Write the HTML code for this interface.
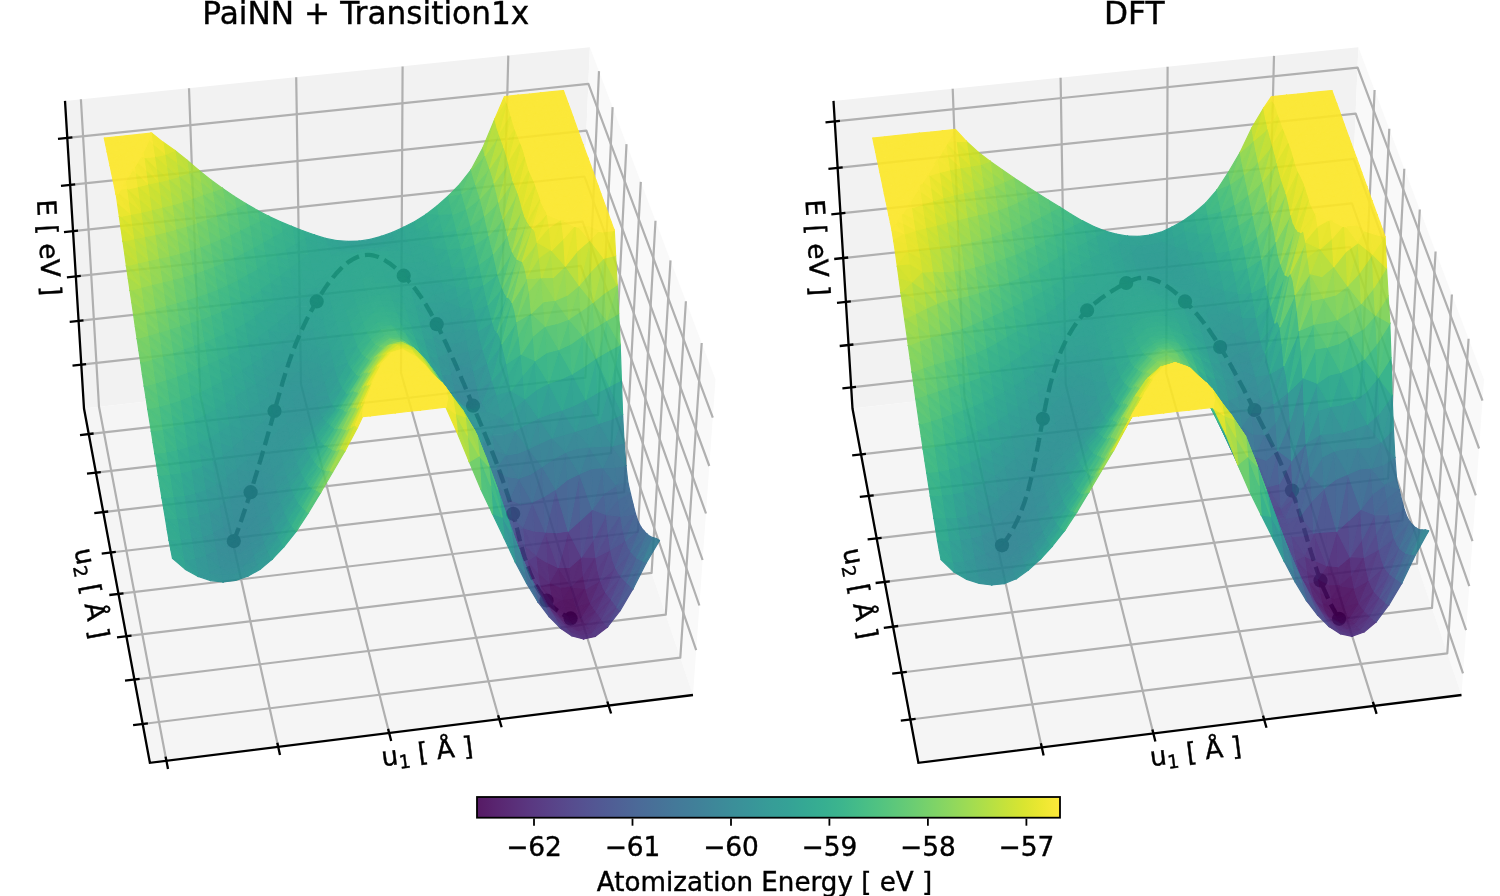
<!DOCTYPE html><html><head><meta charset="utf-8"><title>PES</title><style>html,body{margin:0;padding:0;background:#fff}svg{display:block}text{stroke:#000;stroke-width:.4px}</style></head><body>
<svg width="1500" height="896" viewBox="0 0 1500 896" font-family="DejaVu Sans, Liberation Sans, sans-serif" fill="#000">
<rect width="1500" height="896" fill="#fff"/>
<polygon points="84,408.5 577.1,353 589.9,47.2 65,100.9" fill="#f2f2f2"/>
<polygon points="693,695 577.1,353 589.9,47.2 715.5,379.6" fill="#f9f9f9"/>
<polygon points="149.9,762.8 693,695 577.1,353 84,408.5" fill="#f5f5f5"/>
<g fill="none" stroke="#b0b0b0" stroke-width="2.2" stroke-linejoin="round"><polyline points="166.4,760.7 99,406.8 80.9,99.3"/><polyline points="278.2,746.8 200.3,395.4 189,88.2"/><polyline points="389.2,732.9 301,384.1 296.2,77.3"/><polyline points="499.3,719.2 401,372.8 402.6,66.4"/><polyline points="608.6,705.5 500.3,361.6 508.3,55.6"/><polyline points="701.7,343 680.3,657.6 142.7,724"/><polyline points="685.9,301.2 665.8,614.7 134.5,679.6"/><polyline points="670.5,260.4 651.6,572.9 126.4,636.2"/><polyline points="655.5,220.7 637.8,532 118.5,593.9"/><polyline points="640.8,181.9 624.2,492.1 110.8,552.5"/><polyline points="626.5,144.1 611,453.1 103.3,512.1"/><polyline points="612.6,107.1 598.1,414.9 96,472.6"/><polyline points="599,71.1 585.4,377.7 88.8,434.1"/><polyline points="81.3,364.6 578.9,309.3 696.2,650.2"/><polyline points="78.6,320.9 580.8,265.8 699.4,605.5"/><polyline points="75.9,276.4 582.6,221.6 702.6,560"/><polyline points="73.1,231.1 584.5,176.5 706,513.5"/><polyline points="70.2,184.9 586.4,130.7 709.3,466"/><polyline points="67.3,137.9 588.4,83.9 712.8,417.6"/></g>
<g fill="none" stroke="#000" stroke-width="2.3" stroke-linecap="butt"><polyline points="65,100.9 84,408.5 149.9,762.8 693,695"/><polyline points="168,769 165.6,756.6"/><polyline points="280,755 277.3,742.7"/><polyline points="391.2,741 388.1,728.9"/><polyline points="501.6,727.2 498.1,715.2"/><polyline points="611.1,713.5 607.3,701.5"/><polyline points="133.1,725.2 147.9,723.4"/><polyline points="125,680.7 139.6,678.9"/><polyline points="117,637.3 131.5,635.6"/><polyline points="109.3,595 123.5,593.3"/><polyline points="101.7,553.6 115.8,551.9"/><polyline points="94.3,513.2 108.2,511.5"/><polyline points="87,473.7 100.8,472.1"/><polyline points="80,435.1 93.6,433.5"/><polyline points="72.5,365.6 86.1,364.1"/><polyline points="69.7,321.9 83.5,320.4"/><polyline points="66.9,277.4 80.8,275.9"/><polyline points="64,232.1 78,230.6"/><polyline points="61,185.9 75.2,184.4"/><polyline points="58,138.8 72.4,137.3"/></g>
<text x="365.8" y="24" font-size="31.2" text-anchor="middle">PaiNN + Transition1x</text>
<text transform="translate(49.4,247.7) rotate(86.8)" font-size="26.3" text-anchor="middle" y="9.6">E [ eV ]</text>
<text transform="translate(92.3,593.2) rotate(79.5)" font-size="26.3" text-anchor="middle" y="9.6">u<tspan font-size="18.4" dy="4.5">2</tspan><tspan dy="-4.5"> [ Å ]</tspan></text>
<text transform="translate(427,751) rotate(-7.2)" font-size="26.3" text-anchor="middle" y="9.6">u<tspan font-size="18.4" dy="4.5">1</tspan><tspan dy="-4.5"> [ Å ]</tspan></text>
<polyline points="233.8,541.1 234.7,538.8 235.5,536.5 236.4,534.1 237.2,531.8 238.1,529.5 238.9,527.1 239.7,524.8 240.5,522.4 241.4,520 242.2,517.6 243,515.3 243.8,512.9 244.6,510.5 245.4,508.1 246.2,505.7 247,503.3 247.8,500.9 248.6,498.5 249.4,496.1 250.1,493.7 250.9,491.3 251.7,488.8 252.4,486.4 253.2,484 253.9,481.6 254.7,479.1 255.4,476.7 256.2,474.3 256.9,471.9 257.7,469.4 258.4,467 259.1,464.6 259.8,462.2 260.6,459.7 261.3,457.3 262,454.9 262.7,452.5 263.4,450 264.1,447.6 264.8,445.2 265.5,442.8 266.2,440.4 266.9,438 267.6,435.6 268.3,433.2 268.9,430.8 269.6,428.4 270.3,426 271,423.6 271.6,421.3 272.3,418.9 273,416.5 273.6,414.2 274.3,411.8 274.9,409.5 275.6,407.1 276.2,404.8 276.9,402.5 277.5,400.2 278.2,397.8 278.8,395.5 279.5,393.2 280.1,390.9 280.8,388.6 281.5,386.3 282.1,384 282.8,381.7 283.5,379.4 284.2,377.1 284.9,374.8 285.6,372.5 286.4,370.2 287.1,367.9 287.9,365.6 288.6,363.4 289.4,361.1 290.2,358.8 291,356.5 291.9,354.1 292.7,351.8 293.6,349.5 294.5,347.2 295.4,344.9 296.3,342.6 297.3,340.2 298.3,337.9 299.3,335.5 300.3,333.2 301.4,330.8 302.5,328.5 303.6,326.1 304.7,323.7 305.9,321.3 307.1,318.9 308.3,316.5 309.6,314.1 310.9,311.6 312.2,309.2 313.6,306.7 315,304.3 316.5,301.8 317.9,299.3 319.5,296.8 321,294.3 322.6,291.8 324.2,289.4 325.9,286.9 327.6,284.5 329.3,282.2 331.1,279.8 332.8,277.6 334.7,275.4 336.5,273.2 338.4,271.2 340.3,269.2 342.2,267.3 344.2,265.5 346.1,263.9 348.1,262.3 350.2,260.9 352.2,259.6 354.3,258.5 356.4,257.5 358.5,256.6 360.6,255.9 362.7,255.4 364.9,255.1 367.1,254.9 369.3,254.9 371.5,255.2 373.7,255.6 375.9,256.2 378.2,257 380.4,258 382.6,259.1 384.8,260.3 387,261.7 389.2,263.1 391.4,264.7 393.5,266.3 395.6,268.1 397.6,269.9 399.6,271.7 401.6,273.6 403.5,275.5 405.4,277.4 407.2,279.4 408.9,281.4 410.6,283.3 412.3,285.3 413.9,287.3 415.5,289.3 417,291.4 418.5,293.4 419.9,295.4 421.3,297.5 422.7,299.6 424,301.7 425.4,303.8 426.6,305.9 427.9,308 429.1,310.1 430.4,312.3 431.5,314.4 432.7,316.6 433.9,318.8 435,321 436.2,323.1 437.3,325.3 438.4,327.6 439.5,329.8 440.6,332 441.7,334.2 442.8,336.5 443.9,338.7 444.9,341 446,343.3 447,345.5 448.1,347.8 449.1,350.1 450.2,352.4 451.2,354.7 452.2,357 453.2,359.3 454.3,361.6 455.3,363.9 456.3,366.2 457.3,368.5 458.3,370.8 459.3,373.1 460.3,375.4 461.2,377.8 462.2,380.1 463.2,382.4 464.2,384.7 465.2,387.1 466.2,389.4 467.1,391.7 468.1,394 469.1,396.3 470,398.7 471,401 472,403.3 473,405.6 473.9,407.9 474.9,410.2 475.9,412.5 476.8,414.8 477.8,417.1 478.8,419.4 479.7,421.7 480.7,424 481.7,426.3 482.6,428.6 483.6,430.9 484.5,433.2 485.5,435.5 486.4,437.8 487.4,440.1 488.3,442.4 489.3,444.7 490.2,447 491.1,449.3 492,451.6 493,454 493.9,456.3 494.8,458.6 495.7,460.9 496.6,463.3 497.4,465.6 498.3,467.9 499.2,470.3 500.1,472.6 500.9,475 501.7,477.4 502.6,479.7 503.4,482.1 504.2,484.5 505,486.9 505.8,489.3 506.6,491.7 507.4,494.1 508.2,496.5 508.9,499 509.7,501.4 510.4,503.9 511.1,506.3 511.8,508.8 512.5,511.3 513.2,513.8 513.9,516.3 514.5,518.8 515.2,521.3 515.8,523.8 516.4,526.4 517.1,528.9 517.7,531.4 518.3,534 519,536.5 519.6,539.1 520.3,541.6 520.9,544.1 521.6,546.6 522.3,549.1 523,551.6 523.7,554.1 524.4,556.6 525.2,559 526,561.5 526.8,563.9 527.6,566.3 528.5,568.6 529.4,571 530.3,573.3 531.3,575.6 532.3,577.9 533.3,580.1 534.4,582.3 535.6,584.5 536.7,586.6 538,588.7 539.2,590.8 540.6,592.8 542,594.8 543.4,596.7 544.9,598.6 546.4,600.4 548.1,602.2 549.8,604 551.5,605.7 553.3,607.3 555.2,608.9 557.2,610.5 559.2,611.9 561.3,613.3 563.5,614.7 565.8,616 568.2,617.2 570.6,618.4" fill="none" stroke="#000" stroke-width="4.3" stroke-dasharray="14.1 6.1"/>
<circle cx="233.8" cy="541.1" r="7.1"/>
<circle cx="250.6" cy="492.2" r="7.1"/>
<circle cx="274.5" cy="411" r="7.1"/>
<circle cx="316.7" cy="301.4" r="7.1"/>
<circle cx="403.7" cy="275.7" r="7.1"/>
<circle cx="436.7" cy="324.2" r="7.1"/>
<circle cx="473" cy="405.7" r="7.1"/>
<circle cx="513.2" cy="513.8" r="7.1"/>
<circle cx="546.5" cy="600.5" r="7.1"/>
<circle cx="570.6" cy="618.4" r="7.1"/>
<g transform="scale(0.1)" opacity="0.9" fill="currentColor" stroke="currentColor" stroke-width="12" stroke-linejoin="round">
<path d="M3721 2448l92-85-111 31z" color="#1f998a"/>
<path d="M3945 2393l-20-69-112 39z" color="#1e9b8a"/>
<path d="M3721 2448l-19-54-112 18z" color="#1f988b"/>
<path d="M3945 2393l91-120-111 51z" color="#1e9d89"/>
<path d="M3497 2469l93-57-112 2z" color="#1f988b"/>
<path d="M3833 2424l112-31-132-30z" color="#1e9b8a"/>
<path d="M4169 2302l-21-87-112 58z" color="#1fa187"/>
<path d="M3721 2448l112-24-20-61z" color="#1f9a8a"/>
<path d="M3945 2393l112-40-21-80z" color="#1f9e89"/>
<path d="M3609 2463l112-15-131-36z" color="#1f998a"/>
<path d="M3497 2469l-19-55-112-9z" color="#1f998a"/>
<path d="M4057 2353l112-51-133-29z" color="#1fa088"/>
<path d="M4169 2302l91-158-112 71z" color="#21a585"/>
<path d="M3497 2469l112-6-19-51z" color="#1f998a"/>
<path d="M4169 2302l112-65-21-93z" color="#21a685"/>
<path d="M3385 2466l112 3-131-64z" color="#1f9a8a"/>
<path d="M3273 2452l93-47-112-21z" color="#1e9c89"/>
<path d="M4077 2424l-20-71-112 40z" color="#1f9e89"/>
<path d="M3853 2472l92-79-112 31z" color="#1e9c89"/>
<path d="M3853 2472l-20-48-112 24z" color="#1e9b8a"/>
<path d="M4393 2156l-20-98-113 86z" color="#26ad81"/>
<path d="M4077 2424l92-122-112 51z" color="#1fa088"/>
<path d="M4281 2237l112-81-133-12z" color="#23a983"/>
<path d="M3273 2452l112 14-19-61z" color="#1e9c89"/>
<path d="M3629 2496l92-48-112 15z" color="#1f9a8a"/>
<path d="M3965 2453l112-29-132-31z" color="#1e9d89"/>
<path d="M3273 2452l-19-68-113-36z" color="#1f9f88"/>
<path d="M3629 2496l-20-33-112 6z" color="#1f9a8a"/>
<path d="M3853 2472l112-19-20-60z" color="#1e9c89"/>
<path d="M4301 2324l-20-87-112 65z" color="#20a486"/>
<path d="M4393 2156l93-199-113 101z" color="#2cb17e"/>
<path d="M4077 2424l112-42-20-80z" color="#1fa188"/>
<path d="M3741 2485l112-13-132-24z" color="#1e9b8a"/>
<path d="M4189 2382l112-58-132-22z" color="#1fa287"/>
<path d="M3629 2496l112-11-20-37z" color="#1e9b8a"/>
<path d="M4301 2324l92-168-112 81z" color="#22a884"/>
<path d="M3404 2513l93-44-112-3z" color="#1e9b8a"/>
<path d="M3160 2427l113 25-132-104z" color="#1fa088"/>
<path d="M3516 2507l113-11-132-27z" color="#1e9b8a"/>
<path d="M4393 2156l113-99-20-100z" color="#2db27d"/>
<path d="M3404 2513l-19-47-112-14z" color="#1e9c89"/>
<path d="M3404 2513l112-6-19-38z" color="#1e9c89"/>
<path d="M4210 2459l-21-77-112 42z" color="#1fa088"/>
<path d="M3985 2510l92-86-112 29z" color="#1f9e89"/>
<path d="M4301 2324l113-78-21-90z" color="#24aa83"/>
<path d="M3985 2510l-20-57-112 19z" color="#1e9d89"/>
<path d="M3047 2395l94-47-113-40z" color="#20a486"/>
<path d="M4210 2459l91-135-112 58z" color="#1fa287"/>
<path d="M3047 2395l113 32-19-79z" color="#1fa287"/>
<path d="M4097 2492l113-33-133-35z" color="#1f9f88"/>
<path d="M3761 2518l92-46-112 13z" color="#1e9d89"/>
<path d="M4506 2057l114-122-134 22z" color="#37b878"/>
<path d="M3985 2510l112-18-20-68z" color="#1f9e89"/>
<path d="M4528 2145l-22-88-113 99z" color="#2cb17e"/>
<path d="M4620 1935l-21-94-113 116z" color="#3dbc74"/>
<path d="M3291 2511l113 2-131-61z" color="#1f9e89"/>
<path d="M4414 2246l114-101-135 11z" color="#27ad81"/>
<path d="M3179 2498l94-46-113-25z" color="#1fa088"/>
<path d="M3761 2518l-20-33-112 11z" color="#1e9d89"/>
<path d="M3873 2517l112-7-132-38z" color="#1f9e89"/>
<path d="M4210 2459l112-53-21-82z" color="#20a386"/>
<path d="M3047 2395l-19-87-113-44z" color="#22a785"/>
<path d="M4435 2331l-21-85-113 78z" color="#22a884"/>
<path d="M3179 2498l112 13-18-59z" color="#1f9f88"/>
<path d="M3761 2518l112-1-20-45z" color="#1f9e89"/>
<path d="M3535 2542l94-46-113 11z" color="#1f9e89"/>
<path d="M4322 2406l113-75-134-7z" color="#21a685"/>
<path d="M3179 2498l-19-71-113-32z" color="#1fa187"/>
<path d="M3535 2542l-19-35-112 6z" color="#1f9e89"/>
<path d="M4528 2145l92-210-114 122z" color="#34b679"/>
<path d="M4435 2331l93-186-114 101z" color="#26ad81"/>
<path d="M3648 2525l113-7-132-22z" color="#1f9f88"/>
<path d="M4118 2561l92-102-113 33z" color="#1f9f88"/>
<path d="M4620 1935l93-240-114 146z" color="#4ac16d"/>
<path d="M4118 2561l-21-69-112 18z" color="#1f9e89"/>
<path d="M2933 2358l114 37-132-131z" color="#22a884"/>
<path d="M3535 2542l113-17-19-29z" color="#1f9f88"/>
<path d="M4343 2488l-21-82-112 53z" color="#1fa287"/>
<path d="M3310 2567l94-54-113-2z" color="#1f9e89"/>
<path d="M3065 2477l114 21-132-103z" color="#1fa287"/>
<path d="M4118 2561l112-26-20-76z" color="#1fa088"/>
<path d="M4343 2488l92-157-113 75z" color="#21a585"/>
<path d="M3893 2569l92-59-112 7z" color="#1f9f88"/>
<path d="M3423 2558l112-16-131-29z" color="#1f9f88"/>
<path d="M4230 2535l113-47-133-29z" color="#1fa188"/>
<path d="M3310 2567l-19-56-112-13z" color="#1fa088"/>
<path d="M4006 2571l112-10-133-51z" color="#1f9f88"/>
<path d="M4528 2145l114-130-22-80z" color="#38b977"/>
<path d="M3310 2567l113-9-19-45z" color="#1f9f88"/>
<path d="M4435 2331l114-103-21-83z" color="#29af7f"/>
<path d="M3893 2569l-20-52-112 1z" color="#1fa088"/>
<path d="M2819 2316l96-52-114-48z" color="#27ad81"/>
<path d="M2819 2316l114 42-18-94z" color="#25ab82"/>
<path d="M2952 2448l95-53-114-37z" color="#22a785"/>
<path d="M3893 2569l113 2-21-61z" color="#1f9f88"/>
<path d="M4620 1935l115-159-22-81z" color="#52c569"/>
<path d="M2952 2448l113 29-18-82z" color="#21a585"/>
<path d="M4343 2488l113-73-21-84z" color="#22a785"/>
<path d="M3197 2567l113 0-131-69z" color="#1fa088"/>
<path d="M3668 2565l93-47-113 7z" color="#1fa188"/>
<path d="M3084 2556l95-58-114-21z" color="#1fa287"/>
<path d="M4251 2613l-21-78-112 26z" color="#1f9f88"/>
<path d="M4251 2613l92-125-113 47z" color="#1fa188"/>
<path d="M3668 2565l-20-40-113 17z" color="#1fa188"/>
<path d="M3780 2562l113 7-132-51z" color="#1fa188"/>
<path d="M2819 2316l-18-100-114-54z" color="#2cb17e"/>
<path d="M4549 2228l114-138-135 55z" color="#31b57b"/>
<path d="M2952 2448l-19-90-114-42z" color="#24aa83"/>
<path d="M4570 2310l-21-82-114 103z" color="#28ae80"/>
<path d="M4663 2090l-21-75-114 130z" color="#37b878"/>
<path d="M3084 2556l113 11-18-69z" color="#1fa187"/>
<path d="M4456 2415l114-105-135 21z" color="#25ab82"/>
<path d="M3442 2610l93-68-112 16z" color="#1fa088"/>
<path d="M4026 2639l92-78-112 10z" color="#1f9f88"/>
<path d="M4642 2015l115-172-137 92z" color="#48c16e"/>
<path d="M3668 2565l112-3-19-44z" color="#1fa187"/>
<path d="M3442 2610l-19-52-113 9z" color="#1fa088"/>
<path d="M3084 2556l-19-79-113-29z" color="#20a486"/>
<path d="M4139 2634l112-21-133-52z" color="#1f9f88"/>
<path d="M4757 1843l-22-67-115 159z" color="#52c569"/>
<path d="M4026 2639l-20-68-113-2z" color="#1f9f88"/>
<path d="M4251 2613l113-43-21-82z" color="#1fa188"/>
<path d="M4478 2500l-22-85-113 73z" color="#21a685"/>
<path d="M4026 2639l113-5-21-73z" color="#1f9f88"/>
<path d="M3555 2587l113-22-133-23z" color="#1fa187"/>
<path d="M4364 2570l114-70-135-12z" color="#20a386"/>
<path d="M3442 2610l113-23-20-45z" color="#1fa188"/>
<path d="M2705 2267l114 49-132-154z" color="#2db27d"/>
<path d="M2838 2412l114 36-133-132z" color="#25ab82"/>
<path d="M3216 2636l94-69-113 0z" color="#1fa088"/>
<path d="M4570 2310l93-220-114 138z" color="#2fb47c"/>
<path d="M4735 1776l117-222-139 141z" color="#69cd5b"/>
<path d="M3329 2627l113-17-132-43z" color="#1fa088"/>
<path d="M4478 2500l92-190-114 105z" color="#24aa83"/>
<path d="M2970 2536l114 20-132-108z" color="#21a585"/>
<path d="M3216 2636l-19-69-113-11z" color="#1fa187"/>
<path d="M3913 2633l113 6-133-70z" color="#1fa088"/>
<path d="M3800 2626l93-57-113-7z" color="#1fa187"/>
<path d="M3216 2636l113-9-19-60z" color="#1fa088"/>
<path d="M4663 2090l94-247-115 172z" color="#46c06f"/>
<path d="M4385 2656l-21-86-113 43z" color="#1fa188"/>
<path d="M4159 2711l92-98-112 21z" color="#1f9e89"/>
<path d="M4852 1554l-22-79-117 220z" color="#7ad151"/>
<path d="M2723 2369l115 43-19-96z" color="#27ad81"/>
<path d="M2723 2369l96-53-114-49z" color="#2ab07f"/>
<path d="M3800 2626l-20-64-112 3z" color="#1fa287"/>
<path d="M3800 2626l113 7-20-64z" color="#1fa188"/>
<path d="M2856 2507l96-59-114-36z" color="#23a983"/>
<path d="M4159 2711l-20-77-113 5z" color="#1f9e89"/>
<path d="M2590 2211l115 56-18-105z" color="#32b67a"/>
<path d="M4385 2656l93-156-114 70z" color="#1fa287"/>
<path d="M2856 2507l114 29-18-88z" color="#22a785"/>
<path d="M2590 2211l97-49-115-60z" color="#37b878"/>
<path d="M4272 2694l113-38-134-43z" color="#1f9f88"/>
<path d="M4159 2711l113-17-21-81z" color="#1f9e89"/>
<path d="M3102 2635l114 1-132-80z" color="#1fa187"/>
<path d="M4478 2500l114-103-22-87z" color="#26ad81"/>
<path d="M3574 2647l94-82-113 22z" color="#1fa287"/>
<path d="M4570 2310l115-142-22-78z" color="#35b779"/>
<path d="M3574 2647l-19-60-113 23z" color="#1fa187"/>
<path d="M2989 2624l95-68-114-20z" color="#20a386"/>
<path d="M4757 1843l95-289-117 222z" color="#69cd5b"/>
<path d="M3348 2694l94-84-113 17z" color="#1fa188"/>
<path d="M3687 2629l113-3-132-61z" color="#1fa287"/>
<path d="M2989 2624l113 11-18-79z" color="#1fa287"/>
<path d="M4047 2712l112-1-133-72z" color="#1f9e89"/>
<path d="M3934 2704l92-65-113-6z" color="#1fa088"/>
<path d="M4385 2656l114-67-21-89z" color="#20a486"/>
<path d="M2856 2507l-18-95-115-43z" color="#25ac82"/>
<path d="M2723 2369l-18-102-115-56z" color="#2fb47c"/>
<path d="M3348 2694l-19-67-113 9z" color="#1fa188"/>
<path d="M3574 2647l113-18-19-64z" color="#1fa287"/>
<path d="M4663 2090l116-180-22-67z" color="#50c46a"/>
<path d="M2989 2624l-19-88-114-29z" color="#21a685"/>
<path d="M3934 2704l113 8-21-73z" color="#1f9f88"/>
<path d="M3461 2671l113-24-132-37z" color="#1fa187"/>
<path d="M3934 2704l-21-71-113-7z" color="#1fa188"/>
<path d="M2590 2211l-18-109-116-67z" color="#3fbc73"/>
<path d="M3348 2694l113-23-19-61z" color="#1fa188"/>
<path d="M4613 2488l-21-91-114 103z" color="#25ac82"/>
<path d="M4293 2778l92-122-113 38z" color="#1f9e89"/>
<path d="M4293 2778l-21-84-113 17z" color="#1f9e89"/>
<path d="M4592 2397l115-144-137 57z" color="#2eb37c"/>
<path d="M4499 2589l114-101-135 12z" color="#22a884"/>
<path d="M3121 2717l95-81-114-1z" color="#1fa188"/>
<path d="M4707 2253l-22-85-115 142z" color="#34b679"/>
<path d="M3235 2710l113-16-132-58z" color="#1fa188"/>
<path d="M2742 2470l114 37-133-138z" color="#26ad81"/>
<path d="M2608 2317l115 52-133-158z" color="#31b57b"/>
<path d="M4520 2682l-21-93-114 67z" color="#1fa287"/>
<path d="M3121 2717l114-7-19-74z" color="#1fa188"/>
<path d="M3121 2717l-19-82-113-11z" color="#1fa187"/>
<path d="M4293 2778l113-34-21-88z" color="#1f9f88"/>
<path d="M4067 2786l92-75-112 1z" color="#1f9e89"/>
<path d="M2875 2602l114 22-133-117z" color="#21a685"/>
<path d="M4685 2168l117-185-139 107z" color="#44bf70"/>
<path d="M3707 2700l93-74-113 3z" color="#1fa287"/>
<path d="M4180 2789l113-11-134-67z" color="#1e9d89"/>
<path d="M3820 2697l114 7-134-78z" color="#1fa187"/>
<path d="M4406 2744l114-62-135-26z" color="#1fa188"/>
<path d="M2475 2147l115 64-134-176z" color="#40bd72"/>
<path d="M4757 1843l117-224-22-65z" color="#77d153"/>
<path d="M3707 2700l-20-71-113 18z" color="#1fa287"/>
<path d="M4802 1983l-23-73-116 180z" color="#50c46a"/>
<path d="M4067 2786l113 3-21-78z" color="#1f9e89"/>
<path d="M4067 2786l-20-74-113-8z" color="#1f9f88"/>
<path d="M4852 1554l97-364-119 285z" color="#a0da39"/>
<path d="M4613 2488l94-235-115 144z" color="#2cb17e"/>
<path d="M4520 2682l93-194-114 101z" color="#22a785"/>
<path d="M3707 2700l113-3-20-71z" color="#1fa287"/>
<path d="M3480 2739l94-92-113 24z" color="#1fa187"/>
<path d="M2627 2423l115 47-19-101z" color="#29af7f"/>
<path d="M2760 2570l96-63-114-37z" color="#25ab82"/>
<path d="M2627 2423l96-54-115-52z" color="#2db27d"/>
<path d="M3480 2739l-19-68-113 23z" color="#1fa187"/>
<path d="M3007 2712l114 5-132-93z" color="#1fa287"/>
<path d="M2760 2570l115 32-19-95z" color="#23a983"/>
<path d="M2493 2258l115 59-18-106z" color="#37b878"/>
<path d="M3254 2788l94-94-113 16z" color="#1fa088"/>
<path d="M2493 2258l97-47-115-64z" color="#3bbb75"/>
<path d="M2893 2696l96-72-114-22z" color="#21a585"/>
<path d="M4427 2835l-21-91-113 34z" color="#1f9e89"/>
<path d="M3594 2715l113-15-133-53z" color="#1fa287"/>
<path d="M3254 2788l-19-78-114 7z" color="#1fa088"/>
<path d="M4779 1910l118-228-140 161z" color="#69cd5b"/>
<path d="M4707 2253l95-270-117 185z" color="#44bf70"/>
<path d="M3480 2739l114-24-20-68z" color="#1fa287"/>
<path d="M2893 2696l114 16-18-88z" color="#20a386"/>
<path d="M4427 2835l93-153-114 62z" color="#1fa088"/>
<path d="M4201 2867l92-89-113 11z" color="#1e9d89"/>
<path d="M3954 2776l113 10-133-82z" color="#1fa088"/>
<path d="M3367 2765l113-26-132-45z" color="#1fa188"/>
<path d="M3841 2767l93-63-114-7z" color="#1fa187"/>
<path d="M2358 2077l117 70-19-112z" color="#4ac16d"/>
<path d="M4520 2682l114-99-21-95z" color="#23a983"/>
<path d="M3254 2788l113-23-19-71z" color="#1fa088"/>
<path d="M2760 2570l-18-100-115-47z" color="#27ad81"/>
<path d="M4314 2862l113-27-134-57z" color="#1e9c89"/>
<path d="M4201 2867l-21-78-113-3z" color="#1e9d89"/>
<path d="M4897 1682l-23-63-117 224z" color="#77d153"/>
<path d="M2358 2077l98-42-116-73z" color="#52c569"/>
<path d="M4613 2488l116-142-22-93z" color="#31b57b"/>
<path d="M2627 2423l-19-106-115-59z" color="#34b679"/>
<path d="M2893 2696l-18-94-115-32z" color="#22a785"/>
<path d="M4201 2867l113-5-21-84z" color="#1e9c89"/>
<path d="M3026 2803l95-86-114-5z" color="#1fa188"/>
<path d="M3841 2767l113 9-20-72z" color="#1fa188"/>
<path d="M3841 2767l-21-70-113 3z" color="#1fa287"/>
<path d="M3140 2801l114-13-133-71z" color="#1fa088"/>
<path d="M4427 2835l114-58-21-95z" color="#1fa188"/>
<path d="M3026 2803l114-2-19-84z" color="#1fa088"/>
<path d="M2493 2258l-18-111-117-70z" color="#44bf70"/>
<path d="M3026 2803l-19-91-114-16z" color="#1fa287"/>
<path d="M3613 2785l94-85-113 15z" color="#1fa287"/>
<path d="M4656 2682l-22-99-114 99z" color="#22a785"/>
<path d="M4802 1983l95-301-118 228z" color="#69cd5b"/>
<path d="M2645 2528l115 42-133-147z" color="#28ae80"/>
<path d="M4541 2777l115-95-136 0z" color="#20a486"/>
<path d="M4634 2583l116-140-137 45z" color="#28ae80"/>
<path d="M4088 2857l113 10-134-81z" color="#1f9e89"/>
<path d="M3613 2785l-19-70-114 24z" color="#1fa287"/>
<path d="M4852 1554l119-275-22-89z" color="#b2dd2d"/>
<path d="M2779 2669l114 27-133-126z" color="#22a884"/>
<path d="M3386 2839l94-100-113 26z" color="#1fa188"/>
<path d="M3974 2843l93-57-113-10z" color="#1fa088"/>
<path d="M3727 2770l114-3-134-67z" color="#1fa287"/>
<path d="M2511 2368l116 55-134-165z" color="#34b679"/>
<path d="M4707 2253l117-188-22-82z" color="#4ec36b"/>
<path d="M4750 2443l-21-97-116 142z" color="#2eb37c"/>
<path d="M4335 2949l92-114-113 27z" color="#1e9b8a"/>
<path d="M3386 2839l-19-74-113 23z" color="#1fa088"/>
<path d="M4335 2949l-21-87-113 5z" color="#1e9b8a"/>
<path d="M4874 1619l120-270-142 205z" color="#9dd93b"/>
<path d="M4563 2876l-22-99-114 58z" color="#1f9f88"/>
<path d="M3613 2785l114-15-20-70z" color="#1fa287"/>
<path d="M2358 2077l-18-115-117-80z" color="#5cc863"/>
<path d="M3159 2887l95-99-114 13z" color="#1f9f88"/>
<path d="M3974 2843l114 14-21-71z" color="#1f9f88"/>
<path d="M2912 2792l114 11-133-107z" color="#1fa287"/>
<path d="M3974 2843l-20-67-113-9z" color="#1fa188"/>
<path d="M4335 2949l114-21-22-93z" color="#1e9b8a"/>
<path d="M2377 2192l116 66-135-181z" color="#46c06f"/>
<path d="M3500 2810l113-25-133-46z" color="#1fa187"/>
<path d="M4449 2928l114-52-136-41z" color="#1e9d89"/>
<path d="M3386 2839l114-29-20-71z" color="#1fa188"/>
<path d="M3159 2887l-19-86-114 2z" color="#1fa088"/>
<path d="M4729 2346l116-189-138 96z" color="#3fbc73"/>
<path d="M2663 2632l97-62-115-42z" color="#26ad81"/>
<path d="M2663 2632l116 37-19-99z" color="#24aa83"/>
<path d="M3273 2867l113-28-132-51z" color="#1fa088"/>
<path d="M2529 2477l116 51-18-105z" color="#2db27d"/>
<path d="M4563 2876l93-194-115 95z" color="#1fa287"/>
<path d="M3159 2887l114-20-19-79z" color="#1f9f88"/>
<path d="M4656 2682l94-239-116 140z" color="#27ad81"/>
<path d="M2529 2477l98-54-116-55z" color="#31b57b"/>
<path d="M2797 2769l96-73-114-27z" color="#21a685"/>
<path d="M4222 2946l113 3-134-82z" color="#1e9b8a"/>
<path d="M2797 2769l115 23-19-96z" color="#20a486"/>
<path d="M4994 1349l-23-70-119 275z" color="#b0dd2f"/>
<path d="M4845 2157l-21-92-117 188z" color="#4ac16d"/>
<path d="M2395 2305l116 63-18-110z" color="#3bbb75"/>
<path d="M4109 2928l92-61-113-10z" color="#1f9e89"/>
<path d="M2395 2305l98-47-116-66z" color="#42be71"/>
<path d="M3045 2894l114-7-133-84z" color="#1f9f88"/>
<path d="M2242 2001l116 76-135-195z" color="#60ca60"/>
<path d="M3747 2835l94-68-114 3z" color="#1fa287"/>
<path d="M3861 2832l113 11-133-76z" color="#1fa187"/>
<path d="M2930 2887l96-84-114-11z" color="#1fa188"/>
<path d="M4109 2928l113 18-21-79z" color="#1e9d89"/>
<path d="M4470 3025l-21-97-114 21z" color="#1f9a8a"/>
<path d="M4897 1682l97-333-120 270z" color="#9dd93b"/>
<path d="M4470 3025l93-149-114 52z" color="#1e9b8a"/>
<path d="M4802 1983l118-233-23-68z" color="#77d153"/>
<path d="M3747 2835l-20-65-114 15z" color="#20a386"/>
<path d="M2663 2632l-18-104-116-51z" color="#2ab07f"/>
<path d="M2797 2769l-18-100-116-37z" color="#23a983"/>
<path d="M4563 2876l114-93-21-101z" color="#20a486"/>
<path d="M4750 2443l95-286-116 189z" color="#3dbc74"/>
<path d="M4109 2928l-21-71-114-14z" color="#1f9f88"/>
<path d="M2930 2887l115 7-19-91z" color="#1fa088"/>
<path d="M2260 2118l117 74-19-115z" color="#50c46a"/>
<path d="M3747 2835l114-3-20-65z" color="#1fa287"/>
<path d="M3519 2879l94-94-113 25z" color="#1fa187"/>
<path d="M3519 2879l-19-69-114 29z" color="#1fa188"/>
<path d="M3292 2946l94-107-113 28z" color="#1f9f88"/>
<path d="M2529 2477l-18-109-116-63z" color="#37b878"/>
<path d="M4656 2682l116-140-22-99z" color="#2ab07f"/>
<path d="M3292 2946l-19-79-114 20z" color="#1f9e89"/>
<path d="M2930 2887l-18-95-115-23z" color="#1fa287"/>
<path d="M2260 2118l98-41-116-76z" color="#5ac864"/>
<path d="M4356 3038l114-13-135-76z" color="#1f998a"/>
<path d="M4243 3026l92-77-113-3z" color="#1e9b8a"/>
<path d="M4470 3025l114-47-21-102z" color="#1e9b8a"/>
<path d="M4824 2065l118-237-140 155z" color="#67cc5c"/>
<path d="M3064 2984l95-97-114 7z" color="#1f9e89"/>
<path d="M3633 2851l114-16-134-50z" color="#20a386"/>
<path d="M3519 2879l114-28-20-66z" color="#1fa287"/>
<path d="M4243 3026l113 12-21-89z" color="#1f9a8a"/>
<path d="M2682 2735l115 34-134-137z" color="#23a983"/>
<path d="M2395 2305l-18-113-117-74z" color="#4cc26c"/>
<path d="M3292 2946l113-34-19-73z" color="#1fa088"/>
<path d="M2548 2585l115 47-134-155z" color="#2ab07f"/>
<path d="M3405 2912l114-33-133-40z" color="#1fa188"/>
<path d="M4699 2886l-22-103-114 93z" color="#1fa287"/>
<path d="M3178 2973l114-27-133-59z" color="#1f9e89"/>
<path d="M3995 2907l114 21-135-85z" color="#1fa088"/>
<path d="M4584 2978l115-92-136-10z" color="#1f9f88"/>
<path d="M2124 1918l118 83-19-119z" color="#6ccd5a"/>
<path d="M4243 3026l-21-80-113-18z" color="#1e9c89"/>
<path d="M4677 2783l117-142-138 41z" color="#24aa83"/>
<path d="M3064 2984l-19-90-115-7z" color="#1f9f88"/>
<path d="M3064 2984l114-11-19-86z" color="#1e9d89"/>
<path d="M3881 2893l93-50-113-11z" color="#1fa287"/>
<path d="M2816 2868l114 19-133-118z" color="#1fa287"/>
<path d="M4942 1828l-22-78-118 233z" color="#77d153"/>
<path d="M2413 2417l116 60-134-172z" color="#38b977"/>
<path d="M5545 983l89-78-113 11z" color="#fde725"/>
<path d="M4794 2641l-22-99-116 140z" color="#28ae80"/>
<path d="M2124 1918l99-36-117-85z" color="#77d153"/>
<path d="M4750 2443l117-187-22-99z" color="#44bf70"/>
<path d="M4605 3082l-21-104-114 47z" color="#1f998a"/>
<path d="M5545 983l-24-67-114 12z" color="#fde725"/>
<path d="M5045 966l-96 224 117-170z" color="#efe51c"/>
<path d="M4377 3130l93-105-114 13z" color="#1f988b"/>
<path d="M3881 2893l-20-61-114 3z" color="#20a386"/>
<path d="M3881 2893l114 14-21-64z" color="#1fa187"/>
<path d="M4845 2157l97-329-118 237z" color="#65cb5e"/>
<path d="M4971 1279l101-247-6-12-117 170z" color="#e5e419"/>
<path d="M2566 2692l116 43-19-103z" color="#25ac82"/>
<path d="M2260 2118l-18-117-118-83z" color="#65cb5e"/>
<path d="M2566 2692l97-60-115-47z" color="#28ae80"/>
<path d="M2700 2838l97-69-115-34z" color="#22a785"/>
<path d="M5545 983l113-12-24-66z" color="#fde725"/>
<path d="M4491 3124l114-42-135-57z" color="#1f978b"/>
<path d="M2949 2980l115 4-134-97z" color="#1f9f88"/>
<path d="M2700 2838l116 30-19-99z" color="#21a585"/>
<path d="M2278 2234l117 71-135-187z" color="#4ec36b"/>
<path d="M2432 2529l116 56-19-108z" color="#2fb47c"/>
<path d="M4605 3082l94-196-115 92z" color="#1e9d89"/>
<path d="M4377 3130l114-6-21-99z" color="#1f978b"/>
<path d="M4772 2542l117-188-139 89z" color="#37b878"/>
<path d="M4377 3130l-21-92-113-12z" color="#1f988b"/>
<path d="M5318 1007l89-79-113 12z" color="#fde725"/>
<path d="M4699 2886l95-245-117 142z" color="#22a884"/>
<path d="M4129 3000l114 26-134-98z" color="#1e9d89"/>
<path d="M2432 2529l97-52-116-60z" color="#35b779"/>
<path d="M4897 1682l120-272-23-61z" color="#b2dd2d"/>
<path d="M3653 2914l94-79-114 16z" color="#20a386"/>
<path d="M2834 2965l96-78-114-19z" color="#1fa187"/>
<path d="M3197 3051l95-105-114 27z" color="#1e9d89"/>
<path d="M5318 1007l-24-67-113 12z" color="#fde725"/>
<path d="M3425 2981l-20-69-113 34z" color="#1fa088"/>
<path d="M3425 2981l94-102-114 33z" color="#1fa188"/>
<path d="M3653 2914l-20-63-114 28z" color="#1fa287"/>
<path d="M5431 995l114-12-138-55z" color="#fde725"/>
<path d="M3197 3051l-19-78-114 11z" color="#1e9d89"/>
<path d="M2834 2965l115 15-19-93z" color="#1fa088"/>
<path d="M4016 2971l93-43-114-21z" color="#1fa188"/>
<path d="M4889 2354l-22-98-117 187z" color="#40bd72"/>
<path d="M2296 2350l117 67-18-112z" color="#40bd72"/>
<path d="M5318 1007l113-12-24-67z" color="#fde725"/>
<path d="M3767 2895l114-2-134-58z" color="#20a386"/>
<path d="M2296 2350l99-45-117-71z" color="#48c16e"/>
<path d="M2700 2838l-18-103-116-43z" color="#24aa83"/>
<path d="M5091 1030l90-78-113 11z" color="#fde725"/>
<path d="M4920 1750l120-277-143 209z" color="#9dd93b"/>
<path d="M4994 1349l82-306-4-11-101 247z" color="#e2e418"/>
<path d="M4016 2971l113 29-20-72z" color="#1fa088"/>
<path d="M4605 3082l115-89-21-107z" color="#1f9e89"/>
<path d="M3653 2914l114-19-20-60z" color="#20a386"/>
<path d="M3197 3051l114-31-19-74z" color="#1e9d89"/>
<path d="M2566 2692l-18-107-116-56z" color="#2db27d"/>
<path d="M2142 2037l118 81-136-200z" color="#69cd5b"/>
<path d="M4512 3227l93-145-114 42z" color="#1f968b"/>
<path d="M4264 3110l113 20-134-104z" color="#1f998a"/>
<path d="M3311 3020l114-39-133-35z" color="#1f9f88"/>
<path d="M2124 1918l-18-121-119-94z" color="#86d549"/>
<path d="M2834 2965l-18-97-116-30z" color="#20a386"/>
<path d="M4512 3227l-21-103-114 6z" color="#1f958b"/>
<path d="M4794 2641l95-287-117 188z" color="#34b679"/>
<path d="M2968 3070l96-86-115-4z" color="#1e9d89"/>
<path d="M3425 2981l114-37-20-65z" color="#1fa187"/>
<path d="M5204 1018l114-11-137-55z" color="#fde725"/>
<path d="M3539 2944l114-30-134-35z" color="#1fa287"/>
<path d="M4016 2971l-21-64-114-14z" color="#1fa287"/>
<path d="M3082 3068l115-17-133-67z" color="#1e9c89"/>
<path d="M5091 1030l-23-67-23 3 21 54z" color="#fde725"/>
<path d="M5682 1038l-24-67-113 12z" color="#fde725"/>
<path d="M4699 2886l116-143-21-102z" color="#25ab82"/>
<path d="M2160 2157l118 77-18-116z" color="#58c765"/>
<path d="M5091 1030l113-12-23-66z" color="#fde725"/>
<path d="M2432 2529l-19-112-117-67z" color="#3dbc74"/>
<path d="M4150 3076l93-50-114-26z" color="#1e9d89"/>
<path d="M4512 3227l115-38-22-107z" color="#1f958b"/>
<path d="M2968 3070l114-2-18-84z" color="#1e9c89"/>
<path d="M2968 3070l-19-90-115-15z" color="#1f9f88"/>
<path d="M4845 2157l119-239-22-90z" color="#73d056"/>
<path d="M5040 1473l-23-63-120 272z" color="#b2dd2d"/>
<path d="M2160 2157l100-39-118-81z" color="#63cb5f"/>
<path d="M4150 3076l114 34-21-84z" color="#1e9b8a"/>
<path d="M4399 3225l113 2-135-97z" color="#1f948c"/>
<path d="M2585 2798l115 40-134-146z" color="#25ab82"/>
<path d="M5455 1062l90-79-114 12z" color="#fde725"/>
<path d="M4742 3100l-22-107-115 89z" color="#1e9c89"/>
<path d="M4867 2256l120-239-142 140z" color="#5ec962"/>
<path d="M4627 3189l115-89-137-18z" color="#1f998a"/>
<path d="M2719 2939l115 26-134-127z" color="#20a386"/>
<path d="M2450 2639l116 53-134-163z" color="#2eb37c"/>
<path d="M4720 2993l117-145-138 38z" color="#20a486"/>
<path d="M5455 1062l-24-67-113 12z" color="#fde725"/>
<path d="M5569 1050l113-12-137-55z" color="#fde725"/>
<path d="M2006 1826l118 92-137-215z" color="#8bd646"/>
<path d="M4942 1828l98-355-120 277z" color="#9dd93b"/>
<path d="M2296 2350l-18-116-118-77z" color="#52c569"/>
<path d="M4285 3197l92-67-113-20z" color="#1f988b"/>
<path d="M3787 2953l94-60-114 2z" color="#20a486"/>
<path d="M5072 1032l19-2-25-10z" color="#fde725"/>
<path d="M4150 3076l-21-76-113-29z" color="#1f9f88"/>
<path d="M3902 2951l114 20-135-78z" color="#20a386"/>
<path d="M4837 2848l-22-105-116 143z" color="#23a983"/>
<path d="M3330 3088l-19-68-114 31z" color="#1e9d89"/>
<path d="M5455 1062l114-12-24-67z" color="#fde725"/>
<path d="M4285 3197l114 28-22-95z" color="#1f968b"/>
<path d="M3330 3088l95-107-114 39z" color="#1f9f88"/>
<path d="M4648 3298l-21-109-115 38z" color="#20938c"/>
<path d="M2024 1950l118 87-18-119z" color="#77d153"/>
<path d="M2315 2465l117 64-136-179z" color="#3fbc73"/>
<path d="M3101 3147l96-96-115 17z" color="#1e9c89"/>
<path d="M2853 3060l115 10-134-105z" color="#1f9f88"/>
<path d="M5076 1043l15-13-19 2z" color="#fde725"/>
<path d="M3787 2953l-20-58-114 19z" color="#20a486"/>
<path d="M4994 1349l100-250-18-56z" color="#ece51b"/>
<path d="M5228 1086l90-79-114 11z" color="#fde725"/>
<path d="M3559 3006l-20-62-114 37z" color="#1fa187"/>
<path d="M3559 3006l94-92-114 30z" color="#20a386"/>
<path d="M4794 2641l117-196-22-91z" color="#3bbb75"/>
<path d="M2603 2903l97-65-115-40z" color="#23a983"/>
<path d="M4987 2017l-23-99-119 239z" color="#70cf57"/>
<path d="M2603 2903l116 36-19-101z" color="#21a685"/>
<path d="M3101 3147l-19-79-114 2z" color="#1e9c89"/>
<path d="M2468 2748l117 50-19-106z" color="#27ad81"/>
<path d="M5228 1086l-24-68-113 12z" color="#fde725"/>
<path d="M3787 2953l115-2-21-58z" color="#20a486"/>
<path d="M4420 3326l92-99-113-2z" color="#20938c"/>
<path d="M4534 3334l114-36-136-71z" color="#20928c"/>
<path d="M4648 3298l94-198-115 89z" color="#1f968b"/>
<path d="M2468 2748l98-56-116-53z" color="#2cb17e"/>
<path d="M2024 1950l100-32-118-92z" color="#81d34d"/>
<path d="M5341 1074l114-12-137-55z" color="#fde725"/>
<path d="M4889 2354l98-337-120 239z" color="#5ac864"/>
<path d="M2737 3038l97-73-115-26z" color="#1fa287"/>
<path d="M4285 3197l-21-87-114-34z" color="#1f9a8a"/>
<path d="M4742 3100l95-252-117 145z" color="#1fa287"/>
<path d="M3216 3124l114-36-133-37z" color="#1e9d89"/>
<path d="M3101 3147l115-23-19-73z" color="#1e9c89"/>
<path d="M4420 3326l114 8-22-107z" color="#20928c"/>
<path d="M2333 2578l117 61-18-110z" color="#34b679"/>
<path d="M2737 3038l116 22-19-95z" color="#1fa188"/>
<path d="M5228 1086l113-12-23-67z" color="#fde725"/>
<path d="M3330 3088l114-42-19-65z" color="#1fa088"/>
<path d="M2160 2157l-18-120-118-87z" color="#6ece58"/>
<path d="M4815 2743l119-206-140 104z" color="#2fb47c"/>
<path d="M2179 2276l117 74-136-193z" color="#56c667"/>
<path d="M2333 2578l99-49-117-64z" color="#3aba76"/>
<path d="M3444 3046l115-40-134-25z" color="#1fa187"/>
<path d="M3673 2973l114-20-134-39z" color="#20a486"/>
<path d="M4036 3040l114 36-134-105z" color="#1fa188"/>
<path d="M3559 3006l114-33-20-59z" color="#20a386"/>
<path d="M4420 3326l-21-101-114-28z" color="#1f958b"/>
<path d="M5094 1099l20-2-23-67-15 13z" color="#fde725"/>
<path d="M5593 1117l89-79-113 12z" color="#fde725"/>
<path d="M2986 3157l115-10-133-77z" color="#1e9c89"/>
<path d="M2871 3153l97-83-115-10z" color="#1f9e89"/>
<path d="M5114 1097l114-11-137-56z" color="#fde725"/>
<path d="M5094 1099l-100 250 115-195z" color="#ece51b"/>
<path d="M4648 3298l116-93-22-105z" color="#1f988b"/>
<path d="M2603 2903l-18-105-117-50z" color="#25ac82"/>
<path d="M2197 2393l118 72-19-115z" color="#48c16e"/>
<path d="M2737 3038l-18-99-116-36z" color="#20a486"/>
<path d="M4555 3442l93-144-114 36z" color="#21908d"/>
<path d="M1886 1729l120 97-19-123z" color="#9bd93c"/>
<path d="M5593 1117l-24-67-114 12z" color="#fde725"/>
<path d="M4934 2537l-23-92-117 196z" color="#3aba76"/>
<path d="M3922 3015l94-44-114-20z" color="#20a386"/>
<path d="M5017 1410l97-243-5-13-115 195z" color="#e2e418"/>
<path d="M2871 3153l115 4-18-87z" color="#1e9c89"/>
<path d="M2468 2748l-18-109-117-61z" color="#31b57b"/>
<path d="M4555 3442l-21-108-114-8z" color="#21908d"/>
<path d="M2197 2393l99-43-117-74z" color="#50c46a"/>
<path d="M4171 3154l114 43-135-121z" color="#1e9c89"/>
<path d="M5593 1117l114-12-25-67z" color="#fde725"/>
<path d="M4837 2848l97-311-119 206z" color="#2db27d"/>
<path d="M3922 3015l114 25-20-69z" color="#1fa287"/>
<path d="M4742 3100l117-148-22-104z" color="#21a585"/>
<path d="M2871 3153l-18-93-116-22z" color="#1f9f88"/>
<path d="M4555 3442l114-35-21-109z" color="#21908d"/>
<path d="M5365 1141l90-79-114 12z" color="#fde725"/>
<path d="M1886 1729l101-26-119-103z" color="#a8db34"/>
<path d="M2042 2073l118 84-136-207z" color="#73d056"/>
<path d="M3922 3015l-20-64-115 2z" color="#21a585"/>
<path d="M4306 3287l114 39-135-129z" color="#1f958b"/>
<path d="M4942 1828l121-284-23-71z" color="#b2dd2d"/>
<path d="M3235 3196l95-108-114 36z" color="#1e9d89"/>
<path d="M3235 3196l-19-72-115 23z" color="#1e9c89"/>
<path d="M2024 1950l-18-124-120-97z" color="#93d741"/>
<path d="M5365 1141l-24-67-113 12z" color="#fde725"/>
<path d="M2333 2578l-18-113-118-72z" color="#42be71"/>
<path d="M5479 1129l114-12-138-55z" color="#fde725"/>
<path d="M4964 1918l122-289-144 199z" color="#98d83e"/>
<path d="M2060 2195l119 81-19-119z" color="#60ca60"/>
<path d="M4785 3308l-21-103-116 93z" color="#1f968b"/>
<path d="M3464 3109l-20-63-114 42z" color="#1fa088"/>
<path d="M2487 2856l116 47-135-155z" color="#26ad81"/>
<path d="M2621 3006l116 32-134-135z" color="#21a585"/>
<path d="M4669 3407l116-99-137-10z" color="#20928c"/>
<path d="M4441 3429l114 13-135-116z" color="#21908d"/>
<path d="M3005 3242l96-95-115 10z" color="#1e9b8a"/>
<path d="M4889 2354l120-242-22-95z" color="#67cc5c"/>
<path d="M4057 3109l93-33-114-36z" color="#1fa188"/>
<path d="M3464 3109l95-103-115 40z" color="#1fa187"/>
<path d="M5365 1141l114-12-24-67z" color="#fde725"/>
<path d="M3693 3030l94-77-114 20z" color="#21a585"/>
<path d="M4764 3205l117-158-139 53z" color="#1f9f88"/>
<path d="M3693 3030l-20-57-114 33z" color="#20a486"/>
<path d="M5137 1165l91-79-114 11z" color="#fde725"/>
<path d="M2060 2195l100-38-118-84z" color="#6ccd5a"/>
<path d="M2351 2690l117 58-135-170z" color="#32b67a"/>
<path d="M4057 3109l114 45-21-78z" color="#1f9f88"/>
<path d="M2756 3136l115 17-134-115z" color="#1fa088"/>
<path d="M3005 3242l-19-85-115-4z" color="#1e9b8a"/>
<path d="M3120 3226l115-30-134-49z" color="#1e9b8a"/>
<path d="M4691 3513l-22-106-114 35z" color="#228d8d"/>
<path d="M4911 2445l121-257-143 166z" color="#54c568"/>
<path d="M3235 3196l114-41-19-67z" color="#1f9e89"/>
<path d="M5040 1473l78-292-4-14-97 243z" color="#e5e419"/>
<path d="M4881 3047l-22-95-117 148z" color="#20a386"/>
<path d="M3005 3242l115-16-19-79z" color="#1e9b8a"/>
<path d="M3808 3012l114 3-135-62z" color="#21a585"/>
<path d="M5251 1153l114-12-137-55z" color="#fde725"/>
<path d="M4192 3233l93-36-114-43z" color="#1e9b8a"/>
<path d="M3349 3155l115-46-134-21z" color="#1fa088"/>
<path d="M5137 1165l-23-68-20 2 15 55z" color="#fde725"/>
<path d="M4192 3233l114 54-21-90z" color="#1f998a"/>
<path d="M2197 2393l-18-117-119-81z" color="#5ac864"/>
<path d="M5731 1173l-24-68-114 12z" color="#fde725"/>
<path d="M4327 3381l93-55-114-39z" color="#1f948c"/>
<path d="M4327 3381l114 48-21-103z" color="#20928c"/>
<path d="M5137 1165l114-12-23-67z" color="#fde725"/>
<path d="M2505 2963l116 43-18-103z" color="#22a884"/>
<path d="M1905 1858l119 92-138-221z" color="#95d840"/>
<path d="M4576 3551l115-38-136-71z" color="#228c8d"/>
<path d="M4057 3109l-21-69-114-25z" color="#20a386"/>
<path d="M2505 2963l98-60-116-47z" color="#25ab82"/>
<path d="M3693 3030l115-18-21-59z" color="#21a685"/>
<path d="M2215 2509l118 69-136-185z" color="#44bf70"/>
<path d="M3464 3109l114-44-19-59z" color="#1fa287"/>
<path d="M4691 3513l94-205-116 99z" color="#21918c"/>
<path d="M5086 1629l-23-85-121 284z" color="#b0dd2f"/>
<path d="M2640 3108l97-70-116-32z" color="#20a386"/>
<path d="M4987 2017l99-388-122 289z" color="#95d840"/>
<path d="M4462 3533l93-91-114-13z" color="#218e8d"/>
<path d="M3578 3065l115-35-134-24z" color="#20a486"/>
<path d="M2369 2801l118 55-19-108z" color="#2ab07f"/>
<path d="M2640 3108l116 28-19-98z" color="#1fa187"/>
<path d="M4837 2848l119-210-22-101z" color="#34b679"/>
<path d="M1923 1985l119 88-18-123z" color="#81d34d"/>
<path d="M2369 2801l99-53-117-58z" color="#2eb37c"/>
<path d="M4462 3533l114 18-21-109z" color="#228c8d"/>
<path d="M4785 3308l96-261-117 158z" color="#1e9d89"/>
<path d="M2890 3245l115-3-134-89z" color="#1e9b8a"/>
<path d="M1886 1729l-18-129-119-95z" color="#bade28"/>
<path d="M5032 2188l-23-76-120 242z" color="#65cb5e"/>
<path d="M5503 1197l90-80-114 12z" color="#fde725"/>
<path d="M4859 2952l119-212-141 108z" color="#28ae80"/>
<path d="M2774 3233l97-80-115-17z" color="#1f9e89"/>
<path d="M2233 2624l118 66-18-112z" color="#38b977"/>
<path d="M5503 1197l-24-68-114 12z" color="#fde725"/>
<path d="M1923 1985l101-35-119-92z" color="#8ed645"/>
<path d="M4934 2537l98-349-121 257z" color="#52c569"/>
<path d="M5617 1185l114-12-138-56z" color="#fde725"/>
<path d="M4192 3233l-21-79-114-45z" color="#1f9f88"/>
<path d="M2774 3233l116 12-19-92z" color="#1e9c89"/>
<path d="M5114 1167l23-2-28-11z" color="#fde725"/>
<path d="M2233 2624l100-46-118-69z" color="#3fbc73"/>
<path d="M3139 3306l96-110-115 30z" color="#1e9b8a"/>
<path d="M2060 2195l-18-122-119-88z" color="#7ad151"/>
<path d="M2079 2315l118 78-137-198z" color="#5cc863"/>
<path d="M4462 3533l-21-104-114-48z" color="#21908d"/>
<path d="M4598 3657l93-144-115 38z" color="#23898e"/>
<path d="M4327 3381l-21-94-114-54z" color="#1f988b"/>
<path d="M3139 3306l-19-80-115 16z" color="#1f9a8a"/>
<path d="M5503 1197l114-12-24-68z" color="#fde725"/>
<path d="M2640 3108l-19-102-116-43z" color="#21a685"/>
<path d="M4691 3513l116-105-22-100z" color="#20928c"/>
<path d="M3368 3222l-19-67-114 41z" color="#1f9e89"/>
<path d="M2505 2963l-18-107-118-55z" color="#28ae80"/>
<path d="M5118 1181l19-16-23 2z" color="#fde725"/>
<path d="M5275 1221l90-80-114 12z" color="#fde725"/>
<path d="M3943 3077l114 32-135-94z" color="#20a486"/>
<path d="M5040 1473l93-238-15-54z" color="#ece51b"/>
<path d="M3368 3222l96-113-115 46z" color="#1fa088"/>
<path d="M4978 2740l-22-102-119 210z" color="#31b57b"/>
<path d="M4598 3657l-22-106-114-18z" color="#238a8d"/>
<path d="M2774 3233l-18-97-116-28z" color="#1fa088"/>
<path d="M3828 3069l94-54-114-3z" color="#21a685"/>
<path d="M5275 1221l-24-68-114 12z" color="#fde725"/>
<path d="M2097 2434l118 75-18-116z" color="#4ec36b"/>
<path d="M1767 1636l119 93-137-224z" color="#bddf26"/>
<path d="M5389 1209l114-12-138-56z" color="#fde725"/>
<path d="M2909 3338l96-96-115 3z" color="#1f9a8a"/>
<path d="M2369 2801l-18-111-118-66z" color="#35b779"/>
<path d="M4598 3657l115-44-22-100z" color="#23898e"/>
<path d="M3139 3306l115-37-19-73z" color="#1e9b8a"/>
<path d="M4881 3047l97-307-119 212z" color="#26ad81"/>
<path d="M1785 1766l120 92-19-129z" color="#a8db34"/>
<path d="M3828 3069l-20-57-115 18z" color="#22a785"/>
<path d="M3598 3122l-20-57-114 44z" color="#20a386"/>
<path d="M3024 3329l115-23-134-64z" color="#1f998a"/>
<path d="M3254 3269l114-47-133-26z" color="#1e9d89"/>
<path d="M2097 2434l100-41-118-78z" color="#56c667"/>
<path d="M5275 1221l114-12-24-68z" color="#fde725"/>
<path d="M3598 3122l95-92-115 35z" color="#21a585"/>
<path d="M4785 3308l118-174-22-87z" color="#1fa188"/>
<path d="M3828 3069l115 8-21-62z" color="#21a685"/>
<path d="M2909 3338l115-9-19-87z" color="#1f998a"/>
<path d="M2909 3338l-19-93-116-12z" color="#1e9b8a"/>
<path d="M4078 3177l114 56-135-124z" color="#1fa188"/>
<path d="M2523 3068l117 40-135-145z" color="#22a785"/>
<path d="M4349 3475l113 58-135-152z" color="#20928c"/>
<path d="M1941 2109l119 86-137-210z" color="#7cd250"/>
<path d="M1785 1766l101-37-119-93z" color="#b5de2b"/>
<path d="M4484 3637l114 20-136-124z" color="#238a8d"/>
<path d="M3368 3222l115-52-19-61z" color="#1fa188"/>
<path d="M2388 2911l117 52-136-162z" color="#29af7f"/>
<path d="M5641 1253l90-80-114 12z" color="#fde725"/>
<path d="M5133 1235l27-2-23-68-19 16z" color="#fde725"/>
<path d="M4830 3495l-23-87-116 105z" color="#21918c"/>
<path d="M2658 3209l116 24-134-125z" color="#1fa188"/>
<path d="M4713 3613l117-118-139 18z" color="#218e8d"/>
<path d="M4214 3314l113 67-135-148z" color="#1f9a8a"/>
<path d="M2233 2624l-18-115-118-75z" color="#48c16e"/>
<path d="M5160 1233l115-12-138-56z" color="#fde725"/>
<path d="M1923 1985l-18-127-120-92z" color="#9dd93b"/>
<path d="M5133 1235l-93 238 110-186z" color="#ece51b"/>
<path d="M5009 2112l122-305-144 210z" color="#8ed645"/>
<path d="M4987 2017l121-296-22-92z" color="#aadc32"/>
<path d="M3483 3170l115-48-134-13z" color="#20a386"/>
<path d="M5641 1253l-24-68-114 12z" color="#fde725"/>
<path d="M1960 2231l119 84-19-120z" color="#69cd5b"/>
<path d="M3713 3085l115-16-135-39z" color="#22a785"/>
<path d="M5063 1544l93-241-6-16-110 186z" color="#e5e419"/>
<path d="M4807 3408l119-189-141 89z" color="#1f9a8a"/>
<path d="M3598 3122l115-37-20-55z" color="#21a685"/>
<path d="M2252 2738l117 63-136-177z" color="#37b878"/>
<path d="M4735 3707l-22-94-115 44z" color="#23888e"/>
<path d="M5641 1253l115-12-25-68z" color="#fde725"/>
<path d="M3964 3134l93-25-114-32z" color="#21a585"/>
<path d="M2793 3331l116 7-135-105z" color="#1e9b8a"/>
<path d="M1960 2231l100-36-119-86z" color="#75d054"/>
<path d="M4934 2537l121-275-23-74z" color="#60ca60"/>
<path d="M3043 3419l96-113-115 23z" color="#1f988b"/>
<path d="M5413 1277l90-80-114 12z" color="#fde725"/>
<path d="M3273 3346l-19-77-115 37z" color="#1e9b8a"/>
<path d="M2542 3173l98-65-117-40z" color="#21a585"/>
<path d="M2406 3019l117 49-18-105z" color="#24aa83"/>
<path d="M4926 3219l-23-85-118 174z" color="#1fa088"/>
<path d="M2542 3173l116 36-18-101z" color="#1fa287"/>
<path d="M1647 1547l120 89-18-131z" color="#d0e11c"/>
<path d="M4619 3762l116-55-137-50z" color="#24868e"/>
<path d="M4956 2638l121-285-143 184z" color="#4ec36b"/>
<path d="M3964 3134l114 43-21-68z" color="#20a486"/>
<path d="M2406 3019l99-56-117-52z" color="#26ad81"/>
<path d="M3273 3346l95-124-114 47z" color="#1e9d89"/>
<path d="M4505 3740l93-83-114-20z" color="#23888e"/>
<path d="M4370 3569l114 68-22-104z" color="#228d8d"/>
<path d="M3043 3419l-19-90-115 9z" color="#1f988b"/>
<path d="M5413 1277l-24-68-114 12z" color="#fde725"/>
<path d="M2097 2434l-18-119-119-84z" color="#63cb5f"/>
<path d="M4370 3569l92-36-113-58z" color="#21908d"/>
<path d="M2677 3310l97-77-116-24z" color="#1f9f88"/>
<path d="M5527 1265l114-12-138-56z" color="#fde725"/>
<path d="M4505 3740l114 22-21-105z" color="#24868e"/>
<path d="M4735 3707l95-212-117 118z" color="#228c8d"/>
<path d="M2270 2850l118 61-19-110z" color="#2eb37c"/>
<path d="M2115 2551l118 73-136-190z" color="#4cc26c"/>
<path d="M2677 3310l116 21-19-98z" color="#1e9d89"/>
<path d="M1803 1893l120 92-138-219z" color="#a0da39"/>
<path d="M4235 3395l114 80-22-94z" color="#1f968b"/>
<path d="M3964 3134l-21-57-115-8z" color="#22a785"/>
<path d="M4881 3047l120-229-23-78z" color="#2db27d"/>
<path d="M4099 3244l93-11-114-56z" color="#1fa188"/>
<path d="M1647 1547l102-42-120-84z" color="#dae319"/>
<path d="M3043 3419l115-29-19-84z" color="#1f988b"/>
<path d="M2270 2850l99-49-117-63z" color="#34b679"/>
<path d="M5413 1277l114-12-24-68z" color="#fde725"/>
<path d="M5131 1807l-23-86-121 296z" color="#a5db36"/>
<path d="M4235 3395l92-14-113-67z" color="#1f998a"/>
<path d="M5032 2188l99-381-122 305z" color="#8bd646"/>
<path d="M4099 3244l115 70-22-81z" color="#1f9f88"/>
<path d="M3158 3390l115-44-134-40z" color="#1f9a8a"/>
<path d="M1822 2018l119 91-18-124z" color="#8bd646"/>
<path d="M5184 1301l91-80-115 12z" color="#fde725"/>
<path d="M3503 3232l-20-62-115 52z" color="#1fa187"/>
<path d="M1785 1766l-18-130-120-89z" color="#c5e021"/>
<path d="M4830 3495l96-276-119 189z" color="#1f998a"/>
<path d="M5086 1629l76-310-6-16-93 241z" color="#e2e418"/>
<path d="M2927 3432l116-13-134-81z" color="#1f988b"/>
<path d="M2812 3429l97-91-116-7z" color="#1f9a8a"/>
<path d="M2133 2667l119 71-19-114z" color="#3fbc73"/>
<path d="M3503 3232l95-110-115 48z" color="#20a386"/>
<path d="M3273 3346l115-55-20-69z" color="#1f9e89"/>
<path d="M2542 3173l-19-105-117-49z" color="#22a884"/>
<path d="M5298 1289l115-12-138-56z" color="#fde725"/>
<path d="M4641 3870l94-163-116 55z" color="#25848e"/>
<path d="M2677 3310l-19-101-116-36z" color="#1fa188"/>
<path d="M5184 1301l-24-68-27 2 17 52z" color="#fde725"/>
<path d="M4978 2740l99-387-121 285z" color="#4ac16d"/>
<path d="M1822 2018l101-33-120-92z" color="#98d83e"/>
<path d="M4505 3740l-21-103-114-68z" color="#228b8d"/>
<path d="M5077 2353l-22-91-121 275z" color="#60ca60"/>
<path d="M5780 1309l-24-68-115 12z" color="#fde725"/>
<path d="M2133 2667l100-43-118-73z" color="#46c06f"/>
<path d="M2812 3429l115 3-18-94z" color="#1f988b"/>
<path d="M3733 3137l95-68-115 16z" color="#22a884"/>
<path d="M4903 3134l121-255-143 168z" color="#25ac82"/>
<path d="M4641 3870l-22-108-114-22z" color="#25848e"/>
<path d="M2406 3019l-18-108-118-61z" color="#2cb17e"/>
<path d="M5184 1301l114-12-23-68z" color="#fde725"/>
<path d="M3733 3137l-20-52-115 37z" color="#22a785"/>
<path d="M3388 3291l115-59-135-10z" color="#1fa188"/>
<path d="M1978 2352l119 82-137-203z" color="#67cc5c"/>
<path d="M1960 2231l-19-122-119-91z" color="#84d44b"/>
<path d="M2812 3429l-19-98-116-21z" color="#1e9b8a"/>
<path d="M3849 3120l115 14-136-65z" color="#22a884"/>
<path d="M4099 3244l-21-67-114-43z" color="#20a486"/>
<path d="M4370 3569l-21-94-114-80z" color="#1f948c"/>
<path d="M4735 3707l117-145-22-67z" color="#21908d"/>
<path d="M5551 1333l90-80-114 12z" color="#fde725"/>
<path d="M3177 3477l-19-87-115 29z" color="#1f988b"/>
<path d="M4641 3870l116-68-22-95z" color="#25848e"/>
<path d="M1996 2471l119 80-18-117z" color="#56c667"/>
<path d="M2270 2850l-18-112-119-71z" color="#3aba76"/>
<path d="M1665 1671l120 95-138-219z" color="#c8e020"/>
<path d="M3177 3477l96-131-115 44z" color="#1f998a"/>
<path d="M3503 3232l115-55-20-55z" color="#21a585"/>
<path d="M4235 3395l-21-81-115-70z" color="#1f9e89"/>
<path d="M5024 2879l-23-61-120 229z" color="#2eb37c"/>
<path d="M5551 1333l-24-68-114 12z" color="#fde725"/>
<path d="M2946 3529l97-110-116 13z" color="#1f968b"/>
<path d="M3733 3137l116-17-21-51z" color="#23a983"/>
<path d="M2424 3126l118 47-136-154z" color="#23a983"/>
<path d="M5666 1321l114-12-139-56z" color="#fde725"/>
<path d="M2560 3277l117 33-135-137z" color="#1fa187"/>
<path d="M1683 1797l120 96-18-127z" color="#b2dd2d"/>
<path d="M3618 3177l115-40-135-15z" color="#22a785"/>
<path d="M5156 1303l28-2-34-14z" color="#fde725"/>
<path d="M1996 2471l101-37-119-82z" color="#60ca60"/>
<path d="M4527 3843l114 27-136-130z" color="#25848e"/>
<path d="M5551 1333l115-12-25-68z" color="#fde725"/>
<path d="M2288 2960l118 59-136-169z" color="#2db27d"/>
<path d="M2946 3529l-19-97-115-3z" color="#1f978b"/>
<path d="M1647 1547l-18-126-111-90-3 4z" color="#efe51c"/>
<path d="M3062 3512l115-35-134-58z" color="#1f978b"/>
<path d="M2695 3412l117 17-135-119z" color="#1e9b8a"/>
<path d="M4392 3662l113 78-135-171z" color="#228d8d"/>
<path d="M5086 1629l97-258-21-52z" color="#ece51b"/>
<path d="M3407 3362l-19-71-115 55z" color="#1f9e89"/>
<path d="M2946 3529l116-17-19-93z" color="#1f968b"/>
<path d="M5322 1357l91-80-115 12z" color="#fde725"/>
<path d="M5162 1319l22-18-28 2z" color="#fde725"/>
<path d="M4926 3219l98-340-121 255z" color="#25ac82"/>
<path d="M4830 3495l119-203-23-73z" color="#1f9e89"/>
<path d="M1683 1797l102-31-120-95z" color="#c0df25"/>
<path d="M1840 2142l120 89-138-213z" color="#86d549"/>
<path d="M3177 3477l115-51-19-80z" color="#1f9a8a"/>
<path d="M2133 2667l-18-116-119-80z" color="#50c46a"/>
<path d="M5322 1357l-24-68-114 12z" color="#fde725"/>
<path d="M1822 2018l-19-125-120-96z" color="#a8db34"/>
<path d="M3407 3362l96-130-115 59z" color="#1fa188"/>
<path d="M5437 1345l114-12-138-56z" color="#fde725"/>
<path d="M4779 3905l-22-103-116 68z" color="#25838e"/>
<path d="M1858 2265l120 87-18-121z" color="#73d056"/>
<path d="M3984 3189l115 55-135-110z" color="#21a685"/>
<path d="M2151 2781l119 69-137-183z" color="#3dbc74"/>
<path d="M3292 3426l115-64-134-16z" color="#1e9d89"/>
<path d="M2443 3233l117 44-18-104z" color="#20a486"/>
<path d="M4757 3802l118-171-140 76z" color="#228b8d"/>
<path d="M2443 3233l99-60-118-47z" color="#22a785"/>
<path d="M4256 3475l114 94-135-174z" color="#1f978b"/>
<path d="M5322 1357l115-12-24-68z" color="#fde725"/>
<path d="M2578 3381l99-71-117-33z" color="#1fa088"/>
<path d="M2830 3529l116 0-134-100z" color="#1f968b"/>
<path d="M4663 3978l116-73-138-35z" color="#26818e"/>
<path d="M5032 2188l123-319-24-62z" color="#a2da37"/>
<path d="M2578 3381l117 31-18-102z" color="#1f9e89"/>
<path d="M2306 3070l118 56-18-107z" color="#26ad81"/>
<path d="M4875 3631l-23-69-117 145z" color="#21908d"/>
<path d="M4548 3938l93-68-114-27z" color="#26828e"/>
<path d="M2306 3070l100-51-118-59z" color="#29af7f"/>
<path d="M1518 1331l-10 1 7 3z" color="#fde725"/>
<path d="M1858 2265l102-34-120-89z" color="#7fd34e"/>
<path d="M3869 3169l95-35-115-14z" color="#24aa83"/>
<path d="M4120 3312l115 83-136-151z" color="#1fa188"/>
<path d="M4978 2740l122-289-23-98z" color="#58c765"/>
<path d="M4548 3938l115 40-22-108z" color="#26818e"/>
<path d="M1526 1446l121 101-132-212-4 8z" color="#f1e51d"/>
<path d="M4413 3751l114 92-22-103z" color="#23888e"/>
<path d="M1515 1335l-7-3 3 11z" color="#fde725"/>
<path d="M2714 3513l98-84-117-17z" color="#1f9a8a"/>
<path d="M5691 1389l89-80-114 12z" color="#fde725"/>
<path d="M5183 1371l24-2-23-68-22 18z" color="#fde725"/>
<path d="M5055 2262l124-337-147 263z" color="#8bd646"/>
<path d="M3081 3607l96-130-115 35z" color="#1f958b"/>
<path d="M1544 1567l121 104-18-124z" color="#dae319"/>
<path d="M5183 1371l-97 258 119-202z" color="#ece51b"/>
<path d="M5207 1369l115-12-138-56z" color="#fde725"/>
<path d="M3638 3231l-20-54-115 55z" color="#21a685"/>
<path d="M5001 2818l123-300-146 222z" color="#46c06f"/>
<path d="M3081 3607l-19-95-116 17z" color="#1f948c"/>
<path d="M2170 2894l118 66-18-110z" color="#32b67a"/>
<path d="M5108 1721l103-281-6-13-119 202z" color="#dfe318"/>
<path d="M4413 3751l92-11-113-78z" color="#228c8d"/>
<path d="M2714 3513l116 16-18-100z" color="#1f988b"/>
<path d="M1996 2471l-18-119-120-87z" color="#6ccd5a"/>
<path d="M3869 3169l-20-49-116 17z" color="#24aa83"/>
<path d="M5691 1389l-25-68-115 12z" color="#fde725"/>
<path d="M3407 3362l116-69-20-61z" color="#1fa287"/>
<path d="M3638 3231l95-94-115 40z" color="#22a884"/>
<path d="M2014 2589l119 78-137-196z" color="#54c568"/>
<path d="M2170 2894l100-44-119-69z" color="#38b977"/>
<path d="M3869 3169l115 20-20-55z" color="#23a983"/>
<path d="M4852 3562l121-241-143 174z" color="#1f9a8a"/>
<path d="M3312 3509l-20-83-115 51z" color="#1f998a"/>
<path d="M1701 1922l121 96-139-221z" color="#addc30"/>
<path d="M2578 3381l-18-104-117-44z" color="#1fa287"/>
<path d="M1544 1567l103-20-121-101z" color="#e7e419"/>
<path d="M5691 1389l114-12-25-68z" color="#fde725"/>
<path d="M4779 3905l96-274-118 171z" color="#238a8d"/>
<path d="M2443 3233l-19-107-118-56z" color="#25ab82"/>
<path d="M4278 3552l114 110-22-93z" color="#20938c"/>
<path d="M3081 3607l115-39-19-91z" color="#1f958b"/>
<path d="M1719 2048l121 94-18-124z" color="#98d83e"/>
<path d="M2714 3513l-19-101-117-31z" color="#1e9c89"/>
<path d="M2849 3628l97-99-116 0z" color="#1f958b"/>
<path d="M3523 3293l115-62-135 1z" color="#21a585"/>
<path d="M1407 1413l101-81-116 12z" color="#fde725"/>
<path d="M5461 1413l90-80-114 12z" color="#fde725"/>
<path d="M4685 4065l94-160-116 73z" color="#27808e"/>
<path d="M4973 3321l-24-29-119 203z" color="#1fa088"/>
<path d="M2965 3627l116-20-135-78z" color="#1f948c"/>
<path d="M1683 1797l-18-126-121-104z" color="#d2e21b"/>
<path d="M3312 3509l95-147-115 64z" color="#1e9c89"/>
<path d="M2032 2705l119 76-18-114z" color="#46c06f"/>
<path d="M3196 3568l116-59-135-32z" color="#1f988b"/>
<path d="M4278 3552l92 17-114-94z" color="#1f978b"/>
<path d="M4685 4065l-22-87-115-40z" color="#277f8e"/>
<path d="M1407 1413l-15-69-116 12z" color="#fde725"/>
<path d="M4548 3938l-21-95-114-92z" color="#24878e"/>
<path d="M5461 1413l-24-68-115 12z" color="#fde725"/>
<path d="M2306 3070l-18-110-118-66z" color="#2fb47c"/>
<path d="M2849 3628l116-1-19-98z" color="#1f948c"/>
<path d="M1407 1413l79-8 25-62-3-11z" color="#fde725"/>
<path d="M1486 1405l40 41-15-103z" color="#fbe723"/>
<path d="M5576 1401l115-12-140-56z" color="#fde725"/>
<path d="M4005 3246l94-2-115-55z" color="#22a785"/>
<path d="M5124 2518l-24-67-122 289z" color="#58c765"/>
<path d="M5601 5886l115-15-134-196z" color="#470e61"/>
<path d="M2032 2705l101-38-119-78z" color="#4ec36b"/>
<path d="M5716 5871l-20-198-114 2z" color="#481467"/>
<path d="M1719 2048l103-30-121-96z" color="#a5db36"/>
<path d="M5131 1807l85-356-5-11-103 281z" color="#dde318"/>
<path d="M3754 3186l115-17-136-32z" color="#25ab82"/>
<path d="M5179 1925l-24-56-123 319z" color="#a5db36"/>
<path d="M3638 3231l116-45-21-49z" color="#24aa83"/>
<path d="M2849 3628l-19-99-116-16z" color="#1f968b"/>
<path d="M4142 3376l114 99-21-80z" color="#1f9e89"/>
<path d="M4005 3246l115 66-21-68z" color="#21a585"/>
<path d="M5077 2353l102-428-124 337z" color="#8bd646"/>
<path d="M5624 6009l92-138-115 15z" color="#450559"/>
<path d="M4926 3219l122-286-24-54z" color="#2eb37c"/>
<path d="M5461 1413l115-12-25-68z" color="#fde725"/>
<path d="M1876 2386l120 85-138-206z" color="#70cf57"/>
<path d="M4142 3376l93 19-115-83z" color="#1fa188"/>
<path d="M1858 2265l-18-123-121-94z" color="#8ed645"/>
<path d="M5716 5871l99-302-119 104z" color="#481769"/>
<path d="M1174 1437l102-81-117 13z" color="#fde725"/>
<path d="M5231 1437l91-80-115 12z" color="#fde725"/>
<path d="M2461 3339l117 42-135-148z" color="#20a386"/>
<path d="M5024 2879l100-361-123 300z" color="#46c06f"/>
<path d="M5624 6009l114-15-22-123z" color="#450457"/>
<path d="M2597 3485l117 28-136-132z" color="#1e9c89"/>
<path d="M4685 4065l116-72-22-88z" color="#26818e"/>
<path d="M2325 3179l118 54-137-163z" color="#25ac82"/>
<path d="M3312 3509l115-74-20-73z" color="#1f9e89"/>
<path d="M2170 2894l-19-113-119-76z" color="#40bd72"/>
<path d="M1174 1437l-15-68-116 12z" color="#fde725"/>
<path d="M1894 2505l120 84-18-118z" color="#60ca60"/>
<path d="M1291 1425l116-12-131-57z" color="#fde725"/>
<path d="M4413 3751l-21-89-114-110z" color="#20928c"/>
<path d="M5346 1425l115-12-139-56z" color="#fde725"/>
<path d="M5716 5871l119-107-20-195z" color="#481668"/>
<path d="M5489 5833l112 53-19-211z" color="#471164"/>
<path d="M3216 3660l-20-92-115 39z" color="#1f948c"/>
<path d="M3542 3354l-19-61-116 69z" color="#1fa287"/>
<path d="M2984 3725l97-118-116 20z" color="#20928c"/>
<path d="M4875 3631l98-310-121 241z" color="#1f9a8a"/>
<path d="M5231 1437l-24-68-24 2 22 56z" color="#fde725"/>
<path d="M1562 1692l121 105-139-230z" color="#d5e21a"/>
<path d="M5830 1446l-25-69-114 12z" color="#fde725"/>
<path d="M5738 5994l120-108-142-15z" color="#46085c"/>
<path d="M4005 3246l-21-57-115-20z" color="#24aa83"/>
<path d="M5624 6009l-23-123-112-53z" color="#46085c"/>
<path d="M3216 3660l96-151-116 59z" color="#1f968b"/>
<path d="M1174 1437l117-12-15-69z" color="#fde725"/>
<path d="M2733 3614l116 14-135-115z" color="#1f968b"/>
<path d="M5231 1437l115-12-24-68z" color="#fde725"/>
<path d="M1544 1567l-18-121-40-41-14 36z" color="#f6e620"/>
<path d="M4949 3292l123-321-146 248z" color="#26ad81"/>
<path d="M5858 5886l-23-122-119 107z" color="#470e61"/>
<path d="M1894 2505l102-34-120-85z" color="#69cd5b"/>
<path d="M2984 3725l-19-98-116 1z" color="#20928c"/>
<path d="M2188 3005l118 65-136-176z" color="#31b57b"/>
<path d="M1580 1820l121 102-18-125z" color="#c0df25"/>
<path d="M4779 3905l119-190-23-84z" color="#218e8d"/>
<path d="M4571 4009l114 56-137-127z" color="#26818e"/>
<path d="M3542 3354l96-123-115 62z" color="#21a685"/>
<path d="M3427 3435l115-81-135 8z" color="#1fa187"/>
<path d="M2984 3725l116-22-19-96z" color="#20928c"/>
<path d="M3100 3703l116-43-135-53z" color="#20938c"/>
<path d="M1486 1405l-79 8 65 28z" color="#fde725"/>
<path d="M2479 3444l99-63-117-42z" color="#1fa187"/>
<path d="M5600 1470l91-81-115 12z" color="#fde725"/>
<path d="M4435 3829l113 109-135-187z" color="#238a8d"/>
<path d="M2479 3444l118 41-19-104z" color="#1f9f88"/>
<path d="M5582 5675l114-2-13-363z" color="#482576"/>
<path d="M2343 3287l118 52-18-106z" color="#22a785"/>
<path d="M1057 1449l117-12-131-56z" color="#fde725"/>
<path d="M2032 2705l-18-116-120-84z" color="#5ac864"/>
<path d="M1737 2172l121 93-139-217z" color="#93d741"/>
<path d="M4278 3552l-22-77-114-99z" color="#1f9e89"/>
<path d="M2343 3287l100-54-118-54z" color="#24aa83"/>
<path d="M5489 5833l93-158-113-52z" color="#481a6c"/>
<path d="M2616 3587l98-74-117-28z" color="#1f9a8a"/>
<path d="M1580 1820l103-23-121-105z" color="#cde11d"/>
<path d="M5763 6074l-25-80-114 15z" color="#440154"/>
<path d="M5600 1470l-24-69-115 12z" color="#fde725"/>
<path d="M4142 3376l-22-64-115-66z" color="#21a685"/>
<path d="M2616 3587l117 27-19-101z" color="#1f988b"/>
<path d="M5696 5673l119-104-132-259z" color="#482878"/>
<path d="M5715 1458l115-12-139-57z" color="#fde725"/>
<path d="M2050 2819l120 75-138-189z" color="#44bf70"/>
<path d="M1719 2048l-18-126-121-102z" color="#b5de2b"/>
<path d="M2206 3116l119 63-19-109z" color="#29af7f"/>
<path d="M2868 3727l116-2-135-97z" color="#20928c"/>
<path d="M3216 3660l115-66-19-85z" color="#1f988b"/>
<path d="M5131 1807l105-299-20-57z" color="#e7e419"/>
<path d="M1755 2295l121 91-18-121z" color="#7fd34e"/>
<path d="M5511 5968l113 41-135-176z" color="#46085c"/>
<path d="M5211 1440l20-3-26-10z" color="#fde725"/>
<path d="M3774 3232l95-63-115 17z" color="#25ac82"/>
<path d="M3774 3232l-20-46-116 45z" color="#25ab82"/>
<path d="M4801 3993l120-192-142 104z" color="#24878e"/>
<path d="M2206 3116l100-46-118-65z" color="#2eb37c"/>
<path d="M5600 1470l115-12-24-69z" color="#fde725"/>
<path d="M5072 2971l-24-38-122 286z" color="#2fb47c"/>
<path d="M5763 6074l95-188-120 108z" color="#450559"/>
<path d="M3447 3507l-20-72-115 74z" color="#1f9e89"/>
<path d="M2751 3714l98-86-116-14z" color="#1f948c"/>
<path d="M5216 1451l15-14-20 3z" color="#fde725"/>
<path d="M4825 4034l-24-41-116 72z" color="#26828e"/>
<path d="M1454 1478l90 89-72-126z" color="#f6e620"/>
<path d="M3890 3217l115 29-136-77z" color="#25ac82"/>
<path d="M1306 1494l101-81-116 12z" color="#fde725"/>
<path d="M5370 1494l91-81-115 12z" color="#fde725"/>
<path d="M1755 2295l103-30-121-93z" color="#8bd646"/>
<path d="M3542 3354l116-72-20-51z" color="#22a884"/>
<path d="M2751 3714l117 13-19-99z" color="#20938c"/>
<path d="M4921 3801l-23-86-119 190z" color="#228d8d"/>
<path d="M2068 2933l120 72-18-111z" color="#38b977"/>
<path d="M3119 3797l-19-94-116 22z" color="#21918c"/>
<path d="M3331 3594l116-87-135 2z" color="#1e9b8a"/>
<path d="M5835 5764l123-192-143-3z" color="#482173"/>
<path d="M3119 3797l97-137-116 43z" color="#20928c"/>
<path d="M1306 1494l-15-69-117 12z" color="#fde725"/>
<path d="M4299 3624l114 127-135-199z" color="#1f968b"/>
<path d="M5370 1494l-24-69-115 12z" color="#fde725"/>
<path d="M5648 6088l115-14-139-65z" color="#440154"/>
<path d="M2616 3587l-19-102-118-41z" color="#1e9d89"/>
<path d="M1422 1482l32-4 18-37-65-28z" color="#fde725"/>
<path d="M2479 3444l-18-105-118-52z" color="#21a585"/>
<path d="M5485 1482l115-12-139-57z" color="#fde725"/>
<path d="M5100 2451l125-360-148 262z" color="#84d44b"/>
<path d="M1894 2505l-18-119-121-91z" color="#77d153"/>
<path d="M5469 5623l113 52-129-356z" color="#482979"/>
<path d="M2068 2933l102-39-120-75z" color="#3fbc73"/>
<path d="M3447 3507l95-153-115 81z" color="#1fa187"/>
<path d="M3658 3282l116-50-136-1z" color="#25ab82"/>
<path d="M3774 3232l116-15-21-48z" color="#26ad81"/>
<path d="M1912 2622l120 83-138-200z" color="#5cc863"/>
<path d="M5858 5886l100-314-123 192z" color="#481b6d"/>
<path d="M4457 3889l114 120-23-71z" color="#24868e"/>
<path d="M1439 1577l123 115-18-125z" color="#eae51a"/>
<path d="M4973 3321l99-350-123 321z" color="#27ad81"/>
<path d="M2343 3287l-18-108-119-63z" color="#27ad81"/>
<path d="M1306 1494l116-12-15-69z" color="#fde725"/>
<path d="M5370 1494l115-12-24-69z" color="#fde725"/>
<path d="M2751 3714l-18-100-117-27z" color="#1f978b"/>
<path d="M5535 6057l89-48-113-41z" color="#450559"/>
<path d="M5489 5833l-20-210-112-67z" color="#482071"/>
<path d="M4594 4042l91 23-114-56z" color="#26828e"/>
<path d="M5582 5675l101-365-115 17z" color="#46307e"/>
<path d="M5077 2353l125-353-23-75z" color="#a2da37"/>
<path d="M4708 4092l117-58-140 31z" color="#26818e"/>
<path d="M2887 3824l97-99-116 2z" color="#21918c"/>
<path d="M1072 1518l102-81-117 12z" color="#fde725"/>
<path d="M4457 3889l91 49-113-109z" color="#238a8d"/>
<path d="M1598 1948l121 100-139-228z" color="#bade28"/>
<path d="M5236 1508l-105 299 121-242z" color="#e7e419"/>
<path d="M5535 6057l113 31-24-79z" color="#440256"/>
<path d="M3003 3821l116-24-135-72z" color="#21908d"/>
<path d="M3119 3797l116-46-19-91z" color="#20928c"/>
<path d="M3351 3678l-20-84-115 66z" color="#1f978b"/>
<path d="M5155 1869l101-291-4-13-121 242z" color="#dde318"/>
<path d="M4875 3631l122-269-24-41z" color="#1fa187"/>
<path d="M5024 2879l124-318-24-43z" color="#5ac864"/>
<path d="M5236 1508l19-2-24-69-15 14z" color="#fde725"/>
<path d="M1616 2074l121 98-18-124z" color="#a5db36"/>
<path d="M5740 1527l90-81-115 12z" color="#fde725"/>
<path d="M4027 3297l115 79-137-130z" color="#23a983"/>
<path d="M1930 2739l120 80-18-114z" color="#4ec36b"/>
<path d="M4163 3435l115 117-136-176z" color="#1fa187"/>
<path d="M5582 5675l-14-348-115-8z" color="#46327e"/>
<path d="M5763 6074l119-102-24-86z" color="#460a5d"/>
<path d="M1189 1506l117-12-132-57z" color="#fde725"/>
<path d="M5255 1506l115-12-139-57z" color="#fde725"/>
<path d="M4594 4042l114 50-23-27z" color="#26828e"/>
<path d="M2887 3824l116-3-19-96z" color="#21908d"/>
<path d="M2206 3116l-18-111-120-72z" color="#35b779"/>
<path d="M5400 5862l111 106-22-135z" color="#471164"/>
<path d="M2887 3824l-19-97-117-13z" color="#20928c"/>
<path d="M1580 1820l-18-128-123-115z" color="#dfe318"/>
<path d="M5740 1527l-25-69-115 12z" color="#fde725"/>
<path d="M2498 3548l118 39-137-143z" color="#1f9e89"/>
<path d="M3235 3751l116-73-135-18z" color="#1f958b"/>
<path d="M1439 1577l105-10-90-89-23 44z" color="#f6e620"/>
<path d="M4825 4034l96-233-120 192z" color="#23888e"/>
<path d="M1072 1518l117-12-15-69z" color="#fde725"/>
<path d="M5377 5738l112 95-132-277z" color="#481f70"/>
<path d="M2361 3394l118 50-136-157z" color="#21a685"/>
<path d="M5958 5572l-21-181-122 178z" color="#472d7b"/>
<path d="M1930 2739l102-34-120-83z" color="#58c765"/>
<path d="M4321 3688l114 141-22-78z" color="#20928c"/>
<path d="M5815 5569l-12-367-120 108z" color="#453882"/>
<path d="M1616 2074l103-26-121-100z" color="#b2dd2d"/>
<path d="M3351 3678l96-171-116 87z" color="#1e9b8a"/>
<path d="M2634 3688l117 26-135-127z" color="#1f978b"/>
<path d="M1454 1478l-32 4 9 40z" color="#fde725"/>
<path d="M5740 1527l115-12-25-69z" color="#fde725"/>
<path d="M3447 3507l115-95-20-58z" color="#20a386"/>
<path d="M4898 3715l122-279-145 195z" color="#1e9b8a"/>
<path d="M1773 2416l121 89-139-210z" color="#7cd250"/>
<path d="M2224 3226l119 61-137-171z" color="#28ae80"/>
<path d="M5124 2518l101-427-125 360z" color="#84d44b"/>
<path d="M5673 6167l90-93-115 14z" color="#440154"/>
<path d="M5400 5862l89-29-112-95z" color="#481a6c"/>
<path d="M5357 5556l112 67-16-304z" color="#472f7d"/>
<path d="M1755 2295l-18-123-121-98z" color="#9bd93c"/>
<path d="M4321 3688l92 63-114-127z" color="#1f968b"/>
<path d="M5509 1551l91-81-115 12z" color="#fde725"/>
<path d="M3911 3258l94-12-115-29z" color="#27ad81"/>
<path d="M5048 2933l125-342-149 288z" color="#4cc26c"/>
<path d="M3678 3328l-20-46-116 72z" color="#24aa83"/>
<path d="M2068 2933l-18-114-120-80z" color="#4ac16d"/>
<path d="M5858 5886l122-179-22-135z" color="#482071"/>
<path d="M5225 2091l-23-91-125 353z" color="#a2da37"/>
<path d="M5509 1551l-24-69-115 12z" color="#fde725"/>
<path d="M3022 3912l97-115-116 24z" color="#218f8d"/>
<path d="M1431 1522l-9-40-116 12 115 50z" color="#fde725"/>
<path d="M1791 2535l121 87-18-117z" color="#69cd5b"/>
<path d="M2770 3811l117 13-136-110z" color="#20928c"/>
<path d="M5625 1539l115-12-140-57z" color="#fde725"/>
<path d="M5535 6057l-24-89-111-106z" color="#470e61"/>
<path d="M5815 5569l122-178-15-298z" color="#443a83"/>
<path d="M3255 3832l-20-81-116 46z" color="#20928c"/>
<path d="M3911 3258l116 39-22-51z" color="#26ad81"/>
<path d="M3678 3328l96-96-116 50z" color="#26ad81"/>
<path d="M2086 3045l120 71-138-183z" color="#37b878"/>
<path d="M5673 6167l-25-79-113-31z" color="#440256"/>
<path d="M3022 3912l-19-91-116 3z" color="#218f8d"/>
<path d="M4594 4042l-23-33-114-120z" color="#23888e"/>
<path d="M2379 3500l119 48-19-104z" color="#1fa187"/>
<path d="M3911 3258l-21-41-116 15z" color="#28ae80"/>
<path d="M5179 1925l81-333-4-14-101 291z" color="#dfe318"/>
<path d="M2516 3651l100-64-118-39z" color="#1e9c89"/>
<path d="M2379 3500l100-56-118-50z" color="#20a386"/>
<path d="M5509 1551l116-12-25-69z" color="#fde725"/>
<path d="M2516 3651l118 37-18-101z" color="#1f9a8a"/>
<path d="M5673 6167l116-27-26-66z" color="#440154"/>
<path d="M3562 3412l116-84-136 26z" color="#22a884"/>
<path d="M4185 3491l114 133-21-72z" color="#1f9f88"/>
<path d="M1791 2535l103-30-121-89z" color="#75d054"/>
<path d="M5815 5569l107-476-119 109z" color="#423f85"/>
<path d="M2242 3335l119 59-18-107z" color="#24aa83"/>
<path d="M5882 5972l123-167-147 81z" color="#481668"/>
<path d="M1457 1710l123 110-141-243z" color="#e5e419"/>
<path d="M1203 1575l103-81-117 12z" color="#fde725"/>
<path d="M5278 1576l92-82-115 12z" color="#fde725"/>
<path d="M5908 6035l-26-63-119 102z" color="#460a5d"/>
<path d="M1475 1842l123 106-18-128z" color="#cde11d"/>
<path d="M3255 3832l96-154-116 73z" color="#1f948c"/>
<path d="M5020 3436l-23-74-122 269z" color="#1fa287"/>
<path d="M3022 3912l117-27-20-88z" color="#218f8d"/>
<path d="M2653 3786l98-72-117-26z" color="#1f958b"/>
<path d="M2242 3335l101-48-119-61z" color="#26ad81"/>
<path d="M3351 3678l115-102-19-69z" color="#1e9d89"/>
<path d="M4185 3491l93 61-115-117z" color="#1fa287"/>
<path d="M3139 3885l116-53-136-35z" color="#21918c"/>
<path d="M1203 1575l-14-69-117 12z" color="#fde725"/>
<path d="M1439 1577l-8-55-10 22z" color="#fbe723"/>
<path d="M2653 3786l117 25-19-97z" color="#20938c"/>
<path d="M4048 3338l94 38-115-79z" color="#24aa83"/>
<path d="M5173 2591l-25-30-124 318z" color="#5ec962"/>
<path d="M5394 1563l115-12-139-57z" color="#fde725"/>
<path d="M5789 6140l119-105-145 39z" color="#46075a"/>
<path d="M4457 3889l-22-60-114-141z" color="#20928c"/>
<path d="M6005 5805l-25-98-122 179z" color="#481d6f"/>
<path d="M4732 4107l93-73-117 58z" color="#25848e"/>
<path d="M5357 5556l96-237-114-10z" color="#443983"/>
<path d="M1930 2739l-18-117-121-87z" color="#65cb5e"/>
<path d="M4048 3338l115 97-21-59z" color="#22a884"/>
<path d="M4921 3801l99-365-122 279z" color="#1f9a8a"/>
<path d="M1321 1563l94-10 6-9-115-50z" color="#fde725"/>
<path d="M5278 1576l-23-70-19 2 16 57z" color="#fde725"/>
<path d="M1634 2199l121 96-139-221z" color="#a0da39"/>
<path d="M2105 3157l119 69-18-110z" color="#2eb37c"/>
<path d="M5881 1584l-26-69-115 12z" color="#fde725"/>
<path d="M2906 3916l116-4-135-88z" color="#218f8d"/>
<path d="M1948 2854l120 79-138-194z" color="#4cc26c"/>
<path d="M1415 1553l24 24-18-33z" color="#fbe723"/>
<path d="M1203 1575l118-12-15-69z" color="#fde725"/>
<path d="M5278 1576l116-13-24-69z" color="#fde725"/>
<path d="M1475 1842l105-22-123-110z" color="#dae319"/>
<path d="M4825 4034l119-164-23-69z" color="#218e8d"/>
<path d="M2105 3157l101-41-120-71z" color="#34b679"/>
<path d="M1616 2074l-18-126-123-106z" color="#c5e021"/>
<path d="M1652 2322l121 94-18-121z" color="#8bd646"/>
<path d="M4732 4107l-24-15-114-50z" color="#25848e"/>
<path d="M2789 3904l98-80-117-13z" color="#21918c"/>
<path d="M3582 3464l-20-52-115 95z" color="#20a486"/>
<path d="M3678 3328l117-57-21-39z" color="#28ae80"/>
<path d="M2516 3651l-18-103-119-48z" color="#1fa088"/>
<path d="M5267 5610l110 128-20-182z" color="#472a7a"/>
<path d="M3795 3271l116-13-137-26z" color="#29af7f"/>
<path d="M2653 3786l-19-98-118-37z" color="#1f988b"/>
<path d="M2379 3500l-18-106-119-59z" color="#22a884"/>
<path d="M1396 1584l43-7-24-24z" color="#fbe723"/>
<path d="M5650 1608l90-81-115 12z" color="#fde725"/>
<path d="M5560 6121l113 46-138-110z" color="#450559"/>
<path d="M2789 3904l117 12-19-92z" color="#21908d"/>
<path d="M5072 2971l101-380-125 342z" color="#50c46a"/>
<path d="M3255 3832l115-84-19-70z" color="#1f968b"/>
<path d="M5568 5327l115-17-126-417z" color="#3f4889"/>
<path d="M4973 3321l124-335-25-15z" color="#35b779"/>
<path d="M1086 1588l117-13-131-57z" color="#fde725"/>
<path d="M5357 5556l-18-247-114-33z" color="#443b84"/>
<path d="M3466 3576l116-112-135 43z" color="#1fa287"/>
<path d="M1966 2968l120 77-18-112z" color="#40bd72"/>
<path d="M1652 2322l103-27-121-96z" color="#98d83e"/>
<path d="M5400 5862l-23-124-110-128z" color="#482475"/>
<path d="M5424 5946l111 111-135-195z" color="#481467"/>
<path d="M5650 1608l-25-69-116 12z" color="#fde725"/>
<path d="M5958 5572l106-426-127 245z" color="#433d84"/>
<path d="M5765 1596l116-12-141-57z" color="#fde725"/>
<path d="M3158 3966l-19-81-117 27z" color="#218e8d"/>
<path d="M2242 3335l-18-109-119-69z" color="#2cb17e"/>
<path d="M4321 3688l-22-64-114-133z" color="#1f9f88"/>
<path d="M2789 3904l-19-93-117-25z" color="#20928c"/>
<path d="M1966 2968l102-35-120-79z" color="#48c16e"/>
<path d="M5453 5319l115 8-11-434z" color="#3e4989"/>
<path d="M5256 1578l22-2-26-11z" color="#fde725"/>
<path d="M5908 6035l97-230-123 167z" color="#481668"/>
<path d="M3158 3966l97-134-116 53z" color="#21908d"/>
<path d="M5245 5466l112 90-132-280z" color="#443983"/>
<path d="M4048 3338l-21-41-116-39z" color="#28ae80"/>
<path d="M4732 4107l117-39-24-34z" color="#24868e"/>
<path d="M1791 2535l-18-119-121-94z" color="#84d44b"/>
<path d="M3582 3464l96-136-116 84z" color="#23a983"/>
<path d="M5339 5309l114 10-131-298z" color="#3f4788"/>
<path d="M1809 2652l121 87-139-204z" color="#67cc5c"/>
<path d="M5179 1925l96-277-15-56z" color="#eae51a"/>
<path d="M5650 1608l115-12-25-69z" color="#fde725"/>
<path d="M1371 1629l86 81-18-133-43 7z" color="#f6e620"/>
<path d="M5816 6183l-27-43-116 27z" color="#450457"/>
<path d="M5267 5610l90-54-112-90z" color="#46327e"/>
<path d="M3486 3631l-20-55-115 102z" color="#1f9e89"/>
<path d="M5980 5707l126-211-148 76z" color="#472f7d"/>
<path d="M5260 1592l18-16-22 2z" color="#fde725"/>
<path d="M4480 3924l114 118-137-153z" color="#228d8d"/>
<path d="M5418 1633l91-82-115 12z" color="#fde725"/>
<path d="M2925 4003l97-91-116 4z" color="#218e8d"/>
<path d="M1336 1633l60-49 19-31-94 10z" color="#fde725"/>
<path d="M2398 3604l118 47-137-151z" color="#1fa188"/>
<path d="M1494 1973l122 101-141-232z" color="#c8e020"/>
<path d="M2535 3750l118 36-137-135z" color="#1f998a"/>
<path d="M3370 3748l116-117-135 47z" color="#1e9b8a"/>
<path d="M5124 2518l125-353-24-74z" color="#9dd93b"/>
<path d="M1336 1633l-15-70-118 12z" color="#fde725"/>
<path d="M4185 3491l-22-56-115-97z" color="#23a983"/>
<path d="M5418 1633l-24-70-116 13z" color="#fde725"/>
<path d="M4997 3362l125-339-149 298z" color="#2db27d"/>
<path d="M3042 3997l116-31-136-54z" color="#228d8d"/>
<path d="M2260 3443l119 57-137-165z" color="#23a983"/>
<path d="M2105 3157l-19-112-120-77z" color="#3bbb75"/>
<path d="M1827 2769l121 85-18-115z" color="#58c765"/>
<path d="M4967 3943l-23-73-119 164z" color="#218e8d"/>
<path d="M5534 1621l116-13-141-57z" color="#fde725"/>
<path d="M5683 5310l120-108-8-464z" color="#3b518b"/>
<path d="M1512 2100l122 99-18-125z" color="#b2dd2d"/>
<path d="M5816 6183l92-148-119 105z" color="#46085c"/>
<path d="M5937 5391l127-245-142-53z" color="#3e4989"/>
<path d="M4849 4068l118-125-142 91z" color="#228b8d"/>
<path d="M2925 4003l117-6-20-85z" color="#228d8d"/>
<path d="M2925 4003l-19-87-117-12z" color="#218f8d"/>
<path d="M5225 5276l114 33-17-288z" color="#3e4989"/>
<path d="M5148 2561l126-345-150 302z" color="#86d549"/>
<path d="M5418 1633l116-12-25-70z" color="#fde725"/>
<path d="M3158 3966l116-64-19-70z" color="#21918c"/>
<path d="M4343 3739l114 150-136-201z" color="#1f978b"/>
<path d="M2671 3880l118 24-136-118z" color="#20938c"/>
<path d="M4617 4058l115 49-138-65z" color="#23888e"/>
<path d="M1827 2769l103-30-121-87z" color="#60ca60"/>
<path d="M5453 5319l-14-355-117 57z" color="#3c508b"/>
<path d="M1101 1657l102-82-117 13z" color="#fde725"/>
<path d="M2123 3268l119 67-137-178z" color="#2db27d"/>
<path d="M1475 1842l-18-132-86-81-9 15z" color="#f1e51d"/>
<path d="M5449 6008l111 113-25-64z" color="#471063"/>
<path d="M4921 3801l122-267-23-98z" color="#1fa187"/>
<path d="M1512 2100l104-26-122-101z" color="#c0df25"/>
<path d="M5699 6214l117-31-143-16z" color="#450559"/>
<path d="M6005 5805l101-309-126 211z" color="#472c7a"/>
<path d="M3390 3799l-20-51-115 84z" color="#1f978b"/>
<path d="M3486 3631l96-167-116 112z" color="#20a386"/>
<path d="M5958 5572l126-230-20-196z" color="#424186"/>
<path d="M5275 1648l-96 277 113-224z" color="#eae51a"/>
<path d="M1670 2442l121 93-139-213z" color="#89d548"/>
<path d="M3815 3300l-20-29-117 57z" color="#2ab07f"/>
<path d="M5449 6008l86 49-111-111z" color="#481467"/>
<path d="M1336 1633l35-4 25-45z" color="#fde725"/>
<path d="M5275 1648l27-3-24-69-18 16z" color="#fde725"/>
<path d="M5790 1666l91-82-116 12z" color="#fde725"/>
<path d="M3815 3300l96-42-116 13z" color="#2cb17e"/>
<path d="M5586 6168l87-1-113-46z" color="#46085c"/>
<path d="M6106 5496l-22-154-126 230z" color="#443a83"/>
<path d="M5202 2000l96-282-6-17-113 224z" color="#dfe318"/>
<path d="M1218 1645l118-12-133-58z" color="#fde725"/>
<path d="M1652 2322l-18-123-122-99z" color="#aadc32"/>
<path d="M3582 3464l117-98-21-38z" color="#26ad81"/>
<path d="M5302 1645l116-12-140-57z" color="#fde725"/>
<path d="M5290 5714l110 148-133-252z" color="#482979"/>
<path d="M4944 3870l122-236-145 167z" color="#1f998a"/>
<path d="M2416 3707l100-56-118-47z" color="#1f9f88"/>
<path d="M2416 3707l119 43-19-99z" color="#1e9c89"/>
<path d="M5453 5319l104-426-118 71z" color="#3a548c"/>
<path d="M1966 2968l-18-114-121-85z" color="#54c568"/>
<path d="M2279 3549l119 55-19-104z" color="#20a486"/>
<path d="M3932 3287l116 51-137-80z" color="#2cb17e"/>
<path d="M5790 1666l-25-70-115 12z" color="#fde725"/>
<path d="M2279 3549l100-49-119-57z" color="#22a785"/>
<path d="M2553 3847l100-61-118-36z" color="#1f978b"/>
<path d="M3274 3902l116-103-135 33z" color="#1f958b"/>
<path d="M1101 1657l117-12-15-70z" color="#fde725"/>
<path d="M5122 3023l-25-37-124 335z" color="#3aba76"/>
<path d="M5225 5276l97-255-116 18z" color="#3b518b"/>
<path d="M1688 2561l121 91-18-117z" color="#75d054"/>
<path d="M5803 5202l119-109-127-355z" color="#38588c"/>
<path d="M5586 6168l113 46-26-47z" color="#46075a"/>
<path d="M2807 3992l118 11-136-99z" color="#218f8d"/>
<path d="M2553 3847l118 33-18-94z" color="#1f958b"/>
<path d="M5908 6035l123-161-26-69z" color="#481d6f"/>
<path d="M1984 3081l121 76-139-189z" color="#3fbc73"/>
<path d="M5683 5310l-6-516-120 99z" color="#38598c"/>
<path d="M2141 3378l119 65-18-108z" color="#26ad81"/>
<path d="M4872 4126l-23-58-117 39z" color="#23888e"/>
<path d="M4207 3543l114 145-136-197z" color="#20a386"/>
<path d="M5790 1666l116-13-25-69z" color="#fde725"/>
<path d="M3061 4075l97-109-116 31z" color="#228d8d"/>
<path d="M1371 1629l-35 4 26 11z" color="#fde725"/>
<path d="M2141 3378l101-43-119-67z" color="#2ab07f"/>
<path d="M5134 5331l111 135-20-190z" color="#414287"/>
<path d="M3699 3366l116-66-137 28z" color="#2ab07f"/>
<path d="M5558 1690l92-82-116 13z" color="#fde725"/>
<path d="M5274 2216l-25-51-125 353z" color="#a0da39"/>
<path d="M1688 2561l103-26-121-93z" color="#81d34d"/>
<path d="M3061 4075l-19-78-117 6z" color="#228d8d"/>
<path d="M5314 5788l110 158-24-84z" color="#482071"/>
<path d="M3390 3799l96-168-116 117z" color="#1e9c89"/>
<path d="M2690 3970l99-66-118-24z" color="#20928c"/>
<path d="M5816 6183l119-102-27-46z" color="#471063"/>
<path d="M3815 3300l117-13-21-29z" color="#2eb37c"/>
<path d="M5020 3436l102-413-125 339z" color="#2eb37c"/>
<path d="M1371 1868l123 105-19-131z" color="#dae319"/>
<path d="M5267 5610l-22-144-111-135z" color="#433d84"/>
<path d="M5066 3634l-23-100-122 267z" color="#1fa088"/>
<path d="M5225 5276l-19-237-114-47z" color="#3a538b"/>
<path d="M5558 1690l-24-69-116 12z" color="#fde725"/>
<path d="M1352 1733l123 109-113-198-18 27z" color="#f4e61e"/>
<path d="M4069 3377l116 114-137-153z" color="#27ad81"/>
<path d="M4503 3945l91 97-114-118z" color="#21908d"/>
<path d="M1362 1644l-26-11 8 38z" color="#fde725"/>
<path d="M2690 3970l117 22-18-88z" color="#21918c"/>
<path d="M6064 5146l-19-216-123 163z" color="#39568c"/>
<path d="M5674 1678l116-12-140-58z" color="#fde725"/>
<path d="M2002 3194l121 74-18-111z" color="#34b679"/>
<path d="M5683 5310l112-572-118 56z" color="#365d8d"/>
<path d="M3293 3965l-19-63-116 64z" color="#20928c"/>
<path d="M4503 3945l114 113-23-16z" color="#218e8d"/>
<path d="M1827 2769l-18-117-121-91z" color="#70cf57"/>
<path d="M2416 3707l-18-103-119-55z" color="#1fa287"/>
<path d="M4366 3773l114 151-23-35z" color="#1f968b"/>
<path d="M5225 2091l80-357-7-16-96 282z" color="#dde318"/>
<path d="M4872 4126l95-183-118 125z" color="#228c8d"/>
<path d="M2553 3847l-18-97-119-43z" color="#1e9b8a"/>
<path d="M5206 5039l116-18-134-239z" color="#365d8d"/>
<path d="M1530 2224l122 98-140-222z" color="#addc30"/>
<path d="M3061 4075l116-36-19-73z" color="#218e8d"/>
<path d="M5558 1690l116-12-24-70z" color="#fde725"/>
<path d="M2002 3194l103-37-121-76z" color="#3aba76"/>
<path d="M1845 2884l121 84-139-199z" color="#56c667"/>
<path d="M5314 5788l86 74-110-148z" color="#482878"/>
<path d="M3486 3631l116-126-20-41z" color="#22a785"/>
<path d="M5072 2971l126-367-25-13z" color="#69cd5b"/>
<path d="M5112 5187l113 89-133-284z" color="#3b518b"/>
<path d="M4366 3773l91 116-114-150z" color="#1f998a"/>
<path d="M5173 2591l101-375-126 345z" color="#8bd646"/>
<path d="M1371 1868l104-26-123-109z" color="#eae51a"/>
<path d="M2279 3549l-19-106-119-65z" color="#25ab82"/>
<path d="M1233 1715l103-82-118 12z" color="#fde725"/>
<path d="M5326 1715l92-82-116 12z" color="#fde725"/>
<path d="M4756 4140l116-14-140-19z" color="#23898e"/>
<path d="M4967 3943l99-309-122 236z" color="#1f998a"/>
<path d="M5586 6168l-26-47-111-113z" color="#471164"/>
<path d="M1512 2100l-18-127-123-105z" color="#d2e21b"/>
<path d="M6005 5805l125-200-24-109z" color="#46337f"/>
<path d="M1547 2346l123 96-18-120z" color="#98d83e"/>
<path d="M2690 3970l-19-90-118-33z" color="#1f948c"/>
<path d="M5134 5331l91-55-113-89z" color="#3e4a89"/>
<path d="M3177 4039l116-74-135 1z" color="#21908d"/>
<path d="M2943 4085l118-10-136-72z" color="#228d8d"/>
<path d="M2826 4075l99-72-118-11z" color="#218f8d"/>
<path d="M5322 5021l117-57-16-299z" color="#34618d"/>
<path d="M1233 1715l-15-70-117 12z" color="#fde725"/>
<path d="M4641 4082l91 25-115-49z" color="#228c8d"/>
<path d="M5922 5093l123-163-17-254z" color="#34618d"/>
<path d="M3293 3965l97-166-116 103z" color="#1f958b"/>
<path d="M5726 6247l90-64-117 31z" color="#46085c"/>
<path d="M5322 5021l-17-280-117 41z" color="#32648e"/>
<path d="M5442 1703l116-13-140-57z" color="#fde725"/>
<path d="M1863 2999l121 82-18-113z" color="#48c16e"/>
<path d="M5326 1715l-24-70-27 3 17 53z" color="#fde725"/>
<path d="M5092 4992l114 47-18-257z" color="#355f8d"/>
<path d="M5931 1723l-25-70-116 13z" color="#fde725"/>
<path d="M1233 1715l88-10 23-34-8-38z" color="#fde725"/>
<path d="M3719 3397l-20-31-117 98z" color="#28ae80"/>
<path d="M2141 3378l-18-110-121-74z" color="#31b57b"/>
<path d="M4228 3586l115 153-22-51z" color="#1fa187"/>
<path d="M1547 2346l105-24-122-98z" color="#a5db36"/>
<path d="M2826 4075l117 10-18-82z" color="#218e8d"/>
<path d="M5326 1715l116-12-24-70z" color="#fde725"/>
<path d="M6058 5924l-27-50-123 161z" color="#481f70"/>
<path d="M5439 4964l118-71-134-228z" color="#32658e"/>
<path d="M5935 6081l123-157-150 111z" color="#481a6c"/>
<path d="M1321 1705l31 28-8-62z" color="#fbe723"/>
<path d="M5322 5021l101-356-118 76z" color="#31668e"/>
<path d="M1863 2999l103-31-121-84z" color="#52c569"/>
<path d="M4641 4082l115 58-24-33z" color="#228b8d"/>
<path d="M3953 3310l95 28-116-51z" color="#2fb47c"/>
<path d="M6064 5146l100-291-119 75z" color="#365d8d"/>
<path d="M2434 3807l119 40-137-140z" color="#1e9c89"/>
<path d="M2297 3655l119 52-137-158z" color="#20a386"/>
<path d="M5449 6008l-25-62-110-158z" color="#482173"/>
<path d="M6084 5342l124-180-144-16z" color="#3c4f8a"/>
<path d="M3390 3799l116-130-20-38z" color="#1fa188"/>
<path d="M2826 4075l-19-83-117-22z" color="#21908d"/>
<path d="M4228 3586l93 102-114-145z" color="#21a585"/>
<path d="M5726 6247l-27-33-113-46z" color="#460b5e"/>
<path d="M1688 2561l-18-119-123-96z" color="#90d743"/>
<path d="M6106 5496l102-334-124 180z" color="#3f4889"/>
<path d="M4872 4126l118-84-23-99z" color="#218f8d"/>
<path d="M1706 2679l121 90-139-208z" color="#73d056"/>
<path d="M5922 5093l106-417-116 10z" color="#31668e"/>
<path d="M5922 5093l-10-407-117 52z" color="#32658e"/>
<path d="M6031 5874l125-196-151 127z" color="#472a7a"/>
<path d="M5097 2986l127-371-152 356z" color="#5cc863"/>
<path d="M3602 3505l117-108-137 67z" color="#26ad81"/>
<path d="M5699 1748l91-82-116 12z" color="#fde725"/>
<path d="M5156 5442l111 168-133-279z" color="#424086"/>
<path d="M1115 1727l118-12-132-58z" color="#fde725"/>
<path d="M2159 3487l120 62-138-171z" color="#26ad81"/>
<path d="M2571 3942l119 28-137-123z" color="#1f958b"/>
<path d="M3953 3310l116 67-21-39z" color="#2eb37c"/>
<path d="M3719 3397l96-97-116 66z" color="#2db27d"/>
<path d="M5092 4992l96-210-116-15z" color="#32658e"/>
<path d="M5963 6119l-28-38-119 102z" color="#471365"/>
<path d="M5699 1748l-25-70-116 12z" color="#fde725"/>
<path d="M4091 3420l116 123-22-52z" color="#25ac82"/>
<path d="M1389 1997l123 103-141-232z" color="#d5e21a"/>
<path d="M2002 3194l-18-113-121-82z" color="#44bf70"/>
<path d="M6064 5146l123-145-23-146z" color="#365d8d"/>
<path d="M5815 1736l116-13-141-57z" color="#fde725"/>
<path d="M6156 5678l-26-73-125 200z" color="#46327e"/>
<path d="M5726 6247l117-30-27-34z" color="#460b5e"/>
<path d="M3196 4100l-19-61-116 36z" color="#218e8d"/>
<path d="M5180 5526l110 188-23-104z" color="#453781"/>
<path d="M4091 3420l94 71-116-114z" color="#29af7f"/>
<path d="M1723 2796l122 88-18-115z" color="#63cb5f"/>
<path d="M6164 4855l116-23-21-176z" color="#30698e"/>
<path d="M3953 3310l-21-23-117 13z" color="#32b67a"/>
<path d="M1371 1868l-19-135-31-28-23 38z" color="#f6e620"/>
<path d="M5225 2091l105-304-25-53z" color="#e7e419"/>
<path d="M5298 1718l28-3-34-14z" color="#fde725"/>
<path d="M1407 2123l123 101-18-124z" color="#c0df25"/>
<path d="M6045 4930l119-75-136-179z" color="#31678e"/>
<path d="M6164 4855l95-199-115 17z" color="#2f6c8e"/>
<path d="M5188 4782l117-41-19-253z" color="#2d708e"/>
<path d="M2962 4161l99-86-118 10z" color="#228d8d"/>
<path d="M5699 1748l116-12-25-70z" color="#fde725"/>
<path d="M3196 4100l97-135-116 74z" color="#21918c"/>
<path d="M2020 3306l121 72-139-184z" color="#34b679"/>
<path d="M6208 5162l-21-161-123 145z" color="#38588c"/>
<path d="M3293 3965l116-122-19-44z" color="#1f998a"/>
<path d="M6144 4673l115-17-134-197z" color="#2c738e"/>
<path d="M1321 1705l-88 10 65 28z" color="#fde725"/>
<path d="M1723 2796l104-27-121-90z" color="#6ece58"/>
<path d="M4503 3945l-23-21-114-151z" color="#1f988b"/>
<path d="M5467 1773l91-83-116 13z" color="#fde725"/>
<path d="M5557 4893l-15-308-119 80z" color="#2e6e8e"/>
<path d="M5305 1734l21-19-28 3z" color="#fde725"/>
<path d="M5012 4177l-22-135-118 84z" color="#228d8d"/>
<path d="M5043 3534l125-319-148 221z" color="#2cb17e"/>
<path d="M6164 4855l-20-182-116 3z" color="#2e6d8e"/>
<path d="M5072 4767l116 15-135-234z" color="#2e6f8e"/>
<path d="M2315 3759l119 48-18-100z" color="#1f9f88"/>
<path d="M4641 4082l-24-24-114-113z" color="#21918c"/>
<path d="M4779 4203l93-77-116 14z" color="#238a8d"/>
<path d="M5843 6217l120-98-147 64z" color="#471164"/>
<path d="M2315 3759l101-52-119-52z" color="#1fa187"/>
<path d="M3623 3535l-21-30-116 126z" color="#23a983"/>
<path d="M2708 4057l118 18-136-105z" color="#21918c"/>
<path d="M4967 3943l121-188-22-121z" color="#1f9e89"/>
<path d="M5305 4741l118-76-137-177z" color="#2c718e"/>
<path d="M2453 3907l100-60-119-40z" color="#1f9a8a"/>
<path d="M5188 4782l98-294-117 47z" color="#2c738e"/>
<path d="M5188 4782l-19-247-116 13z" color="#2c728e"/>
<path d="M5557 4893l120-99-17-274z" color="#2e6d8e"/>
<path d="M6259 4656l-18-228-116 31z" color="#2a788e"/>
<path d="M2962 4161l-19-76-117-10z" color="#228d8d"/>
<path d="M2177 3596l120 59-18-106z" color="#22a785"/>
<path d="M4990 4042l120-136-143 37z" color="#1f948c"/>
<path d="M2453 3907l118 35-18-95z" color="#1f988b"/>
<path d="M6305 4940l-25-108-116 23z" color="#32658e"/>
<path d="M1407 2123l105-23-123-103z" color="#cde11d"/>
<path d="M5474 6058l112 110-137-160z" color="#48186a"/>
<path d="M6028 4676l116-3-19-214z" color="#2c738e"/>
<path d="M5467 1773l-25-70-116 12z" color="#fde725"/>
<path d="M4895 4220l117-43-140-51z" color="#238a8d"/>
<path d="M2177 3596l102-47-120-62z" color="#25ab82"/>
<path d="M3079 4144l117-44-135-25z" color="#218e8d"/>
<path d="M5224 2615l-26-11-126 367z" color="#70cf57"/>
<path d="M5583 1760l116-12-141-58z" color="#fde725"/>
<path d="M5020 3436l126-336-24-77z" color="#3dbc74"/>
<path d="M2962 4161l117-17-18-69z" color="#228d8d"/>
<path d="M5000 5025l112 162-20-195z" color="#375b8d"/>
<path d="M1565 2466l123 95-141-215z" color="#95d840"/>
<path d="M3506 3669l117-134-137 96z" color="#22a785"/>
<path d="M6106 5496l125-194-23-140z" color="#3e4c8a"/>
<path d="M5180 5526l87 84-111-168z" color="#423f85"/>
<path d="M1547 2346l-17-122-123-101z" color="#b8de29"/>
<path d="M1863 2999l-18-115-122-88z" color="#5ec962"/>
<path d="M6187 5001l118-61-141-85z" color="#33638d"/>
<path d="M4779 4203l116 17-23-94z" color="#238a8d"/>
<path d="M5134 5331l-22-144-112-162z" color="#3a548c"/>
<path d="M2590 4035l100-65-119-28z" color="#1f948c"/>
<path d="M5092 4992l-20-225-114-78z" color="#30698e"/>
<path d="M5557 4893l103-373-118 65z" color="#2d718e"/>
<path d="M5467 1773l116-13-25-70z" color="#fde725"/>
<path d="M4366 3773l-23-34-115-153z" color="#20a386"/>
<path d="M2038 3418l121 69-18-109z" color="#2cb17e"/>
<path d="M6028 4676l97-217-116 4z" color="#2a788e"/>
<path d="M6130 5605l126-201-150 92z" color="#424186"/>
<path d="M5612 6207l114 40-140-79z" color="#471063"/>
<path d="M3719 3397l117-72-21-25z" color="#31b57b"/>
<path d="M5110 3906l-22-151-121 188z" color="#1f9a8a"/>
<path d="M1881 3114l121 80-139-195z" color="#48c16e"/>
<path d="M1271 1782l100 86-73-125z" color="#f6e620"/>
<path d="M1130 1797l103-82-118 12z" color="#fde725"/>
<path d="M2590 4035l118 22-18-87z" color="#20928c"/>
<path d="M5423 4665l-19-236-118 59z" color="#2a788e"/>
<path d="M5677 4794l118-56-135-218z" color="#2d718e"/>
<path d="M1583 2585l123 94-18-118z" color="#84d44b"/>
<path d="M4779 4203l-23-63-115-58z" color="#228d8d"/>
<path d="M3836 3325l117-15-138-10z" color="#34b679"/>
<path d="M5330 1787l-105 304 131-243z" color="#e7e419"/>
<path d="M5249 2165l110-308-3-9-131 243z" color="#dde318"/>
<path d="M2038 3418l103-40-121-72z" color="#2fb47c"/>
<path d="M5963 6119l95-195-123 157z" color="#481d6f"/>
<path d="M5169 4535l117-47-136-184z" color="#287d8e"/>
<path d="M5314 5788l-24-74-110-188z" color="#453781"/>
<path d="M6208 5162l97-222-118 61z" color="#355e8d"/>
<path d="M6058 5924l98-246-125 196z" color="#472d7b"/>
<path d="M5053 4548l116-13-19-231z" color="#287c8e"/>
<path d="M5912 4686l116-10-135-208z" color="#2b748e"/>
<path d="M5795 4738l117-52-19-218z" color="#2c738e"/>
<path d="M5841 1806l90-83-116 13z" color="#fde725"/>
<path d="M5330 1787l21-2-25-70-21 19z" color="#fde725"/>
<path d="M6028 4676l-19-213-116 5z" color="#29798e"/>
<path d="M5423 4665l119-80-20-207z" color="#2a788e"/>
<path d="M3526 3696l-20-27-116 130z" color="#1fa287"/>
<path d="M1248 1785l23-3 27-39-65-28z" color="#fde725"/>
<path d="M3196 4100l117-83-20-52z" color="#20928c"/>
<path d="M5012 4177l98-271-120 136z" color="#20928c"/>
<path d="M5423 4665l99-287-118 51z" color="#297b8e"/>
<path d="M4958 4689l114 78-19-219z" color="#2c718e"/>
<path d="M5351 1785l116-12-141-58z" color="#fde725"/>
<path d="M2845 4159l117 2-136-86z" color="#218e8d"/>
<path d="M5066 3634l102-419-125 319z" color="#2ab07f"/>
<path d="M2453 3907l-19-100-119-48z" color="#1f9e89"/>
<path d="M5173 2591l126-338-25-37z" color="#a8db34"/>
<path d="M6125 4459l116-31-15-285z" color="#26828e"/>
<path d="M5053 4548l97-244-117 44z" color="#27808e"/>
<path d="M1583 2585l105-24-123-95z" color="#8ed645"/>
<path d="M3623 3535l96-138-117 108z" color="#29af7f"/>
<path d="M6009 4463l116-4-134-226z" color="#26818e"/>
<path d="M4917 4350l95-173-117 43z" color="#23888e"/>
<path d="M2315 3759l-18-104-120-59z" color="#21a585"/>
<path d="M5033 4348l117-44-138-127z" color="#24868e"/>
<path d="M5339 5845l110 163-135-220z" color="#482979"/>
<path d="M4091 3420l-22-43-116-67z" color="#31b57b"/>
<path d="M1265 1893l124 104-18-129z" color="#e7e419"/>
<path d="M5841 1806l-26-70-116 12z" color="#fde725"/>
<path d="M5122 3023l102-408-127 371z" color="#63cb5f"/>
<path d="M6256 5404l-25-102-125 194z" color="#3e4989"/>
<path d="M4228 3586l-21-43-116-123z" color="#27ad81"/>
<path d="M5053 4548l-20-200-116 2z" color="#27808e"/>
<path d="M4979 4869l113 123-134-303z" color="#30698e"/>
<path d="M3409 3843l117-147-136 103z" color="#1fa188"/>
<path d="M2727 4147l99-72-118-18z" color="#21908d"/>
<path d="M1899 3228l121 78-18-112z" color="#3bbb75"/>
<path d="M1130 1797l118-12-15-70z" color="#fde725"/>
<path d="M5795 4738l98-270-116 15z" color="#2a788e"/>
<path d="M4917 4350l116-2-21-171z" color="#24868e"/>
<path d="M2590 4035l-19-93-118-35z" color="#1f978b"/>
<path d="M5795 4738l-18-255-117 37z" color="#2a778e"/>
<path d="M5286 4488l-18-249-118 65z" color="#25838e"/>
<path d="M4917 4350l-22-130-116-17z" color="#23888e"/>
<path d="M5168 3215l-22-115-126 336z" color="#3bbb75"/>
<path d="M5000 5025l92-33-113-123z" color="#33638d"/>
<path d="M5150 4304l-20-214-118 87z" color="#228b8d"/>
<path d="M6125 4459l-17-265-117 39z" color="#24868e"/>
<path d="M5893 4468l116-5-18-230z" color="#26828e"/>
<path d="M5542 4585l118-65-138-142z" color="#287c8e"/>
<path d="M5286 4488l118-59-18-250z" color="#26828e"/>
<path d="M5841 1806l116-12-26-71z" color="#fde725"/>
<path d="M2177 3596l-18-109-121-69z" color="#28ae80"/>
<path d="M1723 2796l-17-117-123-94z" color="#7cd250"/>
<path d="M1899 3228l103-34-121-80z" color="#42be71"/>
<path d="M2727 4147l118 12-19-84z" color="#218f8d"/>
<path d="M4938 4510l115 38-136-198z" color="#287d8e"/>
<path d="M6208 5162l122-121-25-101z" color="#355f8d"/>
<path d="M5870 6252l-27-35-117 30z" color="#471063"/>
<path d="M5893 4468l-20-188-117 31z" color="#25838e"/>
<path d="M1741 2912l122 87-140-203z" color="#60ca60"/>
<path d="M1424 2246l123 100-140-223z" color="#bddf26"/>
<path d="M6125 4459l101-316-118 51z" color="#23888e"/>
<path d="M5660 4520l-21-174-117 32z" color="#26818e"/>
<path d="M5012 4177l118-87-20-184z" color="#20928c"/>
<path d="M5608 1831l91-83-116 12z" color="#fde725"/>
<path d="M5660 4520l96-209-117 35z" color="#26828e"/>
<path d="M5777 4483l116-15-137-157z" color="#27808e"/>
<path d="M5893 4468l98-235-118 47z" color="#25848e"/>
<path d="M4958 4689l95-141-115-38z" color="#2a788e"/>
<path d="M3429 3880l-20-37-116 122z" color="#1e9b8a"/>
<path d="M5286 4488l100-309-118 60z" color="#24868e"/>
<path d="M5660 4520l117-37-21-172z" color="#277f8e"/>
<path d="M5404 4429l118-51-136-199z" color="#25858e"/>
<path d="M3098 4203l98-103-117 44z" color="#218e8d"/>
<path d="M1265 1893l106-25-100-86-17 30z" color="#f6e620"/>
<path d="M6156 5678l100-274-126 201z" color="#424086"/>
<path d="M3098 4203l-19-59-117 17z" color="#228d8d"/>
<path d="M1407 2123l-18-126-124-104z" color="#dfe318"/>
<path d="M2727 4147l-19-90-118-22z" color="#20928c"/>
<path d="M5608 1831l-25-71-116 13z" color="#fde725"/>
<path d="M1442 2367l123 99-18-120z" color="#a8db34"/>
<path d="M4526 3967l115 115-138-137z" color="#1f968b"/>
<path d="M3313 4017l116-137-136 85z" color="#1f988b"/>
<path d="M5724 1818l117-12-142-58z" color="#fde725"/>
<path d="M5870 6252l93-133-120 98z" color="#481668"/>
<path d="M5522 4378l117-32-18-246z" color="#23888e"/>
<path d="M5500 6101l86 67-112-110z" color="#481b6d"/>
<path d="M5274 2216l88-348-3-11-110 308z" color="#dde318"/>
<path d="M5639 4346l117-35-135-211z" color="#23898e"/>
<path d="M5500 6101l112 106-26-39z" color="#48186a"/>
<path d="M2333 3864l120 43-138-148z" color="#1f9f88"/>
<path d="M1271 1782l-23 3 6 27z" color="#fde725"/>
<path d="M5198 2604l126-322-151 309z" color="#9bd93c"/>
<path d="M1759 3029l122 85-18-115z" color="#52c569"/>
<path d="M2038 3418l-18-112-121-78z" color="#38b977"/>
<path d="M5023 5144l111 187-134-306z" color="#38598c"/>
<path d="M4388 3797l115 148-137-172z" color="#1f9f88"/>
<path d="M4664 4126l115 77-138-121z" color="#21908d"/>
<path d="M5088 3755l123-213-145 92z" color="#23a983"/>
<path d="M2195 3704l120 55-138-163z" color="#22a785"/>
<path d="M5046 5234l110 208-22-111z" color="#3c4f8a"/>
<path d="M5608 1831l116-13-25-70z" color="#fde725"/>
<path d="M5150 4304l100-317-120 103z" color="#21918c"/>
<path d="M5150 4304l118-65-18-252z" color="#218e8d"/>
<path d="M4801 4298l116 52-138-147z" color="#23888e"/>
<path d="M2471 4007l119 28-137-128z" color="#1f978b"/>
<path d="M3526 3696l97-161-117 134z" color="#24aa83"/>
<path d="M5522 4378l-18-243-118 44z" color="#228b8d"/>
<path d="M2863 4242l99-81-117-2z" color="#228d8d"/>
<path d="M5756 4311l117-31-16-286z" color="#228d8d"/>
<path d="M6231 5302l124-162-147 22z" color="#38588c"/>
<path d="M1442 2367l105-21-123-100z" color="#b5de2b"/>
<path d="M5375 1856l92-83-116 12z" color="#fde725"/>
<path d="M5873 4280l118-47-134-239z" color="#218f8d"/>
<path d="M5522 4378l99-278-117 35z" color="#228d8d"/>
<path d="M1759 3029l104-30-122-87z" color="#5cc863"/>
<path d="M5130 4090l120-103-140-81z" color="#1f978b"/>
<path d="M5364 5893l110 165-25-50z" color="#482576"/>
<path d="M5756 4311l-17-257-118 46z" color="#21908d"/>
<path d="M1254 1812l-6-27-118 12 105 46z" color="#fde725"/>
<path d="M5639 6244l87 3-114-40z" color="#481467"/>
<path d="M5753 6282l117-30-144-5z" color="#471164"/>
<path d="M3857 3355l-21-30-117 72z" color="#35b779"/>
<path d="M3623 3535l117-112-21-26z" color="#2eb37c"/>
<path d="M5963 6119l123-156-28-39z" color="#482576"/>
<path d="M2057 3529l120 67-139-178z" color="#2ab07f"/>
<path d="M6355 5140l-25-99-122 121z" color="#365d8d"/>
<path d="M5268 4239l118-60-136-192z" color="#21918c"/>
<path d="M2981 4232l117-29-136-42z" color="#228d8d"/>
<path d="M3974 3351l117 69-138-110z" color="#35b779"/>
<path d="M1601 2703l122 93-140-211z" color="#81d34d"/>
<path d="M1583 2585l-18-119-123-99z" color="#a0da39"/>
<path d="M4251 3618l115 155-138-187z" color="#23a983"/>
<path d="M5491 1843l117-12-141-58z" color="#fde725"/>
<path d="M3857 3355l96-45-117 15z" color="#38b977"/>
<path d="M3098 4203l117-58-19-45z" color="#21908d"/>
<path d="M5110 3906l101-364-123 213z" color="#21a585"/>
<path d="M3332 4049l-19-32-117 83z" color="#1f958b"/>
<path d="M5756 4311l101-317-118 60z" color="#20928c"/>
<path d="M2608 4132l119 15-137-112z" color="#20928c"/>
<path d="M4823 4420l115 90-21-160z" color="#26828e"/>
<path d="M2863 4242l118-10-19-71z" color="#228d8d"/>
<path d="M2863 4242l-18-83-118-12z" color="#218f8d"/>
<path d="M6058 5924l126-195-28-51z" color="#463480"/>
<path d="M5375 1856l-24-71-21 2 26 61z" color="#fde725"/>
<path d="M5983 1864l-26-70-116 12z" color="#fde725"/>
<path d="M5364 5893l85 115-110-163z" color="#472c7a"/>
<path d="M5324 2282l-25-29-126 338z" color="#b0dd2f"/>
<path d="M5375 1856l116-13-24-70z" color="#fde725"/>
<path d="M5991 4233l117-39-13-332z" color="#20938c"/>
<path d="M4958 4689l-20-179-115-90z" color="#287c8e"/>
<path d="M1899 3228l-18-114-122-85z" color="#4ec36b"/>
<path d="M1283 2020l124 103-142-230z" color="#e5e419"/>
<path d="M3429 3880l97-184-117 147z" color="#1fa287"/>
<path d="M2352 3968l101-61-120-43z" color="#1e9d89"/>
<path d="M5639 6244l114 38-27-35z" color="#481467"/>
<path d="M5066 3634l124-269-22-150z" color="#34b679"/>
<path d="M2214 3812l119 52-18-105z" color="#1fa187"/>
<path d="M2352 3968l119 39-18-100z" color="#1f9a8a"/>
<path d="M5204 5587l110 201-134-262z" color="#423f85"/>
<path d="M4113 3459l115 127-137-166z" color="#2db27d"/>
<path d="M1265 1893l-11-81-19 31z" color="#fbe723"/>
<path d="M6108 4194l118-51-131-281z" color="#1f958b"/>
<path d="M6256 5404l99-264-124 162z" color="#3a548c"/>
<path d="M2214 3812l101-53-120-55z" color="#20a486"/>
<path d="M1619 2821l122 91-18-116z" color="#70cf57"/>
<path d="M5046 5234l88 97-111-187z" color="#38588c"/>
<path d="M4823 4420l94-70-116-52z" color="#24868e"/>
<path d="M1301 2145l123 101-17-123z" color="#d0e11c"/>
<path d="M1917 3342l121 76-139-190z" color="#3aba76"/>
<path d="M5250 3987l-19-238-121 157z" color="#1f9f88"/>
<path d="M5991 4233l-15-308-119 69z" color="#1f968b"/>
<path d="M2490 4108l100-73-119-28z" color="#1f968b"/>
<path d="M5211 3542l-21-177-124 269z" color="#2cb17e"/>
<path d="M3740 3423l117-68-138 42z" color="#35b779"/>
<path d="M5180 5526l-24-84-110-208z" color="#3d4e8a"/>
<path d="M3215 4145l117-96-136 51z" color="#20938c"/>
<path d="M2075 3640l120 64-18-108z" color="#25ab82"/>
<path d="M5749 1889l92-83-117 12z" color="#fde725"/>
<path d="M5870 6252l121-97-28-36z" color="#481b6d"/>
<path d="M2490 4108l118 24-18-97z" color="#1f948c"/>
<path d="M5386 4179l118-44-17-303z" color="#1f968b"/>
<path d="M5386 4179l-17-286-119 94z" color="#1f988b"/>
<path d="M1145 1868l80-9 10-16-105-46z" color="#fde725"/>
<path d="M1619 2821l104-25-122-93z" color="#7ad151"/>
<path d="M3857 3355l117-4-21-41z" color="#3aba76"/>
<path d="M2075 3640l102-44-120-67z" color="#28ae80"/>
<path d="M1225 1859l40 34-30-50z" color="#fbe723"/>
<path d="M5504 4135l117-35-134-268z" color="#1f988b"/>
<path d="M4867 4697l112 172-21-180z" color="#2c728e"/>
<path d="M5749 1889l-25-71-116 13z" color="#fde725"/>
<path d="M4687 4195l114 103-22-95z" color="#218e8d"/>
<path d="M2745 4240l118 2-136-95z" color="#218f8d"/>
<path d="M5866 1877l117-13-142-58z" color="#fde725"/>
<path d="M6156 5678l127-206-27-68z" color="#3f4788"/>
<path d="M1301 2145l106-22-124-103z" color="#dde318"/>
<path d="M5991 4233l104-371-119 63z" color="#1f998a"/>
<path d="M5000 5025l-21-156-112-172z" color="#2e6d8e"/>
<path d="M5110 3906l121-157-20-207z" color="#22a785"/>
<path d="M3332 4049l97-169-116 137z" color="#1e9b8a"/>
<path d="M4687 4195l92 8-115-77z" color="#21918c"/>
<path d="M5274 2216l110-288-22-60z" color="#eae51a"/>
<path d="M5359 1857l16-1-19-8z" color="#fde725"/>
<path d="M5621 4100l118-46-16-316z" color="#1e9c89"/>
<path d="M2627 4231l100-84-119-15z" color="#21918c"/>
<path d="M4549 4001l115 125-23-44z" color="#1f968b"/>
<path d="M1935 3456l122 73-19-111z" color="#31b57b"/>
<path d="M1460 2487l123 98-141-218z" color="#a5db36"/>
<path d="M5749 1889l117-12-25-71z" color="#fde725"/>
<path d="M3526 3696l117-141-20-20z" color="#28ae80"/>
<path d="M4549 4001l92 81-115-115z" color="#1f998a"/>
<path d="M1759 3029l-18-117-122-91z" color="#69cd5b"/>
<path d="M5639 6244l-27-37-112-106z" color="#481c6e"/>
<path d="M1442 2367l-18-121-123-101z" color="#c8e020"/>
<path d="M5146 3100l126-316-150 239z" color="#63cb5f"/>
<path d="M5362 1868l13-12-16 1z" color="#fde725"/>
<path d="M4845 4558l113 131-135-269z" color="#277e8e"/>
<path d="M5386 4179l101-347-118 61z" color="#1e9c89"/>
<path d="M2352 3968l-19-104-119-52z" color="#1fa188"/>
<path d="M5122 3023l126-345-24-63z" color="#7cd250"/>
<path d="M4411 3819l115 148-23-22z" color="#1f9f88"/>
<path d="M5230 5636l109 209-25-57z" color="#443983"/>
<path d="M5516 1914l92-83-117 12z" color="#fde725"/>
<path d="M1777 3145l122 83-140-199z" color="#52c569"/>
<path d="M3000 4296l98-93-117 29z" color="#218e8d"/>
<path d="M5739 4054l118-60-134-256z" color="#1f9e89"/>
<path d="M1935 3456l103-38-121-76z" color="#37b878"/>
<path d="M2490 4108l-19-101-119-39z" color="#1f998a"/>
<path d="M2627 4231l118 9-18-93z" color="#21908d"/>
<path d="M1198 1908l67-15-40-34z" color="#fbe723"/>
<path d="M4411 3819l92 126-115-148z" color="#1fa187"/>
<path d="M5224 2615l100-333-126 322z" color="#a2da37"/>
<path d="M1478 2607l123 96-18-118z" color="#90d743"/>
<path d="M3000 4296l-19-64-118 10z" color="#218e8d"/>
<path d="M6226 4143l-12-344-119 63z" color="#1f9e89"/>
<path d="M5500 6101l-26-43-110-165z" color="#482878"/>
<path d="M2214 3812l-19-108-120-64z" color="#23a983"/>
<path d="M5516 1914l-25-71-116 13z" color="#fde725"/>
<path d="M5621 4100l-16-307-118 39z" color="#1fa088"/>
<path d="M5633 1902l116-13-141-58z" color="#fde725"/>
<path d="M4273 3642l115 155-22-24z" color="#22a884"/>
<path d="M6086 5963l126-196-154 157z" color="#46327e"/>
<path d="M3996 3384l95 36-117-69z" color="#3aba76"/>
<path d="M5780 6320l90-68-117 30z" color="#481668"/>
<path d="M6115 5998l-29-35-123 156z" color="#482878"/>
<path d="M2627 4231l-19-99-118-24z" color="#20938c"/>
<path d="M5621 4100l102-362-118 55z" color="#1fa187"/>
<path d="M3234 4181l-19-36-117 58z" color="#20928c"/>
<path d="M3760 3442l-20-19-117 112z" color="#32b67a"/>
<path d="M4823 4420l-22-122-114-103z" color="#228c8d"/>
<path d="M4867 4697l91-8-113-131z" color="#297a8e"/>
<path d="M6212 5767l-28-38-126 195z" color="#453882"/>
<path d="M5516 1914l117-12-25-71z" color="#fde725"/>
<path d="M1795 3261l122 81-18-114z" color="#44bf70"/>
<path d="M6256 5404l126-185-27-79z" color="#375a8c"/>
<path d="M4273 3642l93 131-115-155z" color="#25ac82"/>
<path d="M1478 2607l105-22-123-98z" color="#9dd93b"/>
<path d="M5991 6155l124-157-152 121z" color="#482475"/>
<path d="M1182 1936l101 84-18-127-67 15z" color="#f6e620"/>
<path d="M5250 3987l102-382-121 144z" color="#22a785"/>
<path d="M3429 3880l117-161-20-23z" color="#22a785"/>
<path d="M5230 5636l84 152-110-201z" color="#424086"/>
<path d="M3996 3384l117 75-22-39z" color="#37b878"/>
<path d="M2075 3640l-18-111-122-73z" color="#2eb37c"/>
<path d="M5250 3987l119-94-17-288z" color="#20a486"/>
<path d="M2764 4330l99-88-118-2z" color="#218e8d"/>
<path d="M4135 3486l116 132-23-32z" color="#2db27d"/>
<path d="M1795 3261l104-33-122-83z" color="#4cc26c"/>
<path d="M3000 4296l117-45-19-48z" color="#218f8d"/>
<path d="M1159 1939l39-31 27-49-80 9z" color="#fde725"/>
<path d="M5384 1928l-110 288 132-226z" color="#eae51a"/>
<path d="M4135 3486l93 100-115-127z" color="#31b57b"/>
<path d="M5384 1928l15-1-24-71-13 12z" color="#fde725"/>
<path d="M5780 6320l-27-38-114-38z" color="#481769"/>
<path d="M5892 1947l91-83-117 13z" color="#fde725"/>
<path d="M2232 3921l120 47-138-156z" color="#1fa187"/>
<path d="M2370 4075l120 33-138-140z" color="#1f998a"/>
<path d="M6184 5729l127-211-155 160z" color="#414487"/>
<path d="M1619 2821l-18-118-123-96z" color="#8bd646"/>
<path d="M5168 3215l104-431-126 316z" color="#60ca60"/>
<path d="M2882 4320l118-24-137-54z" color="#218e8d"/>
<path d="M3643 3555l117-113-137 93z" color="#31b57b"/>
<path d="M5399 1927l117-13-141-58z" color="#fde725"/>
<path d="M1637 2939l122 90-140-208z" color="#6ece58"/>
<path d="M5857 3994l119-69-13-345z" color="#20a486"/>
<path d="M3234 4181l98-132-117 96z" color="#1f968b"/>
<path d="M1318 2267l124 100-141-222z" color="#cae11f"/>
<path d="M5299 2253l109-254-2-9-132 226z" color="#dfe318"/>
<path d="M5857 3994l-14-332-120 76z" color="#22a785"/>
<path d="M4912 4919l111 225-23-119z" color="#31678e"/>
<path d="M5231 3749l121-144-141-63z" color="#29af7f"/>
<path d="M2764 4330l118-10-19-78z" color="#228d8d"/>
<path d="M3117 4251l117-70-136 22z" color="#20928c"/>
<path d="M5272 2784l-24-106-126 345z" color="#7cd250"/>
<path d="M5892 1947l-26-70-117 12z" color="#fde725"/>
<path d="M2764 4330l-19-90-118-9z" color="#218f8d"/>
<path d="M3760 3442l97-87-117 68z" color="#3aba76"/>
<path d="M3996 3384l-22-33-117 4z" color="#3dbc74"/>
<path d="M6311 5518l-28-46-127 206z" color="#3e4989"/>
<path d="M2093 3752l121 60-139-172z" color="#24aa83"/>
<path d="M6019 6195l-28-40-121 97z" color="#481f70"/>
<path d="M5369 3893l118-61-135-227z" color="#22a884"/>
<path d="M2508 4212l119 19-137-123z" color="#20938c"/>
<path d="M3332 4049l117-140-20-29z" color="#1fa088"/>
<path d="M4889 4820l111 205-133-328z" color="#2c718e"/>
<path d="M5780 6320l118-29-28-39z" color="#48186a"/>
<path d="M4687 4195l-23-69-115-125z" color="#1f978b"/>
<path d="M1336 2388l124 99-18-120z" color="#b8de29"/>
<path d="M1935 3456l-18-114-122-81z" color="#3fbc73"/>
<path d="M1301 2145l-18-125-101-84-5 10z" color="#f1e51d"/>
<path d="M5976 3925l119-63-132-282z" color="#22a884"/>
<path d="M1655 3057l122 88-18-116z" color="#5ec962"/>
<path d="M5892 1947l116-12-25-71z" color="#fde725"/>
<path d="M5070 5300l110 226-134-292z" color="#39568c"/>
<path d="M5658 1973l91-84-116 13z" color="#fde725"/>
<path d="M5364 5893l-25-48-109-209z" color="#443b84"/>
<path d="M5527 6144l112 100-139-143z" color="#482374"/>
<path d="M5190 3365l124-234-146 84z" color="#4cc26c"/>
<path d="M5857 3994l106-414-120 82z" color="#25ab82"/>
<path d="M5898 6291l121-96-149 57z" color="#481c6e"/>
<path d="M1953 3569l122 71-140-184z" color="#2fb47c"/>
<path d="M5487 3832l118-39-16-299z" color="#26ad81"/>
<path d="M6283 5472l127-199-154 131z" color="#3a548c"/>
<path d="M1655 3057l104-28-122-90z" color="#67cc5c"/>
<path d="M1336 2388l106-21-124-100z" color="#c2df23"/>
<path d="M1159 1939l23-3 16-28z" color="#fde725"/>
<path d="M2250 4031l120 44-18-107z" color="#1e9d89"/>
<path d="M2250 4031l102-63-120-47z" color="#1f9f88"/>
<path d="M3663 3571l-20-16-117 141z" color="#2cb17e"/>
<path d="M5658 1973l-25-71-117 12z" color="#fde725"/>
<path d="M4549 4001l-23-34-115-148z" color="#1fa187"/>
<path d="M2389 4183l101-75-120-33z" color="#1f978b"/>
<path d="M4709 4285l114 135-136-225z" color="#218f8d"/>
<path d="M5211 3542l103-411-124 234z" color="#42be71"/>
<path d="M5775 1960l117-13-143-58z" color="#fde725"/>
<path d="M5605 3793l118-55-134-244z" color="#28ae80"/>
<path d="M2389 4183l119 29-18-104z" color="#1f958b"/>
<path d="M2646 4329l118 1-137-99z" color="#218f8d"/>
<path d="M2111 3864l121 57-18-109z" color="#21a585"/>
<path d="M6410 5273l-28-54-126 185z" color="#375b8d"/>
<path d="M2111 3864l103-52-121-60z" color="#22a884"/>
<path d="M1495 2727l124 94-141-214z" color="#8ed645"/>
<path d="M1478 2607l-18-120-124-99z" color="#b0dd2f"/>
<path d="M5046 5234l-23-90-111-225z" color="#31668e"/>
<path d="M1182 1936l-23 3 18 7z" color="#fde725"/>
<path d="M5658 1973l117-13-26-71z" color="#fde725"/>
<path d="M3546 3719l117-148-137 125z" color="#29af7f"/>
<path d="M5487 3832l-16-309-119 82z" color="#2ab07f"/>
<path d="M5352 3605l-19-247-122 184z" color="#35b779"/>
<path d="M6095 3862l119-63-12-353z" color="#27ad81"/>
<path d="M4732 4389l113 169-22-138z" color="#24878e"/>
<path d="M4912 4919l88 106-111-205z" color="#2d708e"/>
<path d="M5095 5349l109 238-24-61z" color="#3c508b"/>
<path d="M2527 4316l100-85-119-19z" color="#20928c"/>
<path d="M1795 3261l-18-116-122-88z" color="#58c765"/>
<path d="M6115 5998l97-231-126 196z" color="#453581"/>
<path d="M5666 6284l114 36-141-76z" color="#481c6e"/>
<path d="M2901 4392l99-96-118 24z" color="#218e8d"/>
<path d="M5424 1998l92-84-117 13z" color="#fde725"/>
<path d="M3878 3379l118 5-139-29z" color="#40bd72"/>
<path d="M5390 5939l110 162-136-208z" color="#46307e"/>
<path d="M4411 3819l-23-22-115-155z" color="#25ac82"/>
<path d="M3760 3442l118-63-21-24z" color="#3fbc73"/>
<path d="M3234 4181l117-105-19-27z" color="#1f9a8a"/>
<path d="M1972 3684l121 68-18-112z" color="#28ae80"/>
<path d="M6019 6195l96-197-124 157z" color="#482878"/>
<path d="M1177 1946l-18-7 7 29z" color="#fde725"/>
<path d="M2527 4316l119 13-19-98z" color="#21908d"/>
<path d="M1176 2043l125 102-124-199-11 22z" color="#f4e61e"/>
<path d="M5487 3832l102-338-118 29z" color="#2db27d"/>
<path d="M1813 3377l122 79-140-195z" color="#42be71"/>
<path d="M1513 2847l124 92-18-118z" color="#7cd250"/>
<path d="M2901 4392l-19-72-118 10z" color="#228d8d"/>
<path d="M4135 3486l-22-27-117-75z" color="#3bbb75"/>
<path d="M3136 4292l-19-41-117 45z" color="#21918c"/>
<path d="M5324 2282l85-271-1-12-109 254z" color="#e5e419"/>
<path d="M1972 3684l103-44-122-71z" color="#2db27d"/>
<path d="M3566 3743l-20-24-117 161z" color="#25ab82"/>
<path d="M5541 1985l117-12-142-59z" color="#fde725"/>
<path d="M1194 2167l124 100-17-122z" color="#dde318"/>
<path d="M6095 3862l-13-352-119 70z" color="#2cb17e"/>
<path d="M4273 3642l-22-24-116-132z" color="#31b57b"/>
<path d="M6212 5767l99-249-127 211z" color="#404688"/>
<path d="M5424 1998l-25-71-15 1 22 62z" color="#fde725"/>
<path d="M5224 2615l126-303-26-30z" color="#c0df25"/>
<path d="M2389 4183l-19-108-120-44z" color="#1e9b8a"/>
<path d="M4867 4697l-22-139-113-169z" color="#25838e"/>
<path d="M3449 3909l117-166-137 137z" color="#22a785"/>
<path d="M5723 3738l-16-299-118 55z" color="#32b67a"/>
<path d="M6034 2006l-26-71-116 12z" color="#fde725"/>
<path d="M5723 3738l120-76-16-308z" color="#31b57b"/>
<path d="M1513 2847l106-26-124-94z" color="#89d548"/>
<path d="M5424 1998l117-13-25-71z" color="#fde725"/>
<path d="M3136 4292l98-111-117 70z" color="#20938c"/>
<path d="M5211 3542l122-184-19-227z" color="#46c06f"/>
<path d="M2250 4031l-18-110-121-57z" color="#20a386"/>
<path d="M5168 3215l126-293-22-138z" color="#70cf57"/>
<path d="M2527 4316l-19-104-119-29z" color="#20938c"/>
<path d="M4732 4389l91 31-114-135z" color="#218e8d"/>
<path d="M3663 3571l97-129-117 113z" color="#35b779"/>
<path d="M2901 4392l118-40-19-56z" color="#218f8d"/>
<path d="M1831 3492l122 77-18-113z" color="#37b878"/>
<path d="M2664 4423l100-93-118-1z" color="#218e8d"/>
<path d="M5314 3131l-20-209-126 293z" color="#63cb5f"/>
<path d="M6095 3862l107-416-120 64z" color="#2fb47c"/>
<path d="M1194 2167l107-22-125-102z" color="#eae51a"/>
<path d="M5095 5349l85 177-110-226z" color="#38588c"/>
<path d="M4572 4052l115 143-138-194z" color="#1e9c89"/>
<path d="M5248 2678l125-255-149 192z" color="#aadc32"/>
<path d="M5925 6333l-27-42-118 29z" color="#481c6e"/>
<path d="M3468 3930l-19-21-117 140z" color="#1fa287"/>
<path d="M5723 3738l104-384-120 85z" color="#38b977"/>
<path d="M2783 4415l118-23-137-62z" color="#228d8d"/>
<path d="M5800 2031l92-84-117 13z" color="#fde725"/>
<path d="M3019 4352l117-60-136 4z" color="#21918c"/>
<path d="M1655 3057l-18-118-124-92z" color="#75d054"/>
<path d="M2111 3864l-18-112-121-68z" color="#26ad81"/>
<path d="M1354 2509l124 98-142-219z" color="#b5de2b"/>
<path d="M1831 3492l104-36-122-79z" color="#3dbc74"/>
<path d="M1336 2388l-18-121-124-100z" color="#d5e21a"/>
<path d="M5843 3662l120-82-136-226z" color="#37b878"/>
<path d="M1672 3175l123 86-140-204z" color="#5cc863"/>
<path d="M6311 5518l99-245-127 199z" color="#39568c"/>
<path d="M2664 4423l119-8-19-85z" color="#228d8d"/>
<path d="M5352 3605l119-82-18-262z" color="#3dbc74"/>
<path d="M5553 6189l86 55-112-100z" color="#482576"/>
<path d="M5800 2031l-25-71-117 13z" color="#fde725"/>
<path d="M3351 4076l117-146-136 119z" color="#1fa188"/>
<path d="M5352 3605l101-344-120 97z" color="#42be71"/>
<path d="M2664 4423l-18-94-119-13z" color="#218f8d"/>
<path d="M5553 6189l113 95-27-40z" color="#482374"/>
<path d="M5917 2019l117-13-142-59z" color="#fde725"/>
<path d="M5925 6333l94-138-121 96z" color="#482071"/>
<path d="M1371 2631l124 96-17-120z" color="#a0da39"/>
<path d="M2269 4142l120 41-139-152z" color="#1e9b8a"/>
<path d="M5408 1999l16-1-18-8z" color="#fde725"/>
<path d="M5471 3523l118-29-136-233z" color="#40bd72"/>
<path d="M5416 5987l111 157-27-43z" color="#472e7c"/>
<path d="M2407 4291l120 25-138-133z" color="#1f948c"/>
<path d="M5800 2031l117-12-25-72z" color="#fde725"/>
<path d="M2130 3977l120 54-139-167z" color="#20a486"/>
<path d="M1690 3293l123 84-18-116z" color="#4ec36b"/>
<path d="M5230 5636l-26-49-109-238z" color="#3b518b"/>
<path d="M5589 3494l118-55-18-248z" color="#46c06f"/>
<path d="M1972 3684l-19-115-122-77z" color="#34b679"/>
<path d="M5409 2011l15-13-16 1z" color="#fde725"/>
<path d="M4434 3847l115 154-138-182z" color="#22a785"/>
<path d="M5566 2056l92-83-117 12z" color="#fde725"/>
<path d="M1371 2631l107-24-124-98z" color="#addc30"/>
<path d="M5373 2423l-23-111-126 303z" color="#c0df25"/>
<path d="M3136 4292l117-87-19-24z" color="#1f968b"/>
<path d="M5255 5679l109 214-134-257z" color="#404588"/>
<path d="M5416 5987l84 114-110-162z" color="#46337f"/>
<path d="M3566 3743l97-172-117 148z" color="#2db27d"/>
<path d="M5693 6323l87-3-114-36z" color="#481f70"/>
<path d="M5808 6358l117-25-145-13z" color="#481d6f"/>
<path d="M4017 3403l118 83-139-102z" color="#42be71"/>
<path d="M5324 2282l111-211-26-60z" color="#efe51c"/>
<path d="M1690 3293l105-32-123-86z" color="#56c667"/>
<path d="M5589 3494l-18-259-118 26z" color="#4cc26c"/>
<path d="M4595 4118l114 167-22-90z" color="#1f988b"/>
<path d="M5566 2056l-25-71-117 13z" color="#fde725"/>
<path d="M6019 6195l124-160-28-37z" color="#472f7d"/>
<path d="M5333 3358l120-97-139-130z" color="#56c667"/>
<path d="M5589 3494l100-303-118 44z" color="#50c46a"/>
<path d="M5683 2044l117-13-142-58z" color="#fde725"/>
<path d="M6115 5998l127-199-30-32z" color="#433e85"/>
<path d="M1990 3798l121 66-139-180z" color="#27ad81"/>
<path d="M2546 4418l118 5-137-107z" color="#218f8d"/>
<path d="M5707 3439l120-85-138-163z" color="#4ec36b"/>
<path d="M3899 3391l97-7-118-5z" color="#48c16e"/>
<path d="M5272 2784l101-361-125 255z" color="#a8db34"/>
<path d="M1513 2847l-18-120-124-96z" color="#98d83e"/>
<path d="M3899 3391l-21-12-118 63z" color="#46c06f"/>
<path d="M5963 3580l-16-303-120 77z" color="#46c06f"/>
<path d="M3371 4089l-20-13-117 105z" color="#1e9d89"/>
<path d="M1531 2966l124 91-142-210z" color="#7ad151"/>
<path d="M5963 3580l119-70-14-308z" color="#42be71"/>
<path d="M4935 4993l111 241-134-315z" color="#2e6d8e"/>
<path d="M4777 4592l112 228-22-123z" color="#277f8e"/>
<path d="M4296 3663l115 156-138-177z" color="#2cb17e"/>
<path d="M2801 4495l100-103-118 23z" color="#228d8d"/>
<path d="M5566 2056l117-12-25-71z" color="#fde725"/>
<path d="M4754 4495l113 202-135-308z" color="#23888e"/>
<path d="M1211 2289l125 99-142-221z" color="#dae319"/>
<path d="M3663 3571l118-116-21-13z" color="#3dbc74"/>
<path d="M2287 4255l102-72-120-41z" color="#1f998a"/>
<path d="M2287 4255l120 36-18-108z" color="#1f978b"/>
<path d="M5693 6323l115 35-28-38z" color="#481f70"/>
<path d="M2148 4091l121 51-19-111z" color="#1f9f88"/>
<path d="M3037 4402l-18-50-118 40z" color="#21908d"/>
<path d="M1831 3492l-18-115-123-84z" color="#48c16e"/>
<path d="M4595 4118l92 77-115-143z" color="#1e9d89"/>
<path d="M2801 4495l-18-80-119 8z" color="#228d8d"/>
<path d="M4157 3506l116 136-138-156z" color="#3aba76"/>
<path d="M3468 3930l98-187-117 166z" color="#25ab82"/>
<path d="M2426 4399l101-83-120-25z" color="#20928c"/>
<path d="M2148 4091l102-60-120-54z" color="#1fa187"/>
<path d="M6212 5767l129-214-30-35z" color="#3c4f8a"/>
<path d="M1549 3086l123 89-17-118z" color="#69cd5b"/>
<path d="M1229 2411l125 98-18-121z" color="#c5e021"/>
<path d="M6082 3510l120-64-134-244z" color="#4ac16d"/>
<path d="M5435 2071l13-2-24-71-15 13z" color="#fde725"/>
<path d="M2426 4399l120 19-19-102z" color="#21918c"/>
<path d="M3037 4402l99-110-117 60z" color="#20928c"/>
<path d="M5943 2090l91-84-117 13z" color="#fde725"/>
<path d="M5925 6333l122-96-28-42z" color="#482576"/>
<path d="M5963 3580l105-378-121 75z" color="#4ec36b"/>
<path d="M3253 4205l118-116-137 92z" color="#1e9c89"/>
<path d="M5453 3261l118-26-19-234z" color="#63cb5f"/>
<path d="M5453 3261l-19-244-120 114z" color="#65cb5e"/>
<path d="M4960 5047l110 253-24-66z" color="#31678e"/>
<path d="M5448 2069l118-13-142-58z" color="#fde725"/>
<path d="M1849 3609l123 75-141-192z" color="#37b878"/>
<path d="M5571 3235l118-44-137-190z" color="#65cb5e"/>
<path d="M2008 3914l122 63-19-113z" color="#22a884"/>
<path d="M5827 3354l-18-243-120 80z" color="#5cc863"/>
<path d="M3899 3391l118 12-21-19z" color="#4ac16d"/>
<path d="M5943 2090l-26-71-117 12z" color="#fde725"/>
<path d="M5350 2312l123-166-149 136z" color="#e2e418"/>
<path d="M2008 3914l103-50-121-66z" color="#25ac82"/>
<path d="M2801 4495l119-37-19-66z" color="#218e8d"/>
<path d="M5280 5725l110 214-26-46z" color="#424086"/>
<path d="M1549 3086l106-29-124-91z" color="#73d056"/>
<path d="M5294 2922l122-145-144 7z" color="#90d743"/>
<path d="M3781 3455l118-64-139 51z" color="#46c06f"/>
<path d="M1229 2411l107-23-125-99z" color="#d2e21b"/>
<path d="M4732 4389l-23-104-114-167z" color="#1f978b"/>
<path d="M5314 3131l102-354-122 145z" color="#81d34d"/>
<path d="M2920 4458l117-56-136-10z" color="#21908d"/>
<path d="M5453 3261l99-260-118 16z" color="#6ece58"/>
<path d="M2564 4518l100-95-118-5z" color="#218e8d"/>
<path d="M4912 4919l-23-99-112-228z" color="#287d8e"/>
<path d="M6311 5518l129-209-30-36z" color="#355e8d"/>
<path d="M5689 3191l-18-239-119 49z" color="#73d056"/>
<path d="M5693 6323l-27-39-113-95z" color="#482576"/>
<path d="M2683 4514l118-19-137-72z" color="#228d8d"/>
<path d="M5943 2090l117-12-26-72z" color="#fde725"/>
<path d="M4457 3886l115 166-23-51z" color="#21a685"/>
<path d="M2426 4399l-19-108-120-36z" color="#1f958b"/>
<path d="M2287 4255l-18-113-121-51z" color="#1e9d89"/>
<path d="M1389 2753l124 94-142-216z" color="#9dd93b"/>
<path d="M4777 4592l90 105-113-202z" color="#24868e"/>
<path d="M5553 6189l-26-45-111-157z" color="#46307e"/>
<path d="M3371 4089l97-159-117 146z" color="#20a386"/>
<path d="M5827 3354l120-77-17-254z" color="#5ec962"/>
<path d="M1868 3725l122 73-18-114z" color="#2db27d"/>
<path d="M1371 2631l-17-122-125-98z" color="#bddf26"/>
<path d="M5708 2116l92-85-117 13z" color="#fde725"/>
<path d="M1690 3293l-18-118-123-89z" color="#63cb5f"/>
<path d="M5827 3354l103-331-121 88z" color="#65cb5e"/>
<path d="M5314 3131l120-114-18-240z" color="#7fd34e"/>
<path d="M2564 4518l119-4-19-91z" color="#228d8d"/>
<path d="M4457 3886l92 115-115-154z" color="#24aa83"/>
<path d="M1868 3725l104-41-123-75z" color="#32b67a"/>
<path d="M1708 3410l123 82-141-199z" color="#4cc26c"/>
<path d="M6202 3446l-15-311-119 67z" color="#5ac864"/>
<path d="M5272 2784l123-196-22-165z" color="#b2dd2d"/>
<path d="M5708 2116l-25-72-117 12z" color="#fde725"/>
<path d="M5689 3191l120-80-17-259z" color="#75d054"/>
<path d="M5473 2146l-4-18-34-57-111 211z" color="#f1e51d"/>
<path d="M2148 4091l-18-114-122-63z" color="#21a685"/>
<path d="M3566 3743l118-157-21-15z" color="#35b779"/>
<path d="M5280 5725l84 168-109-214z" color="#3f4788"/>
<path d="M5689 3191l103-339-121 100z" color="#7cd250"/>
<path d="M1407 2874l124 92-18-119z" color="#89d548"/>
<path d="M2564 4518l-18-100-120-19z" color="#218f8d"/>
<path d="M5416 2777l-21-189-123 196z" color="#a2da37"/>
<path d="M5826 2103l117-13-143-59z" color="#fde725"/>
<path d="M4960 5047l86 187-111-241z" color="#2e6e8e"/>
<path d="M3037 4402l118-77-19-33z" color="#1f948c"/>
<path d="M5434 3017l118-16-136-224z" color="#86d549"/>
<path d="M6172 6074l-29-39-124 160z" color="#46337f"/>
<path d="M5836 6389l89-56-117 25z" color="#482173"/>
<path d="M5947 3277l121-75-138-179z" color="#67cc5c"/>
<path d="M3272 4221l-19-16-117 87z" color="#1f9a8a"/>
<path d="M6143 6035l128-208-156 171z" color="#433d84"/>
<path d="M5708 2116l118-13-26-72z" color="#fde725"/>
<path d="M6047 6237l125-163-153 121z" color="#472e7c"/>
<path d="M4039 3415l96 71-118-83z" color="#4ac16d"/>
<path d="M5552 3001l-19-227-117 3z" color="#90d743"/>
<path d="M4318 3688l116 159-23-28z" color="#2cb17e"/>
<path d="M6271 5827l-29-28-127 199z" color="#424186"/>
<path d="M1407 2874l106-27-124-94z" color="#95d840"/>
<path d="M5469 2128l-21-59-13 2z" color="#fde725"/>
<path d="M1726 3528l123 81-18-117z" color="#3fbc73"/>
<path d="M5552 3001l119-49-17-293z" color="#90d743"/>
<path d="M2306 4367l120 32-139-144z" color="#1f958b"/>
<path d="M2008 3914l-18-116-122-73z" color="#2ab07f"/>
<path d="M4318 3688l93 131-115-156z" color="#31b57b"/>
<path d="M5809 3111l121-88-138-171z" color="#7fd34e"/>
<path d="M2167 4206l120 49-139-164z" color="#1f9e89"/>
<path d="M4039 3415l118 91-22-20z" color="#48c16e"/>
<path d="M5373 2423l100-277-123 166z" color="#e2e418"/>
<path d="M5552 3001l102-342-121 115z" color="#98d83e"/>
<path d="M5120 5387l110 249-135-287z" color="#365c8d"/>
<path d="M5475 2139l91-83-118 13 21 59z" color="#fde725"/>
<path d="M5095 5349l-25-49-110-253z" color="#31688e"/>
<path d="M5836 6389l-28-31-115-35z" color="#482374"/>
<path d="M6242 5799l128-220-158 188z" color="#3d4d8a"/>
<path d="M3468 3930l118-173-20-14z" color="#2ab07f"/>
<path d="M1726 3528l105-36-123-82z" color="#46c06f"/>
<path d="M5591 2128l117-12-142-60z" color="#fde725"/>
<path d="M2702 4601l99-106-118 19z" color="#228c8d"/>
<path d="M3802 3464l-21-9-118 116z" color="#44bf70"/>
<path d="M2938 4519l-18-61-119 37z" color="#218e8d"/>
<path d="M1549 3086l-18-120-124-92z" color="#84d44b"/>
<path d="M4179 3527l117 136-23-21z" color="#3aba76"/>
<path d="M2445 4506l119 12-138-119z" color="#218f8d"/>
<path d="M4179 3527l94 115-116-136z" color="#3fbc73"/>
<path d="M3155 4325l117-104-136 71z" color="#1f998a"/>
<path d="M1247 2535l124 96-142-220z" color="#c2df23"/>
<path d="M1567 3205l123 88-141-207z" color="#67cc5c"/>
<path d="M6370 5579l-29-26-129 214z" color="#3b528b"/>
<path d="M6086 2149l-26-71-117 12z" color="#fde725"/>
<path d="M6075 6270l-28-33-122 96z" color="#482979"/>
<path d="M2938 4519l99-117-117 56z" color="#21908d"/>
<path d="M2026 4030l122 61-140-177z" color="#22a785"/>
<path d="M2702 4601l-19-87-119 4z" color="#228c8d"/>
<path d="M5671 2952l121-100-138-193z" color="#98d83e"/>
<path d="M6068 3202l-17-276-121 97z" color="#7ad151"/>
<path d="M5416 5987l-26-48-110-214z" color="#414287"/>
<path d="M3272 4221l99-132-118 116z" color="#1f9f88"/>
<path d="M5416 2777l117-3-18-272z" color="#addc30"/>
<path d="M4595 4118l-23-66-115-166z" color="#22a785"/>
<path d="M5836 6389l118-25-29-31z" color="#482475"/>
<path d="M5479 2140l112-12-25-72-91 83z" color="#fde725"/>
<path d="M1264 2658l125 95-18-122z" color="#addc30"/>
<path d="M5579 6237l114 86-140-134z" color="#472c7a"/>
<path d="M6341 5553l128-212-158 177z" color="#365c8d"/>
<path d="M5395 2588l120-86-142-79z" color="#c8e020"/>
<path d="M1868 3725l-19-116-123-81z" color="#3bbb75"/>
<path d="M4618 4195l114 194-137-271z" color="#1e9c89"/>
<path d="M3684 3586l118-122-139 107z" color="#42be71"/>
<path d="M4039 3415l-22-12-118-12z" color="#50c46a"/>
<path d="M5416 2777l99-275-120 86z" color="#b8de29"/>
<path d="M2702 4601l118-31-19-75z" color="#228c8d"/>
<path d="M6068 3202l119-67-15-287z" color="#7ad151"/>
<path d="M1585 3324l123 86-18-117z" color="#58c765"/>
<path d="M5851 2175l92-85-117 13z" color="#fde725"/>
<path d="M2185 4321l121 46-19-112z" color="#1f988b"/>
<path d="M2325 4479l101-80-120-32z" color="#20938c"/>
<path d="M6469 5341l-29-32-129 209z" color="#34618d"/>
<path d="M5533 2774l121-115-139-157z" color="#b5de2b"/>
<path d="M2185 4321l102-66-120-49z" color="#1e9b8a"/>
<path d="M2820 4570l118-51-137-24z" color="#218e8d"/>
<path d="M3802 3464l97-73-118 64z" color="#4ec36b"/>
<path d="M2325 4479l120 27-19-107z" color="#21918c"/>
<path d="M3371 4089l117-154-20-5z" color="#23a983"/>
<path d="M5954 6364l121-94-150 63z" color="#482878"/>
<path d="M1264 2658l107-27-124-96z" color="#bade28"/>
<path d="M1886 3842l122 72-140-189z" color="#2cb17e"/>
<path d="M5851 2175l-25-72-118 13z" color="#fde725"/>
<path d="M5145 5423l110 256-25-43z" color="#39568c"/>
<path d="M2045 4147l122 59-19-115z" color="#1fa187"/>
<path d="M4641 4276l113 219-22-106z" color="#1f958b"/>
<path d="M1585 3324l105-31-123-88z" color="#60ca60"/>
<path d="M5969 2162l117-13-143-59z" color="#fde725"/>
<path d="M6068 3202l104-354-121 78z" color="#86d549"/>
<path d="M5373 2423l122-139-22-138z" color="#eae51a"/>
<path d="M5473 2146l2-7-6-11z" color="#fde725"/>
<path d="M2583 4615l119-14-138-83z" color="#228c8d"/>
<path d="M5441 6043l112 146-137-202z" color="#443983"/>
<path d="M5930 3023l-15-318-123 147z" color="#98d83e"/>
<path d="M4800 4672l112 247-135-327z" color="#25848e"/>
<path d="M5515 2502l-20-218-122 139z" color="#dae319"/>
<path d="M2463 4611l101-93-119-12z" color="#218e8d"/>
<path d="M2045 4147l103-56-122-61z" color="#20a486"/>
<path d="M5473 2146l6-6-4-1z" color="#fde725"/>
<path d="M5851 2175l118-13-26-72z" color="#fde725"/>
<path d="M1407 2874l-18-121-125-95z" color="#a5db36"/>
<path d="M1425 2995l124 91-142-212z" color="#86d549"/>
<path d="M2938 4519l118-71-19-46z" color="#20928c"/>
<path d="M3174 4354l-19-29-118 77z" color="#1f978b"/>
<path d="M2463 4611l120 4-19-97z" color="#228c8d"/>
<path d="M3704 3595l-20-9-118 157z" color="#3bbb75"/>
<path d="M5720 6359l116 30-143-66z" color="#482677"/>
<path d="M4824 4734l111 259-23-74z" color="#287d8e"/>
<path d="M6172 6074l99-247-128 208z" color="#424086"/>
<path d="M1726 3528l-18-118-123-86z" color="#52c569"/>
<path d="M6075 6270l97-196-125 163z" color="#46327e"/>
<path d="M1904 3960l122 70-18-116z" color="#25ac82"/>
<path d="M4457 3886l-23-39-116-159z" color="#2eb37c"/>
<path d="M5615 2197l-24-69-112 12z" color="#fde725"/>
<path d="M2325 4479l-19-112-121-46z" color="#1f968b"/>
<path d="M1443 3115l124 90-18-119z" color="#75d054"/>
<path d="M3586 3757l118-162-138 148z" color="#38b977"/>
<path d="M1745 3646l123 79-142-197z" color="#3dbc74"/>
<path d="M5734 2188l117-13-143-59z" color="#fde725"/>
<path d="M5792 2852l-15-347-123 154z" color="#b5de2b"/>
<path d="M5618 2198l90-82-117 12 24 69z" color="#fde725"/>
<path d="M1904 3960l104-46-122-72z" color="#29af7f"/>
<path d="M2463 4611l-18-105-120-27z" color="#21908d"/>
<path d="M5654 2659l-17-276-122 119z" color="#cde11d"/>
<path d="M2185 4321l-18-115-122-59z" color="#1f9f88"/>
<path d="M5145 5423l85 213-110-249z" color="#355e8d"/>
<path d="M5930 3023l121-97-13-345z" color="#9dd93b"/>
<path d="M4641 4276l91 113-114-194z" color="#1e9c89"/>
<path d="M3056 4448l118-94-137 48z" color="#1f968b"/>
<path d="M5495 2284l121-79-143-59z" color="#f8e621"/>
<path d="M4179 3527l-22-21-118-91z" color="#4ec36b"/>
<path d="M5616 2205l-1-8-136-57-6 6z" color="#fde725"/>
<path d="M3921 3398l118 17-140-24z" color="#56c667"/>
<path d="M6271 5827l99-248-128 220z" color="#3c508b"/>
<path d="M5515 2502l101-297-121 79z" color="#e7e419"/>
<path d="M4777 4592l-23-97-113-219z" color="#20938c"/>
<path d="M1443 3115l106-29-124-91z" color="#81d34d"/>
<path d="M2839 4640l-19-70-118 31z" color="#228c8d"/>
<path d="M3174 4354l98-133-117 104z" color="#1e9c89"/>
<path d="M3802 3464l119-66-22-7z" color="#56c667"/>
<path d="M3272 4221l118-135-19 3z" color="#20a486"/>
<path d="M4318 3688l-22-25-117-136z" color="#3fbc73"/>
<path d="M5625 2199l109-11-26-72-90 82z" color="#fde725"/>
<path d="M2602 4710l100-109-119 14z" color="#238a8d"/>
<path d="M2839 4640l99-121-118 51z" color="#218e8d"/>
<path d="M3606 3756l-20 1-118 173z" color="#2fb47c"/>
<path d="M1763 3764l123 78-18-117z" color="#32b67a"/>
<path d="M5930 3023l108-442-123 124z" color="#aadc32"/>
<path d="M5515 2502l122-119-21-178z" color="#e5e419"/>
<path d="M5995 2234l91-85-117 13z" color="#fde725"/>
<path d="M5606 6282l87 41-114-86z" color="#472e7c"/>
<path d="M2045 4147l-19-117-122-70z" color="#23a983"/>
<path d="M1282 2781l125 93-143-216z" color="#aadc32"/>
<path d="M5467 6105l112 132-26-48z" color="#453581"/>
<path d="M3488 3935l118-179-138 174z" color="#2db27d"/>
<path d="M1585 3324l-18-119-124-90z" color="#6ece58"/>
<path d="M2602 4710l-19-95-120-4z" color="#228b8d"/>
<path d="M4824 4734l88 185-112-247z" color="#25848e"/>
<path d="M1763 3764l105-39-123-79z" color="#3aba76"/>
<path d="M4480 3935l115 183-138-232z" color="#26ad81"/>
<path d="M6370 5579l99-238-128 212z" color="#355f8d"/>
<path d="M2204 4437l121 42-140-158z" color="#1f978b"/>
<path d="M5606 6282l114 77-27-36z" color="#472c7a"/>
<path d="M6051 2926l121-78-134-267z" color="#aadc32"/>
<path d="M5995 2234l-26-72-118 13z" color="#fde725"/>
<path d="M5792 2852l123-147-16-306z" color="#bddf26"/>
<path d="M1603 3443l123 85-141-204z" color="#56c667"/>
<path d="M2343 4590l120 21-138-132z" color="#21908d"/>
<path d="M5467 6105l86 84-112-146z" color="#443a83"/>
<path d="M2602 4710l118-25-18-84z" color="#238a8d"/>
<path d="M2720 4685l119-45-137-39z" color="#228c8d"/>
<path d="M3704 3595l98-131-118 122z" color="#4ac16d"/>
<path d="M5280 5725l-25-46-110-256z" color="#38598c"/>
<path d="M4985 5084l110 265-135-302z" color="#2c718e"/>
<path d="M1300 2903l125 92-18-121z" color="#98d83e"/>
<path d="M5616 2205l2-7-3-1z" color="#fde725"/>
<path d="M5616 2205l9-6-7-1z" color="#fde725"/>
<path d="M5306 5779l110 208-136-262z" color="#3d4d8a"/>
<path d="M2063 4264l122 57-140-174z" color="#1fa088"/>
<path d="M5792 2852l107-453-122 106z" color="#c8e020"/>
<path d="M5995 2234l118-12-27-73z" color="#fde725"/>
<path d="M5625 2199l-9 6 28 7z" color="#fde725"/>
<path d="M4960 5047l-25-54-111-259z" color="#277e8e"/>
<path d="M5759 2260l92-85-117 13z" color="#fde725"/>
<path d="M3075 4491l-19-43-118 71z" color="#1f948c"/>
<path d="M1904 3960l-18-118-123-78z" color="#2fb47c"/>
<path d="M2839 4640l118-64-19-57z" color="#21908d"/>
<path d="M1621 3562l124 84-19-118z" color="#48c16e"/>
<path d="M1300 2903l107-29-125-93z" color="#a2da37"/>
<path d="M3508 3921l-20 14-117 154z" color="#27ad81"/>
<path d="M2482 4715l120-5-139-99z" color="#228b8d"/>
<path d="M5759 2260l-25-72-109 11 19 13z" color="#fde725"/>
<path d="M5654 2659l99-394-12-3-104 121z" color="#e7e419"/>
<path d="M5637 2383l104-121-97-50-28-7z" color="#f6e620"/>
<path d="M6075 6270l126-164-29-32z" color="#443983"/>
<path d="M5877 2247l118-13-144-59z" color="#fde725"/>
<path d="M2222 4551l121 39-18-111z" color="#20928c"/>
<path d="M2222 4551l103-72-121-42z" color="#1f948c"/>
<path d="M1922 4078l123 69-141-187z" color="#24aa83"/>
<path d="M1621 3562l105-34-123-85z" color="#50c46a"/>
<path d="M4503 3992l115 203-23-77z" color="#22a884"/>
<path d="M6172 2848l-16-294-118 27z" color="#c0df25"/>
<path d="M5654 2659l123-154-15-238-9-2z" color="#e2e418"/>
<path d="M1443 3115l-18-120-125-92z" color="#90d743"/>
<path d="M2362 4700l101-89-120-21z" color="#218e8d"/>
<path d="M2082 4381l122 56-19-116z" color="#1e9b8a"/>
<path d="M3390 4086l118-165-137 168z" color="#25ac82"/>
<path d="M3174 4354l118-120-20-13z" color="#1fa188"/>
<path d="M5759 2260l118-13-26-72z" color="#fde725"/>
<path d="M1460 3235l125 89-142-209z" color="#73d056"/>
<path d="M2957 4576l118-85-137 28z" color="#20938c"/>
<path d="M6172 6074l129-217-30-30z" color="#3e4989"/>
<path d="M3075 4491l99-137-118 94z" color="#1f988b"/>
<path d="M2082 4381l103-60-122-57z" color="#1f9e89"/>
<path d="M5331 5847l110 196-25-56z" color="#3f4788"/>
<path d="M4341 3718l116 168-139-198z" color="#38b977"/>
<path d="M2362 4700l120 15-19-104z" color="#228c8d"/>
<path d="M4061 3435l118 92-140-112z" color="#58c765"/>
<path d="M5010 5111l110 276-25-38z" color="#2e6d8e"/>
<path d="M5915 2705l123-124-139-182z" color="#d0e11c"/>
<path d="M3606 3756l98-161-118 162z" color="#3fbc73"/>
<path d="M1763 3764l-18-118-124-84z" color="#42be71"/>
<path d="M2739 4764l-19-79-118 25z" color="#238a8d"/>
<path d="M2739 4764l100-124-119 45z" color="#228b8d"/>
<path d="M1941 4196l122 68-18-117z" color="#20a486"/>
<path d="M1478 3355l125 88-18-119z" color="#63cb5f"/>
<path d="M5741 2262l18-2-115-48z" color="#fde725"/>
<path d="M3942 3415l97 0-118-17z" color="#5ec962"/>
<path d="M4201 3549l117 139-139-161z" color="#4cc26c"/>
<path d="M4503 3992l92 126-115-183z" color="#27ad81"/>
<path d="M1781 3883l123 77-141-196z" color="#31b57b"/>
<path d="M3942 3415l-21-17-119 66z" color="#5cc863"/>
<path d="M5606 6282l-27-45-112-132z" color="#453882"/>
<path d="M6139 2294l-26-72-118 12z" color="#fde725"/>
<path d="M1941 4196l104-49-123-69z" color="#22a884"/>
<path d="M6271 5827l130-230-31-18z" color="#375a8c"/>
<path d="M4664 4352l113 240-136-316z" color="#1e9b8a"/>
<path d="M2501 4816l101-106-120 5z" color="#23898e"/>
<path d="M2362 4700l-19-110-121-39z" color="#21918c"/>
<path d="M3704 3595l119-121-21-10z" color="#54c568"/>
<path d="M5331 5847l85 140-110-208z" color="#3d4e8a"/>
<path d="M1478 3355l107-31-125-89z" color="#6ccd5a"/>
<path d="M3410 4085l-20 1-118 135z" color="#23a983"/>
<path d="M2222 4551l-18-114-122-56z" color="#1f988b"/>
<path d="M5777 2505l122-106-111-127-26-5z" color="#efe51c"/>
<path d="M5934 2290l61-56-118 13 8 22z" color="#fde725"/>
<path d="M5885 2269l-8-22-118 13 29 12z" color="#fde725"/>
<path d="M5753 2265l6-5-18 2z" color="#fde725"/>
<path d="M2620 4801l119-37-137-54z" color="#23898e"/>
<path d="M5762 2267l-3-7-6 5z" color="#fde725"/>
<path d="M4687 4418l113 254-23-80z" color="#20938c"/>
<path d="M1318 3025l125 90-143-212z" color="#95d840"/>
<path d="M5010 5111l85 238-110-265z" color="#2b748e"/>
<path d="M5788 2272l-29-12 3 7z" color="#fde725"/>
<path d="M2501 4816l119-15-18-91z" color="#23898e"/>
<path d="M6370 5579l130-215-31-23z" color="#31678e"/>
<path d="M1799 4001l123 77-18-118z" color="#29af7f"/>
<path d="M2976 4628l-19-52-118 64z" color="#21918c"/>
<path d="M2501 4816l-19-101-120-15z" color="#238a8d"/>
<path d="M4641 4276l-23-81-115-203z" color="#22a884"/>
<path d="M5899 2399l-14-130-97 3z" color="#f8e621"/>
<path d="M3942 3415l119 20-22-20z" color="#60ca60"/>
<path d="M3508 3921l98-165-118 179z" color="#34b679"/>
<path d="M2739 4764l118-58-18-66z" color="#228d8d"/>
<path d="M3292 4234l118-149-138 136z" color="#22a785"/>
<path d="M2082 4381l-19-117-122-68z" color="#1fa287"/>
<path d="M1621 3562l-18-119-125-88z" color="#5cc863"/>
<path d="M5899 2399l35-109-49-21z" color="#f8e621"/>
<path d="M6038 2581l118-27-13-249-17 1z" color="#e7e419"/>
<path d="M1799 4001l105-41-123-77z" color="#2eb37c"/>
<path d="M6021 2307l118-13-144-60z" color="#fde725"/>
<path d="M3075 4491l118-107-19-30z" color="#1e9c89"/>
<path d="M1639 3681l124 83-142-202z" color="#46c06f"/>
<path d="M3823 3474l119-59-140 49z" color="#5ec962"/>
<path d="M1336 3146l124 89-17-120z" color="#81d34d"/>
<path d="M4364 3754l116 181-23-49z" color="#35b779"/>
<path d="M2241 4665l121 35-140-149z" color="#21918c"/>
<path d="M5982 2311l39-4-26-73-61 56z" color="#fde725"/>
<path d="M2976 4628l99-137-118 85z" color="#1f948c"/>
<path d="M6038 2581l-13-262-43-8-83 88z" color="#efe51c"/>
<path d="M2857 4706l119-78-137 12z" color="#21908d"/>
<path d="M5467 6105l-26-62-110-196z" color="#3f4889"/>
<path d="M5899 2399l83-88-48-21z" color="#f8e621"/>
<path d="M6038 2581l88-275-101 13z" color="#efe51c"/>
<path d="M6201 6106l129-218-158 186z" color="#3f4788"/>
<path d="M2100 4498l122 53-140-170z" color="#1f998a"/>
<path d="M1336 3146l107-31-125-90z" color="#8ed645"/>
<path d="M5171 5465l109 260-135-302z" color="#33638d"/>
<path d="M2381 4808l120 8-139-116z" color="#238a8d"/>
<path d="M1941 4196l-19-118-123-77z" color="#26ad81"/>
<path d="M1657 3800l124 83-18-119z" color="#3aba76"/>
<path d="M4364 3754l93 132-116-168z" color="#3dbc74"/>
<path d="M6330 5888l-29-31-129 217z" color="#3d4d8a"/>
<path d="M5145 5423l-25-36-110-276z" color="#2d708e"/>
<path d="M6143 2305l-4-11-13 12z" color="#fde725"/>
<path d="M3311 4252l-19-18-118 120z" color="#20a386"/>
<path d="M4848 4779l112 268-136-313z" color="#24868e"/>
<path d="M4687 4418l90 174-113-240z" color="#1e9b8a"/>
<path d="M4083 3454l96 73-118-92z" color="#5ec962"/>
<path d="M6126 2306l13-12-118 13 4 12z" color="#fde725"/>
<path d="M2639 4887l100-123-119 37z" color="#23898e"/>
<path d="M3606 3756l119-164-21 3z" color="#4cc26c"/>
<path d="M1657 3800l106-36-124-83z" color="#40bd72"/>
<path d="M3410 4085l98-164-118 165z" color="#2ab07f"/>
<path d="M1478 3355l-18-120-124-89z" color="#7cd250"/>
<path d="M2639 4887l-19-86-119 15z" color="#23888e"/>
<path d="M1959 4314l123 67-141-185z" color="#20a386"/>
<path d="M6025 2319l-4-12-39 4z" color="#fde725"/>
<path d="M4083 3454l118 95-22-22z" color="#5cc863"/>
<path d="M1496 3475l125 87-143-207z" color="#60ca60"/>
<path d="M4224 3570l117 148-23-30z" color="#4cc26c"/>
<path d="M5493 6169l113 113-139-177z" color="#433e85"/>
<path d="M4824 4734l-24-62-113-254z" color="#20938c"/>
<path d="M3193 4384l118-132-137 102z" color="#1fa287"/>
<path d="M2260 4778l102-78-121-35z" color="#218f8d"/>
<path d="M4224 3570l94 118-117-139z" color="#52c569"/>
<path d="M2119 4614l122 51-19-114z" color="#1f948c"/>
<path d="M6301 5857l131-247-161 217z" color="#38588c"/>
<path d="M2260 4778l121 30-19-108z" color="#228c8d"/>
<path d="M5196 5520l110 259-26-54z" color="#365d8d"/>
<path d="M2119 4614l103-63-122-53z" color="#1f978b"/>
<path d="M2876 4767l-19-61-118 58z" color="#218e8d"/>
<path d="M1799 4001l-18-118-124-83z" color="#37b878"/>
<path d="M6432 5610l-31-13-130 230z" color="#355e8d"/>
<path d="M2976 4628l118-98-19-39z" color="#1f988b"/>
<path d="M1514 3594l125 87-18-119z" color="#52c569"/>
<path d="M2399 4913l102-97-120-8z" color="#23898e"/>
<path d="M2639 4887l119-49-19-74z" color="#238a8d"/>
<path d="M3845 3475l-22-1-119 121z" color="#5cc863"/>
<path d="M1978 4431l122 67-18-117z" color="#1f9e89"/>
<path d="M2519 4913l120-26-138-71z" color="#24878e"/>
<path d="M4873 4808l112 276-25-37z" color="#26828e"/>
<path d="M1817 4119l124 77-142-195z" color="#28ae80"/>
<path d="M6401 5597l130-220-161 202z" color="#31678e"/>
<path d="M1978 4431l104-50-123-67z" color="#1fa188"/>
<path d="M2876 4767l100-139-119 78z" color="#21918c"/>
<path d="M4503 3992l-23-57-116-181z" color="#37b878"/>
<path d="M1514 3594l107-32-125-87z" color="#5ac864"/>
<path d="M2399 4913l120 0-18-97z" color="#24878e"/>
<path d="M4083 3454l-22-19-119-20z" color="#67cc5c"/>
<path d="M6531 5377l-31-13-130 215z" color="#2f6b8e"/>
<path d="M2758 4838l118-71-137-3z" color="#228c8d"/>
<path d="M3508 3921l119-182-21 17z" color="#40bd72"/>
<path d="M3311 4252l99-167-118 149z" color="#25ab82"/>
<path d="M3212 4411l-19-27-118 107z" color="#1f9f88"/>
<path d="M4526 4054l115 222-138-284z" color="#28ae80"/>
<path d="M1353 3266l125 89-142-209z" color="#7fd34e"/>
<path d="M2260 4778l-19-113-122-51z" color="#20928c"/>
<path d="M3725 3592l120-117-141 120z" color="#5ac864"/>
<path d="M2399 4913l-18-105-121-30z" color="#228b8d"/>
<path d="M1836 4237l123 77-18-118z" color="#22a884"/>
<path d="M5196 5520l84 205-109-260z" color="#32658e"/>
<path d="M3845 3475l97-60-119 59z" color="#67cc5c"/>
<path d="M1657 3800l-18-119-125-87z" color="#4cc26c"/>
<path d="M2119 4614l-19-116-122-67z" color="#1e9b8a"/>
<path d="M3094 4530l118-119-137 80z" color="#1e9d89"/>
<path d="M5355 5930l112 175-136-258z" color="#3c508b"/>
<path d="M1836 4237l105-41-124-77z" color="#25ac82"/>
<path d="M1371 3386l125 89-18-120z" color="#6ece58"/>
<path d="M1675 3918l124 83-142-201z" color="#38b977"/>
<path d="M4873 4808l87 239-112-268z" color="#23898e"/>
<path d="M4549 4114l115 238-23-76z" color="#23a983"/>
<path d="M2538 5004l101-117-120 26z" color="#24868e"/>
<path d="M5331 5847l-25-68-110-259z" color="#355f8d"/>
<path d="M1371 3386l107-31-125-89z" color="#7ad151"/>
<path d="M3410 4085l118-175-20 11z" color="#35b779"/>
<path d="M4364 3754l-23-36-117-148z" color="#50c46a"/>
<path d="M2876 4767l118-91-18-48z" color="#20938c"/>
<path d="M2538 5004l-19-91-120 0z" color="#24868e"/>
<path d="M4224 3570l-23-21-118-95z" color="#63cb5f"/>
<path d="M2776 4907l-18-69-119 49z" color="#238a8d"/>
<path d="M2138 4730l122 48-141-164z" color="#20928c"/>
<path d="M1693 4036l124 83-18-118z" color="#2eb37c"/>
<path d="M2278 4889l121 24-139-135z" color="#228b8d"/>
<path d="M1978 4431l-19-117-123-77z" color="#21a685"/>
<path d="M3212 4411l99-159-118 132z" color="#21a585"/>
<path d="M5380 6020l113 149-26-64z" color="#3e4989"/>
<path d="M6330 5888l102-278-131 247z" color="#365c8d"/>
<path d="M3746 3578l-21 14-119 164z" color="#56c667"/>
<path d="M3964 3426l119 28-141-39z" color="#6ece58"/>
<path d="M1514 3594l-18-119-125-89z" color="#69cd5b"/>
<path d="M2776 4907l100-140-118 71z" color="#228d8d"/>
<path d="M1693 4036l106-35-124-83z" color="#35b779"/>
<path d="M3113 4565l-19-35-118 98z" color="#1f9a8a"/>
<path d="M2538 5004l119-37-18-80z" color="#24878e"/>
<path d="M1532 3713l125 87-143-206z" color="#50c46a"/>
<path d="M1996 4548l123 66-141-183z" color="#1e9d89"/>
<path d="M3845 3475l119-49-22-11z" color="#6ece58"/>
<path d="M5010 5111l-25-27-112-276z" color="#25858e"/>
<path d="M2657 4967l119-60-137-20z" color="#23898e"/>
<path d="M4549 4114l92 162-115-222z" color="#29af7f"/>
<path d="M5035 5134l110 289-135-312z" color="#297a8e"/>
<path d="M3627 3739l119-161-140 178z" color="#52c569"/>
<path d="M4711 4471l113 263-137-316z" color="#1e9d89"/>
<path d="M2418 5013l120-9-139-91z" color="#24868e"/>
<path d="M5380 6020l87 85-112-175z" color="#3c4f8a"/>
<path d="M3311 4252l118-159-19-8z" color="#2ab07f"/>
<path d="M2994 4676l119-111-137 63z" color="#1f988b"/>
<path d="M1836 4237l-19-118-124-83z" color="#2cb17e"/>
<path d="M2156 4844l122 45-18-111z" color="#218e8d"/>
<path d="M6432 5610l99-233-130 220z" color="#2f6b8e"/>
<path d="M2156 4844l104-66-122-48z" color="#21918c"/>
<path d="M1550 3832l125 86-18-118z" color="#42be71"/>
<path d="M2297 4997l102-84-121-24z" color="#23898e"/>
<path d="M4387 3796l116 196-139-238z" color="#42be71"/>
<path d="M4687 4418l-23-66-115-238z" color="#24aa83"/>
<path d="M2015 4665l123 65-19-116z" color="#1f978b"/>
<path d="M1854 4354l124 77-142-194z" color="#22a785"/>
<path d="M2297 4997l121 16-19-100z" color="#24878e"/>
<path d="M1550 3832l107-32-125-87z" color="#4cc26c"/>
<path d="M3113 4565l99-154-118 119z" color="#1fa088"/>
<path d="M2015 4665l104-51-123-66z" color="#1f9a8a"/>
<path d="M2776 4907l119-83-19-57z" color="#218f8d"/>
<path d="M3647 3725l-20 14-119 182z" color="#4ac16d"/>
<path d="M1389 3506l125 88-143-208z" color="#6ccd5a"/>
<path d="M4735 4510l113 269-24-45z" color="#1f978b"/>
<path d="M5061 5163l110 302-26-42z" color="#2b758e"/>
<path d="M3746 3578l99-103-120 117z" color="#67cc5c"/>
<path d="M3013 4719l-19-43-118 91z" color="#1f958b"/>
<path d="M2676 5042l-19-75-119 37z" color="#24878e"/>
<path d="M3528 3910l119-185-139 196z" color="#46c06f"/>
<path d="M3212 4411l118-140-19-19z" color="#24aa83"/>
<path d="M1872 4470l124 78-18-117z" color="#1fa187"/>
<path d="M1693 4036l-18-118-125-86z" color="#3fbc73"/>
<path d="M4105 3466l119 104-141-116z" color="#6ece58"/>
<path d="M2436 5110l102-106-120 9z" color="#25858e"/>
<path d="M2297 4997l-19-108-122-45z" color="#228c8d"/>
<path d="M2676 5042l100-135-119 60z" color="#23898e"/>
<path d="M1407 3625l125 88-18-119z" color="#5cc863"/>
<path d="M4247 3595l117 159-140-184z" color="#5ec962"/>
<path d="M1711 4153l125 84-143-201z" color="#2eb37c"/>
<path d="M1872 4470l106-39-124-77z" color="#21a585"/>
<path d="M2156 4844l-18-114-123-65z" color="#1f948c"/>
<path d="M4410 3843l116 211-23-62z" color="#3bbb75"/>
<path d="M2895 4824l118-105-137 48z" color="#20938c"/>
<path d="M1407 3625l107-31-125-88z" color="#67cc5c"/>
<path d="M3548 3911l-20-1-118 175z" color="#3dbc74"/>
<path d="M2436 5110l-18-97-121-16z" color="#24868e"/>
<path d="M2436 5110l120-20-18-86z" color="#25858e"/>
<path d="M2556 5090l120-48-138-38z" color="#24868e"/>
<path d="M5220 5603l111 244-135-327z" color="#31678e"/>
<path d="M5244 5714l111 216-24-83z" color="#355e8d"/>
<path d="M3986 3426l97 28-119-28z" color="#77d153"/>
<path d="M4735 4510l89 224-113-263z" color="#1f9f88"/>
<path d="M3429 4093l119-182-138 174z" color="#38b977"/>
<path d="M3013 4719l100-154-119 111z" color="#1f9a8a"/>
<path d="M1729 4269l125 85-18-117z" color="#26ad81"/>
<path d="M6330 5888l133-260-31-18z" color="#32658e"/>
<path d="M5061 5163l84 260-110-289z" color="#287d8e"/>
<path d="M2015 4665l-19-117-124-78z" color="#1fa088"/>
<path d="M3986 3426l-22 0-119 49z" color="#7ad151"/>
<path d="M1550 3832l-18-119-125-88z" color="#58c765"/>
<path d="M4410 3843l93 149-116-196z" color="#46c06f"/>
<path d="M2175 4957l122 40-141-153z" color="#228d8d"/>
<path d="M3113 4565l118-131-19-23z" color="#20a486"/>
<path d="M2676 5042l119-72-19-63z" color="#228b8d"/>
<path d="M1729 4269l107-32-125-84z" color="#2ab07f"/>
<path d="M1568 3949l125 87-143-204z" color="#42be71"/>
<path d="M3449 4108l-20-15-118 159z" color="#2fb47c"/>
<path d="M2913 4875l-18-51-119 83z" color="#21918c"/>
<path d="M2033 4781l123 63-141-179z" color="#1f968b"/>
<path d="M2315 5102l121 8-139-113z" color="#24868e"/>
<path d="M3986 3426l119 40-22-12z" color="#7ad151"/>
<path d="M3647 3725l99-147-119 161z" color="#5ec962"/>
<path d="M3330 4271l119-163-138 144z" color="#2db27d"/>
<path d="M6432 5610l131-225-32-8z" color="#2c738e"/>
<path d="M3746 3578l120-112-21 9z" color="#73d056"/>
<path d="M5196 5520l-25-55-110-302z" color="#2a778e"/>
<path d="M4873 4808l-25-29-113-269z" color="#1f9a8a"/>
<path d="M1872 4470l-18-116-125-85z" color="#25ab82"/>
<path d="M1586 4065l125 88-18-117z" color="#37b878"/>
<path d="M2795 4970l118-95-137 32z" color="#218f8d"/>
<path d="M5244 5714l87 133-111-244z" color="#31668e"/>
<path d="M4898 4825l112 286-137-303z" color="#218f8d"/>
<path d="M4573 4169l114 249-138-304z" color="#2cb17e"/>
<path d="M2575 5172l-19-82-120 20z" color="#25848e"/>
<path d="M2575 5172l101-130-120 48z" color="#24868e"/>
<path d="M4549 4114l-23-60-116-211z" color="#3dbc74"/>
<path d="M5380 6020l-25-90-111-216z" color="#355e8d"/>
<path d="M4269 3624l118 172-23-42z" color="#5ac864"/>
<path d="M2193 5068l104-71-122-40z" color="#228b8d"/>
<path d="M1890 4587l125 78-143-195z" color="#1fa188"/>
<path d="M3866 3466l120-40-141 49z" color="#7cd250"/>
<path d="M2193 5068l122 34-18-105z" color="#23888e"/>
<path d="M1586 4065l107-29-125-87z" color="#3dbc74"/>
<path d="M2913 4875l100-156-118 105z" color="#1f958b"/>
<path d="M3350 4285l-20-14-118 140z" color="#27ad81"/>
<path d="M2051 4896l124 61-19-113z" color="#21918c"/>
<path d="M1424 3743l126 89-143-207z" color="#5ac864"/>
<path d="M4128 3478l96 92-119-104z" color="#77d153"/>
<path d="M4269 3624l95 130-117-159z" color="#65cb5e"/>
<path d="M2051 4896l105-52-123-63z" color="#20938c"/>
<path d="M3013 4719l119-125-19-29z" color="#1f9f88"/>
<path d="M3548 3911l99-186-119 185z" color="#50c46a"/>
<path d="M4128 3478l119 117-23-25z" color="#73d056"/>
<path d="M2334 5206l102-96-121-8z" color="#25858e"/>
<path d="M3231 4434l119-149-138 126z" color="#25ac82"/>
<path d="M2455 5204l120-32-139-62z" color="#25848e"/>
<path d="M4596 4217l115 254-24-53z" color="#25ac82"/>
<path d="M1729 4269l-18-116-125-88z" color="#32b67a"/>
<path d="M1909 4702l124 79-18-116z" color="#1e9b8a"/>
<path d="M2575 5172l119-59-18-71z" color="#24878e"/>
<path d="M1442 3860l126 89-18-117z" color="#4ec36b"/>
<path d="M2813 5028l-18-58-119 72z" color="#228c8d"/>
<path d="M2334 5206l121-2-19-94z" color="#25848e"/>
<path d="M1747 4384l125 86-143-201z" color="#26ad81"/>
<path d="M3449 4108l99-197-119 182z" color="#3fbc73"/>
<path d="M1909 4702l106-37-125-78z" color="#1f9f88"/>
<path d="M4924 4837l111 297-25-23z" color="#228c8d"/>
<path d="M1442 3860l108-28-126-89z" color="#56c667"/>
<path d="M2193 5068l-18-111-124-61z" color="#218f8d"/>
<path d="M2334 5206l-19-104-122-34z" color="#24878e"/>
<path d="M2694 5113l119-85-137 14z" color="#228b8d"/>
<path d="M3250 4450l-19-16-118 131z" color="#22a785"/>
<path d="M2813 5028l100-153-118 95z" color="#21908d"/>
<path d="M3647 3725l120-160-21 13z" color="#6ece58"/>
<path d="M2913 4875l119-118-19-38z" color="#1f998a"/>
<path d="M1765 4499l125 88-18-117z" color="#21a685"/>
<path d="M4128 3478l-23-12-119-40z" color="#84d44b"/>
<path d="M4596 4217l91 201-114-249z" color="#2eb37c"/>
<path d="M2051 4896l-18-115-124-79z" color="#1f998a"/>
<path d="M6463 5628l132-223-163 205z" color="#2c728e"/>
<path d="M1586 4065l-18-116-126-89z" color="#48c16e"/>
<path d="M3132 4594l118-144-137 115z" color="#21a585"/>
<path d="M3350 4285l99-177-119 163z" color="#31b57b"/>
<path d="M4410 3843l-23-47-118-172z" color="#5ec962"/>
<path d="M6595 5405l-32-20-131 225z" color="#2a778e"/>
<path d="M2473 5293l102-121-120 32z" color="#25838e"/>
<path d="M1765 4499l107-29-125-86z" color="#24aa83"/>
<path d="M1604 4179l125 90-143-204z" color="#35b779"/>
<path d="M3888 3455l-22 11-120 112z" color="#7fd34e"/>
<path d="M2473 5293l-18-89-121 2z" color="#25838e"/>
<path d="M5267 5835l113 185-136-306z" color="#32648e"/>
<path d="M4924 4837l86 274-112-286z" color="#20928c"/>
<path d="M2212 5177l122 29-141-138z" color="#24878e"/>
<path d="M2070 5010l123 58-142-172z" color="#21908d"/>
<path d="M2713 5177l-19-64-119 59z" color="#23888e"/>
<path d="M4433 3891l116 223-139-271z" color="#4cc26c"/>
<path d="M3151 4619l-19-25-119 125z" color="#1fa187"/>
<path d="M4269 3624l-22-29-119-117z" color="#7ad151"/>
<path d="M4735 4510l-24-39-115-254z" color="#27ad81"/>
<path d="M1909 4702l-19-115-125-88z" color="#20a486"/>
<path d="M1621 4293l126 91-18-115z" color="#2db27d"/>
<path d="M2473 5293l120-44-18-77z" color="#25848e"/>
<path d="M5110 5315l110 288-24-83z" color="#2a788e"/>
<path d="M3548 3911l120-189-21 3z" color="#5ec962"/>
<path d="M3888 3455l98-29-120 40z" color="#89d548"/>
<path d="M4760 4536l113 272-138-298z" color="#20a386"/>
<path d="M5086 5213l110 307-135-357z" color="#26828e"/>
<path d="M3250 4450l100-165-119 149z" color="#28ae80"/>
<path d="M2813 5028l119-107-19-46z" color="#20938c"/>
<path d="M3032 4757l119-138-138 100z" color="#1fa088"/>
<path d="M3767 3565l121-110-142 123z" color="#7fd34e"/>
<path d="M2352 5306l121-13-139-87z" color="#25838e"/>
<path d="M2713 5177l100-149-119 85z" color="#228b8d"/>
<path d="M1927 4818l124 78-142-194z" color="#1f9a8a"/>
<path d="M1621 4293l108-24-125-90z" color="#32b67a"/>
<path d="M2593 5249l120-72-138-5z" color="#24868e"/>
<path d="M1460 3975l126 90-144-205z" color="#4cc26c"/>
<path d="M3449 4108l120-189-21-8z" color="#4cc26c"/>
<path d="M2089 5122l123 55-19-109z" color="#228b8d"/>
<path d="M2230 5284l104-78-122-29z" color="#24868e"/>
<path d="M5061 5163l-26-29-111-297z" color="#218f8d"/>
<path d="M2089 5122l104-54-123-58z" color="#218e8d"/>
<path d="M4008 3423l120 55-142-52z" color="#8ed645"/>
<path d="M2230 5284l122 22-18-100z" color="#25848e"/>
<path d="M4456 3938l117 231-24-55z" color="#42be71"/>
<path d="M1765 4499l-18-115-126-91z" color="#2ab07f"/>
<path d="M3051 4792l-19-35-119 118z" color="#1e9c89"/>
<path d="M1477 4088l127 91-18-114z" color="#40bd72"/>
<path d="M1945 4932l125 78-19-114z" color="#1f948c"/>
<path d="M3350 4285l119-168-20-9z" color="#3bbb75"/>
<path d="M3151 4619l99-169-118 144z" color="#23a983"/>
<path d="M1783 4614l126 88-144-203z" color="#21a685"/>
<path d="M5244 5714l-24-111-110-288z" color="#2a778e"/>
<path d="M1945 4932l106-36-124-78z" color="#1f988b"/>
<path d="M3888 3455l120-32-22 3z" color="#90d743"/>
<path d="M1477 4088l109-23-126-90z" color="#48c16e"/>
<path d="M2932 4921l119-129-138 83z" color="#1f998a"/>
<path d="M4785 4549l113 276-25-17z" color="#1fa188"/>
<path d="M3789 3559l-22 6-120 160z" color="#7ad151"/>
<path d="M2371 5399l102-106-121 13z" color="#26828e"/>
<path d="M2611 5318l-18-69-120 44z" color="#25848e"/>
<path d="M2713 5177l119-96-19-53z" color="#218e8d"/>
<path d="M4292 3658l118 185-141-219z" color="#6ece58"/>
<path d="M5110 5315l86 205-110-307z" color="#26828e"/>
<path d="M2230 5284l-18-107-123-55z" color="#23898e"/>
<path d="M4456 3938l93 176-116-223z" color="#50c46a"/>
<path d="M1802 4728l125 90-18-116z" color="#1fa088"/>
<path d="M2611 5318l102-141-120 72z" color="#24878e"/>
<path d="M3668 3722l121-163-142 166z" color="#75d054"/>
<path d="M1621 4293l-17-114-127-91z" color="#3dbc74"/>
<path d="M4150 3496l119 128-141-146z" color="#86d549"/>
<path d="M2089 5122l-19-112-125-78z" color="#20928c"/>
<path d="M2371 5399l-19-93-122-22z" color="#25838e"/>
<path d="M2371 5399l121-25-19-81z" color="#26828e"/>
<path d="M3250 4450l120-164-20-1z" color="#31b57b"/>
<path d="M2951 4963l-19-42-119 107z" color="#1f958b"/>
<path d="M2492 5374l119-56-138-25z" color="#25838e"/>
<path d="M1802 4728l107-26-126-88z" color="#20a486"/>
<path d="M3051 4792l100-173-119 138z" color="#1fa287"/>
<path d="M1639 4406l126 93-144-206z" color="#2db27d"/>
<path d="M4785 4549l88 259-113-272z" color="#22a785"/>
<path d="M3689 3722l-21 0-120 189z" color="#69cd5b"/>
<path d="M2832 5081l119-118-138 65z" color="#20938c"/>
<path d="M4596 4217l-23-48-117-231z" color="#46c06f"/>
<path d="M3569 3919l120-197-141 189z" color="#63cb5f"/>
<path d="M5154 5622l113 213-23-121z" color="#2d718e"/>
<path d="M2107 5232l123 52-141-162z" color="#238a8d"/>
<path d="M3789 3559l99-104-121 110z" color="#8bd646"/>
<path d="M4620 4254l115 256-139-293z" color="#34b679"/>
<path d="M1945 4932l-18-114-125-90z" color="#1f9e89"/>
<path d="M1657 4519l126 95-18-115z" color="#25ac82"/>
<path d="M3589 3924l-20-5-120 189z" color="#54c568"/>
<path d="M2249 5384l122 15-141-115z" color="#25838e"/>
<path d="M2611 5318l120-82-18-59z" color="#23898e"/>
<path d="M4315 3696l118 195-23-48z" color="#69cd5b"/>
<path d="M3469 4117l120-193-140 184z" color="#4ec36b"/>
<path d="M4030 3432l98 46-120-55z" color="#98d83e"/>
<path d="M3151 4619l119-158-20-11z" color="#28ae80"/>
<path d="M1657 4519l108-20-126-93z" color="#2ab07f"/>
<path d="M1964 5046l125 76-144-190z" color="#1f948c"/>
<path d="M1495 4200l126 93-144-205z" color="#40bd72"/>
<path d="M2951 4963l100-171-119 129z" color="#1e9c89"/>
<path d="M2850 5128l-18-47-119 96z" color="#21908d"/>
<path d="M4315 3696l95 147-118-185z" color="#75d054"/>
<path d="M2510 5443l-18-69-121 25z" color="#26828e"/>
<path d="M3490 4104l-21 13-119 168z" color="#44bf70"/>
<path d="M4030 3432l120 64-22-18z" color="#98d83e"/>
<path d="M4030 3432l-22-9-120 32z" color="#9dd93b"/>
<path d="M2510 5443l101-125-119 56z" color="#25848e"/>
<path d="M5132 5460l112 254-134-399z" color="#277e8e"/>
<path d="M4924 4837l-26-12-113-276z" color="#20a486"/>
<path d="M2125 5335l105-51-123-52z" color="#23898e"/>
<path d="M2731 5236l119-108-137 49z" color="#218e8d"/>
<path d="M2125 5335l124 49-19-100z" color="#24868e"/>
<path d="M1802 4728l-19-114-126-95z" color="#24aa83"/>
<path d="M1513 4311l126 95-18-113z" color="#35b779"/>
<path d="M3370 4286l120-182-140 181z" color="#3fbc73"/>
<path d="M4949 4852l112 311-137-326z" color="#1f9a8a"/>
<path d="M4645 4281l115 255-25-26z" color="#2eb37c"/>
<path d="M3051 4792l119-150-19-23z" color="#22a785"/>
<path d="M1982 5156l125 76-18-110z" color="#218f8d"/>
<path d="M4173 3518l119 140-23-34z" color="#89d548"/>
<path d="M1820 4841l125 91-143-204z" color="#1fa088"/>
<path d="M4173 3518l96 106-119-128z" color="#90d743"/>
<path d="M5154 5622l90 92-112-254z" color="#297a8e"/>
<path d="M2267 5470l104-71-122-15z" color="#25838e"/>
<path d="M1982 5156l107-34-125-76z" color="#20928c"/>
<path d="M1513 4311l108-18-126-93z" color="#3dbc74"/>
<path d="M3689 3722l100-163-121 163z" color="#81d34d"/>
<path d="M2850 5128l101-165-119 118z" color="#1f958b"/>
<path d="M2389 5476l121-33-139-44z" color="#26828e"/>
<path d="M3789 3559l121-105-22 1z" color="#9bd93c"/>
<path d="M3389 4282l-19 4-120 164z" color="#38b977"/>
<path d="M2267 5470l122 6-18-77z" color="#26828e"/>
<path d="M2510 5443l120-64-19-61z" color="#25858e"/>
<path d="M4975 4895l111 318-25-50z" color="#1f948c"/>
<path d="M2749 5286l-18-50-120 82z" color="#228b8d"/>
<path d="M1838 4954l126 92-19-114z" color="#1f9a8a"/>
<path d="M4456 3938l-23-47-118-195z" color="#6ccd5a"/>
<path d="M4645 4281l90 229-115-256z" color="#38b977"/>
<path d="M1657 4519l-18-113-126-95z" color="#32b67a"/>
<path d="M3270 4461l119-179-139 168z" color="#34b679"/>
<path d="M3910 3454l120-22-142 23z" color="#a2da37"/>
<path d="M2951 4963l119-140-19-31z" color="#1fa188"/>
<path d="M3589 3924l100-202-120 197z" color="#6ccd5a"/>
<path d="M2267 5470l-18-86-124-49z" color="#25858e"/>
<path d="M2125 5335l-18-103-125-76z" color="#218e8d"/>
<path d="M1838 4954l107-22-125-91z" color="#1f9e89"/>
<path d="M1675 4632l127 96-145-209z" color="#25ac82"/>
<path d="M4480 3982l116 235-140-279z" color="#58c765"/>
<path d="M2630 5379l119-93-138 32z" color="#23898e"/>
<path d="M3289 4472l-19-11-119 158z" color="#2db27d"/>
<path d="M3490 4104l99-180-120 193z" color="#58c765"/>
<path d="M2749 5286l101-158-119 108z" color="#21908d"/>
<path d="M3170 4642l119-170-138 147z" color="#29af7f"/>
<path d="M4173 3518l-23-22-120-64z" color="#a0da39"/>
<path d="M1982 5156l-18-110-126-92z" color="#1f988b"/>
<path d="M1693 4743l127 98-18-113z" color="#21a685"/>
<path d="M2406 5543l104-100-121 33z" color="#26828e"/>
<path d="M2850 5128l119-129-18-36z" color="#1f9a8a"/>
<path d="M4315 3696l-23-38-119-140z" color="#8ed645"/>
<path d="M4975 4895l86 268-112-311z" color="#1e9d89"/>
<path d="M1693 4743l109-15-127-96z" color="#24aa83"/>
<path d="M2406 5543l-17-67-122-6z" color="#26828e"/>
<path d="M3189 4664l-19-22-119 150z" color="#25ab82"/>
<path d="M1530 4424l127 95-144-208z" color="#37b878"/>
<path d="M5110 5315l-24-102-111-318z" color="#1f948c"/>
<path d="M4785 4549l-25-13-115-255z" color="#34b679"/>
<path d="M2143 5430l124 40-142-135z" color="#24878e"/>
<path d="M2000 5263l125 72-143-179z" color="#21908d"/>
<path d="M3389 4282l101-178-120 182z" color="#48c16e"/>
<path d="M3689 3722l121-168-21 5z" color="#93d741"/>
<path d="M4504 4021l116 233-24-37z" color="#4ec36b"/>
<path d="M2648 5431l-18-52-120 64z" color="#24878e"/>
<path d="M3070 4823l119-159-138 128z" color="#22a884"/>
<path d="M2406 5543l121-40-17-60z" color="#25848e"/>
<path d="M1838 4954l-18-113-127-98z" color="#20a486"/>
<path d="M1548 4535l127 97-18-113z" color="#2db27d"/>
<path d="M3932 3453l-22 1-121 105z" color="#a5db36"/>
<path d="M4810 4553l114 284-139-288z" color="#28ae80"/>
<path d="M3089 4849l-19-26-119 140z" color="#20a386"/>
<path d="M2648 5431l101-145-119 93z" color="#228b8d"/>
<path d="M2749 5286l120-117-19-41z" color="#20938c"/>
<path d="M2527 5503l121-72-138 12z" color="#24868e"/>
<path d="M1856 5066l126 90-144-202z" color="#1f9a8a"/>
<path d="M4504 4021l92 196-116-235z" color="#5cc863"/>
<path d="M2284 5547l122-4-139-73z" color="#25838e"/>
<path d="M3289 4472l100-190-119 179z" color="#3aba76"/>
<path d="M1548 4535l109-16-127-95z" color="#34b679"/>
<path d="M4338 3737l118 201-141-242z" color="#7fd34e"/>
<path d="M3589 3924l121-208-21 6z" color="#7fd34e"/>
<path d="M3932 3453l98-21-120 22z" color="#addc30"/>
<path d="M2969 4999l120-150-138 114z" color="#1fa188"/>
<path d="M2018 5365l125 65-18-95z" color="#228b8d"/>
<path d="M2018 5365l107-30-125-72z" color="#218e8d"/>
<path d="M4053 3443l120 75-143-86z" color="#addc30"/>
<path d="M2161 5519l106-49-124-40z" color="#24868e"/>
<path d="M3810 3554l122-101-143 106z" color="#a5db36"/>
<path d="M5020 5170l112 290-22-145z" color="#218f8d"/>
<path d="M2161 5519l123 28-17-77z" color="#25858e"/>
<path d="M1693 4743l-18-111-127-97z" color="#2ab07f"/>
<path d="M3189 4664l100-192-119 170z" color="#2eb37c"/>
<path d="M1874 5175l126 88-18-107z" color="#1f958b"/>
<path d="M3490 4104l120-203-21 23z" color="#69cd5b"/>
<path d="M2988 5029l-19-30-119 129z" color="#1e9c89"/>
<path d="M1874 5175l108-19-126-90z" color="#1f998a"/>
<path d="M1711 4855l127 99-145-211z" color="#21a685"/>
<path d="M4196 3545l119 151-142-178z" color="#9dd93b"/>
<path d="M5154 5622l-22-162-112-290z" color="#228b8d"/>
<path d="M2869 5169l119-140-138 99z" color="#1f9a8a"/>
<path d="M3932 3453l121-10-23-11z" color="#b2dd2d"/>
<path d="M2648 5431l119-101-18-44z" color="#218f8d"/>
<path d="M4836 4557l113 295-25-15z" color="#25ac82"/>
<path d="M4645 4281l-25-27-116-233z" color="#54c568"/>
<path d="M2545 5558l-18-55-121 40z" color="#25858e"/>
<path d="M4362 3778l118 204-24-44z" color="#77d153"/>
<path d="M3089 4849l100-185-119 159z" color="#25ab82"/>
<path d="M2161 5519l-18-89-125-65z" color="#238a8d"/>
<path d="M2302 5620l104-77-122 4z" color="#25848e"/>
<path d="M3389 4282l121-199-20 21z" color="#58c765"/>
<path d="M1729 4966l127 100-18-112z" color="#1fa188"/>
<path d="M2545 5558l103-127-121 72z" color="#23888e"/>
<path d="M3832 3546l-22 8-121 168z" color="#a0da39"/>
<path d="M2018 5365l-18-102-126-88z" color="#20938c"/>
<path d="M2887 5203l-18-34-120 117z" color="#1f968b"/>
<path d="M4998 5000l112 315-135-420z" color="#1f9e89"/>
<path d="M4362 3778l94 160-118-201z" color="#84d44b"/>
<path d="M1729 4966l109-12-127-99z" color="#21a585"/>
<path d="M1566 4645l127 98-145-208z" color="#2eb37c"/>
<path d="M4669 4296l116 253-140-268z" color="#44bf70"/>
<path d="M3710 3716l122-170-143 176z" color="#9bd93c"/>
<path d="M2302 5620l-18-73-123-28z" color="#25858e"/>
<path d="M2424 5605l121-47-139-15z" color="#25858e"/>
<path d="M2302 5620l122-15-18-62z" color="#25848e"/>
<path d="M4836 4557l88 280-114-284z" color="#2eb37c"/>
<path d="M3289 4472l120-191-20 1z" color="#48c16e"/>
<path d="M2988 5029l101-180-120 150z" color="#20a386"/>
<path d="M2767 5330l120-127-138 83z" color="#1f948c"/>
<path d="M5020 5170l90 145-112-315z" color="#1f9a8a"/>
<path d="M4075 3456l98 62-120-75z" color="#b5de2b"/>
<path d="M1874 5175l-18-109-127-100z" color="#1f9f88"/>
<path d="M3731 3699l-21 17-121 208z" color="#8bd646"/>
<path d="M3189 4664l120-179-20-13z" color="#37b878"/>
<path d="M1583 4754l128 101-18-112z" color="#26ad81"/>
<path d="M2036 5462l125 57-143-154z" color="#228c8d"/>
<path d="M4219 3578l119 159-23-41z" color="#9bd93c"/>
<path d="M2545 5558l121-80-18-47z" color="#238a8d"/>
<path d="M3610 3901l121-202-142 225z" color="#86d549"/>
<path d="M4075 3456l121 89-23-27z" color="#b2dd2d"/>
<path d="M4219 3578l96 118-119-151z" color="#a5db36"/>
<path d="M3832 3546l100-93-122 101z" color="#b2dd2d"/>
<path d="M5041 5379l113 243-134-452z" color="#21908d"/>
<path d="M1583 4754l110-11-127-98z" color="#2cb17e"/>
<path d="M2887 5203l101-174-119 140z" color="#1e9d89"/>
<path d="M1892 5280l126 85-144-190z" color="#1f958b"/>
<path d="M2786 5369l-19-39-119 101z" color="#21918c"/>
<path d="M2179 5603l123 17-141-101z" color="#24868e"/>
<path d="M4504 4021l-24-39-118-204z" color="#7cd250"/>
<path d="M3089 4849l120-167-20-18z" color="#2ab07f"/>
<path d="M4975 4895l-26-43-113-295z" color="#28ae80"/>
<path d="M4075 3456l-22-13-121 10z" color="#bddf26"/>
<path d="M3631 3872l-21 29-120 203z" color="#77d153"/>
<path d="M2666 5478l120-109-138 62z" color="#218f8d"/>
<path d="M4694 4301l116 252-25-4z" color="#40bd72"/>
<path d="M1729 4966l-18-111-128-101z" color="#25ac82"/>
<path d="M3510 4083l121-211-141 232z" color="#73d056"/>
<path d="M2442 5664l103-106-121 47z" color="#24868e"/>
<path d="M2442 5664l-18-59-122 15z" color="#25858e"/>
<path d="M2054 5556l107-37-125-57z" color="#228c8d"/>
<path d="M4528 4052l117 229-141-260z" color="#67cc5c"/>
<path d="M1747 5077l127 98-145-209z" color="#1fa187"/>
<path d="M2988 5029l120-159-19-21z" color="#23a983"/>
<path d="M2054 5556l125 47-18-84z" color="#23898e"/>
<path d="M1910 5383l126 79-18-97z" color="#20928c"/>
<path d="M3530 4072l-20 11-121 199z" color="#65cb5e"/>
<path d="M2786 5369l101-166-120 127z" color="#1f968b"/>
<path d="M1910 5383l108-18-126-85z" color="#1f948c"/>
<path d="M3409 4281l121-209-141 210z" color="#5ec962"/>
<path d="M4694 4301l91 248-116-253z" color="#4cc26c"/>
<path d="M3430 4288l-21-7-120 191z" color="#50c46a"/>
<path d="M3731 3699l101-153-122 170z" color="#a8db34"/>
<path d="M2197 5683l105-63-123-17z" color="#24868e"/>
<path d="M4362 3778l-24-41-119-159z" color="#a2da37"/>
<path d="M3832 3546l122-98-22 5z" color="#c0df25"/>
<path d="M3309 4485l121-197-141 184z" color="#4ac16d"/>
<path d="M2684 5521l-18-43-121 80z" color="#228d8d"/>
<path d="M1765 5184l127 96-18-105z" color="#1e9c89"/>
<path d="M2320 5689l122-25-140-44z" color="#24868e"/>
<path d="M3954 3448l121 8-143-3z" color="#c5e021"/>
<path d="M2442 5664l121-56-18-50z" color="#23888e"/>
<path d="M2887 5203l120-149-19-25z" color="#1fa187"/>
<path d="M4219 3578l-23-33-121-89z" color="#bade28"/>
<path d="M3329 4497l-20-12-120 179z" color="#3dbc74"/>
<path d="M1765 5184l109-9-127-98z" color="#1fa088"/>
<path d="M1601 4866l128 100-146-212z" color="#27ad81"/>
<path d="M2197 5683l123 6-18-69z" color="#24868e"/>
<path d="M3209 4682l120-185-140 167z" color="#38b977"/>
<path d="M2054 5556l-18-94-126-79z" color="#21918c"/>
<path d="M2563 5608l121-87-139 37z" color="#228c8d"/>
<path d="M4552 4076l117 220-24-15z" color="#63cb5f"/>
<path d="M2197 5683l-18-80-125-47z" color="#23898e"/>
<path d="M2684 5521l102-152-120 109z" color="#20928c"/>
<path d="M3228 4694l-19-12-120 167z" color="#2fb47c"/>
<path d="M3631 3872l100-173-121 202z" color="#95d840"/>
<path d="M4385 3819l119 202-142-243z" color="#8ed645"/>
<path d="M1619 4977l128 100-18-111z" color="#22a884"/>
<path d="M3108 4870l120-176-139 155z" color="#2cb17e"/>
<path d="M2786 5369l119-136-18-30z" color="#1e9b8a"/>
<path d="M1910 5383l-18-103-127-96z" color="#1e9b8a"/>
<path d="M4552 4076l93 205-117-229z" color="#6ece58"/>
<path d="M4836 4557l-26-4-116-252z" color="#4ac16d"/>
<path d="M1619 4977l110-11-128-100z" color="#25ac82"/>
<path d="M3127 4885l-19-15-120 159z" color="#26ad81"/>
<path d="M3530 4072l101-200-121 211z" color="#7fd34e"/>
<path d="M2337 5751l105-87-122 25z" color="#24878e"/>
<path d="M4861 4582l114 313-139-338z" color="#38b977"/>
<path d="M3007 5054l120-169-139 144z" color="#24aa83"/>
<path d="M4886 4660l112 340-23-105z" color="#2cb17e"/>
<path d="M4926 5140l115 239-21-209z" color="#1f9f88"/>
<path d="M1928 5485l126 71-144-173z" color="#20928c"/>
<path d="M2072 5647l125 36-143-127z" color="#228b8d"/>
<path d="M2581 5654l-18-46-121 56z" color="#238a8d"/>
<path d="M3430 4288l100-216-121 209z" color="#67cc5c"/>
<path d="M3731 3699l123-159-22 6z" color="#bade28"/>
<path d="M2337 5751l-17-62-123-6z" color="#24878e"/>
<path d="M4098 3480l121 98-144-122z" color="#c8e020"/>
<path d="M1765 5184l-18-107-128-100z" color="#21a685"/>
<path d="M4242 3617l120 161-143-200z" color="#b2dd2d"/>
<path d="M3329 4497l101-209-121 197z" color="#52c569"/>
<path d="M3976 3461l-22-13-122 98z" color="#cae11f"/>
<path d="M2684 5521l120-117-18-35z" color="#1f958b"/>
<path d="M3026 5074l-19-20-120 149z" color="#21a585"/>
<path d="M4409 3856l119 196-24-31z" color="#89d548"/>
<path d="M3976 3461l99-5-121-8z" color="#d0e11c"/>
<path d="M2581 5654l103-133-121 87z" color="#218e8d"/>
<path d="M2337 5751l122-34-17-53z" color="#23888e"/>
<path d="M5020 5170l-22-170-112-340z" color="#27ad81"/>
<path d="M1783 5289l127 94-145-199z" color="#1e9d89"/>
<path d="M2905 5233l121-159-139 129z" color="#1fa287"/>
<path d="M3228 4694l101-197-120 185z" color="#3fbc73"/>
<path d="M2459 5717l122-63-139 10z" color="#238a8d"/>
<path d="M4409 3856l95 165-119-202z" color="#95d840"/>
<path d="M1946 5585l126 62-18-91z" color="#218f8d"/>
<path d="M2214 5757l123-6-140-68z" color="#23888e"/>
<path d="M4694 4301l-25-5-117-220z" color="#6ccd5a"/>
<path d="M1946 5585l108-29-126-71z" color="#20928c"/>
<path d="M3854 3540l122-79-144 85z" color="#cae11f"/>
<path d="M3976 3461l122 19-23-24z" color="#d2e21b"/>
<path d="M2924 5259l-19-26-119 136z" color="#1f9f88"/>
<path d="M3127 4885l101-191-120 176z" color="#31b57b"/>
<path d="M2090 5733l107-50-125-36z" color="#228b8d"/>
<path d="M3631 3872l122-196-22 23z" color="#aadc32"/>
<path d="M1801 5395l127 90-18-102z" color="#1f988b"/>
<path d="M1637 5084l128 100-146-207z" color="#23a983"/>
<path d="M4886 4660l89 235-114-313z" color="#3aba76"/>
<path d="M2804 5404l120-145-138 110z" color="#1e9c89"/>
<path d="M2090 5733l124 24-17-74z" color="#23898e"/>
<path d="M1801 5395l109-12-127-94z" color="#1e9c89"/>
<path d="M4265 3657l120 162-23-41z" color="#addc30"/>
<path d="M2581 5654l121-94-18-39z" color="#21918c"/>
<path d="M3026 5074l101-189-120 169z" color="#27ad81"/>
<path d="M4265 3657l97 121-120-161z" color="#b8de29"/>
<path d="M3530 4072l122-217-21 17z" color="#95d840"/>
<path d="M4121 3511l98 67-121-98z" color="#d0e11c"/>
<path d="M4121 3511l121 106-23-39z" color="#cae11f"/>
<path d="M1655 5189l128 100-18-105z" color="#20a386"/>
<path d="M4926 5140l94 30-113-317z" color="#25ac82"/>
<path d="M3430 4288l121-216-21 0z" color="#7cd250"/>
<path d="M2822 5437l-18-33-120 117z" color="#1f988b"/>
<path d="M2090 5733l-18-86-126-62z" color="#218e8d"/>
<path d="M2477 5762l-18-45-122 34z" color="#238a8d"/>
<path d="M4720 4300l116 257-142-256z" color="#5ec962"/>
<path d="M3329 4497l121-201-20-8z" color="#63cb5f"/>
<path d="M3876 3536l-22 4-123 159z" color="#c8e020"/>
<path d="M4552 4076l-24-24-119-196z" color="#90d743"/>
<path d="M1946 5585l-18-100-127-90z" color="#1f978b"/>
<path d="M1655 5189l110-5-128-100z" color="#22a785"/>
<path d="M2477 5762l104-108-122 63z" color="#228c8d"/>
<path d="M2231 5820l106-69-123 6z" color="#23898e"/>
<path d="M2924 5259l102-185-121 159z" color="#21a685"/>
<path d="M2702 5560l120-123-138 84z" color="#1f968b"/>
<path d="M3228 4694l121-191-20-6z" color="#4ec36b"/>
<path d="M4907 4853l113 317-134-510z" color="#2fb47c"/>
<path d="M3753 3676l123-140-145 163z" color="#c5e021"/>
<path d="M2231 5820l-17-63-124-24z" color="#238a8d"/>
<path d="M4121 3511l-23-31-122-19z" color="#dae319"/>
<path d="M2355 5804l122-42-140-11z" color="#238a8d"/>
<path d="M1801 5395l-18-106-128-100z" color="#1fa287"/>
<path d="M2231 5820l124-16-18-53z" color="#23898e"/>
<path d="M3127 4885l121-184-20-7z" color="#3bbb75"/>
<path d="M3876 3536l100-75-122 79z" color="#d8e219"/>
<path d="M4409 3856l-24-37-120-162z" color="#b2dd2d"/>
<path d="M1964 5681l126 52-144-148z" color="#21908d"/>
<path d="M2822 5437l102-178-120 145z" color="#1f9f88"/>
<path d="M2477 5762l122-67-18-41z" color="#218f8d"/>
<path d="M4577 4090l117 211-142-225z" color="#81d34d"/>
<path d="M2720 5594l-18-34-121 94z" color="#20938c"/>
<path d="M1819 5499l127 86-145-190z" color="#1f998a"/>
<path d="M3775 3661l-22 15-122 196z" color="#bade28"/>
<path d="M4745 4307l116 275-25-25z" color="#5ac864"/>
<path d="M3026 5074l120-178-19-11z" color="#2fb47c"/>
<path d="M4265 3657l-23-40-121-106z" color="#d0e11c"/>
<path d="M3652 3855l123-194-144 211z" color="#b5de2b"/>
<path d="M2107 5806l124 14-141-87z" color="#228c8d"/>
<path d="M2599 5695l121-101-139 60z" color="#20928c"/>
<path d="M3673 3849l-21 6-122 217z" color="#a5db36"/>
<path d="M3998 3479l123 32-145-50z" color="#e2e418"/>
<path d="M3551 4072l122-223-143 223z" color="#9bd93c"/>
<path d="M3572 4080l-21-8-121 216z" color="#86d549"/>
<path d="M3450 4296l122-216-142 208z" color="#7cd250"/>
<path d="M2924 5259l120-168-18-17z" color="#25ac82"/>
<path d="M1672 5297l129 98-146-206z" color="#20a486"/>
<path d="M4745 4307l91 250-116-257z" color="#69cd5b"/>
<path d="M2720 5594l102-157-120 123z" color="#1f998a"/>
<path d="M3470 4297l-20-1-121 201z" color="#6ccd5a"/>
<path d="M3876 3536l122-57-22-18z" color="#e2e418"/>
<path d="M4433 3888l119 188-143-220z" color="#a2da37"/>
<path d="M1837 5600l127 81-18-96z" color="#1f948c"/>
<path d="M3349 4503l121-206-141 200z" color="#65cb5e"/>
<path d="M1982 5765l108-32-126-52z" color="#21908d"/>
<path d="M1837 5600l109-15-127-86z" color="#1f988b"/>
<path d="M1982 5765l125 41-17-73z" color="#218e8d"/>
<path d="M3369 4502l-20 1-121 191z" color="#56c667"/>
<path d="M3248 4701l121-199-141 192z" color="#50c46a"/>
<path d="M2822 5437l121-151-19-27z" color="#20a486"/>
<path d="M1690 5401l129 98-18-104z" color="#1fa088"/>
<path d="M3775 3661l101-125-123 140z" color="#d2e21b"/>
<path d="M4601 4096l119 204-26 1z" color="#81d34d"/>
<path d="M4886 4660l-25-78-116-275z" color="#5ec962"/>
<path d="M3267 4703l-19-2-121 184z" color="#44bf70"/>
<path d="M4288 3694l121 162-144-199z" color="#c5e021"/>
<path d="M1690 5401l111-6-129-98z" color="#20a386"/>
<path d="M4144 3544l121 113-144-146z" color="#dde318"/>
<path d="M3146 4896l121-193-140 182z" color="#3fbc73"/>
<path d="M4601 4096l93 205-117-211z" color="#8bd646"/>
<path d="M1982 5765l-18-84-127-81z" color="#1f948c"/>
<path d="M3165 4903l-19-7-120 178z" color="#35b779"/>
<path d="M2720 5594l121-127-19-30z" color="#1f9e89"/>
<path d="M3044 5091l121-188-139 171z" color="#31b57b"/>
<path d="M4457 3917l120 173-25-14z" color="#a0da39"/>
<path d="M4926 5140l-19-287-115-295z" color="#3fbc73"/>
<path d="M1837 5600l-18-101-129-98z" color="#1f9e89"/>
<path d="M3673 3849l102-188-123 194z" color="#c2df23"/>
<path d="M4021 3493l100 18-123-32z" color="#eae51a"/>
<path d="M3063 5108l-19-17-120 168z" color="#29af7f"/>
<path d="M4457 3917l95 159-119-188z" color="#aadc32"/>
<path d="M3572 4080l101-231-122 223z" color="#a5db36"/>
<path d="M3470 4297l102-217-122 216z" color="#89d548"/>
<path d="M4021 3493l-23-14-122 57z" color="#eae51a"/>
<path d="M2943 5286l120-178-139 151z" color="#26ad81"/>
<path d="M4792 4558l115 295-21-193z" color="#52c569"/>
<path d="M3369 4502l101-205-121 206z" color="#6ece58"/>
<path d="M4021 3493l123 51-23-33z" color="#eae51a"/>
<path d="M4312 3728l121 160-24-32z" color="#c2df23"/>
<path d="M3775 3661l123-131-22 6z" color="#e2e418"/>
<path d="M2962 5313l-19-27-121 151z" color="#22a785"/>
<path d="M1854 5694l128 71-145-165z" color="#1f978b"/>
<path d="M4312 3728l97 128-121-162z" color="#cae11f"/>
<path d="M3267 4703l102-201-121 199z" color="#5ac864"/>
<path d="M2841 5467l121-154-140 124z" color="#21a585"/>
<path d="M4810 4894l116 246-134-582z" color="#42be71"/>
<path d="M4167 3576l98 81-121-113z" color="#e2e418"/>
<path d="M4167 3576l121 118-23-37z" color="#dde318"/>
<path d="M4745 4307l-25-7-119-204z" color="#8bd646"/>
<path d="M3898 3530l123-37-145 43z" color="#efe51c"/>
<path d="M1708 5497l129 103-147-199z" color="#1fa187"/>
<path d="M3165 4903l102-200-121 193z" color="#46c06f"/>
<path d="M4770 4355l116 305-141-353z" color="#75d054"/>
<path d="M3063 5108l102-205-121 188z" color="#37b878"/>
<path d="M4601 4096l-24-6-120-173z" color="#aadc32"/>
<path d="M3673 3849l123-197-21 9z" color="#d8e219"/>
<path d="M2962 5313l101-205-120 178z" color="#29af7f"/>
<path d="M1725 5584l129 110-17-94z" color="#1e9d89"/>
<path d="M4167 3576l-23-32-123-51z" color="#f1e51d"/>
<path d="M3572 4080l123-235-22 4z" color="#bddf26"/>
<path d="M3470 4297l123-224-21 7z" color="#9dd93b"/>
<path d="M4792 4558l94 102-116-305z" color="#6ece58"/>
<path d="M1725 5584l112 16-129-103z" color="#1fa188"/>
<path d="M4457 3917l-24-29-121-160z" color="#c8e020"/>
<path d="M3369 4502l122-215-21 10z" color="#84d44b"/>
<path d="M4312 3728l-24-34-121-118z" color="#e2e418"/>
<path d="M3267 4703l122-208-20 7z" color="#6ccd5a"/>
<path d="M3913 3530l-15 0-123 131 126-114z" color="#f1e51d"/>
<path d="M3967 3513l54-20-123 37 15 0z" color="#f8e621"/>
<path d="M3165 4903l122-200-20 0z" color="#56c667"/>
<path d="M4032 3503l-11-10-54 20z" color="#fbe723"/>
<path d="M4627 4106l118 201-144-211z" color="#a2da37"/>
<path d="M4091 3537l76 39-146-83 11 10z" color="#f8e621"/>
<path d="M3796 3652l94-93 11-12-126 114z" color="#efe51c"/>
<path d="M3063 5108l122-196-20-9z" color="#42be71"/>
<path d="M2962 5313l121-184-20-21z" color="#32b67a"/>
<path d="M4481 3936l120 160-144-179z" color="#c0df25"/>
<path d="M4693 4618l117 276-18-336z" color="#65cb5e"/>
<path d="M4044 3542l47-5-59-34z" color="#fde725"/>
<path d="M3920 3556l124-14-12-39-65 10z" color="#fde725"/>
<path d="M4336 3761l121 156-145-189z" color="#dae319"/>
<path d="M4134 3558l33 18-76-39z" color="#fbe723"/>
<path d="M3920 3556l47-43-54 17z" color="#fde725"/>
<path d="M3593 4073l123-244-144 251z" color="#c0df25"/>
<path d="M3716 3829l-21 16-123 235z" color="#cae11f"/>
<path d="M3614 4053l-21 20-123 224z" color="#addc30"/>
<path d="M3491 4287l123-234-144 244z" color="#a2da37"/>
<path d="M3920 3556l-7-26-12 17z" color="#fde725"/>
<path d="M4651 4168l119 187-25-48z" color="#9bd93c"/>
<path d="M3512 4274l-21 13-122 215z" color="#90d743"/>
<path d="M4197 3606l115 122-145-152 19 19z" color="#f4e61e"/>
<path d="M4186 3595l-19-19-33-18z" color="#fbe723"/>
<path d="M3817 3642l-21 10-123 197 141-202z" color="#eae51a"/>
<path d="M3389 4495l123-221-143 228z" color="#89d548"/>
<path d="M3890 3559l30-3-19-9z" color="#fde725"/>
<path d="M3695 3845l118-196 1-2-141 202z" color="#e5e419"/>
<path d="M3409 4488l-20 7-122 208z" color="#77d153"/>
<path d="M4066 3621l68-63-43-21-47 5z" color="#fde725"/>
<path d="M3287 4703l122-215-142 215z" color="#70cf57"/>
<path d="M4651 4168l94 139-118-201z" color="#a8db34"/>
<path d="M3890 3559l-94 93 21-10z" color="#f8e621"/>
<path d="M4066 3621l-22-79-124 14z" color="#fde725"/>
<path d="M3307 4706l-20-3-122 200z" color="#60ca60"/>
<path d="M4792 4558l-22-203-119-187z" color="#93d741"/>
<path d="M3185 4912l122-206-142 197z" color="#5ac864"/>
<path d="M3205 4928l-20-16-122 196z" color="#4cc26c"/>
<path d="M4248 3653l64 75-115-122z" color="#f4e61e"/>
<path d="M3083 5129l122-201-142 180z" color="#44bf70"/>
<path d="M4506 3947l121 159-26-10z" color="#c0df25"/>
<path d="M4066 3621l124-14-4-12-52-37z" color="#fde725"/>
<path d="M4506 3947l95 149-120-160z" color="#c8e020"/>
<path d="M4360 3790l121 146-24-19z" color="#d8e219"/>
<path d="M3818 3648l102-92-30 3-73 83z" color="#fde725"/>
<path d="M4190 3607l7-1-11-11z" color="#fde725"/>
<path d="M3942 3635l124-14-146-65z" color="#fde725"/>
<path d="M4360 3790l97 127-121-156z" color="#e2e418"/>
<path d="M4268 3680l68 81-24-33-64-75z" color="#f1e51d"/>
<path d="M3818 3648l124-13-22-79z" color="#fde725"/>
<path d="M4693 4618l99-60-119-208z" color="#86d549"/>
<path d="M3716 3829l94-173 3-7-118 196z" color="#efe51c"/>
<path d="M4673 4350l119 208-141-390z" color="#9bd93c"/>
<path d="M3614 4053l102-224-123 244z" color="#d0e11c"/>
<path d="M4213 3686l-23-79-124 14z" color="#fde725"/>
<path d="M3512 4274l102-221-123 234z" color="#b2dd2d"/>
<path d="M4213 3686l35-33-51-47-7 1z" color="#fde725"/>
<path d="M3818 3648l-1-6-3 5z" color="#fde725"/>
<path d="M3409 4488l103-214-123 221z" color="#95d840"/>
<path d="M3813 3649l5-1-4-1z" color="#fde725"/>
<path d="M3810 3656l8-8-5 1z" color="#fde725"/>
<path d="M3307 4706l102-218-122 215z" color="#7cd250"/>
<path d="M3965 3714l101-93-124 14z" color="#fde725"/>
<path d="M3205 4928l102-222-122 206z" color="#63cb5f"/>
<path d="M3965 3714l-23-79-124 13z" color="#fde725"/>
<path d="M4651 4168l-24-62-121-159z" color="#c8e020"/>
<path d="M4089 3700l124-14-147-65z" color="#fde725"/>
<path d="M4213 3686l55-6-20-27z" color="#fde725"/>
<path d="M3965 3714l124-14-23-79z" color="#fde725"/>
<path d="M4506 3947l-25-11-121-146z" color="#e2e418"/>
<path d="M4360 3790l-24-29-68-81 41 48z" color="#f6e620"/>
<path d="M3716 3829l55-94 39-79z" color="#f6e620"/>
<path d="M3771 3735l69-7-22-80-8 8z" color="#fde725"/>
<path d="M3840 3728l125-14-147-66z" color="#fde725"/>
<path d="M4268 3680l-55 6 96 42z" color="#fde725"/>
<path d="M4112 3779l101-93-124 14z" color="#fde725"/>
<path d="M3771 3735l-55 94 42-69z" color="#f6e620"/>
<path d="M4693 4618l-20-268-120-215z" color="#a8db34"/>
<path d="M4112 3779l-23-79-124 14z" color="#fde725"/>
<path d="M4236 3765l98-11-25-26-96-42z" color="#fde725"/>
<path d="M3512 4274l123-237-21 16z" color="#cae11f"/>
<path d="M4334 3754l26 36-51-62z" color="#fbe723"/>
<path d="M3409 4488l124-231-21 17z" color="#addc30"/>
<path d="M4112 3779l124-14-23-79z" color="#fde725"/>
<path d="M3307 4706l123-217-21-1z" color="#90d743"/>
<path d="M4530 3998l121 170-145-221z" color="#d8e219"/>
<path d="M4553 4135l120 215-22-182z" color="#c0df25"/>
<path d="M3205 4928l122-208-20-14z" color="#73d056"/>
<path d="M4346 3764l14 26-26-36z" color="#fbe723"/>
<path d="M3614 4053l115-231 5-14-18 21z" color="#ece51b"/>
<path d="M3863 3807l102-93-125 14z" color="#fde725"/>
<path d="M3758 3760l-42 69 18-21z" color="#f6e620"/>
<path d="M3863 3807l-23-79-69 7-13 25z" color="#fde725"/>
<path d="M4371 3787l-11 3-14-26z" color="#fbe723"/>
<path d="M3987 3793l125-14-147-65z" color="#fde725"/>
<path d="M4416 3827l90 120-146-157 11-3z" color="#f4e61e"/>
<path d="M3863 3807l124-14-22-79z" color="#fde725"/>
<path d="M4259 3845l87-81-12-10-98 11z" color="#fde725"/>
<path d="M4575 4332l118 286-140-483z" color="#b0dd2f"/>
<path d="M4553 4135l98 33-121-170z" color="#d5e21a"/>
<path d="M3729 3822l-115 231 94-175z" color="#efe51c"/>
<path d="M4259 3845l-23-80-124 14z" color="#fde725"/>
<path d="M3738 3821l125-14-105-47-24 48z" color="#fde725"/>
<path d="M4259 3845l124-14-12-44-25-23z" color="#fde725"/>
<path d="M4452 3869l54 78-90-120z" color="#f4e61e"/>
<path d="M4383 3831l33-4-45-40z" color="#fde725"/>
<path d="M4010 3873l102-94-125 14z" color="#fde725"/>
<path d="M3729 3822l9-1-4-13z" color="#fde725"/>
<path d="M4010 3873l-23-80-124 14z" color="#fde725"/>
<path d="M3635 4037l62-129 11-30-94 175z" color="#ece51b"/>
<path d="M4134 3859l125-14-147-66z" color="#fde725"/>
<path d="M4470 3904l60 94-24-51-54-78z" color="#f1e51d"/>
<path d="M3327 4720l124-214-144 200z" color="#90d743"/>
<path d="M3451 4506l-21-17-123 217z" color="#9bd93c"/>
<path d="M3657 4008l-22 29-123 237z" color="#dae319"/>
<path d="M3430 4489l124-237-145 236z" color="#b0dd2f"/>
<path d="M3554 4252l-21 5-124 231z" color="#bade28"/>
<path d="M3533 4257l124-249-145 266z" color="#d0e11c"/>
<path d="M4010 3873l124-14-22-80z" color="#fde725"/>
<path d="M3760 3901l103-94-125 14z" color="#fde725"/>
<path d="M3760 3901l-22-80-9 1-21 56z" color="#fde725"/>
<path d="M3885 3887l125-14-147-66z" color="#fde725"/>
<path d="M4407 3911l45-42-36-42-33 4z" color="#fde725"/>
<path d="M4407 3911l-24-80-124 14z" color="#fde725"/>
<path d="M3760 3901l125-14-22-80z" color="#fde725"/>
<path d="M4157 3939l102-94-125 14z" color="#fde725"/>
<path d="M4553 4135l-23-137-60-94-4 33z" color="#efe51c"/>
<path d="M4157 3939l-23-80-124 14z" color="#fde725"/>
<path d="M4282 3925l125-14-148-66z" color="#fde725"/>
<path d="M4407 3911l63-7-18-35z" color="#fde725"/>
<path d="M3697 3908l63-7-52-23z" color="#fde725"/>
<path d="M4157 3939l125-14-23-80z" color="#fde725"/>
<path d="M3907 3967l103-94-125 14z" color="#fde725"/>
<path d="M4470 3904l-63 7 59 26z" color="#fde725"/>
<path d="M3907 3967l-22-80-125 14z" color="#fde725"/>
<path d="M4032 3953l125-14-147-66z" color="#fde725"/>
<path d="M3451 4506l103-254-124 237z" color="#bddf26"/>
<path d="M3657 4008l9-21 31-79-62 129z" color="#f6e620"/>
<path d="M4477 3986l76 149-87-198z" color="#f1e51d"/>
<path d="M3907 3967l125-14-22-80z" color="#fde725"/>
<path d="M3666 3987l94-86-63 7z" color="#fde725"/>
<path d="M3554 4252l103-244-124 249z" color="#dfe318"/>
<path d="M4306 4005l101-94-125 14z" color="#fde725"/>
<path d="M3782 3982l125-15-147-66z" color="#fde725"/>
<path d="M4431 3991l46-5-11-49-59-26z" color="#fde725"/>
<path d="M4306 4005l-24-80-125 14z" color="#fde725"/>
<path d="M3663 3995l119-13-22-81-94 86z" color="#fde725"/>
<path d="M4459 4072l116 260-22-197-92-69z" color="#e7e419"/>
<path d="M4306 4005l125-14-24-80z" color="#fde725"/>
<path d="M4461 4066l92 69-76-149z" color="#f1e51d"/>
<path d="M4055 4034l102-95-125 14z" color="#fde725"/>
<path d="M4055 4034l-23-81-125 14z" color="#fde725"/>
<path d="M4180 4020l126-15-149-66z" color="#fde725"/>
<path d="M3657 4008l6-13 3-8z" color="#fde725"/>
<path d="M3663 3995l-6 13 5-10z" color="#fde725"/>
<path d="M3662 3998l-5 10 2-3z" color="#fde725"/>
<path d="M4055 4034l125-14-23-81z" color="#fde725"/>
<path d="M3804 4062l103-95-125 15z" color="#fde725"/>
<path d="M3804 4062l-22-80-119 13-1 3z" color="#fde725"/>
<path d="M3451 4506l124-231-21-23z" color="#d2e21b"/>
<path d="M3554 4252l80-170 25-77-2 3z" color="#f4e61e"/>
<path d="M3930 4048l125-14-148-67z" color="#fde725"/>
<path d="M4454 4072l-23-81-125 14z" color="#fde725"/>
<path d="M3804 4062l126-14-23-81z" color="#fde725"/>
<path d="M4454 4072l7-6 16-80-46 5z" color="#fde725"/>
<path d="M3679 4077l125-15-142-64-3 7z" color="#fde725"/>
<path d="M4204 4101l102-96-126 15z" color="#fde725"/>
<path d="M4204 4101l-24-81-125 14z" color="#fde725"/>
<path d="M4329 4086l125-14-148-67z" color="#fde725"/>
<path d="M3634 4082l45-5-20-72z" color="#fde725"/>
<path d="M3634 4082l-80 170 75-127z" color="#f1e51d"/>
<path d="M4204 4101l125-15-23-81z" color="#fde725"/>
<path d="M4454 4072l5 0 2-6z" color="#fde725"/>
<path d="M3952 4129l103-95-125 14z" color="#fde725"/>
<path d="M3952 4129l-22-81-126 14z" color="#fde725"/>
<path d="M4078 4115l126-14-149-67z" color="#fde725"/>
<path d="M3575 4275l50-108 4-42-75 127z" color="#efe51c"/>
<path d="M3952 4129l126-14-23-81z" color="#fde725"/>
<path d="M3701 4158l103-96-125 15z" color="#fde725"/>
<path d="M3701 4158l-22-81-45 5-5 43z" color="#fde725"/>
<path d="M3827 4144l125-15-148-67z" color="#fde725"/>
<path d="M3701 4158l126-14-23-82z" color="#fde725"/>
<path d="M3625 4167l76-9-72-33z" color="#fde725"/>
</g>
<polygon points="852.5,408.5 1345.6,353 1358.4,47.2 833.5,100.9" fill="#f2f2f2"/>
<polygon points="1461.5,695 1345.6,353 1358.4,47.2 1484,379.6" fill="#f9f9f9"/>
<polygon points="918.4,762.8 1461.5,695 1345.6,353 852.5,408.5" fill="#f5f5f5"/>
<g fill="none" stroke="#b0b0b0" stroke-width="2.2" stroke-linejoin="round"><polyline points="1041.8,747.4 964.4,395.9 952.7,88.7"/><polyline points="1153.4,733.5 1065.7,384.5 1060.6,77.7"/><polyline points="1264.2,719.6 1166.2,373.2 1167.6,66.8"/><polyline points="1374.1,705.9 1266.2,361.9 1274,55.9"/><polyline points="1468.6,338.8 1447.3,653.3 910.4,719.5"/><polyline points="1451.9,294.5 1432,607.9 901.6,672.5"/><polyline points="1435.6,251.5 1417,563.7 893.1,626.6"/><polyline points="1419.8,209.5 1402.4,520.5 884.8,581.9"/><polyline points="1404.3,168.7 1388.1,478.5 876.7,538.4"/><polyline points="1389.3,128.8 1374.2,437.4 868.8,495.8"/><polyline points="1374.6,90 1360.6,397.3 861.1,454.3"/><polyline points="851.2,387.4 1346.5,332 1463,673.4"/><polyline points="848.6,345.1 1348.2,289.8 1466.1,630.2"/><polyline points="846,301.9 1350,247 1469.3,586.1"/><polyline points="843.2,258.1 1351.9,203.3 1472.5,541.1"/><polyline points="840.5,213.4 1353.7,158.9 1475.8,495.3"/><polyline points="837.7,167.8 1355.7,113.7 1479.1,448.5"/><polyline points="834.8,121.4 1357.6,67.6 1482.5,400.7"/></g>
<g fill="none" stroke="#000" stroke-width="2.3" stroke-linecap="butt"><polyline points="833.5,100.9 852.5,408.5 918.4,762.8 1461.5,695"/><polyline points="1043.6,755.6 1040.9,743.3"/><polyline points="1155.4,741.6 1152.4,729.4"/><polyline points="1266.5,727.7 1263,715.6"/><polyline points="1376.6,713.9 1372.9,701.9"/><polyline points="900.8,720.7 915.6,718.9"/><polyline points="892.2,673.6 906.8,671.9"/><polyline points="883.8,627.8 898.2,626"/><polyline points="875.6,583 889.8,581.4"/><polyline points="867.6,539.4 881.6,537.8"/><polyline points="859.8,496.9 873.7,495.3"/><polyline points="852.2,455.4 865.9,453.8"/><polyline points="842.4,388.4 856,386.9"/><polyline points="839.7,346 853.4,344.5"/><polyline points="837,302.9 850.8,301.4"/><polyline points="834.2,259 848.2,257.5"/><polyline points="831.3,214.3 845.4,212.8"/><polyline points="828.4,168.8 842.7,167.3"/><polyline points="825.5,122.4 839.9,120.9"/></g>
<text x="1134.3" y="24" font-size="31.2" text-anchor="middle">DFT</text>
<text transform="translate(817.9,247.7) rotate(86.8)" font-size="26.3" text-anchor="middle" y="9.6">E [ eV ]</text>
<text transform="translate(860.8,593.2) rotate(79.5)" font-size="26.3" text-anchor="middle" y="9.6">u<tspan font-size="18.4" dy="4.5">2</tspan><tspan dy="-4.5"> [ Å ]</tspan></text>
<text transform="translate(1195.5,751) rotate(-7.2)" font-size="26.3" text-anchor="middle" y="9.6">u<tspan font-size="18.4" dy="4.5">1</tspan><tspan dy="-4.5"> [ Å ]</tspan></text>
<polyline points="1002,545.3 1003.4,543.6 1004.7,541.8 1006,540 1007.3,538.2 1008.5,536.3 1009.7,534.5 1010.9,532.5 1012,530.6 1013.1,528.6 1014.2,526.6 1015.2,524.6 1016.2,522.6 1017.2,520.5 1018.2,518.4 1019.1,516.3 1020,514.2 1020.9,512 1021.7,509.8 1022.5,507.6 1023.3,505.4 1024.1,503.2 1024.9,500.9 1025.6,498.6 1026.3,496.3 1027,494 1027.7,491.7 1028.4,489.3 1029,487 1029.6,484.6 1030.2,482.2 1030.8,479.8 1031.4,477.4 1032,475 1032.5,472.5 1033.1,470.1 1033.6,467.6 1034.1,465.1 1034.7,462.7 1035.2,460.2 1035.7,457.7 1036.1,455.2 1036.6,452.7 1037.1,450.2 1037.6,447.6 1038.1,445.1 1038.5,442.6 1039,440.1 1039.5,437.5 1039.9,435 1040.4,432.5 1040.8,429.9 1041.3,427.4 1041.8,424.8 1042.2,422.3 1042.7,419.8 1043.2,417.2 1043.7,414.7 1044.2,412.2 1044.7,409.7 1045.2,407.1 1045.7,404.6 1046.2,402.1 1046.7,399.6 1047.3,397.1 1047.8,394.7 1048.4,392.2 1049,389.7 1049.6,387.3 1050.2,384.8 1050.8,382.4 1051.5,380 1052.1,377.5 1052.8,375.1 1053.5,372.8 1054.2,370.4 1054.9,368 1055.7,365.7 1056.5,363.4 1057.3,361.1 1058.1,358.8 1058.9,356.5 1059.8,354.3 1060.7,352 1061.6,349.8 1062.6,347.6 1063.6,345.4 1064.6,343.3 1065.6,341.2 1066.7,339.1 1067.8,337 1068.9,334.9 1070.1,332.9 1071.3,330.9 1072.5,328.9 1073.8,326.9 1075.1,325 1076.4,323.1 1077.8,321.2 1079.2,319.4 1080.6,317.6 1082.1,315.8 1083.7,314.1 1085.2,312.3 1086.9,310.7 1088.5,309 1090.2,307.4 1091.9,305.8 1093.7,304.2 1095.5,302.7 1097.4,301.2 1099.3,299.7 1101.2,298.3 1103.1,296.9 1105.1,295.5 1107.1,294.1 1109.1,292.8 1111.2,291.5 1113.3,290.2 1115.4,289 1117.5,287.7 1119.6,286.5 1121.8,285.4 1123.9,284.2 1126.1,283 1128.3,281.9 1130.5,280.9 1132.7,279.9 1135,279.1 1137.2,278.5 1139.4,278 1141.7,277.8 1144,277.8 1146.3,277.9 1148.5,278.2 1150.8,278.7 1153.1,279.4 1155.3,280.2 1157.6,281.1 1159.8,282.1 1162.1,283.3 1164.3,284.6 1166.5,286 1168.6,287.5 1170.8,289 1172.9,290.6 1175,292.3 1177,294 1179.1,295.8 1181,297.6 1183,299.4 1184.9,301.3 1186.7,303.1 1188.5,305 1190.3,306.8 1192,308.7 1193.7,310.5 1195.3,312.4 1196.9,314.2 1198.5,316.1 1200,318 1201.5,319.8 1203,321.7 1204.4,323.6 1205.8,325.5 1207.2,327.4 1208.6,329.3 1209.9,331.2 1211.2,333.2 1212.5,335.1 1213.8,337 1215.1,339 1216.3,341 1217.6,342.9 1218.8,344.9 1220,346.9 1221.3,348.9 1222.5,350.9 1223.7,353 1224.9,355 1226.1,357 1227.3,359.1 1228.4,361.2 1229.6,363.2 1230.8,365.3 1232,367.4 1233.1,369.5 1234.3,371.6 1235.4,373.7 1236.6,375.8 1237.7,378 1238.9,380.1 1240,382.2 1241.1,384.3 1242.3,386.5 1243.4,388.6 1244.5,390.8 1245.6,392.9 1246.8,395.1 1247.9,397.2 1249,399.4 1250.1,401.5 1251.2,403.7 1252.3,405.8 1253.4,408 1254.6,410.1 1255.7,412.3 1256.8,414.4 1257.9,416.6 1259,418.7 1260.1,420.9 1261.2,423 1262.3,425.2 1263.4,427.3 1264.5,429.5 1265.6,431.6 1266.7,433.8 1267.8,435.9 1268.8,438.1 1269.9,440.2 1271,442.4 1272,444.5 1273.1,446.7 1274.1,448.9 1275.2,451 1276.2,453.2 1277.2,455.4 1278.2,457.5 1279.2,459.7 1280.2,461.9 1281.2,464.1 1282.2,466.3 1283.1,468.4 1284.1,470.6 1285,472.8 1285.9,475.1 1286.8,477.3 1287.7,479.5 1288.6,481.7 1289.5,483.9 1290.4,486.2 1291.2,488.4 1292,490.7 1292.8,492.9 1293.6,495.2 1294.4,497.4 1295.2,499.7 1295.9,502 1296.7,504.2 1297.4,506.5 1298.1,508.8 1298.8,511.1 1299.6,513.4 1300.3,515.7 1300.9,518 1301.6,520.3 1302.3,522.6 1303,524.9 1303.7,527.2 1304.3,529.5 1305,531.8 1305.7,534.2 1306.4,536.5 1307,538.8 1307.7,541.1 1308.4,543.4 1309.1,545.7 1309.8,548 1310.5,550.3 1311.1,552.6 1311.9,554.9 1312.6,557.2 1313.3,559.5 1314,561.8 1314.8,564.1 1315.5,566.3 1316.3,568.6 1317.1,570.9 1317.8,573.1 1318.7,575.4 1319.5,577.7 1320.3,579.9 1321.2,582.1 1322,584.4 1322.9,586.6 1323.8,588.8 1324.8,591 1325.7,593.2 1326.7,595.4 1327.7,597.6 1328.7,599.7 1329.8,601.9 1330.8,604.1 1331.9,606.2 1333,608.3 1334.2,610.4 1335.4,612.6 1336.6,614.6 1337.8,616.7 1339.1,618.8" fill="none" stroke="#000" stroke-width="4.3" stroke-dasharray="14.1 6.1"/>
<circle cx="1002" cy="545.3" r="7.1"/>
<circle cx="1042.9" cy="418.8" r="7.1"/>
<circle cx="1087.1" cy="310.4" r="7.1"/>
<circle cx="1126.2" cy="283" r="7.1"/>
<circle cx="1185" cy="301.4" r="7.1"/>
<circle cx="1220.1" cy="347" r="7.1"/>
<circle cx="1254.5" cy="410" r="7.1"/>
<circle cx="1292" cy="490.6" r="7.1"/>
<circle cx="1320.5" cy="580.4" r="7.1"/>
<circle cx="1339.1" cy="618.8" r="7.1"/>
<g transform="scale(0.1)" opacity="0.9" fill="currentColor" stroke="currentColor" stroke-width="12" stroke-linejoin="round">
<path d="M11630 2427l-20-105-112 30z" color="#1e9b8a"/>
<path d="M11630 2427l91-156-111 51z" color="#1e9c89"/>
<path d="M11406 2464l92-112-111 12z" color="#1f9a8a"/>
<path d="M11518 2454l112-27-132-75z" color="#1f998a"/>
<path d="M11406 2464l112-10-20-102z" color="#1f998a"/>
<path d="M11406 2464l-19-100-112-4z" color="#1f9a8a"/>
<path d="M11630 2427l111-45-20-111z" color="#1e9c89"/>
<path d="M11853 2321l-20-113-112 63z" color="#1fa187"/>
<path d="M11741 2382l112-61-132-50z" color="#1f9f88"/>
<path d="M11853 2321l92-194-112 81z" color="#21a585"/>
<path d="M11294 2459l112 5-131-104z" color="#1f9a8a"/>
<path d="M11538 2541l92-114-112 27z" color="#1f978b"/>
<path d="M11762 2479l-21-97-111 45z" color="#1f9a8a"/>
<path d="M11538 2541l-20-87-112 10z" color="#1f978b"/>
<path d="M11182 2441l93-81-112-18z" color="#1e9d89"/>
<path d="M11762 2479l91-158-112 61z" color="#1e9d89"/>
<path d="M11182 2441l112 18-19-99z" color="#1e9b8a"/>
<path d="M11853 2321l113-78-21-116z" color="#21a585"/>
<path d="M11538 2541l112-22-20-92z" color="#1f978b"/>
<path d="M11650 2519l112-40-132-52z" color="#1f988b"/>
<path d="M11426 2549l112-8-132-77z" color="#1f978b"/>
<path d="M11314 2543l92-79-112-5z" color="#1f988b"/>
<path d="M11182 2441l-19-99-112-31z" color="#1f9f88"/>
<path d="M11762 2479l112-56-21-102z" color="#1e9d89"/>
<path d="M11966 2243l113-100-134-16z" color="#24aa83"/>
<path d="M11314 2543l112 6-20-85z" color="#1f978b"/>
<path d="M12079 2143l-21-114-113 98z" color="#27ad81"/>
<path d="M11986 2346l-20-103-113 78z" color="#20a386"/>
<path d="M11314 2543l-20-84-112-18z" color="#1f9a8a"/>
<path d="M11874 2423l112-77-133-25z" color="#1fa188"/>
<path d="M11670 2599l-20-80-112 22z" color="#1f968b"/>
<path d="M11670 2599l92-120-112 40z" color="#1f978b"/>
<path d="M11070 2411l112 30-131-130z" color="#1fa088"/>
<path d="M11894 2514l-20-91-112 56z" color="#1e9b8a"/>
<path d="M11986 2346l93-203-113 100z" color="#22a884"/>
<path d="M11446 2622l92-81-112 8z" color="#1f968b"/>
<path d="M11670 2599l112-33-20-87z" color="#1f988b"/>
<path d="M11558 2617l112-18-132-58z" color="#1f968b"/>
<path d="M11201 2526l113 17-132-102z" color="#1f9a8a"/>
<path d="M12079 2143l92-245-113 131z" color="#2fb47c"/>
<path d="M11782 2566l112-52-132-35z" color="#1f998a"/>
<path d="M11894 2514l92-168-112 77z" color="#1f9f88"/>
<path d="M11446 2622l-20-73-112-6z" color="#1f978b"/>
<path d="M11446 2622l112-5-20-76z" color="#1f968b"/>
<path d="M10957 2368l113 43-19-100z" color="#1fa287"/>
<path d="M10957 2368l94-57-113-46z" color="#21a585"/>
<path d="M11089 2498l93-57-112-30z" color="#1f9e89"/>
<path d="M11986 2346l113-101-20-102z" color="#23a983"/>
<path d="M11089 2498l112 28-19-85z" color="#1e9c89"/>
<path d="M11894 2514l113-73-21-95z" color="#1fa088"/>
<path d="M11333 2615l113 7-132-79z" color="#1f978b"/>
<path d="M12079 2143l113-133-21-112z" color="#32b67a"/>
<path d="M11802 2644l-20-78-112 33z" color="#1f978b"/>
<path d="M11221 2599l93-56-113-17z" color="#1f9a8a"/>
<path d="M11802 2644l92-130-112 52z" color="#1f998a"/>
<path d="M11578 2684l92-85-112 18z" color="#1f958b"/>
<path d="M11089 2498l-19-87-113-43z" color="#1fa188"/>
<path d="M10957 2368l-19-103-113-56z" color="#23a983"/>
<path d="M11578 2684l-20-67-112 5z" color="#1f958b"/>
<path d="M11221 2599l112 16-19-72z" color="#1f998a"/>
<path d="M12120 2341l-21-96-113 101z" color="#22a785"/>
<path d="M12007 2441l113-100-134 5z" color="#20a486"/>
<path d="M12099 2245l114-133-134 31z" color="#29af7f"/>
<path d="M11690 2671l112-27-132-45z" color="#1f968b"/>
<path d="M11578 2684l112-13-20-72z" color="#1f958b"/>
<path d="M11221 2599l-20-73-112-28z" color="#1e9c89"/>
<path d="M12213 2112l-21-102-113 133z" color="#2fb47c"/>
<path d="M11802 2644l113-46-21-84z" color="#1f998a"/>
<path d="M12028 2530l-21-89-113 73z" color="#1f9f88"/>
<path d="M11915 2598l113-68-134-16z" color="#1e9c89"/>
<path d="M10976 2461l113 37-132-130z" color="#1fa187"/>
<path d="M10844 2316l113 52-132-159z" color="#24aa83"/>
<path d="M11353 2678l93-56-113-7z" color="#1f978b"/>
<path d="M11465 2685l113-1-132-62z" color="#1f968b"/>
<path d="M12192 2010l115-173-136 61z" color="#40bd72"/>
<path d="M12120 2341l93-229-114 133z" color="#27ad81"/>
<path d="M12028 2530l92-189-113 100z" color="#1fa287"/>
<path d="M11353 2678l112 7-19-63z" color="#1f978b"/>
<path d="M11108 2576l113 23-132-101z" color="#1e9d89"/>
<path d="M11353 2678l-20-63-112-16z" color="#1f998a"/>
<path d="M11710 2737l92-93-112 27z" color="#1f968b"/>
<path d="M12307 1837l-21-117-115 178z" color="#4cc26c"/>
<path d="M11936 2677l-21-79-113 46z" color="#1f998a"/>
<path d="M11710 2737l-20-66-112 13z" color="#1f968b"/>
<path d="M10863 2415l113 46-19-93z" color="#21a585"/>
<path d="M10863 2415l94-47-113-52z" color="#22a785"/>
<path d="M10995 2545l94-47-113-37z" color="#1fa188"/>
<path d="M12213 2112l94-275-115 173z" color="#3bbb75"/>
<path d="M10730 2254l114 62-19-107z" color="#27ad81"/>
<path d="M11936 2677l92-147-113 68z" color="#1e9b8a"/>
<path d="M10995 2545l113 31-19-78z" color="#1f9f88"/>
<path d="M10730 2254l95-45-114-66z" color="#2cb17e"/>
<path d="M12028 2530l113-95-21-94z" color="#20a486"/>
<path d="M11823 2716l113-39-134-33z" color="#1f988b"/>
<path d="M11710 2737l113-21-21-72z" color="#1f968b"/>
<path d="M12120 2341l114-131-21-98z" color="#2ab07f"/>
<path d="M11485 2743l93-59-113 1z" color="#1f968b"/>
<path d="M11240 2664l113 14-132-79z" color="#1f9a8a"/>
<path d="M11598 2745l112-8-132-53z" color="#1f968b"/>
<path d="M11127 2646l94-47-113-23z" color="#1e9d89"/>
<path d="M11936 2677l113-61-21-86z" color="#1e9d89"/>
<path d="M11485 2743l-20-58-112-7z" color="#1f978b"/>
<path d="M10995 2545l-19-84-113-46z" color="#20a386"/>
<path d="M10863 2415l-19-99-114-62z" color="#25ac82"/>
<path d="M11485 2743l113 2-20-61z" color="#1f968b"/>
<path d="M11127 2646l113 18-19-65z" color="#1e9c89"/>
<path d="M12141 2435l114-128-135 34z" color="#25ab82"/>
<path d="M12162 2527l-21-92-113 95z" color="#20a386"/>
<path d="M12213 2112l115-169-21-106z" color="#42be71"/>
<path d="M12255 2307l-21-97-114 131z" color="#28ae80"/>
<path d="M12049 2616l113-89-134 3z" color="#1fa188"/>
<path d="M11127 2646l-19-70-113-31z" color="#1f9f88"/>
<path d="M10730 2254l-19-111-114-73z" color="#32b67a"/>
<path d="M11844 2785l92-108-113 39z" color="#1f978b"/>
<path d="M11844 2785l-21-69-113 21z" color="#1f968b"/>
<path d="M12307 1837l95-314-116 197z" color="#63cb5f"/>
<path d="M12234 2210l115-165-136 67z" color="#35b779"/>
<path d="M11373 2734l112 9-132-65z" color="#1f988b"/>
<path d="M11260 2723l93-45-113-14z" color="#1f9a8a"/>
<path d="M10881 2507l114 38-132-130z" color="#21a585"/>
<path d="M10749 2360l114 55-133-161z" color="#26ad81"/>
<path d="M12070 2702l-21-86-113 61z" color="#1e9c89"/>
<path d="M11618 2801l92-64-112 8z" color="#1f978b"/>
<path d="M12349 2045l-21-102-115 169z" color="#3fbc73"/>
<path d="M12162 2527l93-220-114 128z" color="#23a983"/>
<path d="M11844 2785l113-31-21-77z" color="#1f988b"/>
<path d="M11260 2723l113 11-20-56z" color="#1f9a8a"/>
<path d="M11731 2799l113-14-134-48z" color="#1f968b"/>
<path d="M11957 2754l113-52-134-25z" color="#1f9a8a"/>
<path d="M11014 2623l113 23-132-101z" color="#1fa088"/>
<path d="M11618 2801l-20-56-113-2z" color="#1f978b"/>
<path d="M10615 2187l115 67-133-184z" color="#34b679"/>
<path d="M11260 2723l-20-59-113-18z" color="#1e9c89"/>
<path d="M12070 2702l92-175-113 89z" color="#1fa088"/>
<path d="M11618 2801l113-2-21-62z" color="#1f978b"/>
<path d="M12255 2307l94-262-115 165z" color="#32b67a"/>
<path d="M10768 2461l113 46-18-92z" color="#22a884"/>
<path d="M10768 2461l95-46-114-55z" color="#25ab82"/>
<path d="M10900 2594l95-49-114-38z" color="#20a386"/>
<path d="M10634 2300l115 60-19-106z" color="#2ab07f"/>
<path d="M12307 1837l116-203-21-111z" color="#6ece58"/>
<path d="M10900 2594l114 29-19-78z" color="#1fa187"/>
<path d="M10634 2300l96-46-115-67z" color="#2fb47c"/>
<path d="M12328 1943l116-201-137 95z" color="#58c765"/>
<path d="M12162 2527l115-122-22-98z" color="#25ac82"/>
<path d="M11392 2787l93-44-112-9z" color="#1f998a"/>
<path d="M12070 2702l113-82-21-93z" color="#1fa188"/>
<path d="M11505 2796l113 5-133-58z" color="#1f988b"/>
<path d="M11146 2711l114 12-133-77z" color="#1e9d89"/>
<path d="M11978 2830l-21-76-113 31z" color="#1f988b"/>
<path d="M11978 2830l92-128-113 52z" color="#1f9a8a"/>
<path d="M10501 2119l114 68-18-117z" color="#3bbb75"/>
<path d="M11033 2698l94-52-113-23z" color="#1fa088"/>
<path d="M11752 2858l92-73-113 14z" color="#1f978b"/>
<path d="M12444 1742l-21-108-116 203z" color="#67cc5c"/>
<path d="M10900 2594l-19-87-113-46z" color="#22a785"/>
<path d="M11392 2787l-19-53-113-11z" color="#1e9b8a"/>
<path d="M11392 2787l113 9-20-53z" color="#1f998a"/>
<path d="M10768 2461l-19-101-115-60z" color="#28ae80"/>
<path d="M10501 2119l96-49-115-71z" color="#42be71"/>
<path d="M11033 2698l113 13-19-65z" color="#1f9f88"/>
<path d="M12255 2307l116-162-22-100z" color="#38b977"/>
<path d="M12349 2045l95-303-116 201z" color="#54c568"/>
<path d="M11752 2858l-21-59-113 2z" color="#1f978b"/>
<path d="M11865 2852l113-22-134-45z" color="#1f978b"/>
<path d="M12183 2620l115-115-136 22z" color="#21a685"/>
<path d="M12298 2505l-21-100-115 122z" color="#24aa83"/>
<path d="M11978 2830l113-42-21-86z" color="#1f9a8a"/>
<path d="M11033 2698l-19-75-114-29z" color="#1fa187"/>
<path d="M11752 2858l113-6-21-67z" color="#1f978b"/>
<path d="M12204 2716l-21-96-113 82z" color="#1fa088"/>
<path d="M10634 2300l-19-113-114-68z" color="#37b878"/>
<path d="M12091 2788l113-72-134-14z" color="#1e9d89"/>
<path d="M12277 2405l115-158-137 60z" color="#2eb37c"/>
<path d="M10786 2558l114 36-132-133z" color="#22a884"/>
<path d="M11166 2774l94-51-114-12z" color="#1f9e89"/>
<path d="M10653 2409l115 52-134-161z" color="#29af7f"/>
<path d="M11279 2778l113 9-132-64z" color="#1e9c89"/>
<path d="M11525 2849l93-48-113-5z" color="#1f998a"/>
<path d="M12392 2247l-21-102-116 162z" color="#35b779"/>
<path d="M11639 2856l113 2-134-57z" color="#1f988b"/>
<path d="M10501 2119l-19-120-115-72z" color="#4cc26c"/>
<path d="M12204 2716l94-211-115 115z" color="#20a486"/>
<path d="M12423 1634l117-231-138 120z" color="#8bd646"/>
<path d="M10919 2679l114 19-133-104z" color="#1fa287"/>
<path d="M11166 2774l113 4-19-55z" color="#1e9d89"/>
<path d="M10519 2237l115 63-133-181z" color="#38b977"/>
<path d="M11525 2849l-20-53-113-9z" color="#1f9a8a"/>
<path d="M11166 2774l-20-63-113-13z" color="#1f9f88"/>
<path d="M12112 2875l-21-87-113 42z" color="#1f998a"/>
<path d="M11525 2849l114 7-21-55z" color="#1f998a"/>
<path d="M11886 2917l92-87-113 22z" color="#1f978b"/>
<path d="M12349 2045l117-199-22-104z" color="#5ec962"/>
<path d="M12298 2505l94-258-115 158z" color="#2cb17e"/>
<path d="M10672 2515l114 43-18-97z" color="#25ab82"/>
<path d="M10672 2515l96-54-115-52z" color="#27ad81"/>
<path d="M12112 2875l92-159-113 72z" color="#1e9c89"/>
<path d="M11886 2917l-21-65-113 6z" color="#1f978b"/>
<path d="M10805 2653l95-59-114-36z" color="#21a685"/>
<path d="M12371 2145l116-198-138 98z" color="#4cc26c"/>
<path d="M10538 2351l115 58-19-109z" color="#2eb37c"/>
<path d="M11999 2907l113-32-134-45z" color="#1f988b"/>
<path d="M10805 2653l114 26-19-85z" color="#20a486"/>
<path d="M12444 1742l96-339-117 231z" color="#86d549"/>
<path d="M11886 2917l113-10-21-77z" color="#1f988b"/>
<path d="M10538 2351l96-51-115-63z" color="#34b679"/>
<path d="M10385 2050l116 69-134-192z" color="#4ec36b"/>
<path d="M12540 1403l-21-126-117 246z" color="#a2da37"/>
<path d="M12204 2716l115-108-21-103z" color="#21a685"/>
<path d="M11052 2771l114 3-133-76z" color="#1fa088"/>
<path d="M11299 2835l93-48-113-9z" color="#1e9d89"/>
<path d="M11412 2841l113 8-133-62z" color="#1e9c89"/>
<path d="M10938 2764l95-66-114-19z" color="#1fa187"/>
<path d="M12487 1947l-21-101-117 199z" color="#58c765"/>
<path d="M12112 2875l114-61-22-98z" color="#1e9d89"/>
<path d="M11659 2909l93-51-113-2z" color="#1f998a"/>
<path d="M10404 2170l115 67-18-118z" color="#40bd72"/>
<path d="M11772 2916l114 1-134-59z" color="#1f988b"/>
<path d="M10805 2653l-19-95-114-43z" color="#23a983"/>
<path d="M10938 2764l114 7-19-73z" color="#1fa188"/>
<path d="M10672 2515l-19-106-115-58z" color="#2cb17e"/>
<path d="M10404 2170l97-51-116-69z" color="#48c16e"/>
<path d="M12392 2247l95-300-116 198z" color="#48c16e"/>
<path d="M12298 2505l115-154-21-104z" color="#2fb47c"/>
<path d="M11299 2835l-20-57-113-4z" color="#1f9e89"/>
<path d="M11299 2835l113 6-20-54z" color="#1e9d89"/>
<path d="M11659 2909l-20-53-114-7z" color="#1f9a8a"/>
<path d="M11659 2909l113 7-20-58z" color="#1f998a"/>
<path d="M12340 2713l-21-105-115 108z" color="#20a486"/>
<path d="M12226 2814l114-101-136 3z" color="#1fa188"/>
<path d="M10938 2764l-19-85-114-26z" color="#20a386"/>
<path d="M12020 2985l92-110-113 32z" color="#1f988b"/>
<path d="M10538 2351l-19-114-115-67z" color="#3bbb75"/>
<path d="M12020 2985l-21-78-113 10z" color="#1f978b"/>
<path d="M10270 1977l115 73-18-123z" color="#58c765"/>
<path d="M12319 2608l116-150-137 47z" color="#27ad81"/>
<path d="M12247 2915l-21-101-114 61z" color="#1e9b8a"/>
<path d="M11071 2847l95-73-114-3z" color="#1fa088"/>
<path d="M10691 2618l114 35-133-138z" color="#24aa83"/>
<path d="M12444 1742l118-223-22-116z" color="#93d741"/>
<path d="M10270 1977l97-50-116-74z" color="#60ca60"/>
<path d="M12435 2458l-22-107-115 154z" color="#2db27d"/>
<path d="M12020 2985l113-20-21-90z" color="#1f988b"/>
<path d="M10557 2463l115 52-134-164z" color="#2db27d"/>
<path d="M12466 1846l118-226-140 122z" color="#7ad151"/>
<path d="M11185 2838l114-3-133-61z" color="#1f9f88"/>
<path d="M12133 2965l114-50-135-40z" color="#1f998a"/>
<path d="M11432 2897l93-48-113-8z" color="#1e9d89"/>
<path d="M10824 2748l114 16-133-111z" color="#20a486"/>
<path d="M11546 2902l113 7-134-60z" color="#1e9b8a"/>
<path d="M11071 2847l-19-76-114-7z" color="#1fa188"/>
<path d="M12247 2915l93-202-114 101z" color="#1fa088"/>
<path d="M10404 2170l-19-120-115-73z" color="#52c569"/>
<path d="M11071 2847l114-9-19-64z" color="#1f9f88"/>
<path d="M11793 2973l93-56-114-1z" color="#1f998a"/>
<path d="M11907 2984l113 1-134-68z" color="#1f978b"/>
<path d="M10423 2289l115 62-134-181z" color="#3dbc74"/>
<path d="M12392 2247l117-198-22-102z" color="#50c46a"/>
<path d="M12340 2713l95-255-116 150z" color="#25ab82"/>
<path d="M11432 2897l-20-56-113-6z" color="#1f9e89"/>
<path d="M11432 2897l114 5-21-53z" color="#1e9c89"/>
<path d="M12540 1403l97-322-118 196z" color="#c2df23"/>
<path d="M12584 1620l-22-101-118 223z" color="#8bd646"/>
<path d="M10576 2573l115 45-19-103z" color="#26ad81"/>
<path d="M10710 2721l95-68-114-35z" color="#22a884"/>
<path d="M11793 2973l-21-57-113-7z" color="#1f9a8a"/>
<path d="M10576 2573l96-58-115-52z" color="#29af7f"/>
<path d="M11793 2973l114 11-21-67z" color="#1f988b"/>
<path d="M12413 2351l118-197-139 93z" color="#3fbc73"/>
<path d="M10710 2721l114 27-19-95z" color="#21a685"/>
<path d="M12487 1947l97-327-118 226z" color="#75d054"/>
<path d="M12154 3058l-21-93-113 20z" color="#1f968b"/>
<path d="M10442 2405l115 58-19-112z" color="#32b67a"/>
<path d="M10957 2850l114-3-133-83z" color="#1fa188"/>
<path d="M12154 3058l93-143-114 50z" color="#1f988b"/>
<path d="M12247 2915l115-92-22-110z" color="#1fa188"/>
<path d="M10843 2844l95-80-114-16z" color="#1fa287"/>
<path d="M10442 2405l96-54-115-62z" color="#38b977"/>
<path d="M10270 1977l-19-124-117-77z" color="#6ece58"/>
<path d="M10288 2100l116 70-134-193z" color="#54c568"/>
<path d="M11204 2909l95-74-114 3z" color="#1f9f88"/>
<path d="M12531 2154l-22-105-117 198z" color="#4cc26c"/>
<path d="M10843 2844l114 6-19-86z" color="#1fa187"/>
<path d="M11318 2899l114-2-133-62z" color="#1f9f88"/>
<path d="M10710 2721l-19-103-115-45z" color="#25ab82"/>
<path d="M12154 3058l114-38-21-105z" color="#1f988b"/>
<path d="M11204 2909l-19-71-114 9z" color="#1f9f88"/>
<path d="M10307 2220l116 69-19-119z" color="#44bf70"/>
<path d="M12340 2713l116-146-21-109z" color="#28ae80"/>
<path d="M12041 3065l113-7-134-73z" color="#1f968b"/>
<path d="M12435 2458l96-304-118 197z" color="#3bbb75"/>
<path d="M11928 3052l92-67-113-1z" color="#1f988b"/>
<path d="M11566 2955l93-46-113-7z" color="#1e9c89"/>
<path d="M11680 2963l113 10-134-64z" color="#1e9b8a"/>
<path d="M10576 2573l-19-110-115-58z" color="#2eb37c"/>
<path d="M10843 2844l-19-96-114-27z" color="#20a486"/>
<path d="M11204 2909l114-10-19-64z" color="#1f9f88"/>
<path d="M10307 2220l97-50-116-70z" color="#4ec36b"/>
<path d="M12383 2937l-21-114-115 92z" color="#1f9e89"/>
<path d="M12268 3020l115-83-136-22z" color="#1e9b8a"/>
<path d="M12540 1403l118-211-21-111z" color="#d0e11c"/>
<path d="M11928 3052l113 13-21-80z" color="#1f978b"/>
<path d="M10977 2938l94-91-114 3z" color="#1fa088"/>
<path d="M11928 3052l-21-68-114-11z" color="#1f998a"/>
<path d="M10153 1902l117 75-136-201z" color="#70cf57"/>
<path d="M12362 2823l116-145-138 35z" color="#22a785"/>
<path d="M11566 2955l-20-53-114-5z" color="#1f9e89"/>
<path d="M12562 1519l118-233-140 117z" color="#b5de2b"/>
<path d="M11566 2955l114 8-21-54z" color="#1e9c89"/>
<path d="M10442 2405l-19-116-116-69z" color="#3fbc73"/>
<path d="M11091 2925l113-16-133-62z" color="#1f9f88"/>
<path d="M12478 2678l-22-111-116 146z" color="#25ac82"/>
<path d="M12289 3128l-21-108-114 38z" color="#1f968b"/>
<path d="M10595 2682l115 39-134-148z" color="#25ac82"/>
<path d="M10172 2025l116 75-18-123z" color="#5ec962"/>
<path d="M12487 1947l118-231-21-96z" color="#81d34d"/>
<path d="M10977 2938l-20-88-114-6z" color="#1fa188"/>
<path d="M10977 2938l114-13-20-78z" color="#1f9f88"/>
<path d="M10729 2825l114 19-133-123z" color="#20a486"/>
<path d="M10461 2519l115 54-134-168z" color="#2fb47c"/>
<path d="M12509 2049l119-237-141 135z" color="#6ccd5a"/>
<path d="M10172 2025l98-48-117-75z" color="#67cc5c"/>
<path d="M12289 3128l94-191-115 83z" color="#1f998a"/>
<path d="M12062 3147l92-89-113 7z" color="#1f958b"/>
<path d="M11338 2963l94-66-114 2z" color="#1f9f88"/>
<path d="M12176 3153l113-25-135-70z" color="#1f948c"/>
<path d="M12680 1286l-22-94-118 211z" color="#cae11f"/>
<path d="M12383 2937l95-259-116 145z" color="#20a486"/>
<path d="M13230 983l89-78-113 11z" color="#fde725"/>
<path d="M12584 1620l96-334-118 233z" color="#b0dd2f"/>
<path d="M12435 2458l117-196-21-108z" color="#44bf70"/>
<path d="M11814 3033l114 19-135-79z" color="#1f9a8a"/>
<path d="M11452 2955l114 0-134-58z" color="#1f9e89"/>
<path d="M10307 2220l-19-120-116-75z" color="#58c765"/>
<path d="M12062 3147l114 6-22-95z" color="#1f948c"/>
<path d="M11338 2963l-20-64-114 10z" color="#1f9f88"/>
<path d="M13230 983l-24-67-114 12z" color="#fde725"/>
<path d="M10862 2941l115-3-134-94z" color="#1fa088"/>
<path d="M11700 3016l93-43-113-10z" color="#1e9c89"/>
<path d="M12062 3147l-21-82-113-13z" color="#1f968b"/>
<path d="M10614 2791l96-70-115-39z" color="#23a983"/>
<path d="M10326 2339l116 66-135-185z" color="#40bd72"/>
<path d="M10614 2791l115 34-19-104z" color="#22a785"/>
<path d="M12456 2567l118-198-139 89z" color="#35b779"/>
<path d="M10479 2633l116 49-19-109z" color="#28ae80"/>
<path d="M11338 2963l114-8-20-58z" color="#1f9f88"/>
<path d="M10036 1822l117 80-19-126z" color="#7cd250"/>
<path d="M12628 1812l-23-96-118 231z" color="#7fd34e"/>
<path d="M10479 2633l97-60-115-54z" color="#2db27d"/>
<path d="M12289 3128l115-71-21-120z" color="#1f998a"/>
<path d="M10748 2928l95-84-114-19z" color="#1fa287"/>
<path d="M13230 983l113-12-24-66z" color="#fde725"/>
<path d="M11110 3004l94-95-113 16z" color="#1f9f88"/>
<path d="M12531 2154l97-342-119 237z" color="#67cc5c"/>
<path d="M10748 2928l114 13-19-97z" color="#1fa188"/>
<path d="M13003 1007l89-79-113 12z" color="#fde725"/>
<path d="M11700 3016l114 17-21-60z" color="#1e9c89"/>
<path d="M11700 3016l-20-53-114-8z" color="#1e9d89"/>
<path d="M11110 3004l-19-79-114 13z" color="#1f9f88"/>
<path d="M10345 2456l116 63-19-114z" color="#37b878"/>
<path d="M10036 1822l98-46-116-80z" color="#89d548"/>
<path d="M12713 968l-76 113 90-70z" color="#f6e620"/>
<path d="M13003 1007l-24-67-113 12z" color="#fde725"/>
<path d="M12197 3248l92-120-113 25z" color="#20938c"/>
<path d="M12574 2369l-22-107-117 196z" color="#3fbc73"/>
<path d="M11224 2981l114-18-134-54z" color="#1f9f88"/>
<path d="M12383 2937l116-140-21-119z" color="#22a785"/>
<path d="M13116 995l114-12-138-55z" color="#fde725"/>
<path d="M10345 2456l97-51-116-66z" color="#3bbb75"/>
<path d="M10172 2025l-19-123-117-80z" color="#75d054"/>
<path d="M10191 2147l116 73-135-195z" color="#5ac864"/>
<path d="M11110 3004l114-23-20-72z" color="#1f9f88"/>
<path d="M12478 2678l96-309-118 198z" color="#31b57b"/>
<path d="M11949 3124l113 23-134-95z" color="#1f978b"/>
<path d="M12425 3177l-21-120-115 71z" color="#1f968b"/>
<path d="M12197 3248l-21-95-114-6z" color="#20938c"/>
<path d="M10614 2791l-19-109-116-49z" color="#26ad81"/>
<path d="M10748 2928l-19-103-115-34z" color="#21a585"/>
<path d="M10881 3037l96-99-115 3z" color="#1f9f88"/>
<path d="M13003 1007l113-12-24-67z" color="#fde725"/>
<path d="M12658 1192l86-158-17-23-90 70z" color="#efe51c"/>
<path d="M12197 3248l114-11-22-109z" color="#20928c"/>
<path d="M12404 3057l116-133-137 13z" color="#1f9f88"/>
<path d="M12311 3237l114-60-136-49z" color="#20938c"/>
<path d="M12776 1030l90-78-113 11z" color="#fde725"/>
<path d="M10996 3025l114-21-133-66z" color="#1f9e89"/>
<path d="M10209 2266l117 73-19-119z" color="#4ac16d"/>
<path d="M11835 3095l93-43-114-19z" color="#1f9a8a"/>
<path d="M10479 2633l-18-114-116-63z" color="#32b67a"/>
<path d="M11472 3010l94-55-114 0z" color="#1f9f88"/>
<path d="M10881 3037l115-12-19-87z" color="#1f9e89"/>
<path d="M12520 2924l-21-127-116 140z" color="#20a386"/>
<path d="M10881 3037l-19-96-114-13z" color="#1fa088"/>
<path d="M12889 1018l114-11-137-55z" color="#fde725"/>
<path d="M12776 1030l-23-67-40 5 14 43z" color="#fde725"/>
<path d="M11586 3007l114 9-134-61z" color="#1f9f88"/>
<path d="M12584 1620l119-250-23-84z" color="#c0df25"/>
<path d="M10209 2266l98-46-116-73z" color="#54c568"/>
<path d="M13367 1038l-24-67-113 12z" color="#fde725"/>
<path d="M11835 3095l114 29-21-72z" color="#1f998a"/>
<path d="M12776 1030l113-12-23-66z" color="#fde725"/>
<path d="M11472 3010l-20-55-114 8z" color="#1fa088"/>
<path d="M12084 3229l113 19-135-101z" color="#20938c"/>
<path d="M10633 2900l115 28-134-137z" color="#21a585"/>
<path d="M12425 3177l95-253-116 133z" color="#1e9c89"/>
<path d="M10055 1946l117 79-136-203z" color="#77d153"/>
<path d="M12605 1716l120-264-141 168z" color="#a8db34"/>
<path d="M10498 2745l116 46-135-158z" color="#26ad81"/>
<path d="M11835 3095l-21-62-114-17z" color="#1e9c89"/>
<path d="M10036 1822l-18-126-118-84z" color="#98d83e"/>
<path d="M11472 3010l114-3-20-52z" color="#1fa088"/>
<path d="M12332 3342l-21-105-114 11z" color="#21918c"/>
<path d="M12680 1286l73-236-9-16-86 158z" color="#ece51b"/>
<path d="M10345 2456l-19-117-117-73z" color="#46c06f"/>
<path d="M12332 3342l93-165-114 60z" color="#20928c"/>
<path d="M11244 3048l94-85-114 18z" color="#1fa088"/>
<path d="M13140 1062l90-79-114 12z" color="#fde725"/>
<path d="M12531 2154l119-242-22-100z" color="#75d054"/>
<path d="M12552 2262l120-246-141 138z" color="#5ec962"/>
<path d="M10073 2067l118 80-19-122z" color="#65cb5e"/>
<path d="M10767 3030l114 7-133-109z" color="#1fa088"/>
<path d="M11244 3048l-20-67-114 23z" color="#1f9f88"/>
<path d="M11970 3195l92-48-113-23z" color="#1f978b"/>
<path d="M10363 2572l116 61-134-177z" color="#34b679"/>
<path d="M13140 1062l-24-67-113 12z" color="#fde725"/>
<path d="M11015 3106l95-102-114 21z" color="#1e9d89"/>
<path d="M12478 2678l118-204-22-105z" color="#38b977"/>
<path d="M13254 1050l113-12-137-55z" color="#fde725"/>
<path d="M12744 1034l32-4-49-19z" color="#fde725"/>
<path d="M11970 3195l114 34-22-82z" color="#1f968b"/>
<path d="M10073 2067l99-42-117-79z" color="#70cf57"/>
<path d="M11015 3106l-19-81-115 12z" color="#1e9d89"/>
<path d="M12499 2797l118-211-139 92z" color="#2ab07f"/>
<path d="M12332 3342l115-47-22-118z" color="#20928c"/>
<path d="M11358 3024l114-14-134-47z" color="#1fa088"/>
<path d="M12219 3339l113 3-135-94z" color="#21908d"/>
<path d="M13140 1062l114-12-24-67z" color="#fde725"/>
<path d="M10517 2857l116 43-19-109z" color="#22a884"/>
<path d="M10652 3005l96-77-115-28z" color="#20a386"/>
<path d="M10517 2857l97-66-116-46z" color="#25ab82"/>
<path d="M12725 1452l-22-82-119 250z" color="#bddf26"/>
<path d="M11244 3048l114-24-20-61z" color="#1fa088"/>
<path d="M12425 3177l117-124-22-129z" color="#1f9e89"/>
<path d="M10652 3005l115 25-19-102z" color="#1fa188"/>
<path d="M12913 1086l90-79-114 11z" color="#fde725"/>
<path d="M12753 1050l23-20-32 4z" color="#fde725"/>
<path d="M12628 1812l97-360-120 264z" color="#a2da37"/>
<path d="M10209 2266l-18-119-118-80z" color="#5ec962"/>
<path d="M10382 2688l116 57-19-112z" color="#2ab07f"/>
<path d="M11129 3078l115-30-134-44z" color="#1f9f88"/>
<path d="M11015 3106l114-28-19-74z" color="#1f9e89"/>
<path d="M9918 1738l118 84-136-210z" color="#9bd93c"/>
<path d="M11970 3195l-21-71-114-29z" color="#1f998a"/>
<path d="M11721 3071l114 24-135-79z" color="#1f9e89"/>
<path d="M10228 2385l117 71-136-190z" color="#48c16e"/>
<path d="M12105 3308l92-60-113-19z" color="#20938c"/>
<path d="M12574 2369l98-353-120 246z" color="#58c765"/>
<path d="M12672 2016l-22-104-119 242z" color="#70cf57"/>
<path d="M12913 1086l-24-68-113 12z" color="#fde725"/>
<path d="M10382 2688l97-55-116-61z" color="#2fb47c"/>
<path d="M11607 3058l93-42-114-9z" color="#1fa088"/>
<path d="M13026 1074l114-12-137-55z" color="#fde725"/>
<path d="M10786 3125l95-88-114-7z" color="#1f9e89"/>
<path d="M12680 1286l88-185-15-51z" color="#f1e51d"/>
<path d="M10901 3126l114-20-134-69z" color="#1e9d89"/>
<path d="M12520 2924l97-338-118 211z" color="#27ad81"/>
<path d="M12447 3295l116-122-138 4z" color="#1f968b"/>
<path d="M9937 1860l118 86-19-124z" color="#86d549"/>
<path d="M12105 3308l114 31-22-91z" color="#20928c"/>
<path d="M12617 2586l-21-112-118 204z" color="#34b679"/>
<path d="M12913 1086l113-12-23-67z" color="#fde725"/>
<path d="M12468 3409l-21-114-115 47z" color="#218f8d"/>
<path d="M12563 3173l-21-120-117 124z" color="#1e9b8a"/>
<path d="M10247 2503l116 69-18-116z" color="#3bbb75"/>
<path d="M10786 3125l115 1-20-89z" color="#1e9d89"/>
<path d="M10652 3005l-19-105-116-43z" color="#21a685"/>
<path d="M11607 3058l-21-51-114 3z" color="#1fa188"/>
<path d="M9937 1860l99-38-118-84z" color="#90d743"/>
<path d="M11607 3058l114 13-21-55z" color="#1fa088"/>
<path d="M12354 3445l114-36-136-67z" color="#228d8d"/>
<path d="M10517 2857l-19-112-116-57z" color="#28ae80"/>
<path d="M13278 1117l89-79-113 12z" color="#fde725"/>
<path d="M12105 3308l-21-79-114-34z" color="#1f958b"/>
<path d="M10247 2503l98-47-117-71z" color="#42be71"/>
<path d="M12240 3426l92-84-113-3z" color="#218f8d"/>
<path d="M12768 1101l31-4-23-67-23 20z" color="#fde725"/>
<path d="M10786 3125l-19-95-115-25z" color="#1fa088"/>
<path d="M12799 1097l114-11-137-56z" color="#fde725"/>
<path d="M10073 2067l-18-121-118-86z" color="#7cd250"/>
<path d="M10092 2187l117 79-136-199z" color="#60ca60"/>
<path d="M13278 1117l-24-67-114 12z" color="#fde725"/>
<path d="M12240 3426l114 19-22-103z" color="#218e8d"/>
<path d="M12468 3409l95-236-116 122z" color="#20938c"/>
<path d="M11378 3081l94-71-114 14z" color="#1fa188"/>
<path d="M11856 3158l114 37-135-100z" color="#1e9b8a"/>
<path d="M12768 1101l-88 185 103-137z" color="#f1e51d"/>
<path d="M11378 3081l-20-57-114 24z" color="#1fa188"/>
<path d="M10382 2688l-19-116-116-69z" color="#37b878"/>
<path d="M11149 3145l95-97-115 30z" color="#1f9f88"/>
<path d="M13278 1117l114-12-25-67z" color="#fde725"/>
<path d="M11149 3145l-20-67-114 28z" color="#1f9e89"/>
<path d="M10110 2306l118 79-19-119z" color="#52c569"/>
<path d="M12240 3426l-21-87-114-31z" color="#21918c"/>
<path d="M10536 2966l116 39-135-148z" color="#21a685"/>
<path d="M9800 1646l118 92-18-126z" color="#aadc32"/>
<path d="M10920 3203l95-97-114 20z" color="#1e9c89"/>
<path d="M13050 1141l90-79-114 12z" color="#fde725"/>
<path d="M12542 3053l118-205-140 76z" color="#21a685"/>
<path d="M12703 1370l88-202-8-19-103 137z" color="#eae51a"/>
<path d="M11493 3062l114-4-135-48z" color="#1fa187"/>
<path d="M11742 3126l93-31-114-24z" color="#1f9f88"/>
<path d="M10671 3105l115 20-134-120z" color="#1fa088"/>
<path d="M10110 2306l99-40-117-79z" color="#5ac864"/>
<path d="M12520 2924l119-209-22-129z" color="#2cb17e"/>
<path d="M10401 2802l116 55-135-169z" color="#29af7f"/>
<path d="M13050 1141l-24-67-113 12z" color="#fde725"/>
<path d="M12375 3544l93-135-114 36z" color="#228b8d"/>
<path d="M10920 3203l-19-77-115-1z" color="#1e9c89"/>
<path d="M11378 3081l115-19-21-52z" color="#1fa187"/>
<path d="M13164 1129l114-12-138-55z" color="#fde725"/>
<path d="M12574 2369l120-252-22-101z" color="#65cb5e"/>
<path d="M11992 3265l113 43-135-113z" color="#1f978b"/>
<path d="M9800 1646l100-34-118-90z" color="#b8de29"/>
<path d="M12628 1812l120-276-23-84z" color="#b5de2b"/>
<path d="M11742 3126l114 32-21-63z" color="#1f9e89"/>
<path d="M12650 1912l121-287-143 187z" color="#9bd93c"/>
<path d="M12596 2474l120-271-142 166z" color="#52c569"/>
<path d="M11034 3179l115-34-134-39z" color="#1e9d89"/>
<path d="M11149 3145l114-34-19-63z" color="#1f9f88"/>
<path d="M12468 3409l117-121-22-115z" color="#1f958b"/>
<path d="M12375 3544l-21-99-114-19z" color="#228c8d"/>
<path d="M9955 1981l118 86-136-207z" color="#81d34d"/>
<path d="M13050 1141l114-12-24-67z" color="#fde725"/>
<path d="M11263 3111l115-30-134-33z" color="#1fa188"/>
<path d="M10920 3203l114-24-19-73z" color="#1e9c89"/>
<path d="M10247 2503l-19-118-118-79z" color="#4cc26c"/>
<path d="M9937 1860l-19-122-118-92z" color="#a0da39"/>
<path d="M12563 3173l97-325-118 205z" color="#20a386"/>
<path d="M12822 1165l91-79-114 11z" color="#fde725"/>
<path d="M12375 3544l115-27-22-108z" color="#228b8d"/>
<path d="M11742 3126l-21-55-114-13z" color="#1fa188"/>
<path d="M12660 2848l-21-133-119 209z" color="#27ad81"/>
<path d="M10265 2620l117 68-135-185z" color="#38b977"/>
<path d="M10555 3072l97-67-116-39z" color="#20a486"/>
<path d="M9974 2101l118 86-19-120z" color="#6ece58"/>
<path d="M10555 3072l116 33-19-100z" color="#1fa187"/>
<path d="M10420 2915l116 51-19-109z" color="#24aa83"/>
<path d="M12127 3383l113 43-135-118z" color="#20928c"/>
<path d="M12936 1153l114-12-137-55z" color="#fde725"/>
<path d="M10420 2915l97-58-116-55z" color="#26ad81"/>
<path d="M10805 3210l115-7-134-78z" color="#1e9c89"/>
<path d="M12822 1165l-23-68-31 4 15 48z" color="#fde725"/>
<path d="M11878 3221l92-26-114-37z" color="#1e9c89"/>
<path d="M13416 1173l-24-68-114 12z" color="#fde725"/>
<path d="M12725 1452l74-267-8-17-88 202z" color="#e7e419"/>
<path d="M10689 3199l97-74-115-20z" color="#1f9e89"/>
<path d="M12490 3517l117-116-139 8z" color="#218f8d"/>
<path d="M12822 1165l114-12-23-67z" color="#fde725"/>
<path d="M9974 2101l99-34-118-86z" color="#7ad151"/>
<path d="M11878 3221l114 44-22-70z" color="#1f9a8a"/>
<path d="M12607 3401l-22-113-117 121z" color="#20928c"/>
<path d="M10284 2737l117 65-19-114z" color="#2eb37c"/>
<path d="M12617 2586l99-383-120 271z" color="#4cc26c"/>
<path d="M12716 2203l-22-86-120 252z" color="#63cb5f"/>
<path d="M12262 3514l113 30-135-118z" color="#228c8d"/>
<path d="M12672 2016l99-391-121 287z" color="#95d840"/>
<path d="M10689 3199l116 11-19-85z" color="#1e9d89"/>
<path d="M12771 1625l-23-89-120 276z" color="#b2dd2d"/>
<path d="M10284 2737l98-49-117-68z" color="#34b679"/>
<path d="M10110 2306l-18-119-118-86z" color="#67cc5c"/>
<path d="M11513 3113l94-55-114 4z" color="#1fa287"/>
<path d="M13188 1197l90-80-114 12z" color="#fde725"/>
<path d="M10129 2425l118 78-137-197z" color="#4ec36b"/>
<path d="M12512 3609l-22-92-115 27z" color="#23898e"/>
<path d="M9818 1766l119 94-137-214z" color="#a5db36"/>
<path d="M12013 3333l92-25-113-43z" color="#1f978b"/>
<path d="M11628 3108l114 18-135-68z" color="#1fa187"/>
<path d="M10555 3072l-19-106-116-51z" color="#22a884"/>
<path d="M13188 1197l-24-68-114 12z" color="#fde725"/>
<path d="M11054 3247l95-102-115 34z" color="#1e9d89"/>
<path d="M11513 3113l-20-51-115 19z" color="#1fa287"/>
<path d="M11878 3221l-22-63-114-32z" color="#1f9f88"/>
<path d="M11054 3247l-20-68-114 24z" color="#1e9c89"/>
<path d="M10689 3199l-18-94-116-33z" color="#1fa188"/>
<path d="M12013 3333l114 50-22-75z" color="#1f958b"/>
<path d="M13302 1185l114-12-138-56z" color="#fde725"/>
<path d="M9800 1646l-18-124-120-110z" color="#c8e020"/>
<path d="M11283 3170l-20-59-114 34z" color="#1fa088"/>
<path d="M11283 3170l95-89-115 30z" color="#1fa188"/>
<path d="M12791 1168l31-3-39-16z" color="#fde725"/>
<path d="M9837 1887l118 94-18-121z" color="#90d743"/>
<path d="M10148 2544l117 76-18-117z" color="#40bd72"/>
<path d="M10420 2915l-19-113-117-65z" color="#2cb17e"/>
<path d="M12563 3173l119-216-22-109z" color="#22a884"/>
<path d="M13188 1197l114-12-24-68z" color="#fde725"/>
<path d="M12512 3609l95-208-117 116z" color="#228d8d"/>
<path d="M10824 3291l96-88-115 7z" color="#1e9b8a"/>
<path d="M12148 3461l92-35-113-43z" color="#20928c"/>
<path d="M11513 3113l115-5-21-50z" color="#1fa287"/>
<path d="M12397 3637l115-28-137-65z" color="#23888e"/>
<path d="M12960 1221l90-80-114 12z" color="#fde725"/>
<path d="M12148 3461l114 53-22-88z" color="#21908d"/>
<path d="M12585 3288l120-236-142 121z" color="#1f9f88"/>
<path d="M12799 1185l23-20-31 3z" color="#fde725"/>
<path d="M10148 2544l99-41-118-78z" color="#48c16e"/>
<path d="M9837 1887l100-27-119-94z" color="#9dd93b"/>
<path d="M12284 3606l91-62-113-30z" color="#228b8d"/>
<path d="M12725 1452l90-216-16-51z" color="#efe51c"/>
<path d="M12960 1221l-24-68-114 12z" color="#fde725"/>
<path d="M11054 3247l114-38-19-64z" color="#1f9e89"/>
<path d="M10939 3276l115-29-134-44z" color="#1e9c89"/>
<path d="M10824 3291l-19-81-116-11z" color="#1e9c89"/>
<path d="M13074 1209l114-12-138-56z" color="#fde725"/>
<path d="M9992 2220l118 86-136-205z" color="#6ccd5a"/>
<path d="M12284 3606l113 31-22-93z" color="#23898e"/>
<path d="M12013 3333l-21-68-114-44z" color="#1f9a8a"/>
<path d="M11168 3209l115-39-134-25z" color="#1fa088"/>
<path d="M11398 3136l115-23-135-32z" color="#1fa287"/>
<path d="M10824 3291l115-15-19-73z" color="#1e9b8a"/>
<path d="M9974 2101l-19-120-118-94z" color="#89d548"/>
<path d="M10438 3025l117 47-135-157z" color="#22a884"/>
<path d="M11283 3170l115-34-20-55z" color="#1fa187"/>
<path d="M10574 3173l115 26-134-127z" color="#1fa188"/>
<path d="M10284 2737l-19-117-117-76z" color="#3bbb75"/>
<path d="M12960 1221l114-12-24-68z" color="#fde725"/>
<path d="M12639 2715l122-301-144 172z" color="#42be71"/>
<path d="M10011 2340l118 85-19-119z" color="#5ac864"/>
<path d="M11763 3184l115 37-136-95z" color="#1fa088"/>
<path d="M12705 3052l-23-95-119 216z" color="#21a685"/>
<path d="M10303 2853l117 62-136-178z" color="#2db27d"/>
<path d="M9680 1537l120 109-138-234z" color="#cde11d"/>
<path d="M12607 3401l98-349-120 236z" color="#1e9d89"/>
<path d="M12148 3461l-21-78-114-50z" color="#1f958b"/>
<path d="M13326 1253l90-80-114 12z" color="#fde725"/>
<path d="M12815 1236l30-3-23-68-23 20z" color="#fde725"/>
<path d="M9699 1661l119 105-18-120z" color="#b8de29"/>
<path d="M12512 3609l117-121-22-87z" color="#21908d"/>
<path d="M12617 2586l122-290-23-93z" color="#5ac864"/>
<path d="M12845 1233l115-12-138-56z" color="#fde725"/>
<path d="M11648 3164l94-38-114-18z" color="#1fa287"/>
<path d="M10011 2340l99-34-118-86z" color="#65cb5e"/>
<path d="M12420 3721l92-112-115 28z" color="#24878e"/>
<path d="M12694 2117l122-314-144 213z" color="#8ed645"/>
<path d="M10708 3290l116 1-135-92z" color="#1e9c89"/>
<path d="M12284 3606l-22-92-114-53z" color="#218f8d"/>
<path d="M12672 2016l121-299-22-92z" color="#aadc32"/>
<path d="M13326 1253l-24-68-114 12z" color="#fde725"/>
<path d="M12660 2848l101-434-122 301z" color="#3bbb75"/>
<path d="M12815 1236l-90 216 108-166z" color="#efe51c"/>
<path d="M10457 3134l117 39-19-101z" color="#20a386"/>
<path d="M10457 3134l98-62-117-47z" color="#21a685"/>
<path d="M10592 3272l97-73-115-26z" color="#1fa088"/>
<path d="M10322 2968l116 57-18-110z" color="#25ac82"/>
<path d="M12748 1536l93-233-8-17-108 166z" color="#e5e419"/>
<path d="M10148 2544l-19-119-118-85z" color="#54c568"/>
<path d="M11648 3164l115 20-21-58z" color="#1fa287"/>
<path d="M9699 1661l101-15-120-109z" color="#c5e021"/>
<path d="M12420 3721l-23-84-113-31z" color="#23888e"/>
<path d="M13326 1253l115-12-25-68z" color="#fde725"/>
<path d="M11648 3164l-20-56-115 5z" color="#20a486"/>
<path d="M9855 2007l119 94-137-214z" color="#8ed645"/>
<path d="M11899 3284l114 49-135-112z" color="#1e9c89"/>
<path d="M10166 2663l118 74-136-193z" color="#3fbc73"/>
<path d="M10958 3350l96-103-115 29z" color="#1e9c89"/>
<path d="M10322 2968l98-53-117-62z" color="#29af7f"/>
<path d="M10592 3272l116 18-19-91z" color="#1f9e89"/>
<path d="M13098 1277l90-80-114 12z" color="#fde725"/>
<path d="M9837 1887l-19-121-119-105z" color="#b0dd2f"/>
<path d="M10958 3350l-19-74-115 15z" color="#1e9b8a"/>
<path d="M12420 3721l115-39-23-73z" color="#23888e"/>
<path d="M11188 3271l-20-62-114 38z" color="#1f9f88"/>
<path d="M11188 3271l95-101-115 39z" color="#1fa088"/>
<path d="M9874 2128l118 92-18-119z" color="#7ad151"/>
<path d="M13098 1277l-24-68-114 12z" color="#fde725"/>
<path d="M12761 2414l-22-118-122 290z" color="#56c667"/>
<path d="M11418 3190l95-77-115 23z" color="#20a486"/>
<path d="M13212 1265l114-12-138-56z" color="#fde725"/>
<path d="M11418 3190l-20-54-115 34z" color="#20a386"/>
<path d="M10185 2781l118 72-19-116z" color="#34b679"/>
<path d="M12035 3404l113 57-135-128z" color="#1f978b"/>
<path d="M12716 2203l100-400-122 314z" color="#8bd646"/>
<path d="M13098 1277l114-12-24-68z" color="#fde725"/>
<path d="M11784 3242l94-21-115-37z" color="#1fa188"/>
<path d="M10727 3380l97-89-116-1z" color="#1e9b8a"/>
<path d="M9874 2128l100-27-119-94z" color="#86d549"/>
<path d="M12170 3546l114 60-136-145z" color="#21908d"/>
<path d="M10592 3272l-18-99-117-39z" color="#1fa287"/>
<path d="M12816 1803l-23-86-121 299z" color="#a8db34"/>
<path d="M10958 3350l115-36-19-67z" color="#1e9c89"/>
<path d="M10185 2781l99-44-118-74z" color="#3aba76"/>
<path d="M10457 3134l-19-109-116-57z" color="#24aa83"/>
<path d="M12869 1301l91-80-115 12z" color="#fde725"/>
<path d="M11073 3314l115-43-134-24z" color="#1f9e89"/>
<path d="M12653 3530l-24-42-117 121z" color="#21908d"/>
<path d="M10843 3373l115-23-134-59z" color="#1e9b8a"/>
<path d="M11533 3167l115-3-135-51z" color="#20a486"/>
<path d="M12306 3693l114 28-136-115z" color="#23898e"/>
<path d="M11784 3242l115 42-21-63z" color="#1fa088"/>
<path d="M12535 3682l118-152-141 79z" color="#228d8d"/>
<path d="M12771 1625l77-306-7-16-93 233z" color="#e2e418"/>
<path d="M10029 2459l119 85-137-204z" color="#58c765"/>
<path d="M10011 2340l-19-120-118-92z" color="#73d056"/>
<path d="M9560 1417l120 120-18-125z" color="#e2e418"/>
<path d="M11188 3271l115-44-20-57z" color="#1fa187"/>
<path d="M10727 3380l116-7-19-82z" color="#1e9b8a"/>
<path d="M12607 3401l120-251-22-98z" color="#1fa287"/>
<path d="M12983 1289l115-12-138-56z" color="#fde725"/>
<path d="M11418 3190l115-23-20-54z" color="#20a486"/>
<path d="M12869 1301l-24-68-30 3 18 50z" color="#fde725"/>
<path d="M11303 3227l115-37-135-20z" color="#1fa287"/>
<path d="M10727 3380l-19-90-116-18z" color="#1e9d89"/>
<path d="M12682 2957l123-323-145 214z" color="#34b679"/>
<path d="M10322 2968l-19-115-118-72z" color="#2fb47c"/>
<path d="M13465 1309l-24-68-115 12z" color="#fde725"/>
<path d="M9717 1785l120 102-138-226z" color="#b5de2b"/>
<path d="M12869 1301l114-12-23-68z" color="#fde725"/>
<path d="M10048 2579l118 84-18-119z" color="#48c16e"/>
<path d="M11784 3242l-21-58-115-20z" color="#20a386"/>
<path d="M12629 3488l121-260-143 173z" color="#1f9a8a"/>
<path d="M12557 3762l-22-80-115 39z" color="#23888e"/>
<path d="M11920 3346l93-13-114-49z" color="#1e9d89"/>
<path d="M9736 1908l119 99-18-120z" color="#9dd93b"/>
<path d="M10476 3240l116 32-135-138z" color="#1fa287"/>
<path d="M12660 2848l122-301-21-133z" color="#48c16e"/>
<path d="M11920 3346l115 58-22-71z" color="#1e9b8a"/>
<path d="M12698 5062l114 20-133-216z" color="#424086"/>
<path d="M9699 1661l-19-124-120-120z" color="#dae319"/>
<path d="M10048 2579l100-35-119-85z" color="#52c569"/>
<path d="M10340 3081l117 53-135-166z" color="#25ab82"/>
<path d="M13236 1333l90-80-114 12z" color="#fde725"/>
<path d="M12812 5082l-18-245-115 29z" color="#404588"/>
<path d="M9560 1417l102-5-108-117-9 17z" color="#f4e61e"/>
<path d="M12056 3478l92-17-113-57z" color="#1f978b"/>
<path d="M12192 3630l92-24-114-60z" color="#21908d"/>
<path d="M12192 3630l114 63-22-87z" color="#228d8d"/>
<path d="M12056 3478l114 68-22-85z" color="#1f948c"/>
<path d="M9736 1908l101-21-120-102z" color="#aadc32"/>
<path d="M13236 1333l-24-68-114 12z" color="#fde725"/>
<path d="M10611 3371l116 9-135-108z" color="#1e9d89"/>
<path d="M12442 3805l115-43-137-41z" color="#24868e"/>
<path d="M13351 1321l114-12-139-56z" color="#fde725"/>
<path d="M10862 3457l96-107-115 23z" color="#1f9a8a"/>
<path d="M12328 3777l92-56-114-28z" color="#23888e"/>
<path d="M12721 5156l91-74-114-20z" color="#443a83"/>
<path d="M10185 2781l-19-118-118-84z" color="#42be71"/>
<path d="M9892 2248l119 92-137-212z" color="#77d153"/>
<path d="M11092 3382l-19-68-115 36z" color="#1e9d89"/>
<path d="M12841 1303l28-2-36-15z" color="#fde725"/>
<path d="M12705 3052l100-418-123 323z" color="#31b57b"/>
<path d="M12750 3228l-23-78-120 251z" color="#1fa187"/>
<path d="M11092 3382l96-111-115 43z" color="#1f9e89"/>
<path d="M9874 2128l-19-121-119-99z" color="#95d840"/>
<path d="M12557 3762l96-232-118 152z" color="#228d8d"/>
<path d="M9554 1295l-12 1 3 16z" color="#fde725"/>
<path d="M10862 3457l-19-84-116 7z" color="#1f9a8a"/>
<path d="M13236 1333l115-12-25-68z" color="#fde725"/>
<path d="M10204 2899l118 69-137-187z" color="#31b57b"/>
<path d="M12328 3777l114 28-22-84z" color="#24878e"/>
<path d="M11920 3346l-21-62-115-42z" color="#1fa188"/>
<path d="M12771 1625l97-254-20-52z" color="#ece51b"/>
<path d="M9910 2368l119 91-18-119z" color="#65cb5e"/>
<path d="M13007 1357l91-80-115 12z" color="#fde725"/>
<path d="M12848 1319l21-18-28 2z" color="#fde725"/>
<path d="M11554 3219l94-55-115 3z" color="#21a685"/>
<path d="M12805 2634l-23-87-122 301z" color="#44bf70"/>
<path d="M10359 3194l117 46-19-106z" color="#21a585"/>
<path d="M12721 5156l115-4-24-70z" color="#443983"/>
<path d="M10495 3346l97-74-116-32z" color="#1fa188"/>
<path d="M11669 3218l115 24-136-78z" color="#20a486"/>
<path d="M10359 3194l98-60-117-53z" color="#22a884"/>
<path d="M11323 3283l-20-56-115 44z" color="#1fa287"/>
<path d="M10495 3346l116 25-19-99z" color="#1f9f88"/>
<path d="M10862 3457l115-31-19-76z" color="#1f9a8a"/>
<path d="M13007 1357l-24-68-114 12z" color="#fde725"/>
<path d="M11554 3219l-21-52-115 23z" color="#21a685"/>
<path d="M11323 3283l95-93-115 37z" color="#20a386"/>
<path d="M9545 1312l-3-16-116 12 96 41z" color="#fde725"/>
<path d="M10977 3426l115-44-134-32z" color="#1e9c89"/>
<path d="M13122 1345l114-12-138-56z" color="#fde725"/>
<path d="M10223 3017l117 64-18-113z" color="#28ae80"/>
<path d="M9910 2368l101-28-119-92z" color="#6ece58"/>
<path d="M12653 3530l97-302-121 260z" color="#1e9b8a"/>
<path d="M9578 1549l121 112-139-244z" color="#dfe318"/>
<path d="M9597 1678l120 107-18-124z" color="#c8e020"/>
<path d="M12587 4945l111 117-19-196z" color="#404688"/>
<path d="M12056 3478l-21-74-115-58z" color="#1e9b8a"/>
<path d="M10746 3472l116-15-135-77z" color="#1f9a8a"/>
<path d="M13007 1357l115-12-24-68z" color="#fde725"/>
<path d="M10630 3471l97-91-116-9z" color="#1e9b8a"/>
<path d="M12716 2203l124-334-24-66z" color="#a2da37"/>
<path d="M12812 5082l103-476-121 231z" color="#3d4d8a"/>
<path d="M11092 3382l116-50-20-61z" color="#1fa088"/>
<path d="M10223 3017l99-49-118-69z" color="#2db27d"/>
<path d="M12328 3777l-22-84-114-63z" color="#228c8d"/>
<path d="M12739 2296l124-361-147 268z" color="#89d548"/>
<path d="M11554 3219l115-1-21-54z" color="#21a685"/>
<path d="M12192 3630l-22-84-114-68z" color="#20938c"/>
<path d="M9560 1417l-15-105-23 37z" color="#f8e621"/>
<path d="M12464 3897l93-135-115 43z" color="#24868e"/>
<path d="M12679 4866l115-29-16-334z" color="#3a548c"/>
<path d="M10048 2579l-19-120-119-91z" color="#5ec962"/>
<path d="M10067 2700l118 81-137-202z" color="#46c06f"/>
<path d="M11208 3332l115-49-135-12z" color="#1fa187"/>
<path d="M10630 3471l116 1-19-92z" color="#1f9a8a"/>
<path d="M12836 5152l120-192-144 122z" color="#424086"/>
<path d="M9754 2030l120 98-138-220z" color="#9bd93c"/>
<path d="M9325 1389l101-81-116 12z" color="#fde725"/>
<path d="M10495 3346l-19-106-117-46z" color="#20a386"/>
<path d="M13376 1389l89-80-114 12z" color="#fde725"/>
<path d="M12721 5156l-23-94-111-117z" color="#424186"/>
<path d="M12868 1371l24-2-23-68-21 18z" color="#fde725"/>
<path d="M12464 3897l-22-92-114-28z" color="#24868e"/>
<path d="M12892 1369l115-12-138-56z" color="#fde725"/>
<path d="M9597 1678l102-17-121-112z" color="#d5e21a"/>
<path d="M12868 1371l-97 254 118-199z" color="#ece51b"/>
<path d="M12812 5082l119-171-16-305z" color="#3d4d8a"/>
<path d="M12956 4960l-25-49-119 171z" color="#404688"/>
<path d="M11323 3283l116-41-21-52z" color="#21a585"/>
<path d="M11439 3242l115-23-136-29z" color="#21a685"/>
<path d="M12793 1717l102-277-6-14-118 199z" color="#dfe318"/>
<path d="M10085 2821l119 78-19-118z" color="#38b977"/>
<path d="M10630 3471l-19-100-116-25z" color="#1e9d89"/>
<path d="M9325 1389l-15-69-117 12z" color="#fde725"/>
<path d="M9736 1908l-19-123-120-107z" color="#bddf26"/>
<path d="M13376 1389l-25-68-115 12z" color="#fde725"/>
<path d="M11806 3298l114 48-136-104z" color="#1fa287"/>
<path d="M9772 2151l120 97-18-120z" color="#86d549"/>
<path d="M10359 3194l-19-113-117-64z" color="#26ad81"/>
<path d="M12464 3897l115-28-22-107z" color="#25858e"/>
<path d="M12557 3762l119-162-23-70z" color="#21918c"/>
<path d="M9509 1370l51 47-38-68z" color="#f8e621"/>
<path d="M9442 1377l67-7 13-21-96-41z" color="#fde725"/>
<path d="M12679 4866l99-363-118 98z" color="#375a8c"/>
<path d="M12679 4866l-19-265-113-36z" color="#38598c"/>
<path d="M12587 4945l92-79-113-86z" color="#3d4e8a"/>
<path d="M10085 2821l100-40-118-81z" color="#40bd72"/>
<path d="M9325 1389l117-12-16-69z" color="#fde725"/>
<path d="M13376 1389l114-12-25-68z" color="#fde725"/>
<path d="M12566 4780l113 86-132-301z" color="#39558c"/>
<path d="M10997 3504l-20-78-115 31z" color="#1f9a8a"/>
<path d="M12761 2414l102-479-124 361z" color="#81d34d"/>
<path d="M10997 3504l95-122-115 44z" color="#1e9c89"/>
<path d="M10765 3566l97-109-116 15z" color="#1f988b"/>
<path d="M9772 2151l102-23-120-98z" color="#93d741"/>
<path d="M9092 1413l101-81-116 12z" color="#fde725"/>
<path d="M13146 1413l90-80-114 12z" color="#fde725"/>
<path d="M11690 3269l94-27-115-24z" color="#21a685"/>
<path d="M12861 5181l-25-29-115 4z" color="#443b84"/>
<path d="M11942 3410l114 68-136-132z" color="#1f9e89"/>
<path d="M12214 3710l114 67-136-147z" color="#218e8d"/>
<path d="M10378 3307l117 39-136-152z" color="#20a486"/>
<path d="M9929 2489l119 90-138-211z" color="#60ca60"/>
<path d="M12579 3869l118-131-140 24z" color="#238a8d"/>
<path d="M9092 1413l-15-69-116 12z" color="#fde725"/>
<path d="M13146 1413l-24-68-115 12z" color="#fde725"/>
<path d="M10223 3017l-19-118-119-78z" color="#34b679"/>
<path d="M12078 3551l114 79-136-152z" color="#1f968b"/>
<path d="M12863 1935l-23-66-124 334z" color="#a2da37"/>
<path d="M9910 2368l-18-120-120-97z" color="#7fd34e"/>
<path d="M10765 3566l-19-94-116-1z" color="#1f998a"/>
<path d="M9209 1401l116-12-132-57z" color="#fde725"/>
<path d="M13261 1401l115-12-140-56z" color="#fde725"/>
<path d="M10514 3453l116 18-135-125z" color="#1e9d89"/>
<path d="M12350 3865l114 32-136-120z" color="#24878e"/>
<path d="M12794 4837l121-231-137-103z" color="#365c8d"/>
<path d="M11228 3394l-20-62-116 50z" color="#1fa088"/>
<path d="M12601 3991l-22-122-115 28z" color="#25838e"/>
<path d="M11690 3269l116 29-22-56z" color="#21a585"/>
<path d="M10881 3543l116-39-135-47z" color="#1f998a"/>
<path d="M9470 1435l90-18-51-47z" color="#f8e621"/>
<path d="M10765 3566l116-23-19-86z" color="#1f988b"/>
<path d="M12816 1803l84-351-5-12-102 277z" color="#dfe318"/>
<path d="M9948 2612l119 88-19-121z" color="#52c569"/>
<path d="M9092 1413l117-12-16-69z" color="#fde725"/>
<path d="M10241 3136l118 58-136-177z" color="#27ad81"/>
<path d="M13146 1413l115-12-25-68z" color="#fde725"/>
<path d="M11690 3269l-21-51-115 1z" color="#22a785"/>
<path d="M12697 3738l-21-138-119 162z" color="#218f8d"/>
<path d="M12705 3052l124-355-24-63z" color="#40bd72"/>
<path d="M13401 5857l-20-190-113-11z" color="#481668"/>
<path d="M12727 3150l126-400-148 302z" color="#2fb47c"/>
<path d="M11228 3394l95-111-115 49z" color="#1fa287"/>
<path d="M9615 1804l121 104-139-230z" color="#c2df23"/>
<path d="M10997 3504l115-52-20-70z" color="#1e9d89"/>
<path d="M8859 1437l102-81-117 13z" color="#fde725"/>
<path d="M12660 4601l118-98-136-160z" color="#31668e"/>
<path d="M12547 4565l113 36-18-258z" color="#32658e"/>
<path d="M12916 1437l91-80-115 12z" color="#fde725"/>
<path d="M13287 5858l114-1-133-201z" color="#471164"/>
<path d="M12609 5045l112 111-134-211z" color="#404588"/>
<path d="M13401 5857l99-289-119 99z" color="#48186a"/>
<path d="M9464 1445l114 104-18-132-90 18z" color="#f4e61e"/>
<path d="M9634 1929l120 101-18-122z" color="#addc30"/>
<path d="M13309 5993l92-136-114 1z" color="#46085c"/>
<path d="M9948 2612l100-33-119-90z" color="#5ac864"/>
<path d="M12861 5181l95-221-120 192z" color="#414287"/>
<path d="M12486 4000l115-9-137-94z" color="#26828e"/>
<path d="M8859 1437l-15-68-116 12z" color="#fde725"/>
<path d="M10649 3572l116-6-135-95z" color="#1f988b"/>
<path d="M11112 3452l116-58-136-12z" color="#1f9f88"/>
<path d="M8976 1425l116-12-131-57z" color="#fde725"/>
<path d="M12601 3991l96-253-118 131z" color="#24878e"/>
<path d="M13031 1425l115-12-139-56z" color="#fde725"/>
<path d="M10397 3420l98-74-117-39z" color="#1fa187"/>
<path d="M10397 3420l117 33-19-107z" color="#1fa088"/>
<path d="M11459 3292l-20-50-116 41z" color="#21a685"/>
<path d="M11459 3292l95-73-115 23z" color="#22a785"/>
<path d="M13309 5993l115-13-23-123z" color="#450559"/>
<path d="M12916 1437l-24-68-24 2 21 55z" color="#fde725"/>
<path d="M11827 3353l93-7-114-48z" color="#20a386"/>
<path d="M13401 5857l119-98-20-191z" color="#481769"/>
<path d="M12745 5197l116-16-140-25z" color="#433e85"/>
<path d="M10260 3254l118 53-19-113z" color="#22a785"/>
<path d="M9457 1445l-15-68-117 12z" color="#fde725"/>
<path d="M13515 1446l-25-69-114 12z" color="#fde725"/>
<path d="M10533 3560l97-89-116-18z" color="#1e9b8a"/>
<path d="M8859 1437l117-12-15-69z" color="#fde725"/>
<path d="M10085 2821l-18-121-119-88z" color="#4cc26c"/>
<path d="M12916 1437l115-12-24-68z" color="#fde725"/>
<path d="M9457 1445l13-10 39-65-67 7z" color="#fde725"/>
<path d="M10104 2943l119 74-138-196z" color="#37b878"/>
<path d="M10260 3254l99-60-118-58z" color="#25ab82"/>
<path d="M11827 3353l115 57-22-64z" color="#1fa187"/>
<path d="M9634 1929l102-21-121-104z" color="#bade28"/>
<path d="M12236 3794l114 71-22-88z" color="#228b8d"/>
<path d="M13424 5980l119-99-142-24z" color="#460a5d"/>
<path d="M9597 1678l-19-129-114-104-1 3z" color="#ece51b"/>
<path d="M12653 3530l123-317-26 15z" color="#20a486"/>
<path d="M12372 3965l92-68-114-32z" color="#24868e"/>
<path d="M12236 3794l92-17-114-67z" color="#218e8d"/>
<path d="M10533 3560l116 12-19-101z" color="#1f998a"/>
<path d="M12547 4565l95-222-115-3z" color="#2f6b8e"/>
<path d="M9791 2272l119 96-138-217z" color="#84d44b"/>
<path d="M12782 2547l127-403-148 270z" color="#75d054"/>
<path d="M13543 5881l-23-122-119 98z" color="#471063"/>
<path d="M12372 3965l114 35-22-103z" color="#25838e"/>
<path d="M11228 3394l115-57-20-54z" color="#20a386"/>
<path d="M12100 3624l114 86-22-80z" color="#20938c"/>
<path d="M13175 5799l112 59-19-202z" color="#481668"/>
<path d="M11575 3267l115 2-136-50z" color="#22a884"/>
<path d="M9772 2151l-18-121-120-101z" color="#a5db36"/>
<path d="M10900 3632l97-128-116 39z" color="#1f988b"/>
<path d="M10900 3632l-19-89-116 23z" color="#1f978b"/>
<path d="M12100 3624l92 6-114-79z" color="#1f968b"/>
<path d="M11964 3473l92 5-114-68z" color="#1f9e89"/>
<path d="M9224 1470l101-81-116 12z" color="#fde725"/>
<path d="M13285 1470l91-81-115 12z" color="#fde725"/>
<path d="M11964 3473l114 78-22-73z" color="#1e9c89"/>
<path d="M12587 4945l-21-165-111-152z" color="#39568c"/>
<path d="M12507 4140l94-149-115 9z" color="#27808e"/>
<path d="M13309 5993l-22-135-112-59z" color="#470d60"/>
<path d="M8742 1449l117-12-131-56z" color="#fde725"/>
<path d="M9809 2394l120 95-19-121z" color="#70cf57"/>
<path d="M10123 3065l118 71-18-119z" color="#2db27d"/>
<path d="M12507 4140l115-3-21-146z" color="#287d8e"/>
<path d="M12601 3991l117-91-21-162z" color="#23888e"/>
<path d="M11343 3337l116-45-136-9z" color="#21a685"/>
<path d="M12778 4503l-18-283-118 123z" color="#2d708e"/>
<path d="M12750 3228l103-478-126 400z" color="#2eb37c"/>
<path d="M12642 4343l-20-206-115 3z" color="#2a778e"/>
<path d="M12455 4628l111 152-19-215z" color="#355f8d"/>
<path d="M11459 3292l116-25-21-48z" color="#22a884"/>
<path d="M12527 4340l115 3-135-203z" color="#2c738e"/>
<path d="M13268 5656l113 11-13-356z" color="#482677"/>
<path d="M9224 1470l-15-69-117 12z" color="#fde725"/>
<path d="M13285 1470l-24-69-115 12z" color="#fde725"/>
<path d="M10533 3560l-19-107-117-33z" color="#1f9e89"/>
<path d="M9341 1457l116-12-132-56z" color="#fde725"/>
<path d="M13400 1458l115-12-139-57z" color="#fde725"/>
<path d="M10669 3674l96-108-116 6z" color="#1f978b"/>
<path d="M11827 3353l-21-55-116-29z" color="#21a685"/>
<path d="M10397 3420l-19-113-118-53z" color="#21a585"/>
<path d="M12622 4137l118-102-139-44z" color="#27808e"/>
<path d="M13381 5667l119-99-132-257z" color="#482979"/>
<path d="M10123 3065l100-48-119-74z" color="#32b67a"/>
<path d="M13448 6072l-24-92-115 13z" color="#440256"/>
<path d="M12642 4343l98-308-118 102z" color="#29798e"/>
<path d="M12816 1803l103-294-19-57z" color="#e7e419"/>
<path d="M11132 3523l-20-71-115 52z" color="#1e9d89"/>
<path d="M12895 1440l21-3-27-11z" color="#fde725"/>
<path d="M12633 5098l112 99-24-41z" color="#424186"/>
<path d="M12633 5098l88 58-112-111z" color="#404588"/>
<path d="M12853 2750l-24-53-124 355z" color="#42be71"/>
<path d="M9809 2394l101-26-119-96z" color="#7cd250"/>
<path d="M12740 4035l-22-135-117 91z" color="#25838e"/>
<path d="M9224 1470l117-13-16-68z" color="#fde725"/>
<path d="M10785 3662l115-30-135-66z" color="#1f968b"/>
<path d="M13285 1470l115-12-24-69z" color="#fde725"/>
<path d="M13175 5799l93-143-113-48z" color="#481d6f"/>
<path d="M12507 4140l-21-140-114-35z" color="#26818e"/>
<path d="M10900 3632l116-47-19-81z" color="#1f998a"/>
<path d="M9457 1445l7 0 6-10z" color="#fde725"/>
<path d="M12676 3600l124-333-147 263z" color="#1f9f88"/>
<path d="M12805 2634l104-490-127 403z" color="#70cf57"/>
<path d="M12900 1452l16-15-21 3z" color="#fde725"/>
<path d="M12547 4565l-20-225-113-74z" color="#2e6f8e"/>
<path d="M9494 1699l121 105-18-126z" color="#d5e21a"/>
<path d="M10669 3674l116-12-20-96z" color="#1f968b"/>
<path d="M9476 1570l121 108-134-230-4 5z" color="#f1e51d"/>
<path d="M9966 2735l119 86-137-209z" color="#4ec36b"/>
<path d="M8991 1494l101-81-116 12z" color="#fde725"/>
<path d="M13448 6072l95-191-119 99z" color="#46075a"/>
<path d="M13055 1494l91-81-115 12z" color="#fde725"/>
<path d="M11132 3523l96-129-116 58z" color="#1fa088"/>
<path d="M12761 2414l125-385-23-94z" color="#9bd93c"/>
<path d="M9464 1445l-7 0 6 3z" color="#fde725"/>
<path d="M10669 3674l-20-102-116-12z" color="#1f988b"/>
<path d="M9948 2612l-19-123-120-95z" color="#69cd5b"/>
<path d="M12642 4343l118-123-20-185z" color="#29798e"/>
<path d="M12372 3965l-22-100-114-71z" color="#238a8d"/>
<path d="M9463 1448l-6-3 2 8z" color="#fde725"/>
<path d="M10260 3254l-19-118-118-71z" color="#29af7f"/>
<path d="M11016 3585l116-62-135-19z" color="#1e9b8a"/>
<path d="M13197 5938l112 55-134-194z" color="#470d60"/>
<path d="M8991 1494l-15-69-117 12z" color="#fde725"/>
<path d="M13055 1494l-24-69-115 12z" color="#fde725"/>
<path d="M13520 5759l123-187-143-4z" color="#482173"/>
<path d="M9107 1482l117-12-132-57z" color="#fde725"/>
<path d="M9985 2859l119 84-19-122z" color="#3fbc73"/>
<path d="M13170 1482l115-12-139-57z" color="#fde725"/>
<path d="M13333 6088l115-16-139-79z" color="#440256"/>
<path d="M9652 2052l120 99-138-222z" color="#aadc32"/>
<path d="M12861 5181l119-160-24-61z" color="#3e4989"/>
<path d="M12414 4266l113 74-20-200z" color="#2a768e"/>
<path d="M12236 3794l-22-84-114-86z" color="#20928c"/>
<path d="M10416 3533l117 27-136-140z" color="#1f9e89"/>
<path d="M11964 3473l-22-63-115-57z" color="#1fa287"/>
<path d="M9494 1699l103-21-121-108z" color="#e5e419"/>
<path d="M8991 1494l116-12-15-69z" color="#fde725"/>
<path d="M13055 1494l115-12-24-69z" color="#fde725"/>
<path d="M10279 3373l118 47-137-166z" color="#21a685"/>
<path d="M13543 5881l100-309-123 187z" color="#481b6d"/>
<path d="M13155 5608l113 48-130-328z" color="#472a7a"/>
<path d="M12455 4628l92-63-113-113z" color="#31678e"/>
<path d="M12770 5239l91-58-116 16z" color="#424086"/>
<path d="M12434 4452l113 113-133-299z" color="#2e6e8e"/>
<path d="M12393 4097l114 43-135-175z" color="#26818e"/>
<path d="M12915 4606l-14-393-123 290z" color="#2e6d8e"/>
<path d="M9634 1929l-19-125-121-105z" color="#cde11d"/>
<path d="M12100 3624l-22-73-114-78z" color="#1e9c89"/>
<path d="M9670 2174l121 98-19-121z" color="#93d741"/>
<path d="M9985 2859l100-38-119-86z" color="#48c16e"/>
<path d="M8757 1518l102-81-117 12z" color="#fde725"/>
<path d="M12498 4865l111 180-22-100z" color="#3c508b"/>
<path d="M12476 4768l111 177-132-317z" color="#375b8d"/>
<path d="M11363 3390l-20-53-115 57z" color="#21a585"/>
<path d="M10552 3667l117 7-136-114z" color="#1f978b"/>
<path d="M12919 1509l-103 294 118-239z" color="#e7e419"/>
<path d="M13268 5656l100-345-115 7z" color="#46327e"/>
<path d="M12931 4911l131-481-147 176z" color="#33628d"/>
<path d="M11711 3317l116 36-137-84z" color="#22a884"/>
<path d="M12956 4960l106-530-131 481z" color="#365c8d"/>
<path d="M12840 1869l99-291-5-14-118 239z" color="#dde318"/>
<path d="M11596 3312l94-43-115-2z" color="#24aa83"/>
<path d="M10804 3760l96-128-115 30z" color="#1f958b"/>
<path d="M12697 3738l103-471-124 333z" color="#1e9d89"/>
<path d="M11132 3523l115-69-19-60z" color="#1fa188"/>
<path d="M13175 5799l-20-191-113-49z" color="#482374"/>
<path d="M12919 1509l21-3-24-69-16 15z" color="#fde725"/>
<path d="M9357 1526l100-81-116 12z" color="#fde725"/>
<path d="M13425 1527l90-81-115 12z" color="#fde725"/>
<path d="M12909 2144l-23-115-125 385z" color="#95d840"/>
<path d="M12414 4266l93-126-114-43z" color="#287c8e"/>
<path d="M11363 3390l96-98-116 45z" color="#22a785"/>
<path d="M13220 6039l113 49-24-95z" color="#450559"/>
<path d="M13220 6039l89-46-112-55z" color="#46085c"/>
<path d="M8874 1506l117-12-132-57z" color="#fde725"/>
<path d="M10804 3760l-19-98-116 12z" color="#1f948c"/>
<path d="M12940 1506l115-12-139-57z" color="#fde725"/>
<path d="M10123 3065l-19-122-119-84z" color="#3aba76"/>
<path d="M12800 3267l-24-54-123 317z" color="#22a785"/>
<path d="M13448 6072l119-103-24-88z" color="#460a5d"/>
<path d="M9670 2174l102-23-120-99z" color="#a0da39"/>
<path d="M13268 5656l-15-338-115 10z" color="#46327e"/>
<path d="M12718 3900l122-245-143 83z" color="#20928c"/>
<path d="M11596 3312l-21-45-116 25z" color="#24aa83"/>
<path d="M10142 3189l118 65-137-189z" color="#2ab07f"/>
<path d="M11036 3667l-20-82-116 47z" color="#1f988b"/>
<path d="M9419 1520l57 50-17-117z" color="#f8e621"/>
<path d="M9357 1526l-16-69-117 13z" color="#fde725"/>
<path d="M13425 1527l-25-69-115 12z" color="#fde725"/>
<path d="M9828 2517l120 95-139-218z" color="#6ccd5a"/>
<path d="M12770 5239l114 10-23-68z" color="#424086"/>
<path d="M9357 1526l62-6 40-67-2-8z" color="#fde725"/>
<path d="M8757 1518l117-12-15-69z" color="#fde725"/>
<path d="M10298 3491l118 42-19-113z" color="#1fa188"/>
<path d="M13643 5572l-21-180-122 176z" color="#472d7b"/>
<path d="M10435 3645l98-85-117-27z" color="#1e9b8a"/>
<path d="M13500 5568l-12-364-120 107z" color="#453882"/>
<path d="M12258 3889l114 76-136-171z" color="#228c8d"/>
<path d="M12884 5249l118-90-141 22z" color="#414287"/>
<path d="M10298 3491l99-71-118-47z" color="#20a386"/>
<path d="M11247 3454l116-64-135 4z" color="#20a486"/>
<path d="M10435 3645l117 22-19-107z" color="#1f998a"/>
<path d="M9809 2394l-18-122-121-98z" color="#8bd646"/>
<path d="M13002 5159l-22-138-119 160z" color="#3f4788"/>
<path d="M10804 3760l116-36-20-92z" color="#1f958b"/>
<path d="M11036 3667l96-144-116 62z" color="#1e9b8a"/>
<path d="M9846 2642l120 93-18-123z" color="#5ac864"/>
<path d="M11596 3312l115 5-21-48z" color="#24aa83"/>
<path d="M13425 1527l115-12-25-69z" color="#fde725"/>
<path d="M12740 4035l100-380-122 245z" color="#228d8d"/>
<path d="M12770 5239l-25-42-112-99z" color="#414487"/>
<path d="M12498 4865l89 80-111-177z" color="#38588c"/>
<path d="M13358 6167l90-95-115 16z" color="#440154"/>
<path d="M13063 5716l112 83-133-240z" color="#482173"/>
<path d="M10920 3724l116-57-136-35z" color="#1f978b"/>
<path d="M10161 3313l118 60-19-119z" color="#24aa83"/>
<path d="M10688 3776l116-16-135-86z" color="#20938c"/>
<path d="M13042 5559l113 49-17-280z" color="#472f7d"/>
<path d="M9123 1551l101-81-117 12z" color="#fde725"/>
<path d="M13194 1551l91-81-115 12z" color="#fde725"/>
<path d="M13086 5835l111 103-22-139z" color="#481668"/>
<path d="M12778 4503l106-584-124 301z" color="#297b8e"/>
<path d="M10571 3774l98-100-117-7z" color="#1f958b"/>
<path d="M9512 1827l122 102-140-230z" color="#d2e21b"/>
<path d="M11848 3405l116 68-137-120z" color="#21a585"/>
<path d="M12122 3699l114 95-136-170z" color="#1f958b"/>
<path d="M10161 3313l99-59-118-65z" color="#27ad81"/>
<path d="M12279 4005l114 92-21-132z" color="#25858e"/>
<path d="M9123 1551l-16-69-116 12z" color="#fde725"/>
<path d="M13194 1551l-24-69-115 12z" color="#fde725"/>
<path d="M13543 5881l123-176-23-133z" color="#482071"/>
<path d="M9846 2642l102-30-120-95z" color="#65cb5e"/>
<path d="M11363 3390l116-51-20-47z" color="#23a983"/>
<path d="M10571 3774l117 2-19-102z" color="#1f948c"/>
<path d="M9240 1539l117-13-133-56z" color="#fde725"/>
<path d="M13310 1539l115-12-140-57z" color="#fde725"/>
<path d="M9531 1952l121 100-18-123z" color="#bade28"/>
<path d="M11479 3339l117-27-137-20z" color="#24aa83"/>
<path d="M13500 5568l122-176-15-299z" color="#443a83"/>
<path d="M9494 1699l-18-129-57-50-15 27z" color="#f4e61e"/>
<path d="M12633 5098l-24-53-111-180z" color="#3c508b"/>
<path d="M10004 2985l119 80-138-206z" color="#3dbc74"/>
<path d="M11985 3534l115 90-136-151z" color="#1f9f88"/>
<path d="M10435 3645l-19-112-118-42z" color="#1f9e89"/>
<path d="M12863 1935l81-342-5-15-99 291z" color="#dde318"/>
<path d="M13086 5835l89-36-112-83z" color="#481c6e"/>
<path d="M9985 2859l-19-124-120-93z" color="#54c568"/>
<path d="M9123 1551l117-12-16-69z" color="#fde725"/>
<path d="M13194 1551l116-12-25-69z" color="#fde725"/>
<path d="M12279 4005l93-40-114-76z" color="#238a8d"/>
<path d="M13358 6167l116-26-26-69z" color="#440154"/>
<path d="M13358 6167l-25-79-113-49z" color="#450457"/>
<path d="M12414 4266l-21-169-114-92z" color="#26818e"/>
<path d="M13500 5568l107-475-119 111z" color="#423f85"/>
<path d="M10571 3774l-19-107-117-22z" color="#1f978b"/>
<path d="M13042 5559l96-231-116 32z" color="#453781"/>
<path d="M11036 3667l115-73-19-71z" color="#1e9d89"/>
<path d="M8888 1575l103-81-117 12z" color="#fde725"/>
<path d="M12963 1576l92-82-115 12z" color="#fde725"/>
<path d="M12907 5362l-23-113-114-10z" color="#423f85"/>
<path d="M12760 4220l124-301-144 116z" color="#25848e"/>
<path d="M10298 3491l-19-118-118-60z" color="#22a785"/>
<path d="M10023 3112l119 77-19-124z" color="#31b57b"/>
<path d="M13567 5969l123-168-147 80z" color="#481668"/>
<path d="M13593 6035l-26-66-119 103z" color="#460a5d"/>
<path d="M11267 3513l-20-59-115 69z" color="#1fa187"/>
<path d="M9531 1952l103-23-122-102z" color="#c8e020"/>
<path d="M13220 6039l-23-101-111-103z" color="#471164"/>
<path d="M13042 5559l-20-199-115 2z" color="#453781"/>
<path d="M12907 5362l95-203-118 90z" color="#424186"/>
<path d="M11733 3362l94-9-116-36z" color="#24aa83"/>
<path d="M9689 2296l120 98-139-220z" color="#90d743"/>
<path d="M9419 1520l-62 6 47 21z" color="#fde725"/>
<path d="M13022 5360l116-32-136-169z" color="#424086"/>
<path d="M10939 3815l-19-91-116 36z" color="#1f948c"/>
<path d="M8888 1575l-14-69-117 12z" color="#fde725"/>
<path d="M12829 2697l128-418-152 355z" color="#70cf57"/>
<path d="M10707 3877l97-117-116 16z" color="#20928c"/>
<path d="M9006 1563l117-12-132-57z" color="#fde725"/>
<path d="M12980 5021l125-260-149 199z" color="#39568c"/>
<path d="M13079 1563l115-12-139-57z" color="#fde725"/>
<path d="M9670 2174l-18-122-121-100z" color="#b2dd2d"/>
<path d="M13474 6141l119-106-145 37z" color="#46075a"/>
<path d="M12778 4503l123-290-17-294z" color="#287d8e"/>
<path d="M12840 3655l-19-222-124 305z" color="#1e9d89"/>
<path d="M10939 3815l97-148-116 57z" color="#1f968b"/>
<path d="M12455 4628l-21-176-112-159z" color="#2d718e"/>
<path d="M12907 5362l115-2-20-201z" color="#424086"/>
<path d="M12750 3228l129-466-26-12z" color="#44bf70"/>
<path d="M12322 4293l112 159-20-186z" color="#2a768e"/>
<path d="M12963 1576l-23-70-21 3 15 55z" color="#fde725"/>
<path d="M10023 3112l100-47-119-80z" color="#37b878"/>
<path d="M13690 5801l-24-96-123 176z" color="#481d6f"/>
<path d="M9707 2420l121 97-19-123z" color="#7cd250"/>
<path d="M12805 2634l127-405-23-85z" color="#8bd646"/>
<path d="M13566 1584l-26-69-115 12z" color="#fde725"/>
<path d="M12144 3783l114 106-22-95z" color="#20928c"/>
<path d="M11267 3513l96-123-116 64z" color="#21a585"/>
<path d="M11151 3594l116-81-135 10z" color="#1fa188"/>
<path d="M11733 3362l115 43-21-52z" color="#23a983"/>
<path d="M12697 3738l124-305-21-166z" color="#20a386"/>
<path d="M8888 1575l118-12-15-69z" color="#fde725"/>
<path d="M12963 1576l116-13-24-69z" color="#fde725"/>
<path d="M10707 3877l-19-101-117-2z" color="#20928c"/>
<path d="M10317 3608l118 37-137-154z" color="#1f9f88"/>
<path d="M12929 5488l113 71-135-197z" color="#463480"/>
<path d="M10823 3857l116-42-135-55z" color="#20928c"/>
<path d="M10707 3877l116-20-19-97z" color="#20928c"/>
<path d="M10454 3755l117 19-136-129z" color="#1f978b"/>
<path d="M12144 3783l92 11-114-95z" color="#1f958b"/>
<path d="M9374 1596l120 103-90-152z" color="#f6e620"/>
<path d="M10161 3313l-19-124-119-77z" color="#2db27d"/>
<path d="M11733 3362l-22-45-115-5z" color="#25ac82"/>
<path d="M9707 2420l102-26-120-98z" color="#89d548"/>
<path d="M9865 2768l120 91-139-217z" color="#58c765"/>
<path d="M12301 4144l113 122-135-261z" color="#26828e"/>
<path d="M9255 1608l102-82-117 13z" color="#fde725"/>
<path d="M13335 1608l90-81-115 12z" color="#fde725"/>
<path d="M12657 5136l113 103-137-141z" color="#3e4989"/>
<path d="M10180 3437l118 54-137-178z" color="#22a884"/>
<path d="M12952 5601l111 115-21-157z" color="#472c7a"/>
<path d="M12740 4035l123-279-23-101z" color="#20938c"/>
<path d="M8771 1588l117-13-131-57z" color="#fde725"/>
<path d="M9391 1725l121 102-18-128z" color="#e5e419"/>
<path d="M11870 3455l94 18-116-68z" color="#21a685"/>
<path d="M12794 5302l113 60-137-123z" color="#424186"/>
<path d="M12007 3597l115 102-22-75z" color="#1e9c89"/>
<path d="M9846 2642l-18-125-121-97z" color="#75d054"/>
<path d="M13138 5328l-15-324-121 155z" color="#3e4989"/>
<path d="M13245 6113l113 54-138-128z" color="#46075a"/>
<path d="M13253 5318l115-7-125-432z" color="#3e4989"/>
<path d="M10939 3815l116-65-19-83z" color="#1f978b"/>
<path d="M9884 2895l120 90-19-126z" color="#48c16e"/>
<path d="M9255 1608l-15-69-117 12z" color="#fde725"/>
<path d="M11870 3455l115 79-21-61z" color="#20a486"/>
<path d="M9372 1596l2 0 30-49-47-21z" color="#fde725"/>
<path d="M13335 1608l-25-69-116 12z" color="#fde725"/>
<path d="M12007 3597l93 27-115-90z" color="#1fa088"/>
<path d="M13643 5572l106-424-127 244z" color="#433d84"/>
<path d="M12776 3213l130-481-156 496z" color="#3aba76"/>
<path d="M11500 3381l-21-42-116 51z" color="#25ab82"/>
<path d="M13450 1596l116-12-141-57z" color="#fde725"/>
<path d="M10590 3878l117-1-136-103z" color="#20928c"/>
<path d="M12365 4555l111 213-21-140z" color="#31688e"/>
<path d="M11171 3663l-20-69-115 73z" color="#1e9d89"/>
<path d="M11500 3381l96-69-117 27z" color="#25ac82"/>
<path d="M13002 5159l103-398-125 260z" color="#39558c"/>
<path d="M12939 1578l24-2-29-12z" color="#fde725"/>
<path d="M12322 4293l92-27-113-122z" color="#277e8e"/>
<path d="M10336 3722l99-77-118-37z" color="#1e9c89"/>
<path d="M13593 6035l97-234-123 168z" color="#481668"/>
<path d="M12279 4005l-21-116-114-106z" color="#21908d"/>
<path d="M10336 3722l118 33-19-110z" color="#1f998a"/>
<path d="M12863 1935l95-287-14-55z" color="#eae51a"/>
<path d="M13138 5328l115-10-10-439z" color="#3e4989"/>
<path d="M9549 2076l121 98-139-222z" color="#b8de29"/>
<path d="M12952 5601l90-42-113-71z" color="#46327e"/>
<path d="M9255 1608l117-12-15-70z" color="#fde725"/>
<path d="M13335 1608l115-12-25-69z" color="#fde725"/>
<path d="M12956 4960l128-368-22-162z" color="#31688e"/>
<path d="M13500 6185l-26-44-116 26z" color="#450457"/>
<path d="M13086 5835l-23-119-111-115z" color="#482677"/>
<path d="M11267 3513l117-75-21-48z" color="#22a785"/>
<path d="M10199 3559l118 49-19-117z" color="#1fa187"/>
<path d="M9884 2895l101-36-120-91z" color="#50c46a"/>
<path d="M13110 5925l110 114-134-204z" color="#481769"/>
<path d="M10473 3862l98-88-117-19z" color="#1f958b"/>
<path d="M12884 3919l-21-163-123 279z" color="#21908d"/>
<path d="M9021 1633l102-82-117 12z" color="#fde725"/>
<path d="M12944 1593l19-17-24 2z" color="#fde725"/>
<path d="M13103 1633l91-82-115 12z" color="#fde725"/>
<path d="M13666 5705l125-214-148 81z" color="#472f7d"/>
<path d="M9391 1725l103-26-120-103-1 1z" color="#f4e61e"/>
<path d="M10199 3559l99-68-118-54z" color="#21a585"/>
<path d="M11055 3750l116-87-135 4z" color="#1e9b8a"/>
<path d="M9531 1952l-19-125-121-102z" color="#dae319"/>
<path d="M13105 4761l-21-169-128 368z" color="#33628d"/>
<path d="M9567 2199l122 97-19-122z" color="#a2da37"/>
<path d="M10042 3241l119 72-138-201z" color="#2eb37c"/>
<path d="M10843 3950l96-135-116 42z" color="#20928c"/>
<path d="M12853 2750l104-471-128 418z" color="#70cf57"/>
<path d="M10843 3950l-20-93-116 20z" color="#21918c"/>
<path d="M10473 3862l117 16-19-104z" color="#20938c"/>
<path d="M12957 2279l-25-50-127 405z" color="#8bd646"/>
<path d="M10023 3112l-19-127-120-90z" color="#40bd72"/>
<path d="M12343 4436l112 192-133-335z" color="#2c738e"/>
<path d="M12522 4924l111 174-135-233z" color="#38588c"/>
<path d="M9021 1633l-15-70-118 12z" color="#fde725"/>
<path d="M13103 1633l-24-70-116 13z" color="#fde725"/>
<path d="M11617 3353l116 9-137-50z" color="#26ad81"/>
<path d="M11171 3663l96-150-116 81z" color="#1fa188"/>
<path d="M13062 4430l-17-270-130 446z" color="#2a768e"/>
<path d="M13368 5311l120-107-9-463z" color="#3c508b"/>
<path d="M9138 1620l117-12-132-57z" color="#fde725"/>
<path d="M11384 3438l116-57-137 9z" color="#24aa83"/>
<path d="M13219 1621l116-13-141-57z" color="#fde725"/>
<path d="M13500 6185l93-150-119 106z" color="#46085c"/>
<path d="M13622 5392l127-244-142-55z" color="#3e4989"/>
<path d="M9374 1596l-2 0 1 1z" color="#fde725"/>
<path d="M12498 4865l-22-97-111-213z" color="#32658e"/>
<path d="M10061 3371l119 66-19-124z" color="#25ac82"/>
<path d="M11870 3455l-22-50-115-43z" color="#24aa83"/>
<path d="M9567 2199l103-25-121-98z" color="#b0dd2f"/>
<path d="M11500 3381l117-28-21-41z" color="#27ad81"/>
<path d="M9021 1633l117-13-15-69z" color="#fde725"/>
<path d="M13103 1633l116-12-25-70z" color="#fde725"/>
<path d="M9726 2545l120 97-139-222z" color="#7ad151"/>
<path d="M12817 5377l112 111-22-126z" color="#433d84"/>
<path d="M10609 3978l98-101-117 1z" color="#21918c"/>
<path d="M10473 3862l-19-107-118-33z" color="#1f978b"/>
<path d="M8786 1657l102-82-117 13z" color="#fde725"/>
<path d="M10336 3722l-19-114-118-49z" color="#1f9f88"/>
<path d="M12144 3783l-22-84-115-102z" color="#1e9c89"/>
<path d="M10726 3974l117-24-136-73z" color="#21908d"/>
<path d="M10061 3371l100-58-119-72z" color="#29af7f"/>
<path d="M11075 3828l-20-78-116 65z" color="#1f968b"/>
<path d="M10843 3950l116-48-20-87z" color="#20928c"/>
<path d="M13002 5159l121-155-18-243z" color="#38598c"/>
<path d="M13384 6215l116-30-142-18z" color="#450559"/>
<path d="M9707 2420l-18-124-122-97z" color="#9bd93c"/>
<path d="M12886 2029l99-311-7-17-115 234z" color="#dde318"/>
<path d="M12915 4606l116-829-130 436z" color="#26828e"/>
<path d="M12958 1648l-95 287 115-234z" color="#eae51a"/>
<path d="M9744 2671l121 97-19-126z" color="#65cb5e"/>
<path d="M12365 4555l90 73-112-192z" color="#2d718e"/>
<path d="M9373 1597l-1-1-117 12 88 38z" color="#fde725"/>
<path d="M13138 5328l105-449-120 125z" color="#3b528b"/>
<path d="M12817 5377l90-15-113-60z" color="#424186"/>
<path d="M13643 5572l126-232-20-192z" color="#424186"/>
<path d="M13690 5801l101-310-125 214z" color="#472d7b"/>
<path d="M13475 1666l91-82-116 12z" color="#fde725"/>
<path d="M12958 1648l29-3-24-69-19 17z" color="#fde725"/>
<path d="M10609 3978l117-4-19-97z" color="#21908d"/>
<path d="M13791 5491l-22-151-126 232z" color="#443a83"/>
<path d="M12007 3597l-22-63-115-79z" color="#21a585"/>
<path d="M8903 1645l118-12-133-58z" color="#fde725"/>
<path d="M12987 1645l116-12-140-57z" color="#fde725"/>
<path d="M12681 5176l113 126-24-63z" color="#3f4889"/>
<path d="M13134 5993l111 120-25-74z" color="#471164"/>
<path d="M13271 6163l87 4-113-54z" color="#46085c"/>
<path d="M12906 2732l-27 30-129 466z" color="#4ec36b"/>
<path d="M10609 3978l-19-100-117-16z" color="#20928c"/>
<path d="M12681 5176l89 63-113-103z" color="#3d4d8a"/>
<path d="M10959 3902l116-74-136-13z" color="#1f948c"/>
<path d="M12165 3881l114 124-135-222z" color="#20928c"/>
<path d="M9409 1853l122 99-140-227z" color="#dfe318"/>
<path d="M10199 3559l-19-122-119-66z" color="#23a983"/>
<path d="M13475 1666l-25-70-115 12z" color="#fde725"/>
<path d="M9391 1725l-18-128-30 49z" color="#f8e621"/>
<path d="M9903 3025l120 87-139-217z" color="#44bf70"/>
<path d="M8786 1657l117-12-15-70z" color="#fde725"/>
<path d="M9744 2671l102-29-120-97z" color="#70cf57"/>
<path d="M13488 5204l119-111-128-352z" color="#39568c"/>
<path d="M13134 5993l86 46-110-114z" color="#481769"/>
<path d="M11075 3828l96-165-116 87z" color="#1f9a8a"/>
<path d="M11171 3663l117-95-21-55z" color="#1fa287"/>
<path d="M13271 6163l113 52-26-48z" color="#46075a"/>
<path d="M9427 1979l122 97-18-124z" color="#cae11f"/>
<path d="M13593 6035l123-166-26-68z" color="#481d6f"/>
<path d="M12187 3992l114 152-22-139z" color="#228b8d"/>
<path d="M12976 5693l110 142-134-234z" color="#472a7a"/>
<path d="M12952 5601l-23-113-112-111z" color="#443a83"/>
<path d="M9922 3158l120 83-19-129z" color="#35b779"/>
<path d="M9884 2895l-19-127-121-97z" color="#5ec962"/>
<path d="M12546 4963l111 173-24-38z" color="#3a548c"/>
<path d="M13475 1666l116-13-25-69z" color="#fde725"/>
<path d="M13368 5311l-6-521-119 89z" color="#38598c"/>
<path d="M10355 3833l118 29-137-140z" color="#1f988b"/>
<path d="M11404 3480l-20-42-117 75z" color="#23a983"/>
<path d="M10218 3678l118 44-137-163z" color="#1fa088"/>
<path d="M12800 3267l106-535-130 481z" color="#3fbc73"/>
<path d="M9153 1690l102-82-117 12z" color="#fde725"/>
<path d="M13243 1690l92-82-116 13z" color="#fde725"/>
<path d="M13500 6185l120-106-27-44z" color="#471063"/>
<path d="M12909 2144l84-412-8-14-99 311z" color="#d8e219"/>
<path d="M10745 4067l98-117-117 24z" color="#218f8d"/>
<path d="M9427 1979l104-27-122-99z" color="#d5e21a"/>
<path d="M11754 3401l116 54-137-93z" color="#26ad81"/>
<path d="M9922 3158l101-46-120-87z" color="#3dbc74"/>
<path d="M12322 4293l-21-149-114-152z" color="#24878e"/>
<path d="M9153 1690l-15-70-117 13z" color="#fde725"/>
<path d="M13243 1690l-24-69-116 12z" color="#fde725"/>
<path d="M12546 4963l87 135-111-174z" color="#375a8c"/>
<path d="M9326 1672l65 53-48-79z" color="#f8e621"/>
<path d="M13749 5148l-19-214-123 159z" color="#39558c"/>
<path d="M9586 2322l121 98-140-221z" color="#9dd93b"/>
<path d="M10492 3964l117 14-136-116z" color="#20928c"/>
<path d="M13359 1678l116-12-140-58z" color="#fde725"/>
<path d="M9271 1678l55-6 17-26-88-38z" color="#fde725"/>
<path d="M13368 5311l111-570-117 49z" color="#365d8d"/>
<path d="M11404 3480l96-99-116 57z" color="#25ac82"/>
<path d="M10978 3979l-19-77-116 48z" color="#20928c"/>
<path d="M11638 3386l95-24-116-9z" color="#29af7f"/>
<path d="M10745 4067l-19-93-117 4z" color="#218f8d"/>
<path d="M12915 4606l130-446-14-383z" color="#25858e"/>
<path d="M9567 2199l-18-123-122-97z" color="#c0df25"/>
<path d="M11288 3568l116-88-137 33z" color="#22a785"/>
<path d="M10061 3371l-19-130-120-83z" color="#31b57b"/>
<path d="M10080 3499l119 60-138-188z" color="#24aa83"/>
<path d="M12187 3992l92 13-114-124z" color="#21918c"/>
<path d="M13000 5765l110 160-24-90z" color="#482475"/>
<path d="M13123 5004l120-125-138-118z" color="#34618d"/>
<path d="M9604 2446l122 99-19-125z" color="#89d548"/>
<path d="M9153 1690l118-12-16-70z" color="#fde725"/>
<path d="M13243 1690l116-12-24-70z" color="#fde725"/>
<path d="M12029 3666l115 117-137-186z" color="#1fa088"/>
<path d="M11638 3386l-21-33-117 28z" color="#29af7f"/>
<path d="M8918 1715l103-82-118 12z" color="#fde725"/>
<path d="M10745 4067l117-30-19-87z" color="#218f8d"/>
<path d="M13011 1715l92-82-116 12z" color="#fde725"/>
<path d="M10237 3793l118 40-19-111z" color="#1f9a8a"/>
<path d="M10978 3979l97-151-116 74z" color="#1f948c"/>
<path d="M11075 3828l116-103-20-62z" color="#1e9d89"/>
<path d="M10237 3793l99-71-118-44z" color="#1e9d89"/>
<path d="M10374 3938l99-76-118-29z" color="#1f958b"/>
<path d="M12817 5377l-23-75-113-126z" color="#3e4989"/>
<path d="M10862 4037l116-58-135-29z" color="#21908d"/>
<path d="M11892 3503l115 94-137-142z" color="#22a884"/>
<path d="M10374 3938l118 26-19-102z" color="#20938c"/>
<path d="M13690 5801l126-206-25-104z" color="#46337f"/>
<path d="M8918 1715l-15-70-117 12z" color="#fde725"/>
<path d="M13607 5093l123-159-17-254z" color="#34608d"/>
<path d="M12387 4644l111 221-133-310z" color="#2f6c8e"/>
<path d="M13271 6163l-26-50-111-120z" color="#471365"/>
<path d="M9763 2798l121 97-140-224z" color="#63cb5f"/>
<path d="M10099 3623l119 55-19-119z" color="#20a386"/>
<path d="M9604 2446l103-26-121-98z" color="#95d840"/>
<path d="M11638 3386l116 15-21-39z" color="#29af7f"/>
<path d="M13411 6244l89-59-116 30z" color="#46085c"/>
<path d="M9036 1702l117-12-132-57z" color="#fde725"/>
<path d="M13127 1703l116-13-140-57z" color="#fde725"/>
<path d="M13000 5765l86 70-110-142z" color="#472a7a"/>
<path d="M9287 1757l122 96-18-128z" color="#efe51c"/>
<path d="M13011 1715l-24-70-29 3 20 53z" color="#fde725"/>
<path d="M10628 4073l117-6-136-89z" color="#218e8d"/>
<path d="M9782 2928l121 97-19-130z" color="#50c46a"/>
<path d="M10099 3623l100-64-119-60z" color="#22a785"/>
<path d="M13616 1723l-25-70-116 13z" color="#fde725"/>
<path d="M9744 2671l-18-126-122-99z" color="#81d34d"/>
<path d="M12901 4213l130-436-147 142z" color="#20928c"/>
<path d="M8918 1715l118-13-15-69z" color="#fde725"/>
<path d="M13011 1715l116-12-24-70z" color="#fde725"/>
<path d="M10511 4061l98-83-117-14z" color="#21918c"/>
<path d="M11308 3613l-20-45-117 95z" color="#20a486"/>
<path d="M13744 5915l-28-46-123 166z" color="#481f70"/>
<path d="M12841 5451l111 150-135-224z" color="#423f85"/>
<path d="M13620 6079l124-164-151 120z" color="#481a6c"/>
<path d="M13749 5148l100-298-119 84z" color="#365d8d"/>
<path d="M11404 3480l117-65-21-34z" color="#28ae80"/>
<path d="M9941 3293l120 78-139-213z" color="#32b67a"/>
<path d="M12410 4705l112 219-24-59z" color="#32658e"/>
<path d="M12231 4224l112 212-21-143z" color="#26818e"/>
<path d="M9446 2103l121 96-140-220z" color="#c5e021"/>
<path d="M13607 5093l106-413-116 9z" color="#31668e"/>
<path d="M12051 3744l114 137-21-98z" color="#1e9b8a"/>
<path d="M13769 5340l125-192-145 0z" color="#3c508b"/>
<path d="M10511 4061l117 12-19-95z" color="#218f8d"/>
<path d="M13607 5093l-10-404-118 52z" color="#32658e"/>
<path d="M13411 6244l-27-29-113-52z" color="#460b5e"/>
<path d="M12840 3655l112-711-131 489z" color="#2db27d"/>
<path d="M9287 1757l104-32-65-53-42 65z" color="#f8e621"/>
<path d="M9782 2928l102-33-121-97z" color="#5ac864"/>
<path d="M11521 3415l117-29-138-5z" color="#2ab07f"/>
<path d="M9326 1672l-55 6 13 59z" color="#fde725"/>
<path d="M10374 3938l-19-105-118-40z" color="#1f988b"/>
<path d="M13384 1748l91-82-116 12z" color="#fde725"/>
<path d="M12681 5176l-24-40-111-173z" color="#38588c"/>
<path d="M9960 3427l120 72-19-128z" color="#28ae80"/>
<path d="M11191 3725l117-112-137 50z" color="#1fa287"/>
<path d="M13791 5491l103-343-125 192z" color="#3e4989"/>
<path d="M12909 2144l112-357-28-55z" color="#e5e419"/>
<path d="M8800 1727l118-12-132-58z" color="#fde725"/>
<path d="M12853 2750l129-436-25-35z" color="#93d741"/>
<path d="M9427 1979l-18-126-122-96z" color="#e7e419"/>
<path d="M9922 3158l-19-133-121-97z" color="#4ac16d"/>
<path d="M12821 3433l131-489-152 323z" color="#38b977"/>
<path d="M13084 4592l124-251-146 89z" color="#297a8e"/>
<path d="M10978 3979l117-90-20-61z" color="#1f968b"/>
<path d="M13716 5869l126-205-152 137z" color="#472c7a"/>
<path d="M10237 3793l-19-115-119-55z" color="#1fa188"/>
<path d="M12209 4110l113 183-135-301z" color="#238a8d"/>
<path d="M9464 2226l122 96-19-123z" color="#b0dd2f"/>
<path d="M13134 5993l-24-68-110-160z" color="#482475"/>
<path d="M12863 3756l130-452-153 351z" color="#22a785"/>
<path d="M13384 1748l-25-70-116 12z" color="#fde725"/>
<path d="M10881 4117l-19-80-117 30z" color="#218e8d"/>
<path d="M13648 6111l-28-32-120 106z" color="#471365"/>
<path d="M13243 4879l-16-311-122 193z" color="#2f6c8e"/>
<path d="M13105 4761l103-420-124 251z" color="#2b748e"/>
<path d="M10511 4061l-19-97-118-26z" color="#20928c"/>
<path d="M12051 3744l93 39-115-117z" color="#1fa088"/>
<path d="M13500 1736l116-13-141-57z" color="#fde725"/>
<path d="M11776 3435l94 20-116-54z" color="#28ae80"/>
<path d="M13749 5148l123-155-23-143z" color="#365d8d"/>
<path d="M13411 6244l117-30-28-29z" color="#470d60"/>
<path d="M9960 3427l101-56-120-78z" color="#2db27d"/>
<path d="M12985 1718l26-3-33-14z" color="#fde725"/>
<path d="M11308 3613l96-133-116 88z" color="#23a983"/>
<path d="M13730 4934l119-84-136-170z" color="#31678e"/>
<path d="M10881 4117l97-138-116 58z" color="#21908d"/>
<path d="M9284 1737l-13-59-118 12 127 55z" color="#fde725"/>
<path d="M12365 4555l-22-119-112-212z" color="#287d8e"/>
<path d="M13842 5664l-26-69-126 206z" color="#46337f"/>
<path d="M13384 1748l116-12-25-70z" color="#fde725"/>
<path d="M12879 2762l129-439-155 427z" color="#7fd34e"/>
<path d="M10647 4162l98-95-117 6z" color="#228d8d"/>
<path d="M9464 2226l103-27-121-96z" color="#bddf26"/>
<path d="M12865 5515l111 178-24-92z" color="#443983"/>
<path d="M11776 3435l116 68-22-48z" color="#27ad81"/>
<path d="M12410 4705l88 160-111-221z" color="#2f6c8e"/>
<path d="M11211 3771l-20-46-116 103z" color="#1f9e89"/>
<path d="M12993 1732l18-17-26 3z" color="#fde725"/>
<path d="M9051 1772l102-82-117 12z" color="#fde725"/>
<path d="M9623 2570l121 101-140-225z" color="#86d549"/>
<path d="M13152 1773l91-83-116 13z" color="#fde725"/>
<path d="M10099 3623l-19-124-120-72z" color="#25ab82"/>
<path d="M13894 5148l-22-155-123 155z" color="#38598c"/>
<path d="M11914 3556l115 110-22-69z" color="#22a785"/>
<path d="M13528 6214l120-103-148 74z" color="#471164"/>
<path d="M12884 3919l109-615-130 452z" color="#20a486"/>
<path d="M11914 3556l93 41-115-94z" color="#24aa83"/>
<path d="M12187 3992l-22-111-114-137z" color="#1f998a"/>
<path d="M9604 2446l-18-124-122-96z" color="#a8db34"/>
<path d="M13849 4850l-19-200-117 30z" color="#2e6d8e"/>
<path d="M10255 3902l119 36-137-145z" color="#1f998a"/>
<path d="M10765 4153l116-36-136-50z" color="#228d8d"/>
<path d="M9641 2694l122 104-19-127z" color="#73d056"/>
<path d="M9051 1772l-15-70-118 13z" color="#fde725"/>
<path d="M13152 1773l-25-70-116 12z" color="#fde725"/>
<path d="M12231 4224l91 69-113-183z" color="#23888e"/>
<path d="M12932 2229l118-372-2-6-139 293z" color="#d5e21a"/>
<path d="M11095 3889l116-118-136 57z" color="#1e9c89"/>
<path d="M10647 4162l-19-89-117-12z" color="#218e8d"/>
<path d="M10647 4162l118-9-20-86z" color="#228d8d"/>
<path d="M13268 1760l116-12-141-58z" color="#fde725"/>
<path d="M13243 4879l119-89-17-282z" color="#2e6e8e"/>
<path d="M10118 3743l119 50-138-170z" color="#1fa187"/>
<path d="M12706 5221l111 156-136-201z" color="#3c508b"/>
<path d="M9169 1760l108-11 3-4-127-55z" color="#fde725"/>
<path d="M13849 4850l118-50-18-226z" color="#2e6d8e"/>
<path d="M13849 4850l100-276-119 76z" color="#2d708e"/>
<path d="M11776 3435l-22-34-116-15z" color="#2cb17e"/>
<path d="M13160 6043l111 120-137-170z" color="#481a6c"/>
<path d="M9305 1885l122 94-140-222z" color="#ece51b"/>
<path d="M9801 3063l121 95-140-230z" color="#4cc26c"/>
<path d="M10393 4038l118 23-137-123z" color="#20928c"/>
<path d="M13021 1787l-112 357 139-293z" color="#e5e419"/>
<path d="M12865 5515l87 86-111-150z" color="#423f85"/>
<path d="M9820 3203l121 90-19-135z" color="#3bbb75"/>
<path d="M9051 1772l118-12-16-70z" color="#fde725"/>
<path d="M13152 1773l116-13-25-70z" color="#fde725"/>
<path d="M9287 1757l-3-20-4 8z" color="#fde725"/>
<path d="M10881 4117l117-70-20-68z" color="#20928c"/>
<path d="M13713 4680l117-30-18-233z" color="#2b758e"/>
<path d="M13791 5491l126-207-23-136z" color="#3d4d8a"/>
<path d="M9277 1749l10 8-7-12z" color="#fde725"/>
<path d="M13992 4900l-25-100-118 50z" color="#31688e"/>
<path d="M13105 4761l122-193-19-227z" color="#2a778e"/>
<path d="M8815 1797l103-82-118 12z" color="#fde725"/>
<path d="M9641 2694l103-23-121-101z" color="#7fd34e"/>
<path d="M9324 2011l122 92-19-124z" color="#d5e21a"/>
<path d="M13062 4430l110-598-127 328z" color="#228d8d"/>
<path d="M13298 6199l113 45-140-81z" color="#471164"/>
<path d="M13243 4879l102-371-118 60z" color="#2c728e"/>
<path d="M13713 4680l99-263-118 57z" color="#29798e"/>
<path d="M13362 4790l117-49-134-233z" color="#2d718e"/>
<path d="M13872 4993l120-93-143-50z" color="#32648e"/>
<path d="M13597 4689l116-9-135-204z" color="#2b748e"/>
<path d="M12546 4963l-24-39-112-219z" color="#31678e"/>
<path d="M13713 4680l-19-206-116 2z" color="#2a788e"/>
<path d="M13479 4741l118-52-19-213z" color="#2c738e"/>
<path d="M9266 1764l21-7-10-8z" color="#fde725"/>
<path d="M9782 2928l-19-130-122-104z" color="#69cd5b"/>
<path d="M13816 5595l126-215-151 111z" color="#414287"/>
<path d="M13830 4650l119-76-137-157z" color="#2a788e"/>
<path d="M11211 3771l97-158-117 112z" color="#20a386"/>
<path d="M13648 6111l96-196-124 164z" color="#481d6f"/>
<path d="M13021 1787l15-2-25-70-18 17z" color="#fde725"/>
<path d="M11542 3441l-21-26-117 65z" color="#2ab07f"/>
<path d="M13526 1806l90-83-116 13z" color="#fde725"/>
<path d="M9979 3558l120 65-139-196z" color="#25ac82"/>
<path d="M11114 3938l-19-49-117 90z" color="#1f978b"/>
<path d="M11308 3613l117-100-21-33z" color="#25ac82"/>
<path d="M9820 3203l102-45-121-95z" color="#44bf70"/>
<path d="M8933 1785l118-13-133-57z" color="#fde725"/>
<path d="M13036 1785l116-12-141-58z" color="#fde725"/>
<path d="M13744 5915l98-251-126 205z" color="#472d7b"/>
<path d="M12800 3267l130-469-24-66z" color="#5cc863"/>
<path d="M10136 3857l119 45-18-109z" color="#1e9c89"/>
<path d="M9960 3427l-19-134-121-90z" color="#35b779"/>
<path d="M9324 2011l103-32-122-94z" color="#e2e418"/>
<path d="M11542 3441l96-55-117 29z" color="#2db27d"/>
<path d="M10274 4006l100-68-119-36z" color="#1f978b"/>
<path d="M13208 4341l-18-240-128 329z" color="#25858e"/>
<path d="M10530 4154l117 8-136-101z" color="#218e8d"/>
<path d="M10136 3857l101-64-119-50z" color="#1f9f88"/>
<path d="M13479 4741l99-265-116 11z" color="#2a778e"/>
<path d="M13526 1806l-26-70-116 12z" color="#fde725"/>
<path d="M13000 5765l-24-72-111-178z" color="#453882"/>
<path d="M10274 4006l119 32-19-100z" color="#1f958b"/>
<path d="M13894 5148l98-248-120 93z" color="#34608d"/>
<path d="M8815 1797l118-12-15-70z" color="#fde725"/>
<path d="M13694 4474l118-57-137-176z" color="#26828e"/>
<path d="M13578 4476l116-2-19-233z" color="#26818e"/>
<path d="M13008 2323l-26-9-129 436z" color="#9bd93c"/>
<path d="M9482 2348l122 98-140-220z" color="#addc30"/>
<path d="M10998 4047l116-109-136 41z" color="#1f958b"/>
<path d="M13479 4741l-17-254-117 21z" color="#2a778e"/>
<path d="M12957 2279l95-416-2-6-118 372z" color="#d5e21a"/>
<path d="M9464 2226l-18-123-122-92z" color="#cde11d"/>
<path d="M12051 3744l-22-78-115-110z" color="#22a785"/>
<path d="M9998 3683l120 60-19-120z" color="#21a585"/>
<path d="M10784 4230l97-113-116 36z" color="#228d8d"/>
<path d="M13578 4476l-20-194-117 35z" color="#26828e"/>
<path d="M13526 1806l116-12-26-71z" color="#fde725"/>
<path d="M13942 5380l-25-96-126 207z" color="#3e4a89"/>
<path d="M10411 4133l100-72-118-23z" color="#20928c"/>
<path d="M9184 1830l82-66 11-15-108 11z" color="#fde725"/>
<path d="M11914 3556l-22-53-116-68z" color="#29af7f"/>
<path d="M13462 4487l116-11-137-159z" color="#27808e"/>
<path d="M13578 4476l97-235-117 41z" color="#25848e"/>
<path d="M13025 5822l109 171-134-228z" color="#472c7a"/>
<path d="M10784 4230l-19-77-118 9z" color="#228c8d"/>
<path d="M9226 1826l79 59-18-128-21 7z" color="#f8e621"/>
<path d="M12570 4994l111 182-135-213z" color="#355f8d"/>
<path d="M12730 5265l111 186-24-74z" color="#3e4c8a"/>
<path d="M9500 2468l123 102-19-124z" color="#98d83e"/>
<path d="M9998 3683l101-60-120-65z" color="#23a983"/>
<path d="M13293 1831l91-83-116 12z" color="#fde725"/>
<path d="M11425 3513l117-72-138 39z" color="#2ab07f"/>
<path d="M13556 6241l-28-27-117 30z" color="#471164"/>
<path d="M11659 3411l117 24-138-49z" color="#2fb47c"/>
<path d="M10411 4133l119 21-19-93z" color="#21908d"/>
<path d="M13345 4508l117-21-21-170z" color="#27808e"/>
<path d="M13345 4508l96-191-117 20z" color="#26828e"/>
<path d="M12073 3830l114 162-136-248z" color="#1f9e89"/>
<path d="M13949 4574l-15-286-122 129z" color="#27808e"/>
<path d="M12253 4325l112 230-134-331z" color="#25838e"/>
<path d="M11114 3938l97-167-116 118z" color="#1e9d89"/>
<path d="M9184 1830l-15-70-118 12z" color="#fde725"/>
<path d="M13293 1831l-25-71-116 13z" color="#fde725"/>
<path d="M13227 4568l118-60-137-167z" color="#277e8e"/>
<path d="M12275 4405l112 239-22-89z" color="#297b8e"/>
<path d="M13031 3777l-18-274-129 416z" color="#20a486"/>
<path d="M13409 1818l117-12-142-58z" color="#fde725"/>
<path d="M12952 2944l-22-146-130 469z" color="#58c765"/>
<path d="M13345 4508l-21-171-116 4z" color="#26828e"/>
<path d="M9660 2823l122 105-141-234z" color="#6ece58"/>
<path d="M10274 4006l-19-104-119-45z" color="#1f9a8a"/>
<path d="M13062 4430l128-329-18-269z" color="#21908d"/>
<path d="M9500 2468l104-22-122-98z" color="#a5db36"/>
<path d="M11017 4109l-19-62-117 70z" color="#20928c"/>
<path d="M11542 3441l117-30-21-25z" color="#2fb47c"/>
<path d="M13812 4417l-16-287-121 111z" color="#23898e"/>
<path d="M9679 2957l122 106-19-135z" color="#5ac864"/>
<path d="M9839 3344l121 83-140-224z" color="#37b878"/>
<path d="M13842 5664l100-284-126 215z" color="#414287"/>
<path d="M13556 6241l92-130-120 103z" color="#481668"/>
<path d="M12730 5265l87 112-111-156z" color="#3b528b"/>
<path d="M13894 5148l123-147-25-101z" color="#33628d"/>
<path d="M12095 3921l114 189-22-118z" color="#1f968b"/>
<path d="M10784 4230l117-42-20-71z" color="#218e8d"/>
<path d="M12840 3655l133-552-21-159z" color="#3fbc73"/>
<path d="M13186 6086l112 113-27-36z" color="#481a6c"/>
<path d="M13441 4317l117-35-16-283z" color="#228d8d"/>
<path d="M12906 2732l102-409-129 439z" color="#8bd646"/>
<path d="M13293 1831l116-13-25-70z" color="#fde725"/>
<path d="M12993 3304l-20-201-133 552z" color="#35b779"/>
<path d="M13186 6086l85 77-111-120z" color="#481d6f"/>
<path d="M10136 3857l-18-114-120-60z" color="#20a386"/>
<path d="M9858 3482l121 76-19-131z" color="#2ab07f"/>
<path d="M13324 4337l117-20-134-253z" color="#238a8d"/>
<path d="M13558 4282l117-41-133-242z" color="#218e8d"/>
<path d="M10411 4133l-18-95-119-32z" color="#20938c"/>
<path d="M10548 4244l99-82-117-8z" color="#228d8d"/>
<path d="M9641 2694l-18-124-123-102z" color="#90d743"/>
<path d="M10666 4247l118-17-137-68z" color="#228c8d"/>
<path d="M11211 3771l117-124-20-34z" color="#22a785"/>
<path d="M8948 1855l103-83-118 13z" color="#fde725"/>
<path d="M13060 1856l92-83-116 12z" color="#fde725"/>
<path d="M9184 1830l42-4 40-62z" color="#fde725"/>
<path d="M13208 4341l116-4-17-273z" color="#228b8d"/>
<path d="M9342 2133l122 93-140-215z" color="#d2e21b"/>
<path d="M10901 4188l116-79-136 8z" color="#21918c"/>
<path d="M13045 4160l127-328-141-55z" color="#1e9b8a"/>
<path d="M8948 1855l-15-70-118 12z" color="#fde725"/>
<path d="M12884 3919l129-416-20-199z" color="#26ad81"/>
<path d="M9858 3482l102-55-121-83z" color="#31b57b"/>
<path d="M9324 2011l-19-126-79-59-11 18z" color="#f4e61e"/>
<path d="M9820 3203l-19-140-122-106z" color="#52c569"/>
<path d="M10548 4244l118 3-19-85z" color="#228c8d"/>
<path d="M9679 2957l103-29-122-105z" color="#65cb5e"/>
<path d="M13324 6233l87 11-113-45z" color="#481668"/>
<path d="M9066 1843l118-13-133-58z" color="#fde725"/>
<path d="M13176 1843l117-12-141-58z" color="#fde725"/>
<path d="M13439 6273l117-32-145 3z" color="#471365"/>
<path d="M13441 4317l-17-269-117 16z" color="#21918c"/>
<path d="M13441 4317l101-318-118 49z" color="#20928c"/>
<path d="M13917 5284l126-186-149 50z" color="#375a8c"/>
<path d="M13648 6111l124-163-28-33z" color="#482677"/>
<path d="M11017 4109l97-171-116 109z" color="#1f968b"/>
<path d="M13060 1856l-24-71-15 2 27 64z" color="#fde725"/>
<path d="M13050 5869l110 174-26-50z" color="#482878"/>
<path d="M13668 1864l-26-70-116 12z" color="#fde725"/>
<path d="M9360 2253l122 95-18-122z" color="#bddf26"/>
<path d="M10548 4244l-18-90-119-21z" color="#218f8d"/>
<path d="M11445 3538l-20-25-117 100z" color="#28ae80"/>
<path d="M8948 1855l118-12-15-71z" color="#fde725"/>
<path d="M9998 3683l-19-125-121-76z" color="#27ad81"/>
<path d="M13060 1856l116-13-24-70z" color="#fde725"/>
<path d="M10155 3966l119 40-138-149z" color="#1e9b8a"/>
<path d="M12095 3921l92 71-114-162z" color="#1e9d89"/>
<path d="M12231 4224l-22-114-114-189z" color="#20938c"/>
<path d="M12275 4405l90 150-112-230z" color="#26828e"/>
<path d="M13208 4341l99-277-117 37z" color="#21908d"/>
<path d="M13744 5915l126-206-28-45z" color="#453781"/>
<path d="M12594 5023l112 198-25-45z" color="#365d8d"/>
<path d="M11936 3615l115 129-137-188z" color="#25ab82"/>
<path d="M11797 3473l117 83-138-121z" color="#2db27d"/>
<path d="M12865 5515l-24-64-111-186z" color="#3d4d8a"/>
<path d="M13324 6233l115 40-28-29z" color="#481467"/>
<path d="M10293 4108l118 25-137-127z" color="#1f948c"/>
<path d="M9226 1826l-42 4 31 14z" color="#fde725"/>
<path d="M13675 4241l-14-322-119 80z" color="#1f968b"/>
<path d="M14043 5098l-26-97-123 147z" color="#34608d"/>
<path d="M10017 3801l119 56-138-174z" color="#20a486"/>
<path d="M13050 5869l84 124-109-171z" color="#472e7c"/>
<path d="M9360 2253l104-27-122-93z" color="#cae11f"/>
<path d="M12410 4705l-23-61-112-239z" color="#297b8e"/>
<path d="M13434 1889l92-83-117 12z" color="#fde725"/>
<path d="M12957 2279l115-351-20-65z" color="#e5e419"/>
<path d="M12434 4745l112 218-136-258z" color="#2d708e"/>
<path d="M11114 3938l117-134-20-33z" color="#1fa187"/>
<path d="M8830 1868l118-13-133-58z" color="#fde725"/>
<path d="M11328 3647l117-109-137 75z" color="#27ad81"/>
<path d="M12890 5567l110 198-135-250z" color="#424186"/>
<path d="M13812 4417l122-129-13-335z" color="#218e8d"/>
<path d="M13812 4417l109-464-125 177z" color="#21918c"/>
<path d="M9519 2588l122 106-141-226z" color="#95d840"/>
<path d="M13434 1889l-25-71-116 13z" color="#fde725"/>
<path d="M12594 5023l87 153-111-182z" color="#33628d"/>
<path d="M11445 3538l97-97-117 72z" color="#2eb37c"/>
<path d="M13556 6241l121-102-29-28z" color="#481c6e"/>
<path d="M10685 4324l99-94-118 17z" color="#228c8d"/>
<path d="M9500 2468l-18-120-122-95z" color="#b5de2b"/>
<path d="M9717 3247l122 97-19-141z" color="#42be71"/>
<path d="M13942 5380l101-282-126 186z" color="#38588c"/>
<path d="M13551 1877l117-13-142-58z" color="#fde725"/>
<path d="M11680 3437l96-2-117-24z" color="#34b679"/>
<path d="M9215 1844l-31-14 10 46z" color="#fde725"/>
<path d="M10920 4241l-19-53-117 42z" color="#218e8d"/>
<path d="M10430 4230l118 14-137-111z" color="#21908d"/>
<path d="M9698 3099l122 104-141-246z" color="#56c667"/>
<path d="M9537 2711l123 112-19-129z" color="#7fd34e"/>
<path d="M13050 1857l10-1-12-5z" color="#fde725"/>
<path d="M9201 1922l123 89-109-167-21 32z" color="#f6e620"/>
<path d="M13675 4241l121-111-12-357z" color="#1f978b"/>
<path d="M13434 1889l117-12-25-71z" color="#fde725"/>
<path d="M13052 1863l8-7-10 1z" color="#fde725"/>
<path d="M10174 4074l100-68-119-40z" color="#1f998a"/>
<path d="M9877 3612l121 71-140-201z" color="#28ae80"/>
<path d="M10685 4324l-19-77-118-3z" color="#228c8d"/>
<path d="M10035 3915l120 51-19-109z" color="#1f9f88"/>
<path d="M13190 4101l117-37-135-232z" color="#1f9a8a"/>
<path d="M10174 4074l119 34-19-102z" color="#1f978b"/>
<path d="M9219 2045l123 88-18-122z" color="#e2e418"/>
<path d="M9082 1914l102-84-118 13z" color="#fde725"/>
<path d="M11680 3437l-21-26-117 30z" color="#34b679"/>
<path d="M13201 1914l92-83-117 12z" color="#fde725"/>
<path d="M10035 3915l101-58-119-56z" color="#1fa187"/>
<path d="M10920 4241l97-132-116 79z" color="#21918c"/>
<path d="M13842 5664l128-223-28-61z" color="#3e4a89"/>
<path d="M13324 6233l-26-34-112-113z" color="#481d6f"/>
<path d="M9858 3482l-19-138-122-97z" color="#3bbb75"/>
<path d="M11017 4109l117-129-20-42z" color="#1f9a8a"/>
<path d="M13307 4064l117-16-15-325z" color="#1e9d89"/>
<path d="M13424 4048l118-49-133-276z" color="#1f9f88"/>
<path d="M11958 3678l115 152-22-86z" color="#22a785"/>
<path d="M10312 4211l99-78-118-25z" color="#20928c"/>
<path d="M11680 3437l117 36-21-38z" color="#34b679"/>
<path d="M9717 3247l103-44-122-104z" color="#4cc26c"/>
<path d="M13675 4241l109-468-123 146z" color="#1e9c89"/>
<path d="M9082 1914l-16-71-118 12z" color="#fde725"/>
<path d="M10685 4324l118-28-19-66z" color="#228c8d"/>
<path d="M13201 1914l-25-71-116 13z" color="#fde725"/>
<path d="M11348 3669l-20-22-117 124z" color="#24aa83"/>
<path d="M9537 2711l104-17-122-106z" color="#8ed645"/>
<path d="M13318 1902l116-13-141-58z" color="#fde725"/>
<path d="M10312 4211l118 19-19-97z" color="#21918c"/>
<path d="M10803 4296l117-55-136-11z" color="#218e8d"/>
<path d="M9896 3734l121 67-19-118z" color="#22a884"/>
<path d="M9219 2045l105-34-123-89z" color="#efe51c"/>
<path d="M9679 2957l-19-134-123-112z" color="#77d153"/>
<path d="M12915 5611l110 211-25-57z" color="#443b84"/>
<path d="M13072 1928l-115 351 135-288z" color="#e5e419"/>
<path d="M9082 1914l93-10 19-28-10-46z" color="#fde725"/>
<path d="M13201 1914l117-12-25-71z" color="#fde725"/>
<path d="M12982 2314l112-315-2-8-135 288z" color="#dae319"/>
<path d="M11958 3678l93 66-115-129z" color="#25ac82"/>
<path d="M13186 6086l-26-43-110-174z" color="#472a7a"/>
<path d="M12458 4774l112 220-24-31z" color="#2e6d8e"/>
<path d="M9896 3734l102-51-121-71z" color="#25ac82"/>
<path d="M11231 3804l117-135-137 102z" color="#22a884"/>
<path d="M13466 6304l90-63-117 32z" color="#481769"/>
<path d="M8844 1939l104-84-118 13z" color="#fde725"/>
<path d="M10567 4333l118-9-137-80z" color="#228c8d"/>
<path d="M9360 2253l-18-120-123-88z" color="#dae319"/>
<path d="M13772 5948l127-207-155 174z" color="#463480"/>
<path d="M13801 5975l-29-27-124 163z" color="#472a7a"/>
<path d="M9175 1904l26 18-7-46z" color="#fbe723"/>
<path d="M9378 2369l122 99-140-215z" color="#bade28"/>
<path d="M11445 3538l118-74-21-23z" color="#32b67a"/>
<path d="M13307 4064l-15-314-120 82z" color="#1fa187"/>
<path d="M10449 4329l99-85-118-14z" color="#218e8d"/>
<path d="M11819 3516l95 40-117-83z" color="#2fb47c"/>
<path d="M12730 5265l-24-44-112-198z" color="#355f8d"/>
<path d="M10174 4074l-19-108-120-51z" color="#1e9d89"/>
<path d="M11819 3516l117 99-22-59z" color="#2db27d"/>
<path d="M13072 1928l12-1-24-71-8 7z" color="#fde725"/>
<path d="M13899 5741l-29-32-126 206z" color="#443983"/>
<path d="M13677 6139l124-164-153 136z" color="#482677"/>
<path d="M12117 4011l114 213-136-303z" color="#1f998a"/>
<path d="M10312 4211l-19-103-119-34z" color="#1f958b"/>
<path d="M13577 1947l91-83-117 13z" color="#fde725"/>
<path d="M13542 3999l119-80-14-333z" color="#20a486"/>
<path d="M11563 3464l117-27-138 4z" color="#35b779"/>
<path d="M8963 1926l119-12-134-59z" color="#fde725"/>
<path d="M13084 1927l117-13-141-58z" color="#fde725"/>
<path d="M13307 4064l102-341-117 27z" color="#20a486"/>
<path d="M10449 4329l118 4-19-89z" color="#228d8d"/>
<path d="M12139 4095l114 230-22-101z" color="#20928c"/>
<path d="M12915 5611l85 154-110-198z" color="#414487"/>
<path d="M9737 3394l121 88-141-235z" color="#3dbc74"/>
<path d="M13466 6304l-27-31-115-40z" color="#481a6c"/>
<path d="M9395 2483l124 105-19-120z" color="#a8db34"/>
<path d="M13542 3999l-14-332-119 56z" color="#22a785"/>
<path d="M10035 3915l-18-114-121-67z" color="#21a685"/>
<path d="M13577 1947l-26-70-117 12z" color="#fde725"/>
<path d="M12458 4774l88 189-112-218z" color="#2c718e"/>
<path d="M13796 4130l125-177-137-180z" color="#1f9f88"/>
<path d="M10920 4241l117-92-20-40z" color="#1f948c"/>
<path d="M9756 3529l121 83-19-130z" color="#2fb47c"/>
<path d="M8844 1939l119-13-15-71z" color="#fde725"/>
<path d="M11251 3827l-20-23-117 134z" color="#20a486"/>
<path d="M11348 3669l97-131-117 109z" color="#2ab07f"/>
<path d="M13942 5380l128-209-27-73z" color="#365d8d"/>
<path d="M12095 3921l-22-91-115-152z" color="#21a685"/>
<path d="M13172 3832l-15-344-126 289z" color="#25ac82"/>
<path d="M12755 5305l110 210-135-250z" color="#39558c"/>
<path d="M10449 4329l-19-99-118-19z" color="#21908d"/>
<path d="M13870 5709l128-227-156 182z" color="#404688"/>
<path d="M9575 2980l123 119-19-142z" color="#65cb5e"/>
<path d="M11134 3980l117-153-137 111z" color="#1fa187"/>
<path d="M9219 2045l-18-123-26-18-25 40z" color="#f8e621"/>
<path d="M13577 1947l116-12-25-71z" color="#fde725"/>
<path d="M9556 2840l123 117-142-246z" color="#7cd250"/>
<path d="M9395 2483l105-15-122-99z" color="#b5de2b"/>
<path d="M13705 6167l-28-28-121 102z" color="#482071"/>
<path d="M13542 3999l105-413-119 81z" color="#24aa83"/>
<path d="M9175 1904l-93 10 68 30z" color="#fde725"/>
<path d="M13343 1973l91-84-116 13z" color="#fde725"/>
<path d="M9756 3529l102-47-121-88z" color="#37b878"/>
<path d="M13466 6304l118-34-28-29z" color="#481b6d"/>
<path d="M13031 3777l108-536-126 262z" color="#34b679"/>
<path d="M12298 4464l112 241-135-300z" color="#26828e"/>
<path d="M13998 5482l-28-41-128 223z" color="#3e4c8a"/>
<path d="M10822 4350l-19-54-118 28z" color="#228d8d"/>
<path d="M10054 4028l120 46-139-159z" color="#1f9e89"/>
<path d="M12930 2798l128-378-152 312z" color="#98d83e"/>
<path d="M10192 4182l120 29-138-137z" color="#1f958b"/>
<path d="M9237 2164l123 89-141-208z" color="#dfe318"/>
<path d="M12906 2732l129-425-27 16z" color="#b2dd2d"/>
<path d="M13343 1973l-25-71-117 12z" color="#fde725"/>
<path d="M10822 4350l98-109-117 55z" color="#218f8d"/>
<path d="M9537 2711l-18-123-124-105z" color="#a0da39"/>
<path d="M10586 4415l99-91-118 9z" color="#228c8d"/>
<path d="M11819 3516l-22-43-117-36z" color="#37b878"/>
<path d="M9717 3247l-19-148-123-119z" color="#5cc863"/>
<path d="M9896 3734l-19-122-121-83z" color="#2cb17e"/>
<path d="M11154 4011l-20-31-117 129z" color="#1e9c89"/>
<path d="M13460 1960l117-13-143-58z" color="#fde725"/>
<path d="M13212 6128l112 105-138-147z" color="#482475"/>
<path d="M13661 3919l123-146-137-187z" color="#24aa83"/>
<path d="M12139 4095l92 129-114-213z" color="#1f998a"/>
<path d="M13050 5869l-25-47-110-211z" color="#433e85"/>
<path d="M13008 2323l86-312 0-12-112 315z" color="#dfe318"/>
<path d="M9575 2980l104-23-123-117z" color="#73d056"/>
<path d="M13584 6270l121-103-149 74z" color="#481f70"/>
<path d="M9915 3852l120 63-139-181z" color="#22a785"/>
<path d="M13172 3832l120-82-17-280z" color="#28ae80"/>
<path d="M13343 1973l117-13-26-71z" color="#fde725"/>
<path d="M10330 4315l119 14-137-118z" color="#21908d"/>
<path d="M11037 4149l117-138-137 98z" color="#1f9a8a"/>
<path d="M12275 4405l-22-80-114-230z" color="#21918c"/>
<path d="M9254 2278l124 91-18-116z" color="#cde11d"/>
<path d="M10586 4415l-19-82-118-4z" color="#228c8d"/>
<path d="M8978 1997l104-83-119 12z" color="#fde725"/>
<path d="M13109 1998l92-84-117 13z" color="#fde725"/>
<path d="M11958 3678l-22-63-117-99z" color="#2eb37c"/>
<path d="M13013 3503l126-262-146 63z" color="#44bf70"/>
<path d="M13292 3750l117-27-134-253z" color="#2ab07f"/>
<path d="M9125 1982l94 63-69-101z" color="#f8e621"/>
<path d="M12594 5023l-24-29-112-220z" color="#2d708e"/>
<path d="M13970 5441l128-222-156 161z" color="#38598c"/>
<path d="M10586 4415l118-23-19-68z" color="#228c8d"/>
<path d="M10704 4392l118-42-137-26z" color="#228d8d"/>
<path d="M11251 3827l97-158-117 135z" color="#25ab82"/>
<path d="M12780 5339l110 228-25-52z" color="#3b518b"/>
<path d="M8978 1997l-15-71-119 13z" color="#fde725"/>
<path d="M13351 6270l115 34-142-71z" color="#481d6f"/>
<path d="M12321 4506l113 239-24-40z" color="#277e8e"/>
<path d="M9254 2278l106-25-123-89z" color="#d8e219"/>
<path d="M9097 1985l28-3 25-38-68-30z" color="#fde725"/>
<path d="M10073 4140l119 42-18-108z" color="#1f988b"/>
<path d="M13226 1985l117-12-142-59z" color="#fde725"/>
<path d="M10073 4140l101-66-120-46z" color="#1e9b8a"/>
<path d="M13801 5975l98-234-127 207z" color="#453882"/>
<path d="M12952 2944l106-524-128 378z" color="#90d743"/>
<path d="M9614 3287l123 107-20-147z" color="#48c16e"/>
<path d="M10211 4291l101-80-120-29z" color="#20938c"/>
<path d="M11584 3483l-21-19-118 74z" color="#37b878"/>
<path d="M13109 1998l-25-71-12 1 20 63z" color="#fde725"/>
<path d="M13031 3777l126-289-18-247z" color="#37b878"/>
<path d="M11348 3669l118-113-21-18z" color="#2fb47c"/>
<path d="M13076 5915l110 171-136-217z" color="#46337f"/>
<path d="M13719 2006l-26-71-116 12z" color="#fde725"/>
<path d="M14098 5219l-28-48-128 209z" color="#355f8d"/>
<path d="M10211 4291l119 24-18-104z" color="#20928c"/>
<path d="M9933 3969l121 59-19-113z" color="#1fa187"/>
<path d="M13409 3723l119-56-16-309z" color="#31b57b"/>
<path d="M13172 3832l103-362-118 18z" color="#2fb47c"/>
<path d="M8978 1997l119-12-15-71z" color="#fde725"/>
<path d="M13109 1998l117-13-25-71z" color="#fde725"/>
<path d="M10822 4350l117-69-19-40z" color="#21918c"/>
<path d="M13705 6167l96-192-124 164z" color="#472a7a"/>
<path d="M11584 3483l96-46-117 27z" color="#3bbb75"/>
<path d="M9933 3969l102-54-120-63z" color="#20a486"/>
<path d="M9775 3654l121 80-140-205z" color="#2db27d"/>
<path d="M9594 3132l123 115-142-267z" color="#5ec962"/>
<path d="M11056 4178l-19-29-117 92z" color="#1f968b"/>
<path d="M13409 3723l-16-288-118 35z" color="#34b679"/>
<path d="M10468 4423l118-8-137-86z" color="#228c8d"/>
<path d="M9395 2483l-17-114-124-91z" color="#c5e021"/>
<path d="M9413 2597l124 114-142-228z" color="#a5db36"/>
<path d="M11980 3745l115 176-137-243z" color="#25ac82"/>
<path d="M10349 4418l100-89-119-14z" color="#218f8d"/>
<path d="M9114 2082l123 82-18-119z" color="#ece51b"/>
<path d="M9756 3529l-19-135-123-107z" color="#40bd72"/>
<path d="M12780 5339l85 176-110-210z" color="#38588c"/>
<path d="M12619 5049l111 216-136-242z" color="#31678e"/>
<path d="M13899 5741l99-259-128 227z" color="#3f4889"/>
<path d="M11702 3468l117 48-139-79z" color="#3bbb75"/>
<path d="M13485 2031l92-84-117 13z" color="#fde725"/>
<path d="M11154 4011l97-184-117 153z" color="#20a386"/>
<path d="M13921 3953l-11-378-126 198z" color="#26ad81"/>
<path d="M13528 3667l119-81-135-228z" color="#35b779"/>
<path d="M8859 2010l119-13-134-58z" color="#fde725"/>
<path d="M13409 3723l103-365-119 77z" color="#38b977"/>
<path d="M9431 2716l125 124-19-129z" color="#90d743"/>
<path d="M12973 3103l129-367-150 208z" color="#7ad151"/>
<path d="M9614 3287l103-40-123-115z" color="#56c667"/>
<path d="M12321 4506l89 199-112-241z" color="#25848e"/>
<path d="M12993 3304l109-568-129 367z" color="#69cd5b"/>
<path d="M9793 3776l122 76-19-118z" color="#25ac82"/>
<path d="M13058 2420l-23-113-129 425z" color="#b8de29"/>
<path d="M10349 4418l119 5-19-94z" color="#228d8d"/>
<path d="M11466 3556l118-73-139 55z" color="#37b878"/>
<path d="M13485 2031l-25-71-117 13z" color="#fde725"/>
<path d="M10939 4281l117-103-136 63z" color="#1f958b"/>
<path d="M10211 4291l-19-109-119-42z" color="#1f968b"/>
<path d="M13602 2019l117-13-142-59z" color="#fde725"/>
<path d="M9114 2082l105-37-94-63-21 36z" color="#f8e621"/>
<path d="M13784 3773l-13-338-124 151z" color="#32b67a"/>
<path d="M13612 6300l-28-30-118 34z" color="#481f70"/>
<path d="M9125 1982l-28 3 7 33z" color="#fde725"/>
<path d="M10073 4140l-19-112-121-59z" color="#1f9f88"/>
<path d="M9793 3776l103-42-121-80z" color="#29af7f"/>
<path d="M13094 1999l15-1-17-7z" color="#fde725"/>
<path d="M13238 6173l86 60-112-105z" color="#482677"/>
<path d="M13485 2031l117-12-25-72z" color="#fde725"/>
<path d="M13238 6173l113 97-27-37z" color="#482475"/>
<path d="M10349 4418l-19-103-119-24z" color="#21918c"/>
<path d="M12002 3814l115 197-22-90z" color="#21a685"/>
<path d="M11584 3483l118-15-22-31z" color="#3dbc74"/>
<path d="M13094 2011l15-13-15 1z" color="#fde725"/>
<path d="M13008 2323l112-252-26-60z" color="#ece51b"/>
<path d="M9431 2716l106-5-124-114z" color="#9dd93b"/>
<path d="M9575 2980l-19-140-125-124z" color="#86d549"/>
<path d="M13251 2056l92-83-117 12z" color="#fde725"/>
<path d="M10723 4452l-19-60-118 23z" color="#228d8d"/>
<path d="M10723 4452l99-102-118 42z" color="#218e8d"/>
<path d="M9254 2278l-17-114-123-82z" color="#e7e419"/>
<path d="M11841 3559l117 119-139-162z" color="#34b679"/>
<path d="M13275 3470l118-35-19-239z" color="#48c16e"/>
<path d="M11056 4178l98-167-117 138z" color="#1e9c89"/>
<path d="M13139 3241l-19-237-127 300z" color="#5cc863"/>
<path d="M13102 5965l110 163-26-42z" color="#46307e"/>
<path d="M13612 6300l93-133-121 103z" color="#482475"/>
<path d="M9104 2018l-7-33-119 12 109 48z" color="#fde725"/>
<path d="M11251 3827l118-144-21-14z" color="#2ab07f"/>
<path d="M13998 5482l100-263-128 222z" color="#375b8d"/>
<path d="M13251 2056l-25-71-117 13z" color="#fde725"/>
<path d="M10487 4511l99-96-118 8z" color="#228b8d"/>
<path d="M13157 3488l118-18-136-229z" color="#46c06f"/>
<path d="M9933 3969l-18-117-122-76z" color="#23a983"/>
<path d="M12915 5611l-25-44-110-228z" color="#3a538b"/>
<path d="M9272 2387l123 96-141-205z" color="#cae11f"/>
<path d="M13647 3586l-15-296-120 68z" color="#44bf70"/>
<path d="M13368 2044l117-13-142-58z" color="#fde725"/>
<path d="M13393 3435l119-77-138-162z" color="#4ec36b"/>
<path d="M9633 3428l123 101-142-242z" color="#44bf70"/>
<path d="M13275 3470l99-274-118 27z" color="#52c569"/>
<path d="M12458 4774l-24-29-113-239z" color="#26818e"/>
<path d="M9652 3560l123 94-19-125z" color="#35b779"/>
<path d="M10091 4254l120 37-138-151z" color="#1f978b"/>
<path d="M13378 6307l88-3-115-34z" color="#482173"/>
<path d="M13102 5965l84 121-110-171z" color="#453581"/>
<path d="M13251 2056l117-12-25-71z" color="#fde725"/>
<path d="M13275 3470l-19-247-117 18z" color="#50c46a"/>
<path d="M12002 3814l93 107-115-176z" color="#25ac82"/>
<path d="M12162 4166l113 239-136-310z" color="#1f988b"/>
<path d="M12644 5071l111 234-25-40z" color="#32658e"/>
<path d="M12941 5651l109 218-135-258z" color="#3f4889"/>
<path d="M10487 4511l-19-88-119-5z" color="#228c8d"/>
<path d="M13494 6337l118-37-146 4z" color="#482071"/>
<path d="M10230 4400l119 18-138-127z" color="#21918c"/>
<path d="M8874 2081l104-84-119 13z" color="#fde725"/>
<path d="M9952 4085l121 55-140-171z" color="#1fa088"/>
<path d="M10605 4490l118-38-137-37z" color="#228c8d"/>
<path d="M10958 4311l-19-30-117 69z" color="#20938c"/>
<path d="M10487 4511l118-21-19-75z" color="#228b8d"/>
<path d="M13705 6167l125-166-29-26z" color="#46337f"/>
<path d="M9114 2082l-10-64-17 27z" color="#fbe723"/>
<path d="M11487 3567l-21-11-118 113z" color="#35b779"/>
<path d="M9289 2491l124 106-18-114z" color="#b8de29"/>
<path d="M13801 5975l127-210-29-24z" color="#424186"/>
<path d="M13120 2071l13-2-24-71-15 13z" color="#fde725"/>
<path d="M9652 3560l104-31-123-101z" color="#3dbc74"/>
<path d="M13628 2090l91-84-117 13z" color="#fde725"/>
<path d="M10723 4452l118-59-19-43z" color="#21908d"/>
<path d="M9470 3000l124 132-19-152z" color="#73d056"/>
<path d="M12952 2944l128-362-22-162z" color="#a8db34"/>
<path d="M13512 3358l-18-237-120 75z" color="#5cc863"/>
<path d="M12993 3304l127-300-18-268z" color="#75d054"/>
<path d="M13133 2069l118-13-142-58z" color="#fde725"/>
<path d="M13378 6307l116 30-28-33z" color="#482173"/>
<path d="M11154 4011l117-162-20-22z" color="#23a983"/>
<path d="M8993 2069l84-9 10-15-109-48z" color="#fde725"/>
<path d="M12139 4095l-22-84-115-197z" color="#21a585"/>
<path d="M9131 2198l123 80-140-196z" color="#eae51a"/>
<path d="M12482 4795l112 228-136-249z" color="#2a788e"/>
<path d="M13120 2071l-112 252 150-182z" color="#ece51b"/>
<path d="M13628 2090l-26-71-117 12z" color="#fde725"/>
<path d="M13647 3586l108-436-123 140z" color="#50c46a"/>
<path d="M13256 3223l118-27-136-216z" color="#67cc5c"/>
<path d="M12184 4222l114 242-23-59z" color="#20928c"/>
<path d="M11724 3493l95 23-117-48z" color="#3fbc73"/>
<path d="M9289 2491l106-8-123-96z" color="#c5e021"/>
<path d="M9793 3776l-18-122-123-94z" color="#31b57b"/>
<path d="M9077 2060l37 22-27-37z" color="#fbe723"/>
<path d="M13647 3586l124-151-16-285z" color="#4ac16d"/>
<path d="M8874 2081l119-12-15-72z" color="#fde725"/>
<path d="M9450 2848l125 132-144-264z" color="#8ed645"/>
<path d="M13102 2736l-22-154-128 362z" color="#9bd93c"/>
<path d="M12644 5071l86 194-111-216z" color="#2f6b8e"/>
<path d="M13139 3241l117-18-18-243z" color="#65cb5e"/>
<path d="M9614 3287l-20-155-124-132z" color="#67cc5c"/>
<path d="M9812 3896l121 73-140-193z" color="#25ab82"/>
<path d="M10110 4368l101-77-120-37z" color="#1f958b"/>
<path d="M10110 4368l120 32-19-109z" color="#20928c"/>
<path d="M11369 3683l118-116-139 102z" color="#34b679"/>
<path d="M10368 4516l119-5-138-93z" color="#228c8d"/>
<path d="M10841 4393l117-82-136 39z" color="#20928c"/>
<path d="M13784 3773l114-542-127 204z" color="#42be71"/>
<path d="M9971 4203l120 51-18-114z" color="#1e9b8a"/>
<path d="M10958 4311l98-133-117 103z" color="#1f978b"/>
<path d="M13512 3358l120-68-18-258z" color="#5cc863"/>
<path d="M13784 3773l126-198-12-344z" color="#3dbc74"/>
<path d="M13628 2090l117-12-26-72z" color="#fde725"/>
<path d="M13899 5741l129-230-30-29z" color="#3b528b"/>
<path d="M13374 3196l-18-246-118 30z" color="#75d054"/>
<path d="M9971 4203l102-63-121-55z" color="#1f9e89"/>
<path d="M11863 3602l117 143-22-67z" color="#31b57b"/>
<path d="M13512 3358l102-326-120 89z" color="#65cb5e"/>
<path d="M11724 3493l117 66-22-43z" color="#3fbc73"/>
<path d="M11487 3567l97-84-118 73z" color="#3dbc74"/>
<path d="M10249 4507l100-89-119-18z" color="#218f8d"/>
<path d="M13612 6300l122-104-29-29z" color="#482979"/>
<path d="M13393 2116l92-85-117 13z" color="#fde725"/>
<path d="M9431 2716l-18-119-124-106z" color="#b2dd2d"/>
<path d="M13035 2307l123-166 0 0-150 182z" color="#e7e419"/>
<path d="M13139 3241l99-261-118 24z" color="#70cf57"/>
<path d="M12966 5695l110 220-26-46z" color="#414487"/>
<path d="M9149 2306l123 81-18-109z" color="#dae319"/>
<path d="M11056 4178l118-143-20-24z" color="#1fa187"/>
<path d="M9470 3000l105-20-125-132z" color="#81d34d"/>
<path d="M13378 6307l-27-37-113-97z" color="#482878"/>
<path d="M11863 3602l95 76-117-119z" color="#37b878"/>
<path d="M13374 3196l120-75-18-264z" color="#73d056"/>
<path d="M11724 3493l-22-25-118 15z" color="#42be71"/>
<path d="M10249 4507l119 9-19-98z" color="#228d8d"/>
<path d="M9042 2113l72-31-37-22z" color="#fbe723"/>
<path d="M13374 3196l102-339-120 93z" color="#7cd250"/>
<path d="M13393 2116l-25-72-117 12z" color="#fde725"/>
<path d="M9830 4017l122 68-19-116z" color="#20a486"/>
<path d="M13238 6173l-26-45-110-163z" color="#46337f"/>
<path d="M13511 2103l117-13-143-59z" color="#fde725"/>
<path d="M9149 2306l105-28-123-80z" color="#e5e419"/>
<path d="M9509 3315l124 113-19-141z" color="#52c569"/>
<path d="M12184 4222l91 183-113-239z" color="#1f988b"/>
<path d="M9830 4017l103-48-121-73z" color="#22a884"/>
<path d="M10624 4557l99-105-118 38z" color="#228d8d"/>
<path d="M10624 4557l-19-67-118 21z" color="#228c8d"/>
<path d="M13393 2116l118-13-26-72z" color="#fde725"/>
<path d="M11389 3697l-20-14-118 144z" color="#2eb37c"/>
<path d="M10110 4368l-19-114-120-51z" color="#1f988b"/>
<path d="M13632 3290l123-140-141-118z" color="#69cd5b"/>
<path d="M10249 4507l-19-107-120-32z" color="#21918c"/>
<path d="M9671 3687l122 89-141-216z" color="#34b679"/>
<path d="M13158 2141l93-85-118 13z" color="#fde725"/>
<path d="M13998 5482l130-231-30-32z" color="#33638d"/>
<path d="M13494 3121l120-89-138-175z" color="#7cd250"/>
<path d="M9490 3162l124 125-144-287z" color="#6ccd5a"/>
<path d="M12966 5695l84 174-109-218z" color="#3e4a89"/>
<path d="M9027 2139l104 59-17-116-72 31z" color="#f8e621"/>
<path d="M12780 5339l-25-34-111-234z" color="#31678e"/>
<path d="M10387 4611l100-100-119 5z" color="#228b8d"/>
<path d="M13238 2980l118-30-17-287z" color="#90d743"/>
<path d="M9009 2141l33-28 35-53-84 9z" color="#fde725"/>
<path d="M13120 3004l118-24-136-244z" color="#8bd646"/>
<path d="M12507 4812l112 237-25-26z" color="#2a768e"/>
<path d="M9009 2141l-16-72-119 12z" color="#fde725"/>
<path d="M11271 3849l118-152-138 130z" color="#2cb17e"/>
<path d="M9652 3560l-19-132-124-113z" color="#4cc26c"/>
<path d="M9289 2491l-17-104-123-81z" color="#d5e21a"/>
<path d="M13276 2128l117-12-142-60z" color="#fde725"/>
<path d="M13522 6363l90-63-118 37z" color="#482475"/>
<path d="M13238 2980l-20-216-116-28z" color="#98d83e"/>
<path d="M9689 3811l123 85-19-120z" color="#29af7f"/>
<path d="M9971 4203l-19-118-122-68z" color="#1fa187"/>
<path d="M13238 2980l101-317-121 101z" color="#9bd93c"/>
<path d="M10860 4427l-19-34-118 59z" color="#20928c"/>
<path d="M9509 3315l105-28-124-125z" color="#60ca60"/>
<path d="M13158 2141l-25-72-13 2 38 70z" color="#fde725"/>
<path d="M13859 6029l-29-28-125 166z" color="#453781"/>
<path d="M13771 2149l-26-71-117 12z" color="#fde725"/>
<path d="M13830 6001l128-216-157 190z" color="#424086"/>
<path d="M12321 4506l-23-42-114-242z" color="#20938c"/>
<path d="M13356 2950l120-93-137-194z" color="#98d83e"/>
<path d="M11487 3567l118-70-21-14z" color="#44bf70"/>
<path d="M10958 4311l118-112-20-21z" color="#1e9c89"/>
<path d="M10506 4592l118-35-137-46z" color="#228b8d"/>
<path d="M13158 2141l118-13-25-72z" color="#fde725"/>
<path d="M10387 4611l-19-95-119-9z" color="#228c8d"/>
<path d="M13058 2420l100-279 0 0-123 166z" color="#eae51a"/>
<path d="M12806 5368l109 243-135-272z" color="#365d8d"/>
<path d="M11605 3497l119-4-140-10z" color="#46c06f"/>
<path d="M13734 6196l125-167-154 138z" color="#46337f"/>
<path d="M13958 5785l-30-20-127 210z" color="#404688"/>
<path d="M12002 3814l-22-69-117-143z" color="#32b67a"/>
<path d="M10387 4611l119-19-19-81z" color="#228b8d"/>
<path d="M9307 2595l124 121-142-225z" color="#b8de29"/>
<path d="M13771 3435l127-204-143-81z" color="#5ec962"/>
<path d="M10624 4557l118-54-19-51z" color="#218e8d"/>
<path d="M13522 6363l-28-26-116-30z" color="#482576"/>
<path d="M9689 3811l104-35-122-89z" color="#2fb47c"/>
<path d="M11292 3868l-21-19-117 162z" color="#26ad81"/>
<path d="M12345 4535l113 239-137-268z" color="#23898e"/>
<path d="M10129 4482l120 25-139-139z" color="#21918c"/>
<path d="M12507 4812l87 211-112-228z" color="#297b8e"/>
<path d="M12024 3883l115 212-137-281z" color="#25ac82"/>
<path d="M9990 4322l120 46-139-165z" color="#1f998a"/>
<path d="M10860 4427l98-116-117 82z" color="#1f958b"/>
<path d="M11174 4035l118-167-138 143z" color="#24aa83"/>
<path d="M9324 2711l126 137-19-132z" color="#a2da37"/>
<path d="M13536 2175l92-85-117 13z" color="#fde725"/>
<path d="M11863 3602l-22-43-117-66z" color="#42be71"/>
<path d="M13928 5765l130-235-159 211z" color="#3c508b"/>
<path d="M13080 2582l121-95-143-67z" color="#cae11f"/>
<path d="M8889 2153l120-12-135-60z" color="#fde725"/>
<path d="M9149 2306l-18-108-104-59-4 8z" color="#f4e61e"/>
<path d="M10742 4503l118-76-137 25z" color="#20928c"/>
<path d="M13102 2736l116 28-17-277z" color="#b2dd2d"/>
<path d="M13614 3032l-15-307-123 132z" color="#95d840"/>
<path d="M13265 6221l113 86-140-134z" color="#472e7c"/>
<path d="M13102 5965l-26-50-110-220z" color="#404688"/>
<path d="M11389 3697l98-130-118 116z" color="#3aba76"/>
<path d="M9830 4017l-18-121-123-85z" color="#27ad81"/>
<path d="M13218 2764l121-101-138-176z" color="#b5de2b"/>
<path d="M13755 3150l-17-272-124 154z" color="#81d34d"/>
<path d="M9009 2141l18-2 15-26z" color="#fde725"/>
<path d="M13536 2175l-25-72-118 13z" color="#fde725"/>
<path d="M14058 5530l-30-19-129 230z" color="#39558c"/>
<path d="M13654 2162l117-13-143-59z" color="#fde725"/>
<path d="M13102 2736l99-249-121 95z" color="#bddf26"/>
<path d="M10268 4612l119-1-138-104z" color="#228c8d"/>
<path d="M13763 6217l-29-21-122 104z" color="#472e7c"/>
<path d="M9849 4139l122 64-141-186z" color="#20a386"/>
<path d="M13058 2420l123-147-23-132 0 0z" color="#efe51c"/>
<path d="M13522 6363l119-43-29-20z" color="#482878"/>
<path d="M9470 3000l-20-152-126-137z" color="#98d83e"/>
<path d="M11194 4050l-20-15-118 143z" color="#20a486"/>
<path d="M13158 2141l0 0 0 0z" color="#fde725"/>
<path d="M13158 2141l0 0 0 0z" color="#fde725"/>
<path d="M13158 2141l0 0 0 0z" color="#fde725"/>
<path d="M9528 3454l124 106-143-245z" color="#4ec36b"/>
<path d="M13165 2144l-7-3 0 0z" color="#fde725"/>
<path d="M9027 2139l-18 2 14 6z" color="#fde725"/>
<path d="M13536 2175l118-13-26-72z" color="#fde725"/>
<path d="M9165 2405l124 86-140-185z" color="#dae319"/>
<path d="M12047 3946l115 220-23-71z" color="#21a685"/>
<path d="M9324 2711l107 5-124-121z" color="#b2dd2d"/>
<path d="M13201 2487l-20-214-123 147z" color="#dae319"/>
<path d="M9547 3587l124 100-19-127z" color="#3fbc73"/>
<path d="M10008 4442l121 40-19-114z" color="#20938c"/>
<path d="M13127 6024l111 149-136-208z" color="#443a83"/>
<path d="M10008 4442l102-74-120-46z" color="#1f968b"/>
<path d="M10148 4595l101-88-120-25z" color="#218f8d"/>
<path d="M9023 2147l-14-6 4 21z" color="#fde725"/>
<path d="M14028 5511l130-232-160 203z" color="#34618d"/>
<path d="M12831 5397l110 254-26-40z" color="#375a8c"/>
<path d="M11076 4199l118-149-138 128z" color="#1fa287"/>
<path d="M13299 2196l-23-68-118 13 7 3z" color="#fde725"/>
<path d="M10148 4595l120 17-19-105z" color="#228d8d"/>
<path d="M10524 4669l100-112-118 35z" color="#228b8d"/>
<path d="M13476 2857l-14-345-123 151z" color="#b5de2b"/>
<path d="M10524 4669l-18-77-119 19z" color="#238a8d"/>
<path d="M13641 6320l122-103-151 83z" color="#472d7b"/>
<path d="M9026 2243l123 63-126-159-10 15z" color="#f6e620"/>
<path d="M9868 4261l122 61-19-119z" color="#1e9d89"/>
<path d="M13419 2188l117-13-143-59z" color="#fde725"/>
<path d="M13303 2198l90-82-117 12 23 68z" color="#fde725"/>
<path d="M14158 5279l-30-28-130 231z" color="#31668e"/>
<path d="M9364 3036l126 126-20-162z" color="#7fd34e"/>
<path d="M9547 3587l105-27-124-106z" color="#48c16e"/>
<path d="M13406 6339l116 24-144-56z" color="#482979"/>
<path d="M13181 2273l120-67-136-62-7-3z" color="#fbe723"/>
<path d="M12369 4554l113 241-24-21z" color="#24868e"/>
<path d="M9868 4261l103-58-122-64z" color="#1fa188"/>
<path d="M13339 2663l-17-281-121 105z" color="#cde11d"/>
<path d="M12644 5071l-25-22-112-237z" color="#29798e"/>
<path d="M10860 4427l118-99-20-17z" color="#1f998a"/>
<path d="M9708 3936l122 81-141-206z" color="#28ae80"/>
<path d="M13898 3231l-17-276-126 195z" color="#7ad151"/>
<path d="M11292 3868l97-171-118 152z" color="#31b57b"/>
<path d="M9689 3811l-18-124-124-100z" color="#38b977"/>
<path d="M12047 3946l92 149-115-212z" color="#25ac82"/>
<path d="M9509 3315l-19-153-126-126z" color="#73d056"/>
<path d="M8904 2225l105-84-120 12z" color="#fde725"/>
<path d="M9182 2495l125 100-18-104z" color="#cde11d"/>
<path d="M10287 4713l100-102-119 1z" color="#238a8d"/>
<path d="M10761 4548l-19-45-118 54z" color="#21908d"/>
<path d="M13312 2199l107-11-26-72-90 82z" color="#fde725"/>
<path d="M13201 2487l100-281-120 67z" color="#eae51a"/>
<path d="M13301 2206l-2-10-134-52z" color="#fde725"/>
<path d="M10148 4595l-19-113-121-40z" color="#20928c"/>
<path d="M13859 6029l99-244-128 216z" color="#404588"/>
<path d="M11885 3652l117 162-139-212z" color="#3aba76"/>
<path d="M13476 2857l123-132-16-300z" color="#bade28"/>
<path d="M11746 3513l117 89-139-109z" color="#4ac16d"/>
<path d="M12831 5397l84 214-109-243z" color="#34618d"/>
<path d="M9182 2495l107-4-124-86z" color="#d8e219"/>
<path d="M13680 2234l91-85-117 13z" color="#fde725"/>
<path d="M13614 3032l124-154-13-338z" color="#a5db36"/>
<path d="M13614 3032l111-492-126 185z" color="#aadc32"/>
<path d="M10406 4700l118-31-137-58z" color="#238a8d"/>
<path d="M11627 3506l-22-9-118 70z" color="#4cc26c"/>
<path d="M9344 2860l126 140-146-289z" color="#a0da39"/>
<path d="M9727 4061l122 78-19-122z" color="#22a884"/>
<path d="M10524 4669l119-51-19-61z" color="#228d8d"/>
<path d="M13201 2487l121-105-21-176z" color="#e7e419"/>
<path d="M13763 6217l96-188-125 167z" color="#453882"/>
<path d="M11095 4201l-19-2-118 112z" color="#1fa088"/>
<path d="M11627 3506l97-13-119 4z" color="#4ec36b"/>
<path d="M11389 3697l119-121-21-9z" color="#42be71"/>
<path d="M8904 2225l65-7 44-56-4-21z" color="#fde725"/>
<path d="M10287 4713l119-13-19-89z" color="#23898e"/>
<path d="M10008 4442l-18-120-122-61z" color="#1f9a8a"/>
<path d="M9042 2345l123 60-16-99z" color="#e7e419"/>
<path d="M10761 4548l99-121-118 76z" color="#20928c"/>
<path d="M12369 4554l89 220-113-239z" color="#228c8d"/>
<path d="M9042 2345l107-39-123-63z" color="#efe51c"/>
<path d="M13680 2234l-26-72-118 13z" color="#fde725"/>
<path d="M8969 2218l57 25-13-81z" color="#fbe723"/>
<path d="M10287 4713l-19-101-120-17z" color="#228c8d"/>
<path d="M12669 5089l111 250-136-268z" color="#2d718e"/>
<path d="M13755 3150l110-472-127 200z" color="#9bd93c"/>
<path d="M13476 2857l107-432-121 87z" color="#c5e021"/>
<path d="M9364 3036l106-36-126-140z" color="#90d743"/>
<path d="M13291 6265l87 42-113-86z" color="#46307e"/>
<path d="M11194 4050l98-182-118 167z" color="#26ad81"/>
<path d="M13153 6089l112 132-27-48z" color="#453781"/>
<path d="M9727 4061l103-44-122-81z" color="#25ac82"/>
<path d="M10643 4618l118-70-137 9z" color="#218f8d"/>
<path d="M12184 4222l-22-56-115-220z" color="#21a685"/>
<path d="M13301 2206l2-8-4-2z" color="#fde725"/>
<path d="M13301 2206l11-7-9-1z" color="#fde725"/>
<path d="M13958 5785l100-255-130 235z" color="#3a548c"/>
<path d="M12208 4265l113 241-137-284z" color="#1e9c89"/>
<path d="M13680 2234l118-12-27-73z" color="#fde725"/>
<path d="M13291 6265l115 74-28-32z" color="#472e7c"/>
<path d="M9404 3343l124 111-19-139z" color="#5ec962"/>
<path d="M13312 2199l-11 7 33 8z" color="#fde725"/>
<path d="M10978 4328l117-127-137 110z" color="#1f9f88"/>
<path d="M9324 2711l-17-116-125-100z" color="#c8e020"/>
<path d="M13153 6089l85 84-111-149z" color="#433d84"/>
<path d="M13444 2260l92-85-117 13z" color="#fde725"/>
<path d="M13755 3150l126-195-16-277z" color="#98d83e"/>
<path d="M10027 4561l121 34-140-153z" color="#20928c"/>
<path d="M9868 4261l-19-122-122-78z" color="#21a585"/>
<path d="M9566 3716l123 95-142-224z" color="#3bbb75"/>
<path d="M9384 3197l125 118-145-279z" color="#77d153"/>
<path d="M11508 3576l119-70-140 61z" color="#4cc26c"/>
<path d="M13444 2260l-25-72-107 11 22 15z" color="#fde725"/>
<path d="M11627 3506l119 7-22-20z" color="#50c46a"/>
<path d="M12966 5695l-25-44-110-254z" color="#365c8d"/>
<path d="M13339 2663l100-398-13-3-104 120z" color="#e5e419"/>
<path d="M12992 5752l110 213-136-270z" color="#3c4f8a"/>
<path d="M13322 2382l104-120-92-48-33-8z" color="#f6e620"/>
<path d="M13562 2247l118-13-144-59z" color="#fde725"/>
<path d="M10167 4706l120 7-139-118z" color="#228b8d"/>
<path d="M11908 3709l116 174-22-69z" color="#34b679"/>
<path d="M9585 3844l123 92-19-125z" color="#2fb47c"/>
<path d="M13339 2663l123-151-16-245-7-2z" color="#e2e418"/>
<path d="M9887 4385l121 57-140-181z" color="#1e9b8a"/>
<path d="M14058 5530l100-251-130 232z" color="#32648e"/>
<path d="M9547 3587l-19-133-124-111z" color="#56c667"/>
<path d="M9404 3343l105-28-125-118z" color="#6ccd5a"/>
<path d="M9042 2345l-16-102-57-25-15 30z" color="#f8e621"/>
<path d="M10424 4785l100-116-118 31z" color="#23898e"/>
<path d="M9182 2495l-17-90-123-60z" color="#e5e419"/>
<path d="M13444 2260l118-13-26-72z" color="#fde725"/>
<path d="M11095 4201l99-151-118 149z" color="#21a685"/>
<path d="M8969 2218l-65 7 50 23z" color="#fde725"/>
<path d="M10424 4785l-18-85-119 13z" color="#23898e"/>
<path d="M10761 4548l118-92-19-29z" color="#1f968b"/>
<path d="M11292 3868l118-157-21-14z" color="#3aba76"/>
<path d="M13599 2725l126-185-142-115z" color="#d0e11c"/>
<path d="M9585 3844l104-33-123-95z" color="#37b878"/>
<path d="M11908 3709l94 105-117-162z" color="#3dbc74"/>
<path d="M10046 4680l102-85-121-34z" color="#21908d"/>
<path d="M12231 4295l114 240-24-29z" color="#1f988b"/>
<path d="M12507 4812l-25-17-113-241z" color="#238a8d"/>
<path d="M12695 5105l111 263-26-29z" color="#2e6e8e"/>
<path d="M10661 4674l-18-56-119 51z" color="#218e8d"/>
<path d="M10046 4680l121 26-19-111z" color="#228d8d"/>
<path d="M9906 4510l121 51-19-119z" color="#1f958b"/>
<path d="M13016 5826l111 198-25-59z" color="#3e4989"/>
<path d="M10997 4339l-19-11-118 99z" color="#1e9d89"/>
<path d="M13426 2262l18-2-110-46z" color="#fde725"/>
<path d="M13738 2878l127-200-140-138z" color="#c0df25"/>
<path d="M9727 4061l-19-125-123-92z" color="#2cb17e"/>
<path d="M9906 4510l102-68-121-57z" color="#1f988b"/>
<path d="M9746 4187l122 74-141-200z" color="#21a685"/>
<path d="M13824 2294l-26-72-118 12z" color="#fde725"/>
<path d="M11768 3546l95 56-117-89z" color="#50c46a"/>
<path d="M13462 2512l121-87-117-156-20-2z" color="#efe51c"/>
<path d="M10424 4785l119-46-19-70z" color="#238a8d"/>
<path d="M10186 4815l101-102-120-7z" color="#23898e"/>
<path d="M8954 2248l-50-23 13 61z" color="#fde725"/>
<path d="M11768 3546l117 106-22-50z" color="#4ac16d"/>
<path d="M9199 2589l125 122-142-216z" color="#cde11d"/>
<path d="M10661 4674l100-126-118 70z" color="#21918c"/>
<path d="M13763 6217l126-167-30-21z" color="#423f85"/>
<path d="M10305 4811l119-26-137-72z" color="#23888e"/>
<path d="M9217 2721l127 139-20-149z" color="#b8de29"/>
<path d="M13618 2291l62-57-118 13 6 17z" color="#fde725"/>
<path d="M13859 6029l129-223-30-21z" color="#3d4e8a"/>
<path d="M13291 6265l-26-44-112-132z" color="#443a83"/>
<path d="M13568 2264l-6-17-118 13 22 9z" color="#fde725"/>
<path d="M13583 2425l-15-161-102 5z" color="#f6e620"/>
<path d="M13439 2265l5-5-18 2z" color="#fde725"/>
<path d="M10543 4739l118-65-137-5z" color="#228d8d"/>
<path d="M11529 3590l-21-14-119 121z" color="#4ac16d"/>
<path d="M10186 4815l119-4-18-98z" color="#23888e"/>
<path d="M11194 4050l118-173-20-9z" color="#2eb37c"/>
<path d="M13446 2267l-2-7-5 5z" color="#fde725"/>
<path d="M9764 4315l123 70-19-124z" color="#1fa088"/>
<path d="M10879 4456l118-117-137 88z" color="#1e9b8a"/>
<path d="M13466 2269l-22-9 2 7z" color="#fde725"/>
<path d="M12231 4295l90 211-113-241z" color="#1f9e89"/>
<path d="M9423 3481l124 106-143-244z" color="#5ac864"/>
<path d="M9059 2436l123 59-140-150z" color="#e7e419"/>
<path d="M8920 2305l122 40-88-97-37 38z" color="#fbe723"/>
<path d="M9364 3036l-20-176-127-139z" color="#a8db34"/>
<path d="M13583 2425l35-134-50-27z" color="#f6e620"/>
<path d="M12695 5105l85 234-111-250z" color="#2b748e"/>
<path d="M12532 4823l112 248-137-259z" color="#26828e"/>
<path d="M9441 3614l125 102-19-129z" color="#48c16e"/>
<path d="M13016 5826l86 139-110-213z" color="#3c508b"/>
<path d="M12047 3946l-23-63-116-174z" color="#35b779"/>
<path d="M10046 4680l-19-119-121-51z" color="#20928c"/>
<path d="M10186 4815l-19-109-121-26z" color="#228b8d"/>
<path d="M9764 4315l104-54-122-74z" color="#20a386"/>
<path d="M9259 3082l125 115-20-161z" color="#89d548"/>
<path d="M13706 2307l118-13-144-60z" color="#fde725"/>
<path d="M11410 3711l119-121-140 107z" color="#46c06f"/>
<path d="M10997 4339l98-138-117 127z" color="#1fa287"/>
<path d="M12069 3998l115 224-137-276z" color="#27ad81"/>
<path d="M9217 2721l107-10-125-122z" color="#c8e020"/>
<path d="M13583 2425l72-113-37-21z" color="#f6e620"/>
<path d="M13958 5785l131-245-31-10z" color="#355e8d"/>
<path d="M11768 3546l-22-33-119-7z" color="#56c667"/>
<path d="M13655 2312l51-5-26-73-62 57z" color="#fde725"/>
<path d="M9441 3614l106-27-124-106z" color="#52c569"/>
<path d="M9603 3973l124 88-142-217z" color="#2eb37c"/>
<path d="M11529 3590l98-84-119 70z" color="#54c568"/>
<path d="M9404 3343l-20-146-125-115z" color="#7fd34e"/>
<path d="M9906 4510l-19-125-123-70z" color="#1e9d89"/>
<path d="M13725 2540l-10-209-60-19-72 113z" color="#efe51c"/>
<path d="M10661 4674l119-86-19-40z" color="#20938c"/>
<path d="M9585 3844l-19-128-125-102z" color="#42be71"/>
<path d="M8937 2408l105-63-122-40z" color="#f6e620"/>
<path d="M10324 4904l100-119-119 26z" color="#24878e"/>
<path d="M11095 4201l119-158-20 7z" color="#26ad81"/>
<path d="M9622 4102l124 85-19-126z" color="#25ac82"/>
<path d="M8937 2408l122 28-17-91z" color="#f1e51d"/>
<path d="M13153 6089l-26-65-111-198z" color="#3e4a89"/>
<path d="M10065 4797l121 18-140-135z" color="#228b8d"/>
<path d="M10324 4904l-19-93-119 4z" color="#24878e"/>
<path d="M10898 4482l-19-26-118 92z" color="#1f998a"/>
<path d="M10562 4805l-19-66-119 46z" color="#228b8d"/>
<path d="M9238 2910l126 126-147-315z" color="#addc30"/>
<path d="M9925 4634l121 46-140-170z" color="#20938c"/>
<path d="M9259 3082l105-46-126-126z" color="#9bd93c"/>
<path d="M9075 2527l124 62-17-94z" color="#dfe318"/>
<path d="M9075 2527l107-32-123-59z" color="#e5e419"/>
<path d="M14058 5530l131-235-31-16z" color="#2e6d8e"/>
<path d="M11431 3720l-21-9-118 157z" color="#40bd72"/>
<path d="M11908 3709l-23-57-117-106z" color="#4ec36b"/>
<path d="M12831 5397l-25-29-111-263z" color="#2c718e"/>
<path d="M12369 4554l-24-19-114-240z" color="#1e9b8a"/>
<path d="M9622 4102l105-41-124-88z" color="#2ab07f"/>
<path d="M12857 5436l109 259-135-298z" color="#31668e"/>
<path d="M10562 4805l99-131-118 65z" color="#228d8d"/>
<path d="M13715 2331l-9-24-51 5z" color="#fde725"/>
<path d="M13725 2540l42-193-52-16z" color="#f1e51d"/>
<path d="M10324 4904l119-39-19-80z" color="#23888e"/>
<path d="M12092 4040l116 225-24-43z" color="#24aa83"/>
<path d="M13767 2347l57-53-118 13 9 24z" color="#fde725"/>
<path d="M11312 3877l119-157-139 148z" color="#3bbb75"/>
<path d="M12557 4831l112 258-25-18z" color="#26818e"/>
<path d="M10780 4588l118-106-137 66z" color="#1f988b"/>
<path d="M13865 2678l-14-310-4-1-122 173z" color="#e7e419"/>
<path d="M9764 4315l-18-128-124-85z" color="#23a983"/>
<path d="M10443 4865l119-60-138-20z" color="#238a8d"/>
<path d="M13178 6154l113 111-138-176z" color="#424086"/>
<path d="M9297 3375l126 106-19-138z" color="#69cd5b"/>
<path d="M9783 4443l123 67-142-195z" color="#1f9e89"/>
<path d="M10205 4921l119-17-138-89z" color="#24878e"/>
<path d="M13889 6050l129-219-159 198z" color="#3d4d8a"/>
<path d="M13725 2540l122-173-80-20z" color="#f1e51d"/>
<path d="M11649 3526l119 20-141-40z" color="#5cc863"/>
<path d="M9278 3234l126 109-145-261z" color="#81d34d"/>
<path d="M9944 4757l121 40-19-117z" color="#218e8d"/>
<path d="M9944 4757l102-77-121-46z" color="#21918c"/>
<path d="M14018 5831l-30-25-129 223z" color="#3b528b"/>
<path d="M11529 3590l120-64-22-20z" color="#5ac864"/>
<path d="M10084 4911l102-96-121-18z" color="#23898e"/>
<path d="M10898 4482l99-143-118 117z" color="#1f9f88"/>
<path d="M9460 3746l125 98-144-230z" color="#46c06f"/>
<path d="M9217 2721l-18-132-124-62z" color="#d8e219"/>
<path d="M12882 5496l110 256-26-57z" color="#34608d"/>
<path d="M9075 2527l-16-91-122-28z" color="#efe51c"/>
<path d="M12394 4567l113 245-138-258z" color="#20938c"/>
<path d="M10084 4911l121 10-19-106z" color="#24878e"/>
<path d="M13847 2367l3 0-26-73-57 53z" color="#fde725"/>
<path d="M9479 3877l124 96-18-129z" color="#37b878"/>
<path d="M12092 4040l92 182-115-224z" color="#29af7f"/>
<path d="M10997 4339l118-142-20 4z" color="#22a884"/>
<path d="M11333 3870l-21 7-118 173z" color="#35b779"/>
<path d="M9802 4571l123 63-19-124z" color="#1f978b"/>
<path d="M11930 3764l117 182-139-237z" color="#3fbc73"/>
<path d="M9297 3375l107-32-126-109z" color="#77d153"/>
<path d="M12557 4831l87 240-112-248z" color="#24868e"/>
<path d="M9441 3614l-18-133-126-106z" color="#63cb5f"/>
<path d="M10562 4805l118-80-19-51z" color="#21908d"/>
<path d="M9802 4571l104-61-123-67z" color="#1e9b8a"/>
<path d="M13988 5806l133-263-163 242z" color="#355e8d"/>
<path d="M11214 4043l119-173-139 180z" color="#31b57b"/>
<path d="M11431 3720l98-130-119 121z" color="#4ec36b"/>
<path d="M9479 3877l106-33-125-98z" color="#3fbc73"/>
<path d="M10799 4625l-19-37-119 86z" color="#1f958b"/>
<path d="M10084 4911l-19-114-121-40z" color="#228c8d"/>
<path d="M9641 4232l123 83-142-213z" color="#24aa83"/>
<path d="M9114 2825l124 85-21-189z" color="#c0df25"/>
<path d="M10223 5019l101-115-119 17z" color="#25858e"/>
<path d="M13851 2368l-1-1-3 0z" color="#fde725"/>
<path d="M9259 3082l-21-172-124-85z" color="#addc30"/>
<path d="M10462 4939l-19-74-119 39z" color="#23888e"/>
<path d="M14121 5543l-32-3-131 245z" color="#33638d"/>
<path d="M9622 4102l-19-129-124-96z" color="#32b67a"/>
<path d="M8954 2522l121 5-138-119z" color="#efe51c"/>
<path d="M11790 3595l118 114-140-163z" color="#56c667"/>
<path d="M9093 2650l124 71-142-194z" color="#dae319"/>
<path d="M9944 4757l-19-123-123-63z" color="#1f948c"/>
<path d="M10462 4939l100-134-119 60z" color="#238a8d"/>
<path d="M9660 4363l123 80-19-128z" color="#20a386"/>
<path d="M13041 5914l112 175-137-263z" color="#3b518b"/>
<path d="M12882 5496l84 199-109-259z" color="#31688e"/>
<path d="M10680 4725l119-100-138 49z" color="#1f948c"/>
<path d="M10223 5019l-18-98-121-10z" color="#24868e"/>
<path d="M14089 5540l132-240-163 230z" color="#2e6d8e"/>
<path d="M11234 4030l-20 13-119 158z" color="#2cb17e"/>
<path d="M10223 5019l120-28-19-87z" color="#25858e"/>
<path d="M12231 4295l-23-30-116-225z" color="#25ac82"/>
<path d="M14221 5300l-32-5-131 235z" color="#2d718e"/>
<path d="M9114 2825l103-104-124-71z" color="#d0e11c"/>
<path d="M10343 4991l119-52-138-35z" color="#24878e"/>
<path d="M11952 3810l117 188-22-52z" color="#3aba76"/>
<path d="M9660 4363l104-48-123-83z" color="#22a785"/>
<path d="M10799 4625l99-143-118 106z" color="#1f9a8a"/>
<path d="M9153 3137l125 97-19-152z" color="#93d741"/>
<path d="M9316 3511l125 103-144-239z" color="#65cb5e"/>
<path d="M10898 4482l118-129-19-14z" color="#20a386"/>
<path d="M9963 4878l121 33-140-154z" color="#228c8d"/>
<path d="M8973 2661l102-134-121-5z" color="#e7e419"/>
<path d="M9335 3645l125 101-19-132z" color="#54c568"/>
<path d="M13016 5826l-24-74-110-256z" color="#34618d"/>
<path d="M12419 4573l113 250-25-11z" color="#20928c"/>
<path d="M9134 2990l125 92-145-257z" color="#addc30"/>
<path d="M11115 4197l119-167-139 171z" color="#29af7f"/>
<path d="M8973 2661l120-11-18-123z" color="#e2e418"/>
<path d="M12695 5105l-26-16-112-258z" color="#25848e"/>
<path d="M11670 3561l98-15-119-20z" color="#63cb5f"/>
<path d="M9802 4571l-19-128-123-80z" color="#1fa188"/>
<path d="M13065 6006l113 148-25-65z" color="#3e4a89"/>
<path d="M11333 3870l98-150-119 157z" color="#44bf70"/>
<path d="M11670 3561l-21-35-120 64z" color="#60ca60"/>
<path d="M10103 5020l120-1-139-108z" color="#24868e"/>
<path d="M11952 3810l95 136-117-182z" color="#42be71"/>
<path d="M9297 3375l-19-141-125-97z" color="#89d548"/>
<path d="M9821 4698l123 59-142-186z" color="#1f958b"/>
<path d="M9498 4009l124 93-143-225z" color="#35b779"/>
<path d="M10462 4939l118-74-18-60z" color="#228c8d"/>
<path d="M9153 3137l106-55-125-92z" color="#a2da37"/>
<path d="M12255 4315l114 239-138-259z" color="#20a486"/>
<path d="M9335 3645l106-31-125-103z" color="#5ec962"/>
<path d="M11431 3720l120-112-22-18z" color="#58c765"/>
<path d="M10699 4771l-19-46-118 80z" color="#20928c"/>
<path d="M9114 2825l-21-175-120 11z" color="#d5e21a"/>
<path d="M9517 4141l124 91-19-130z" color="#2ab07f"/>
<path d="M12721 5122l110 275-136-292z" color="#297b8e"/>
<path d="M9479 3877l-19-131-125-101z" color="#4cc26c"/>
<path d="M11670 3561l120 34-22-49z" color="#60ca60"/>
<path d="M12419 4573l88 239-113-245z" color="#1f978b"/>
<path d="M13065 6006l88 83-112-175z" color="#3b518b"/>
<path d="M9982 4995l102-84-121-33z" color="#238a8d"/>
<path d="M9982 4995l121 25-19-109z" color="#24878e"/>
<path d="M11135 4201l-20-4-118 142z" color="#25ac82"/>
<path d="M9840 4823l123 55-19-121z" color="#21908d"/>
<path d="M11812 3639l118 125-22-55z" color="#54c568"/>
<path d="M10361 5071l-18-80-120 28z" color="#25858e"/>
<path d="M14018 5831l103-288-133 263z" color="#34618d"/>
<path d="M8991 2792l123 33-141-164z" color="#d0e11c"/>
<path d="M11812 3639l96 70-118-114z" color="#5ac864"/>
<path d="M10580 4865l119-94-137 34z" color="#21908d"/>
<path d="M9517 4141l105-39-124-93z" color="#2fb47c"/>
<path d="M10361 5071l101-132-119 52z" color="#24868e"/>
<path d="M11551 3608l119-47-141 29z" color="#60ca60"/>
<path d="M9840 4823l104-66-123-59z" color="#20928c"/>
<path d="M9679 4493l123 78-142-208z" color="#1fa187"/>
<path d="M10699 4771l100-146-119 100z" color="#1f958b"/>
<path d="M11016 4353l119-152-138 138z" color="#24aa83"/>
<path d="M10799 4625l118-118-19-25z" color="#1f9f88"/>
<path d="M9660 4363l-19-131-124-91z" color="#26ad81"/>
<path d="M10122 5124l101-105-120 1z" color="#25848e"/>
<path d="M11234 4030l99-160-119 173z" color="#3aba76"/>
<path d="M9009 2926l125 64-20-165z" color="#bddf26"/>
<path d="M9172 3275l125 100-144-238z" color="#8bd646"/>
<path d="M9191 3411l125 100-19-136z" color="#75d054"/>
<path d="M12092 4040l-23-42-117-188z" color="#3dbc74"/>
<path d="M9698 4623l123 75-19-127z" color="#1f9a8a"/>
<path d="M10242 5111l119-40-138-52z" color="#25848e"/>
<path d="M12746 5150l111 286-26-39z" color="#2a778e"/>
<path d="M9009 2926l105-101-123-33z" color="#c8e020"/>
<path d="M10122 5124l120-13-19-92z" color="#25838e"/>
<path d="M9153 3137l-19-147-125-64z" color="#b0dd2f"/>
<path d="M9982 4995l-19-117-123-55z" color="#228d8d"/>
<path d="M9354 3778l125 99-144-232z" color="#50c46a"/>
<path d="M10122 5124l-19-104-121-25z" color="#24868e"/>
<path d="M14121 5543l100-243-132 240z" color="#2d718e"/>
<path d="M12279 4327l115 240-25-13z" color="#1fa287"/>
<path d="M9698 4623l104-52-123-78z" color="#1f9f88"/>
<path d="M9373 3911l125 98-19-132z" color="#3fbc73"/>
<path d="M10361 5071l119-65-18-67z" color="#23888e"/>
<path d="M9191 3411l106-36-125-100z" color="#84d44b"/>
<path d="M10599 4919l-19-54-118 74z" color="#228d8d"/>
<path d="M11036 4369l-20-16-118 129z" color="#22a785"/>
<path d="M9335 3645l-19-134-125-100z" color="#6ece58"/>
<path d="M11333 3870l119-149-21-1z" color="#50c46a"/>
<path d="M12557 4831l-25-8-113-250z" color="#1f968b"/>
<path d="M12116 4072l115 223-139-255z" color="#2fb47c"/>
<path d="M11812 3639l-22-44-120-34z" color="#65cb5e"/>
<path d="M9840 4823l-19-125-123-75z" color="#1f978b"/>
<path d="M9536 4273l124 90-143-222z" color="#28ae80"/>
<path d="M11135 4201l99-171-119 167z" color="#2fb47c"/>
<path d="M12929 5699l112 215-25-88z" color="#34608d"/>
<path d="M9373 3911l106-34-125-99z" color="#4ac16d"/>
<path d="M12906 5585l110 241-134-330z" color="#30698e"/>
<path d="M10917 4507l119-138-138 113z" color="#21a585"/>
<path d="M10480 5006l119-87-137 20z" color="#228c8d"/>
<path d="M12279 4327l90 227-114-239z" color="#22a884"/>
<path d="M11572 3622l-21-14-120 112z" color="#60ca60"/>
<path d="M11952 3810l-22-46-118-125z" color="#56c667"/>
<path d="M9517 4141l-19-132-125-98z" color="#3aba76"/>
<path d="M10699 4771l119-113-19-33z" color="#1f9a8a"/>
<path d="M9028 3058l125 79-144-211z" color="#b2dd2d"/>
<path d="M10599 4919l100-148-119 94z" color="#20928c"/>
<path d="M9554 4405l125 88-19-130z" color="#22a785"/>
<path d="M12746 5150l85 247-110-275z" color="#277f8e"/>
<path d="M10001 5109l121 15-140-129z" color="#24868e"/>
<path d="M9859 4946l123 49-142-172z" color="#218e8d"/>
<path d="M10260 5198l101-127-119 40z" color="#25838e"/>
<path d="M10260 5198l-18-87-120 13z" color="#26828e"/>
<path d="M9046 3188l126 87-19-138z" color="#9dd93b"/>
<path d="M9554 4405l106-42-124-90z" color="#25ac82"/>
<path d="M12583 4835l112 270-138-274z" color="#218f8d"/>
<path d="M11572 3622l98-61-119 47z" color="#69cd5b"/>
<path d="M9209 3546l126 99-144-234z" color="#70cf57"/>
<path d="M11452 3721l120-99-141 98z" color="#5ec962"/>
<path d="M10936 4528l-19-21-118 118z" color="#1fa187"/>
<path d="M9046 3188l107-51-125-79z" color="#a8db34"/>
<path d="M9698 4623l-19-130-125-88z" color="#20a486"/>
<path d="M9717 4751l123 72-142-200z" color="#1f998a"/>
<path d="M12882 5496l-25-60-111-286z" color="#29798e"/>
<path d="M9228 3680l126 98-19-133z" color="#5ec962"/>
<path d="M11036 4369l99-168-119 152z" color="#27ad81"/>
<path d="M11234 4030l119-172-20 12z" color="#46c06f"/>
<path d="M9878 5067l123 42-19-114z" color="#23888e"/>
<path d="M10499 5067l-19-61-119 65z" color="#23898e"/>
<path d="M9878 5067l104-72-123-49z" color="#228b8d"/>
<path d="M9191 3411l-19-136-126-87z" color="#93d741"/>
<path d="M12929 5699l87 127-110-241z" color="#31688e"/>
<path d="M10140 5224l120-26-138-74z" color="#26828e"/>
<path d="M10260 5198l120-53-19-74z" color="#25848e"/>
<path d="M10019 5220l103-96-121-15z" color="#25848e"/>
<path d="M14018 5831l135-282-32-6z" color="#2f6b8e"/>
<path d="M13065 6006l-24-92-112-215z" color="#355f8d"/>
<path d="M12139 4094l116 221-24-20z" color="#2db27d"/>
<path d="M11692 3591l120 48-142-78z" color="#6ccd5a"/>
<path d="M10818 4658l118-130-137 97z" color="#1fa088"/>
<path d="M9391 4045l126 96-144-230z" color="#3dbc74"/>
<path d="M11975 3850l117 190-140-230z" color="#4ac16d"/>
<path d="M9736 4877l123 69-19-123z" color="#20928c"/>
<path d="M10019 5220l121 4-18-100z" color="#26828e"/>
<path d="M9228 3680l107-35-126-99z" color="#69cd5b"/>
<path d="M9410 4177l126 96-19-132z" color="#2fb47c"/>
<path d="M10599 4919l119-108-19-40z" color="#1f948c"/>
<path d="M10380 5145l119-78-138 4z" color="#24878e"/>
<path d="M10499 5067l100-148-119 87z" color="#228d8d"/>
<path d="M9373 3911l-19-133-126-98z" color="#56c667"/>
<path d="M12419 4573l-25-6-115-240z" color="#21a685"/>
<path d="M9736 4877l104-54-123-72z" color="#1f968b"/>
<path d="M11572 3622l120-31-22-30z" color="#6ece58"/>
<path d="M12139 4094l92 201-115-223z" color="#34b679"/>
<path d="M11135 4201l119-170-20-1z" color="#3aba76"/>
<path d="M10019 5220l-18-111-123-42z" color="#24868e"/>
<path d="M11473 3720l-21 1-119 149z" color="#5ac864"/>
<path d="M9410 4177l107-36-126-96z" color="#37b878"/>
<path d="M14121 5543l133-245-33 2z" color="#297a8e"/>
<path d="M9573 4535l125 88-144-218z" color="#21a585"/>
<path d="M11834 3676l118 134-140-171z" color="#63cb5f"/>
<path d="M10936 4528l100-159-119 138z" color="#22a884"/>
<path d="M12609 4841l112 281-26-17z" color="#228c8d"/>
<path d="M9065 3321l126 90-145-223z" color="#95d840"/>
<path d="M10837 4685l-19-27-119 113z" color="#1e9d89"/>
<path d="M9554 4405l-18-132-126-96z" color="#2cb17e"/>
<path d="M9878 5067l-19-121-123-69z" color="#21908d"/>
<path d="M10159 5318l101-120-120 26z" color="#26828e"/>
<path d="M9592 4664l125 87-19-128z" color="#1f9e89"/>
<path d="M9083 3455l126 91-18-135z" color="#81d34d"/>
<path d="M11353 3858l120-138-140 150z" color="#58c765"/>
<path d="M10159 5318l-19-94-121-4z" color="#26828e"/>
<path d="M10718 4811l119-126-138 86z" color="#1e9b8a"/>
<path d="M10398 5212l-18-67-120 53z" color="#25858e"/>
<path d="M12444 4575l113 256-138-258z" color="#1fa088"/>
<path d="M9592 4664l106-41-125-88z" color="#1fa287"/>
<path d="M9247 3813l126 98-145-231z" color="#5ac864"/>
<path d="M11998 3883l118 189-24-32z" color="#46c06f"/>
<path d="M11036 4369l119-156-20-12z" color="#2fb47c"/>
<path d="M9083 3455l108-44-126-90z" color="#8ed645"/>
<path d="M10499 5067l119-100-19-48z" color="#21908d"/>
<path d="M9897 5185l122 35-141-153z" color="#24878e"/>
<path d="M10159 5318l120-39-19-81z" color="#26828e"/>
<path d="M9265 3947l126 98-18-134z" color="#4ac16d"/>
<path d="M12609 4841l86 264-112-270z" color="#20928c"/>
<path d="M9228 3680l-19-134-126-91z" color="#77d153"/>
<path d="M10398 5212l101-145-119 78z" color="#23888e"/>
<path d="M11473 3720l99-98-120 99z" color="#69cd5b"/>
<path d="M9736 4877l-19-126-125-87z" color="#1e9b8a"/>
<path d="M10279 5279l119-67-138-14z" color="#25848e"/>
<path d="M11998 3883l94 157-117-190z" color="#4ec36b"/>
<path d="M12953 5823l112 183-136-307z" color="#32658e"/>
<path d="M11714 3613l98 26-120-48z" color="#73d056"/>
<path d="M10837 4685l99-157-118 130z" color="#1fa287"/>
<path d="M9755 5001l123 66-142-190z" color="#21918c"/>
<path d="M10038 5326l121-8-140-98z" color="#26828e"/>
<path d="M11374 3863l-21-5-119 172z" color="#50c46a"/>
<path d="M9429 4309l125 96-144-228z" color="#2eb37c"/>
<path d="M12279 4327l-24-12-116-221z" color="#32b67a"/>
<path d="M10737 4846l-19-35-119 108z" color="#1f978b"/>
<path d="M9265 3947l108-36-126-98z" color="#54c568"/>
<path d="M9448 4440l125 95-19-130z" color="#25ac82"/>
<path d="M9410 4177l-19-132-126-98z" color="#42be71"/>
<path d="M11254 4031l120-168-140 167z" color="#4cc26c"/>
<path d="M11714 3613l120 63-22-37z" color="#70cf57"/>
<path d="M11714 3613l-22-22-120 31z" color="#75d054"/>
<path d="M9916 5299l103-79-122-35z" color="#25858e"/>
<path d="M12795 5306l111 279-24-89z" color="#29798e"/>
<path d="M11857 3710l118 140-23-40z" color="#60ca60"/>
<path d="M10618 4967l119-121-138 73z" color="#1f958b"/>
<path d="M12771 5206l111 290-136-346z" color="#26828e"/>
<path d="M10936 4528l120-146-20-13z" color="#27ad81"/>
<path d="M9916 5299l122 27-19-106z" color="#26828e"/>
<path d="M11857 3710l95 100-118-134z" color="#67cc5c"/>
<path d="M9774 5123l123 62-19-118z" color="#228b8d"/>
<path d="M9448 4440l106-35-125-96z" color="#2ab07f"/>
<path d="M9774 5123l104-56-123-66z" color="#218e8d"/>
<path d="M9102 3587l126 93-145-225z" color="#7cd250"/>
<path d="M14153 5549l133-241-165 235z" color="#297a8e"/>
<path d="M10398 5212l119-90-18-55z" color="#228b8d"/>
<path d="M12746 5150l-25-28-112-281z" color="#21908d"/>
<path d="M11275 4042l-21-11-119 170z" color="#40bd72"/>
<path d="M9611 4791l125 86-144-213z" color="#1e9d89"/>
<path d="M9592 4664l-19-129-125-95z" color="#22a884"/>
<path d="M14286 5308l-32-10-133 245z" color="#277f8e"/>
<path d="M10297 5351l-18-72-120 39z" color="#26828e"/>
<path d="M9120 3719l127 94-19-133z" color="#69cd5b"/>
<path d="M10057 5425l102-107-121 8z" color="#27808e"/>
<path d="M12469 4573l114 262-26-4z" color="#1f9f88"/>
<path d="M11155 4213l120-171-140 159z" color="#3dbc74"/>
<path d="M10737 4846l100-161-119 126z" color="#1e9d89"/>
<path d="M12304 4332l115 241-140-246z" color="#29af7f"/>
<path d="M10297 5351l101-139-119 67z" color="#25848e"/>
<path d="M11473 3720l121-87-22-11z" color="#73d056"/>
<path d="M10636 5009l-18-42-119 100z" color="#20928c"/>
<path d="M9630 4916l125 85-19-124z" color="#1f968b"/>
<path d="M9284 4080l126 97-145-230z" color="#46c06f"/>
<path d="M12139 4094l-23-22-118-189z" color="#4cc26c"/>
<path d="M9120 3719l108-39-126-93z" color="#75d054"/>
<path d="M9916 5299l-19-114-123-62z" color="#23888e"/>
<path d="M11374 3863l99-143-120 138z" color="#63cb5f"/>
<path d="M11594 3633l120-20-142 9z" color="#7ad151"/>
<path d="M12929 5699l-23-114-111-279z" color="#2a788e"/>
<path d="M10057 5425l120-21-18-86z" color="#27808e"/>
<path d="M10177 5404l120-53-138-33z" color="#26818e"/>
<path d="M10057 5425l-19-99-122-27z" color="#26828e"/>
<path d="M9303 4211l126 98-19-132z" color="#38b977"/>
<path d="M10837 4685l119-144-20-13z" color="#22a884"/>
<path d="M11175 4223l-20-10-119 156z" color="#35b779"/>
<path d="M9265 3947l-18-134-127-94z" color="#60ca60"/>
<path d="M9630 4916l106-39-125-86z" color="#1f9a8a"/>
<path d="M10517 5122l119-113-137 58z" color="#21908d"/>
<path d="M12469 4573l88 258-113-256z" color="#20a486"/>
<path d="M12795 5306l87 190-111-290z" color="#26828e"/>
<path d="M11056 4382l119-159-139 146z" color="#31b57b"/>
<path d="M9303 4211l107-34-126-97z" color="#40bd72"/>
<path d="M9774 5123l-19-122-125-85z" color="#20938c"/>
<path d="M9467 4568l125 96-144-224z" color="#24aa83"/>
<path d="M11857 3710l-23-34-120-63z" color="#77d153"/>
<path d="M10636 5009l101-163-119 121z" color="#1f978b"/>
<path d="M10297 5351l120-79-19-60z" color="#24868e"/>
<path d="M11998 3883l-23-33-118-140z" color="#65cb5e"/>
<path d="M9448 4440l-19-131-126-98z" color="#32b67a"/>
<path d="M9485 4694l126 97-19-127z" color="#1fa287"/>
<path d="M9934 5406l123 19-141-126z" color="#26828e"/>
<path d="M9792 5240l124 59-142-176z" color="#238a8d"/>
<path d="M11275 4042l99-179-120 168z" color="#54c568"/>
<path d="M10536 5169l-19-47-119 90z" color="#228d8d"/>
<path d="M12163 4107l116 220-140-233z" color="#40bd72"/>
<path d="M11075 4383l-19-1-120 146z" color="#2cb17e"/>
<path d="M10737 4846l119-139-19-22z" color="#1fa187"/>
<path d="M9139 3852l126 95-145-228z" color="#65cb5e"/>
<path d="M12840 5608l113 215-24-124z" color="#2c718e"/>
<path d="M9485 4694l107-30-125-96z" color="#22a785"/>
<path d="M10195 5476l-18-72-120 21z" color="#27808e"/>
<path d="M12329 4333l115 242-25-2z" color="#28ae80"/>
<path d="M10195 5476l102-125-120 53z" color="#26828e"/>
<path d="M10417 5272l119-103-138 43z" color="#228b8d"/>
<path d="M9157 3984l127 96-19-133z" color="#54c568"/>
<path d="M10956 4541l119-158-139 145z" color="#29af7f"/>
<path d="M9630 4916l-19-125-126-97z" color="#1fa188"/>
<path d="M11374 3863l121-133-22-10z" color="#6ece58"/>
<path d="M11175 4223l100-181-120 171z" color="#44bf70"/>
<path d="M9649 5039l125 84-144-207z" color="#1f958b"/>
<path d="M12609 4841l-26-6-114-262z" color="#20a386"/>
<path d="M9811 5352l123 54-18-107z" color="#25848e"/>
<path d="M11616 3650l-22-17-121 87z" color="#7cd250"/>
<path d="M10536 5169l100-160-119 113z" color="#20928c"/>
<path d="M9811 5352l105-53-124-59z" color="#23888e"/>
<path d="M9157 3984l108-37-126-95z" color="#5cc863"/>
<path d="M12329 4333l90 240-115-241z" color="#2fb47c"/>
<path d="M9321 4340l127 100-145-229z" color="#35b779"/>
<path d="M9953 5499l104-74-123-19z" color="#26818e"/>
<path d="M11616 3650l98-37-120 20z" color="#84d44b"/>
<path d="M10075 5508l120-32-138-51z" color="#27808e"/>
<path d="M9303 4211l-19-131-127-96z" color="#4cc26c"/>
<path d="M11737 3639l120 71-143-97z" color="#81d34d"/>
<path d="M9340 4467l127 101-19-128z" color="#2ab07f"/>
<path d="M12021 3907l118 187-141-211z" color="#5ac864"/>
<path d="M10636 5009l120-132-19-31z" color="#1e9c89"/>
<path d="M12818 5447l111 252-134-393z" color="#277f8e"/>
<path d="M9667 5158l125 82-18-117z" color="#218f8d"/>
<path d="M10975 4550l-19-9-119 144z" color="#25ac82"/>
<path d="M10195 5476l120-63-18-62z" color="#26828e"/>
<path d="M12634 4856l112 294-137-309z" color="#1f9a8a"/>
<path d="M9953 5499l122 9-18-83z" color="#27808e"/>
<path d="M10435 5322l-18-50-120 79z" color="#23888e"/>
<path d="M9667 5158l107-35-125-84z" color="#20928c"/>
<path d="M11495 3730l121-80-143 70z" color="#7cd250"/>
<path d="M10856 4707l119-157-138 135z" color="#24aa83"/>
<path d="M11075 4383l100-160-119 159z" color="#38b977"/>
<path d="M9340 4467l108-27-127-100z" color="#31b57b"/>
<path d="M12840 5608l89 91-111-252z" color="#297b8e"/>
<path d="M11879 3745l119 138-141-173z" color="#73d056"/>
<path d="M11275 4042l120-167-21-12z" color="#60ca60"/>
<path d="M9504 4818l126 98-145-222z" color="#1fa287"/>
<path d="M12187 4113l117 219-25-5z" color="#3fbc73"/>
<path d="M10315 5413l120-91-138 29z" color="#24868e"/>
<path d="M9953 5499l-19-93-123-54z" color="#25838e"/>
<path d="M9485 4694l-18-126-127-101z" color="#27ad81"/>
<path d="M11616 3650l121-11-23-26z" color="#86d549"/>
<path d="M12660 4900l111 306-25-56z" color="#1f948c"/>
<path d="M10435 5322l101-153-119 103z" color="#228c8d"/>
<path d="M9811 5352l-19-112-125-82z" color="#228d8d"/>
<path d="M10875 4726l-19-19-119 139z" color="#21a585"/>
<path d="M9522 4940l127 99-19-123z" color="#1e9b8a"/>
<path d="M9176 4113l127 98-146-227z" color="#50c46a"/>
<path d="M10536 5169l119-124-19-36z" color="#1f958b"/>
<path d="M12187 4113l92 214-116-220z" color="#48c16e"/>
<path d="M10092 5576l103-100-120 32z" color="#27808e"/>
<path d="M9194 4241l127 99-18-129z" color="#40bd72"/>
<path d="M10756 4877l119-151-138 120z" color="#20a386"/>
<path d="M11175 4223l121-175-21-6z" color="#52c569"/>
<path d="M12469 4573l-25 2-115-242z" color="#2eb37c"/>
<path d="M9522 4940l108-24-126-98z" color="#1fa088"/>
<path d="M10975 4550l100-167-119 158z" color="#2eb37c"/>
<path d="M10092 5576l-17-68-122-9z" color="#27808e"/>
<path d="M11516 3745l-21-15-121 133z" color="#77d153"/>
<path d="M10333 5463l-18-50-120 63z" color="#25848e"/>
<path d="M9194 4241l109-30-127-98z" color="#4ac16d"/>
<path d="M9829 5453l124 46-142-147z" color="#25858e"/>
<path d="M12045 3921l118 186-24-13z" color="#5ac864"/>
<path d="M9667 5158l-18-119-127-99z" color="#1f998a"/>
<path d="M11759 3672l98 38-120-71z" color="#86d549"/>
<path d="M9358 4592l127 102-145-227z" color="#29af7f"/>
<path d="M10774 4903l-18-26-120 132z" color="#1f9f88"/>
<path d="M11395 3875l121-130-142 118z" color="#75d054"/>
<path d="M12045 3921l94 173-118-187z" color="#63cb5f"/>
<path d="M9340 4467l-19-127-127-99z" color="#3bbb75"/>
<path d="M10092 5576l121-40-18-60z" color="#26818e"/>
<path d="M12660 4900l86 250-112-294z" color="#1e9d89"/>
<path d="M9686 5272l125 80-144-194z" color="#218f8d"/>
<path d="M11759 3672l120 73-22-35z" color="#84d44b"/>
<path d="M12795 5306l-24-100-111-306z" color="#1f958b"/>
<path d="M10435 5322l119-114-18-39z" color="#21918c"/>
<path d="M10333 5463l102-141-120 91z" color="#23888e"/>
<path d="M9377 4713l127 105-19-124z" color="#23a983"/>
<path d="M10655 5045l119-142-138 106z" color="#1e9d89"/>
<path d="M10213 5536l120-73-138 13z" color="#25838e"/>
<path d="M11902 3769l119 138-23-24z" color="#73d056"/>
<path d="M11075 4383l120-170-20 10z" color="#44bf70"/>
<path d="M11902 3769l96 114-119-138z" color="#7ad151"/>
<path d="M10875 4726l100-176-119 157z" color="#26ad81"/>
<path d="M11516 3745l100-95-121 80z" color="#86d549"/>
<path d="M9970 5579l122-3-139-77z" color="#26818e"/>
<path d="M12495 4571l114 270-140-268z" color="#26ad81"/>
<path d="M11759 3672l-22-33-121 11z" color="#8ed645"/>
<path d="M9377 4713l108-19-127-102z" color="#27ad81"/>
<path d="M11417 3877l-22-2-120 167z" color="#6ccd5a"/>
<path d="M12329 4333l-25-1-117-219z" color="#48c16e"/>
<path d="M9847 5546l106-47-124-46z" color="#25848e"/>
<path d="M9704 5380l125 73-18-101z" color="#23898e"/>
<path d="M10674 5074l-19-29-119 124z" color="#1f988b"/>
<path d="M9847 5546l123 33-17-80z" color="#26828e"/>
<path d="M9704 5380l107-28-125-80z" color="#228d8d"/>
<path d="M9522 4940l-18-122-127-105z" color="#21a685"/>
<path d="M11296 4048l121-171-142 165z" color="#65cb5e"/>
<path d="M9541 5059l126 99-145-218z" color="#1e9b8a"/>
<path d="M9213 4367l127 100-146-226z" color="#3fbc73"/>
<path d="M10774 4903l101-177-119 151z" color="#21a685"/>
<path d="M10554 5208l120-134-138 95z" color="#1f968b"/>
<path d="M10975 4550l120-175-20 8z" color="#38b977"/>
<path d="M10333 5463l120-100-18-41z" color="#228b8d"/>
<path d="M9231 4490l127 102-18-125z" color="#32b67a"/>
<path d="M9559 5174l127 98-19-114z" color="#1f948c"/>
<path d="M10231 5588l-18-52-121 40z" color="#26828e"/>
<path d="M11516 3745l122-72-22-23z" color="#8ed645"/>
<path d="M11638 3673l121-1-143-22z" color="#93d741"/>
<path d="M12705 5164l113 283-23-141z" color="#21908d"/>
<path d="M11316 4028l-20 20-121 175z" color="#5cc863"/>
<path d="M9988 5654l104-78-122 3z" color="#26818e"/>
<path d="M12187 4113l-24-6-118-186z" color="#63cb5f"/>
<path d="M9559 5174l108-16-126-99z" color="#1f998a"/>
<path d="M10231 5588l102-125-120 73z" color="#25858e"/>
<path d="M9231 4490l109-23-127-100z" color="#3aba76"/>
<path d="M9847 5546l-18-93-125-73z" color="#23888e"/>
<path d="M12521 4573l113 283-25-15z" color="#25ac82"/>
<path d="M11902 3769l-23-24-120-73z" color="#8bd646"/>
<path d="M11195 4213l121-185-141 195z" color="#58c765"/>
<path d="M10573 5238l-19-30-119 114z" color="#20928c"/>
<path d="M11417 3877l99-132-121 130z" color="#7fd34e"/>
<path d="M10674 5074l100-171-119 142z" color="#1fa088"/>
<path d="M12840 5608l-22-161-113-283z" color="#228c8d"/>
<path d="M12354 4332l115 241-140-240z" color="#3dbc74"/>
<path d="M10875 4726l120-169-20-7z" color="#2eb37c"/>
<path d="M9395 4833l127 107-145-227z" color="#22a884"/>
<path d="M9377 4713l-19-121-127-102z" color="#2fb47c"/>
<path d="M12045 3921l-24-14-119-138z" color="#7ad151"/>
<path d="M10110 5638l121-50-139-12z" color="#26828e"/>
<path d="M9988 5654l122-16-18-62z" color="#26828e"/>
<path d="M9988 5654l-18-75-123-33z" color="#26828e"/>
<path d="M10453 5363l120-125-138 84z" color="#20928c"/>
<path d="M9704 5380l-18-108-127-98z" color="#20928c"/>
<path d="M9413 4952l128 107-19-119z" color="#1fa187"/>
<path d="M12521 4573l88 268-114-270z" color="#2cb17e"/>
<path d="M12683 4997l112 309-135-406z" color="#1f9e89"/>
<path d="M11216 4184l-21 29-120 170z" color="#50c46a"/>
<path d="M10774 4903l120-160-19-17z" color="#25ac82"/>
<path d="M10231 5588l120-82-18-43z" color="#23888e"/>
<path d="M9413 4952l109-12-127-107z" color="#21a685"/>
<path d="M10573 5238l101-164-120 134z" color="#1f998a"/>
<path d="M9722 5482l125 64-143-166z" color="#228b8d"/>
<path d="M11095 4375l121-191-141 199z" color="#4cc26c"/>
<path d="M10471 5395l-18-32-120 100z" color="#218e8d"/>
<path d="M11316 4028l101-151-121 171z" color="#70cf57"/>
<path d="M9865 5633l123 21-141-108z" color="#25848e"/>
<path d="M12212 4115l117 218-142-220z" color="#5ac864"/>
<path d="M12705 5164l90 142-112-309z" color="#1e9b8a"/>
<path d="M9249 4609l128 104-146-223z" color="#32b67a"/>
<path d="M9559 5174l-18-115-128-107z" color="#1fa088"/>
<path d="M11781 3693l121 76-143-97z" color="#95d840"/>
<path d="M11660 3687l-22-14-122 72z" color="#98d83e"/>
<path d="M11660 3687l99-15-121 1z" color="#9bd93c"/>
<path d="M11115 4370l-20 5-120 175z" color="#42be71"/>
<path d="M9578 5286l126 94-145-206z" color="#1f958b"/>
<path d="M11417 3877l121-128-22-4z" color="#8ed645"/>
<path d="M10674 5074l119-152-19-19z" color="#21a585"/>
<path d="M10351 5506l120-111-138 68z" color="#228d8d"/>
<path d="M12660 4900l-26-44-113-283z" color="#28ae80"/>
<path d="M12726 5377l114 231-135-444z" color="#21918c"/>
<path d="M10995 4557l120-187-140 180z" color="#3dbc74"/>
<path d="M12379 4331l116 240-26 2z" color="#3dbc74"/>
<path d="M10128 5695l103-107-121 50z" color="#25838e"/>
<path d="M10128 5695l-18-57-122 16z" color="#26828e"/>
<path d="M9267 4726l128 107-18-120z" color="#29af7f"/>
<path d="M9740 5581l107-35-125-64z" color="#23898e"/>
<path d="M12069 3925l118 188-142-192z" color="#75d054"/>
<path d="M9740 5581l125 52-18-87z" color="#24878e"/>
<path d="M10471 5395l102-157-120 125z" color="#20938c"/>
<path d="M11015 4568l-20-11-120 169z" color="#34b679"/>
<path d="M11925 3780l120 141-143-152z" color="#8bd646"/>
<path d="M9267 4726l110-13-128-104z" color="#2fb47c"/>
<path d="M12379 4331l90 242-115-241z" color="#46c06f"/>
<path d="M11660 3687l121 6-22-21z" color="#a0da39"/>
<path d="M9596 5394l126 88-18-102z" color="#21908d"/>
<path d="M11538 3749l122-62-144 58z" color="#98d83e"/>
<path d="M11216 4184l100-156-121 185z" color="#65cb5e"/>
<path d="M10894 4743l121-175-140 158z" color="#2fb47c"/>
<path d="M9883 5715l105-61-123-21z" color="#25838e"/>
<path d="M9596 5394l108-14-126-94z" color="#20938c"/>
<path d="M10573 5238l119-144-18-20z" color="#1f9f88"/>
<path d="M10006 5723l122-28-140-41z" color="#26828e"/>
<path d="M9413 4952l-18-119-128-107z" color="#26ad81"/>
<path d="M9432 5068l127 106-146-222z" color="#1fa287"/>
<path d="M10369 5541l-18-35-120 82z" color="#238a8d"/>
<path d="M10128 5695l121-62-18-45z" color="#25858e"/>
<path d="M10914 4756l-20-13-120 160z" color="#29af7f"/>
<path d="M9883 5715l123 8-18-69z" color="#25838e"/>
<path d="M12236 4119l118 213-25 1z" color="#5ac864"/>
<path d="M10793 4922l121-166-140 147z" color="#26ad81"/>
<path d="M9450 5180l128 106-19-112z" color="#1e9c89"/>
<path d="M11316 4028l122-176-21 25z" color="#84d44b"/>
<path d="M10249 5633l120-92-138 47z" color="#23898e"/>
<path d="M11115 4370l101-186-121 191z" color="#56c667"/>
<path d="M9883 5715l-18-82-125-52z" color="#24878e"/>
<path d="M9740 5581l-18-99-126-88z" color="#218f8d"/>
<path d="M12236 4119l93 214-117-218z" color="#63cb5f"/>
<path d="M10369 5541l102-146-120 111z" color="#218f8d"/>
<path d="M11804 3698l98 71-121-76z" color="#a0da39"/>
<path d="M9450 5180l109-6-127-106z" color="#1fa188"/>
<path d="M10471 5395l120-134-18-23z" color="#1f988b"/>
<path d="M10813 4934l-20-12-119 152z" color="#23a983"/>
<path d="M11804 3698l121 82-23-11z" color="#9dd93b"/>
<path d="M9285 4845l128 107-146-226z" color="#29af7f"/>
<path d="M11560 3732l-22 17-121 128z" color="#9bd93c"/>
<path d="M11015 4568l100-198-120 187z" color="#44bf70"/>
<path d="M12521 4573l-26-2-116-240z" color="#46c06f"/>
<path d="M10692 5094l121-160-139 140z" color="#21a685"/>
<path d="M12093 3927l119 188-25-2z" color="#77d153"/>
<path d="M10023 5786l105-91-122 28z" color="#25838e"/>
<path d="M9596 5394l-18-108-128-106z" color="#1f9a8a"/>
<path d="M12093 3927l94 186-118-188z" color="#81d34d"/>
<path d="M11949 3780l96 141-120-141z" color="#95d840"/>
<path d="M11804 3698l-23-5-121-6z" color="#a8db34"/>
<path d="M9303 4960l129 108-19-116z" color="#23a983"/>
<path d="M10023 5786l-17-63-123-8z" color="#25848e"/>
<path d="M11949 3780l120 145-24-4z" color="#90d743"/>
<path d="M9758 5676l125 39-143-134z" color="#23888e"/>
<path d="M10914 4756l101-188-121 175z" color="#35b779"/>
<path d="M10266 5671l-17-38-121 62z" color="#23888e"/>
<path d="M11216 4184l121-200-21 44z" color="#77d153"/>
<path d="M11438 3852l122-120-143 145z" color="#98d83e"/>
<path d="M9614 5502l126 79-144-187z" color="#21918c"/>
<path d="M11560 3732l100-45-122 62z" color="#a5db36"/>
<path d="M12546 4593l114 307-139-327z" color="#37b878"/>
<path d="M10711 5107l-19-13-119 144z" color="#1fa287"/>
<path d="M9303 4960l110-8-128-107z" color="#27ad81"/>
<path d="M12571 4659l112 338-23-97z" color="#2cb17e"/>
<path d="M10369 5541l120-119-18-27z" color="#20938c"/>
<path d="M12611 5148l115 229-21-213z" color="#1f9f88"/>
<path d="M10023 5786l122-40-17-51z" color="#25858e"/>
<path d="M10591 5261l120-154-138 131z" color="#1fa088"/>
<path d="M10266 5671l103-130-120 92z" color="#228c8d"/>
<path d="M10145 5746l121-75-138 24z" color="#23888e"/>
<path d="M10813 4934l101-178-121 166z" color="#2ab07f"/>
<path d="M9450 5180l-18-112-129-108z" color="#22a785"/>
<path d="M12379 4331l-25 1-118-213z" color="#65cb5e"/>
<path d="M9900 5789l123-3-140-71z" color="#25858e"/>
<path d="M11115 4370l121-203-20 17z" color="#67cc5c"/>
<path d="M9468 5290l128 104-146-214z" color="#1e9d89"/>
<path d="M9632 5608l126 68-18-95z" color="#228c8d"/>
<path d="M12705 5164l-22-167-112-338z" color="#27ad81"/>
<path d="M9632 5608l108-27-126-79z" color="#21908d"/>
<path d="M9776 5763l107-48-125-39z" color="#23888e"/>
<path d="M11682 3681l122 17-144-11z" color="#b2dd2d"/>
<path d="M10609 5278l-18-17-120 134z" color="#1e9c89"/>
<path d="M11459 3806l-21 46-122 176z" color="#95d840"/>
<path d="M11015 4568l120-192-20-6z" color="#54c568"/>
<path d="M9776 5763l124 26-17-74z" color="#24868e"/>
<path d="M11560 3732l122-51-22 6z" color="#b0dd2f"/>
<path d="M11949 3780l-24 0-121-82z" color="#aadc32"/>
<path d="M9486 5403l128 99-18-108z" color="#1f978b"/>
<path d="M10489 5422l120-144-138 117z" color="#1f9a8a"/>
<path d="M10711 5107l102-173-121 160z" color="#24aa83"/>
<path d="M12236 4119l-24-4-119-188z" color="#81d34d"/>
<path d="M12571 4659l89 241-114-307z" color="#3aba76"/>
<path d="M10914 4756l120-178-19-10z" color="#40bd72"/>
<path d="M11337 3984l122-178-143 222z" color="#93d741"/>
<path d="M9486 5403l110-9-128-104z" color="#1e9b8a"/>
<path d="M10266 5671l121-102-18-28z" color="#21908d"/>
<path d="M9321 5071l129 109-147-220z" color="#24aa83"/>
<path d="M12093 3927l-24-2-120-145z" color="#9bd93c"/>
<path d="M10163 5787l-18-41-122 40z" color="#24878e"/>
<path d="M9776 5763l-18-87-126-68z" color="#228c8d"/>
<path d="M12404 4329l117 244-142-242z" color="#5ac864"/>
<path d="M9917 5849l106-63-123 3z" color="#24868e"/>
<path d="M10507 5443l-18-21-120 119z" color="#1f978b"/>
<path d="M10163 5787l103-116-121 75z" color="#238a8d"/>
<path d="M10609 5278l102-171-120 154z" color="#20a386"/>
<path d="M9632 5608l-18-106-128-99z" color="#1f958b"/>
<path d="M10813 4934l120-173-19-5z" color="#34b679"/>
<path d="M12611 5148l94 16-113-313z" color="#25ac82"/>
<path d="M9339 5181l129 109-18-110z" color="#20a386"/>
<path d="M11358 3959l-21 25-121 200z" color="#89d548"/>
<path d="M11459 3806l101-74-122 120z" color="#aadc32"/>
<path d="M10387 5569l120-126-138 98z" color="#1f958b"/>
<path d="M9917 5849l-17-60-124-26z" color="#24878e"/>
<path d="M11236 4167l122-208-142 225z" color="#81d34d"/>
<path d="M10041 5837l122-50-140-1z" color="#24878e"/>
<path d="M9917 5849l124-12-18-51z" color="#24868e"/>
<path d="M9339 5181l111-1-129-109z" color="#22a884"/>
<path d="M11257 4169l-21-2-121 203z" color="#73d056"/>
<path d="M12592 4851l113 313-134-505z" color="#31b57b"/>
<path d="M11135 4376l122-207-142 201z" color="#6ccd5a"/>
<path d="M9650 5709l126 54-144-155z" color="#218e8d"/>
<path d="M11827 3689l122 91-145-82z" color="#b8de29"/>
<path d="M12261 4127l118 204-143-212z" color="#7ad151"/>
<path d="M10711 5107l121-170-19-3z" color="#2ab07f"/>
<path d="M11156 4387l-21-11-120 192z" color="#5cc863"/>
<path d="M11705 3661l99 37-122-17z" color="#c0df25"/>
<path d="M9486 5403l-18-113-129-109z" color="#1fa287"/>
<path d="M10507 5443l102-165-120 144z" color="#1f9e89"/>
<path d="M11034 4578l122-191-141 181z" color="#56c667"/>
<path d="M10163 5787l121-86-18-30z" color="#228d8d"/>
<path d="M11705 3661l-23 20-122 51z" color="#c0df25"/>
<path d="M9504 5514l128 94-146-205z" color="#1f988b"/>
<path d="M12430 4330l116 263-25-20z" color="#58c765"/>
<path d="M10405 5591l-18-22-121 102z" color="#20938c"/>
<path d="M9793 5834l124 15-141-86z" color="#23898e"/>
<path d="M11054 4579l-20-1-120 178z" color="#4ac16d"/>
<path d="M12117 3934l119 185-143-192z" color="#98d83e"/>
<path d="M11973 3776l120 151-144-147z" color="#b0dd2f"/>
<path d="M10933 4761l121-182-140 177z" color="#44bf70"/>
<path d="M10609 5278l121-165-19-6z" color="#24aa83"/>
<path d="M11705 3661l122 28-23 9z" color="#c5e021"/>
<path d="M10284 5701l121-110-139 80z" color="#20928c"/>
<path d="M12430 4330l91 243-117-244z" color="#65cb5e"/>
<path d="M11459 3806l123-107-22 33z" color="#bade28"/>
<path d="M9668 5794l108-31-126-54z" color="#228d8d"/>
<path d="M11358 3959l101-153-122 178z" color="#a5db36"/>
<path d="M9523 5622l127 87-18-101z" color="#20928c"/>
<path d="M9668 5794l125 40-17-71z" color="#228c8d"/>
<path d="M9523 5622l109-14-128-94z" color="#1f968b"/>
<path d="M10953 4756l-20 5-120 173z" color="#3bbb75"/>
<path d="M10405 5591l102-148-120 126z" color="#1f998a"/>
<path d="M9357 5295l129 108-147-222z" color="#20a486"/>
<path d="M11582 3699l123-38-145 71z" color="#c5e021"/>
<path d="M10832 4937l121-181-140 178z" color="#38b977"/>
<path d="M12286 4139l118 190-25 2z" color="#7ad151"/>
<path d="M11257 4169l101-210-122 208z" color="#90d743"/>
<path d="M10507 5443l121-150-19-15z" color="#20a386"/>
<path d="M12286 4139l93 192-118-204z" color="#84d44b"/>
<path d="M9375 5405l129 109-18-111z" color="#1f9f88"/>
<path d="M11156 4387l101-218-122 207z" color="#75d054"/>
<path d="M12571 4659l-25-66-116-263z" color="#5cc863"/>
<path d="M11851 3675l98 105-122-91z" color="#c8e020"/>
<path d="M10851 4932l-19 5-121 170z" color="#31b57b"/>
<path d="M9668 5794l-18-85-127-87z" color="#20928c"/>
<path d="M11054 4579l102-192-122 191z" color="#5ec962"/>
<path d="M9375 5405l111-2-129-108z" color="#20a386"/>
<path d="M12141 3951l120 176-25-8z" color="#98d83e"/>
<path d="M10730 5113l121-181-140 175z" color="#2db27d"/>
<path d="M11851 3675l122 101-24 4z" color="#c5e021"/>
<path d="M12141 3951l95 168-119-185z" color="#a2da37"/>
<path d="M9523 5622l-19-108-129-109z" color="#1e9d89"/>
<path d="M11996 3780l121 154-24-7z" color="#b5de2b"/>
<path d="M11996 3780l97 147-120-151z" color="#bade28"/>
<path d="M10405 5591l120-131-18-17z" color="#1f9e89"/>
<path d="M10953 4756l101-177-121 182z" color="#4ec36b"/>
<path d="M12611 5148l-19-297-115-286z" color="#3fbc73"/>
<path d="M10749 5117l-19-4-121 165z" color="#27ad81"/>
<path d="M11358 3959l123-178-22 25z" color="#b8de29"/>
<path d="M11851 3675l-24 14-122-28z" color="#d2e21b"/>
<path d="M10628 5293l121-176-140 161z" color="#25ac82"/>
<path d="M11605 3674l-23 25-123 107z" color="#cde11d"/>
<path d="M9540 5721l128 73-145-172z" color="#1f948c"/>
<path d="M12477 4565l115 286-21-192z" color="#52c569"/>
<path d="M11257 4169l123-209-22-1z" color="#a5db36"/>
<path d="M10851 4932l102-176-121 181z" color="#40bd72"/>
<path d="M10646 5306l-18-13-121 150z" color="#22a785"/>
<path d="M12430 4330l-26-1-118-190z" color="#84d44b"/>
<path d="M11605 3674l100-13-123 38z" color="#d5e21a"/>
<path d="M11156 4387l122-204-21-14z" color="#89d548"/>
<path d="M12495 4912l116 236-134-583z" color="#40bd72"/>
<path d="M10525 5460l121-154-139 137z" color="#21a585"/>
<path d="M9393 5506l130 116-148-217z" color="#1fa088"/>
<path d="M11481 3781l124-107-146 132z" color="#cde11d"/>
<path d="M11054 4579l123-190-21-2z" color="#70cf57"/>
<path d="M12286 4139l-25-12-120-176z" color="#a2da37"/>
<path d="M10749 5117l102-185-121 181z" color="#34b679"/>
<path d="M12455 4363l116 296-141-329z" color="#73d056"/>
<path d="M11996 3780l-23-4-122-101z" color="#d2e21b"/>
<path d="M11728 3639l123 36-146-14z" color="#dde318"/>
<path d="M12141 3951l-24-17-121-154z" color="#bddf26"/>
<path d="M10953 4756l122-189-21 12z" color="#5ec962"/>
<path d="M9410 5595l130 126-17-99z" color="#1e9b8a"/>
<path d="M11605 3674l123-35-23 22z" color="#dfe318"/>
<path d="M11503 3781l-22 0-123 178z" color="#c8e020"/>
<path d="M10646 5306l103-189-121 176z" color="#29af7f"/>
<path d="M9410 5595l113 27-130-116z" color="#1fa088"/>
<path d="M12477 4565l94 94-116-296z" color="#6ccd5a"/>
<path d="M11380 3960l123-179-145 178z" color="#c0df25"/>
<path d="M10851 4932l121-191-19 15z" color="#50c46a"/>
<path d="M11401 3968l-21-8-123 209z" color="#b0dd2f"/>
<path d="M11278 4183l123-215-144 201z" color="#a5db36"/>
<path d="M11299 4189l-21-6-122 204z" color="#93d741"/>
<path d="M11177 4389l122-200-143 198z" color="#89d548"/>
<path d="M12311 4149l119 181-144-191z" color="#9bd93c"/>
<path d="M11197 4370l-20 19-123 190z" color="#7cd250"/>
<path d="M11503 3781l102-107-124 107z" color="#dae319"/>
<path d="M11874 3669l122 111-145-105z" color="#dfe318"/>
<path d="M12165 3978l121 161-145-188z" color="#b5de2b"/>
<path d="M10749 5117l121-193-19 8z" color="#40bd72"/>
<path d="M11075 4567l122-197-143 209z" color="#77d153"/>
<path d="M12020 3799l121 152-145-171z" color="#d0e11c"/>
<path d="M11751 3628l100 47-123-36z" color="#ece51b"/>
<path d="M12378 4646l117 266-18-347z" color="#60ca60"/>
<path d="M10646 5306l122-185-19-4z" color="#32b67a"/>
<path d="M11095 4544l-20 23-122 189z" color="#6ccd5a"/>
<path d="M11751 3628l-23 11-123 35z" color="#ece51b"/>
<path d="M10972 4741l123-197-142 212z" color="#65cb5e"/>
<path d="M12335 4192l120 171-25-33z" color="#95d840"/>
<path d="M11401 3968l102-187-123 179z" color="#cde11d"/>
<path d="M11751 3628l123 41-23 6z" color="#efe51c"/>
<path d="M11299 4189l102-221-123 215z" color="#b0dd2f"/>
<path d="M12335 4192l95 138-119-181z" color="#a2da37"/>
<path d="M11503 3781l124-114-22 7z" color="#eae51a"/>
<path d="M10992 4723l-20 18-121 191z" color="#5ac864"/>
<path d="M11197 4370l102-181-122 200z" color="#98d83e"/>
<path d="M12190 3999l121 150-25-10z" color="#b5de2b"/>
<path d="M12190 3999l96 140-121-161z" color="#bddf26"/>
<path d="M10870 4924l122-201-141 209z" color="#56c667"/>
<path d="M12477 4565l-22-202-120-171z" color="#90d743"/>
<path d="M11627 3667l124-39-146 46z" color="#f1e51d"/>
<path d="M12044 3825l121 153-24-27z" color="#d0e11c"/>
<path d="M12044 3825l97 126-121-152z" color="#dae319"/>
<path d="M10889 4920l-19 4-121 193z" color="#4ac16d"/>
<path d="M10768 5121l121-201-140 197z" color="#44bf70"/>
<path d="M11095 4544l102-174-122 197z" color="#84d44b"/>
<path d="M11899 3684l97 96-122-111 23 13z" color="#f1e51d"/>
<path d="M12378 4646l99-81-119-196z" color="#81d34d"/>
<path d="M11901 3685l119 114-24-19-97-96z" color="#ece51b"/>
<path d="M11401 3968l124-185-22-2z" color="#dfe318"/>
<path d="M12358 4369l119 196-142-373z" color="#98d83e"/>
<path d="M11753 3628l-2 0-14 5z" color="#fde725"/>
<path d="M10992 4723l103-179-123 197z" color="#73d056"/>
<path d="M11299 4189l124-226-22 5z" color="#c8e020"/>
<path d="M11897 3682l-23-13-123-41 103 38z" color="#f8e621"/>
<path d="M11737 3633l14-5-124 39 10 1z" color="#fbe723"/>
<path d="M11637 3668l-10-1-124 114 110-84z" color="#f4e61e"/>
<path d="M11854 3666l-103-38 2 0z" color="#fde725"/>
<path d="M12335 4192l-24-43-121-150z" color="#bddf26"/>
<path d="M11197 4370l124-209-22 28z" color="#addc30"/>
<path d="M12190 3999l-25-21-121-153z" color="#d8e219"/>
<path d="M10889 4920l103-197-122 201z" color="#60ca60"/>
<path d="M12044 3825l-24-26-119-114 3 3z" color="#f4e61e"/>
<path d="M11525 3783l70-63 18-23-110 84z" color="#f4e61e"/>
<path d="M11650 3714l124-14-21-72-16 5z" color="#fde725"/>
<path d="M11774 3700l124-14-44-20-101-38z" color="#fde725"/>
<path d="M11650 3714l87-81-100 35z" color="#fde725"/>
<path d="M11898 3686l-1-4-43-16z" color="#fde725"/>
<path d="M11898 3686l1-2-2-2z" color="#fde725"/>
<path d="M11095 4544l123-205-21 31z" color="#9bd93c"/>
<path d="M11898 3686l3-1-2-1z" color="#fde725"/>
<path d="M11901 3685l-3 1 6 2z" color="#fde725"/>
<path d="M11650 3714l-13-46-24 29z" color="#fde725"/>
<path d="M11595 3720l55-6-37-17z" color="#fde725"/>
<path d="M11540 3778l-15 5-124 185 129-169z" color="#efe51c"/>
<path d="M11975 3759l69 66-140-137z" color="#f8e621"/>
<path d="M12378 4646l-20-277-120-218z" color="#a2da37"/>
<path d="M12215 4026l120 166-145-193z" color="#d0e11c"/>
<path d="M10992 4723l123-205-20 26z" color="#89d548"/>
<path d="M11797 3779l101-93-124 14z" color="#fde725"/>
<path d="M11921 3765l54-6-71-71-6-2z" color="#fde725"/>
<path d="M11445 3939l-22 24-124 226z" color="#d5e21a"/>
<path d="M11423 3963l102-153 5-11-129 169z" color="#eae51a"/>
<path d="M11595 3720l-70 63 15-5z" color="#f8e621"/>
<path d="M11797 3779l-23-79-124 14z" color="#fde725"/>
<path d="M12238 4151l120 218-23-177z" color="#bade28"/>
<path d="M11321 4161l124-222-146 250z" color="#cde11d"/>
<path d="M12068 3836l122 163-146-174z" color="#eae51a"/>
<path d="M11797 3779l124-14-23-79z" color="#fde725"/>
<path d="M10889 4920l123-209-20 12z" color="#75d054"/>
<path d="M12008 3785l36 40-69-66z" color="#f8e621"/>
<path d="M11548 3807l102-93-55 6-55 58z" color="#fde725"/>
<path d="M11342 4125l-21 36-124 209z" color="#c0df25"/>
<path d="M11672 3793l125-14-147-65z" color="#fde725"/>
<path d="M11218 4339l124-214-145 245z" color="#bade28"/>
<path d="M11548 3807l124-14-22-79z" color="#fde725"/>
<path d="M12238 4151l97 41-120-166z" color="#d0e11c"/>
<path d="M12260 4343l118 303-140-495z" color="#addc30"/>
<path d="M12063 3831l5 5-24-11-36-40z" color="#f8e621"/>
<path d="M11944 3845l64-60-33-26-54 6z" color="#fde725"/>
<path d="M11239 4302l-21 37-123 205z" color="#addc30"/>
<path d="M11548 3807l-8-29-10 21z" color="#fde725"/>
<path d="M11944 3845l-23-80-124 14z" color="#fde725"/>
<path d="M11115 4518l124-216-144 242z" color="#a5db36"/>
<path d="M11525 3810l23-3-18-8z" color="#fde725"/>
<path d="M12117 3888l73 111-122-163 2 2z" color="#f4e61e"/>
<path d="M11445 3939l56-89 24-40-102 153z" color="#f4e61e"/>
<path d="M11695 3873l102-94-125 14z" color="#fde725"/>
<path d="M11944 3845l119-14-55-46z" color="#fde725"/>
<path d="M11136 4501l-21 17-123 205z" color="#98d83e"/>
<path d="M12131 3906l84 120-25-27-73-111z" color="#ece51b"/>
<path d="M11501 3850l47-43-23 3z" color="#fde725"/>
<path d="M11695 3873l-23-80-124 14z" color="#fde725"/>
<path d="M11819 3859l125-14-147-66z" color="#fde725"/>
<path d="M11012 4711l124-210-144 222z" color="#90d743"/>
<path d="M12070 3838l-2-2-5-5z" color="#fde725"/>
<path d="M11695 3873l124-14-22-80z" color="#fde725"/>
<path d="M11342 4125l103-186-124 222z" color="#dfe318"/>
<path d="M11570 3887l125-14-147-66z" color="#fde725"/>
<path d="M12092 3911l-22-73-7-7-119 14z" color="#fde725"/>
<path d="M11474 3898l96-11-22-80-47 43z" color="#fde725"/>
<path d="M12238 4151l-23-125-84-120-1 22z" color="#ece51b"/>
<path d="M11445 3939l29-41 27-48z" color="#fbe723"/>
<path d="M11239 4302l103-177-124 214z" color="#cae11f"/>
<path d="M12092 3911l25-23-47-50z" color="#fde725"/>
<path d="M11842 3939l102-94-125 14z" color="#fde725"/>
<path d="M11842 3939l-23-80-124 14z" color="#fde725"/>
<path d="M11967 3925l125-14-148-66z" color="#fde725"/>
<path d="M11474 3898l-29 41 21-28z" color="#fbe723"/>
<path d="M12092 3911l39-5-14-18z" color="#fde725"/>
<path d="M11842 3939l125-14-23-80z" color="#fde725"/>
<path d="M11466 3911l-21 28 7-10z" color="#fbe723"/>
<path d="M11136 4501l103-199-124 216z" color="#b8de29"/>
<path d="M11592 3967l103-94-125 14z" color="#fde725"/>
<path d="M12131 3906l-39 5 38 17z" color="#fde725"/>
<path d="M11592 3967l-22-80-96 11-8 13z" color="#fde725"/>
<path d="M11717 3953l125-14-147-66z" color="#fde725"/>
<path d="M12147 3988l91 163-108-223z" color="#f1e51d"/>
<path d="M11342 4125l80-138 30-58-7 10z" color="#f4e61e"/>
<path d="M12139 4084l121 259-22-192z" color="#dae319"/>
<path d="M11592 3967l125-14-22-80z" color="#fde725"/>
<path d="M11991 4005l101-94-125 14z" color="#fde725"/>
<path d="M11467 3982l125-15-126-56-14 18z" color="#fde725"/>
<path d="M12116 3991l31-3-17-60-38-17z" color="#fde725"/>
<path d="M11991 4005l-24-80-125 14z" color="#fde725"/>
<path d="M11422 3987l45-5-15-53z" color="#fde725"/>
<path d="M11991 4005l125-14-24-80z" color="#fde725"/>
<path d="M11422 3987l-80 138 57-103z" color="#f4e61e"/>
<path d="M11740 4034l102-95-125 14z" color="#fde725"/>
<path d="M11740 4034l-23-81-125 14z" color="#fde725"/>
<path d="M11865 4020l126-15-149-66z" color="#fde725"/>
<path d="M12139 4084l99 67-91-163-12 70z" color="#f4e61e"/>
<path d="M11740 4034l125-14-23-81z" color="#fde725"/>
<path d="M11239 4302l124-225 1 0-22 48z" color="#ece51b"/>
<path d="M11399 4022l-57 103 22-48z" color="#f4e61e"/>
<path d="M11136 4501l124-226-21 27z" color="#d0e11c"/>
<path d="M11489 4062l103-95-125 15z" color="#fde725"/>
<path d="M12147 3988l-31 3 19 67z" color="#fde725"/>
<path d="M11489 4062l-22-80-45 5-23 35z" color="#fde725"/>
<path d="M11615 4048l125-14-148-67z" color="#fde725"/>
<path d="M11489 4062l126-14-23-81z" color="#fde725"/>
<path d="M12135 4058l-19-67-125 14 142 64z" color="#fde725"/>
<path d="M11889 4101l102-96-126 15z" color="#fde725"/>
<path d="M11363 4077l-124 225 91-169z" color="#efe51c"/>
<path d="M11889 4101l-24-81-125 14z" color="#fde725"/>
<path d="M12014 4086l120-13-1-4-142-64z" color="#fde725"/>
<path d="M11364 4077l125-15-90-40-35 55z" color="#fde725"/>
<path d="M12139 4084l-4-26-2 11z" color="#fde725"/>
<path d="M11889 4101l125-15-23-81z" color="#fde725"/>
<path d="M12134 4073l5 11-6-15z" color="#fde725"/>
<path d="M11637 4129l103-95-125 14z" color="#fde725"/>
<path d="M11363 4077l1 0 0 0z" color="#fde725"/>
<path d="M11637 4129l-22-81-126 14z" color="#fde725"/>
<path d="M11763 4115l126-14-149-67z" color="#fde725"/>
<path d="M11260 4275l56-109 14-33-91 169z" color="#ece51b"/>
<path d="M11637 4129l126-14-23-81z" color="#fde725"/>
<path d="M11386 4158l103-96-125 15z" color="#fde725"/>
<path d="M11386 4158l-22-81-1 0-33 56z" color="#fde725"/>
<path d="M11512 4144l125-15-148-67z" color="#fde725"/>
<path d="M11386 4158l126-14-23-82z" color="#fde725"/>
<path d="M11316 4166l70-8-56-25z" color="#fde725"/>
</g>
<defs><linearGradient id="vg" x1="0" x2="1" y1="0" y2="0"><stop offset="0.0000" stop-color="#440154"/><stop offset="0.0312" stop-color="#470d60"/><stop offset="0.0625" stop-color="#48186a"/><stop offset="0.0938" stop-color="#482374"/><stop offset="0.1250" stop-color="#472d7b"/><stop offset="0.1562" stop-color="#453781"/><stop offset="0.1875" stop-color="#424086"/><stop offset="0.2188" stop-color="#3e4989"/><stop offset="0.2500" stop-color="#3b528b"/><stop offset="0.2812" stop-color="#375b8d"/><stop offset="0.3125" stop-color="#33638d"/><stop offset="0.3438" stop-color="#2f6b8e"/><stop offset="0.3750" stop-color="#2c728e"/><stop offset="0.4062" stop-color="#297a8e"/><stop offset="0.4375" stop-color="#26828e"/><stop offset="0.4688" stop-color="#23898e"/><stop offset="0.5000" stop-color="#21918c"/><stop offset="0.5312" stop-color="#1f978b"/><stop offset="0.5625" stop-color="#1f9f88"/><stop offset="0.5938" stop-color="#21a685"/><stop offset="0.6250" stop-color="#27ad81"/><stop offset="0.6562" stop-color="#31b57b"/><stop offset="0.6875" stop-color="#3dbc74"/><stop offset="0.7188" stop-color="#4cc26c"/><stop offset="0.7500" stop-color="#5cc863"/><stop offset="0.7812" stop-color="#6ece58"/><stop offset="0.8125" stop-color="#81d34d"/><stop offset="0.8438" stop-color="#95d840"/><stop offset="0.8750" stop-color="#aadc32"/><stop offset="0.9062" stop-color="#c0df25"/><stop offset="0.9375" stop-color="#d5e21a"/><stop offset="0.9688" stop-color="#eae51a"/><stop offset="1.0000" stop-color="#fde725"/></linearGradient></defs>
<rect x="477" y="797" width="583" height="20.7" fill="url(#vg)" fill-opacity="0.9" stroke="#000" stroke-width="1.8"/>
<line x1="534" x2="534" y1="818.6" y2="825.7" stroke="#000" stroke-width="1.8"/>
<text x="534" y="855.6" font-size="26.4" text-anchor="middle">−62</text>
<line x1="632.5" x2="632.5" y1="818.6" y2="825.7" stroke="#000" stroke-width="1.8"/>
<text x="632.5" y="855.6" font-size="26.4" text-anchor="middle">−61</text>
<line x1="731" x2="731" y1="818.6" y2="825.7" stroke="#000" stroke-width="1.8"/>
<text x="731" y="855.6" font-size="26.4" text-anchor="middle">−60</text>
<line x1="829.4" x2="829.4" y1="818.6" y2="825.7" stroke="#000" stroke-width="1.8"/>
<text x="829.4" y="855.6" font-size="26.4" text-anchor="middle">−59</text>
<line x1="927.9" x2="927.9" y1="818.6" y2="825.7" stroke="#000" stroke-width="1.8"/>
<text x="927.9" y="855.6" font-size="26.4" text-anchor="middle">−58</text>
<line x1="1026.4" x2="1026.4" y1="818.6" y2="825.7" stroke="#000" stroke-width="1.8"/>
<text x="1026.4" y="855.6" font-size="26.4" text-anchor="middle">−57</text>
<text x="764.5" y="890.8" font-size="26.15" text-anchor="middle">Atomization Energy [ eV ]</text>
</svg></body></html>
